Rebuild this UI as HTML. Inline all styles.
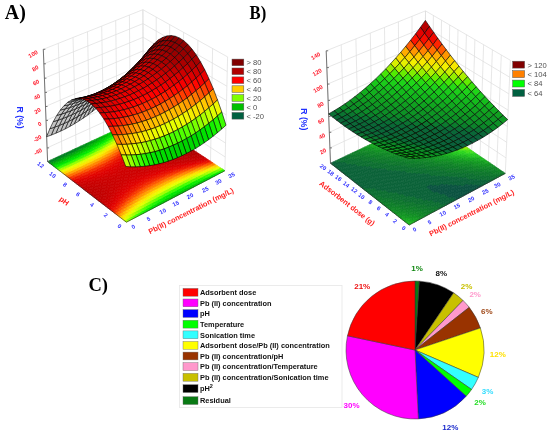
<!DOCTYPE html><html><head><meta charset="utf-8"><style>
html,body{margin:0;padding:0;background:#fff;}
svg{display:block;filter:blur(0.45px)}
</style></head><body>
<svg width="550" height="434" viewBox="0 0 550 434">
<rect width="550" height="434" fill="#fff"/>
<path d="M47.6 161.5L43.3 49.3M62 154.8L58.3 43.4M76.1 148.3L73 37.5M90 141.8L87.5 31.8M103.7 135.5L101.7 26.1M117.2 129.3L115.7 20.6M130.4 123.1L129.4 15.1M143.4 117.1L142.9 9.7M224.9 170.7L227.6 56.9M210.5 161.2L212.6 48.5M196.4 152L197.9 40.4M182.6 142.9L183.6 32.4M169.3 134.1L169.7 24.7M156.2 125.5L156.2 17.1M143.4 117.1L142.9 9.7M47.6 161.5L143.4 117.1L224.9 170.7M47.1 147.9L143.4 104.1L225.2 157M46.5 134.3L143.3 91L225.6 143.1M46 120.4L143.2 77.7L225.9 129.1M45.5 106.5L143.2 64.4L226.2 114.9M45 92.4L143.1 50.9L226.6 100.7M44.4 78.2L143.1 37.3L226.9 86.2M43.9 63.8L143 23.6L227.3 71.6M43.3 49.3L142.9 9.7L227.6 56.9" fill="none" stroke="#dcdcdc" stroke-width="0.7"/>
<g><path d="M126.4 222.2L129.3 220.7L126.9 218.9L124 220.4Z" fill="#a8ff00" stroke="#a8ff00" stroke-width="0.6"/><path d="M124 220.4L126.9 218.9L124.6 217.1L121.7 218.6Z" fill="#ecf900" stroke="#ecf900" stroke-width="0.6"/><path d="M121.7 218.6L124.6 217.1L122.2 215.3L119.3 216.8Z" fill="#ffd500" stroke="#ffd500" stroke-width="0.6"/><path d="M119.3 216.8L122.2 215.3L119.9 213.5L117 215Z" fill="#ff9a00" stroke="#ff9a00" stroke-width="0.6"/><path d="M117 215L119.9 213.5L117.6 211.7L114.7 213.2Z" fill="#ff6400" stroke="#ff6400" stroke-width="0.6"/><path d="M114.7 213.2L117.6 211.7L115.2 210L112.4 211.4Z" fill="#f43300" stroke="#f43300" stroke-width="0.6"/><path d="M112.4 211.4L115.2 210L112.9 208.2L110.1 209.7Z" fill="#e91300" stroke="#e91300" stroke-width="0.6"/><path d="M110.1 209.7L112.9 208.2L110.6 206.4L107.8 207.9Z" fill="#df0000" stroke="#df0000" stroke-width="0.6"/><path d="M107.8 207.9L110.6 206.4L108.4 204.7L105.5 206.1Z" fill="#d40000" stroke="#d40000" stroke-width="0.6"/><path d="M105.5 206.1L108.4 204.7L106.1 202.9L103.2 204.4Z" fill="#cb0000" stroke="#cb0000" stroke-width="0.6"/><path d="M103.2 204.4L106.1 202.9L103.8 201.2L101 202.7Z" fill="#c60000" stroke="#c60000" stroke-width="0.6"/><path d="M101 202.7L103.8 201.2L101.6 199.5L98.7 200.9Z" fill="#c20000" stroke="#c20000" stroke-width="0.6"/><path d="M98.7 200.9L101.6 199.5L99.3 197.8L96.5 199.2Z" fill="#bf0000" stroke="#bf0000" stroke-width="0.6"/><path d="M96.5 199.2L99.3 197.8L97.1 196L94.2 197.5Z" fill="#bd0000" stroke="#bd0000" stroke-width="0.6"/><path d="M94.2 197.5L97.1 196L94.9 194.3L92 195.8Z" fill="#bc0000" stroke="#bc0000" stroke-width="0.6"/><path d="M92 195.8L94.9 194.3L92.7 192.6L89.8 194.1Z" fill="#bb0000" stroke="#bb0000" stroke-width="0.6"/><path d="M89.8 194.1L92.7 192.6L90.5 191L87.6 192.4Z" fill="#bc0000" stroke="#bc0000" stroke-width="0.6"/><path d="M87.6 192.4L90.5 191L88.3 189.3L85.4 190.7Z" fill="#bd0000" stroke="#bd0000" stroke-width="0.6"/><path d="M85.4 190.7L88.3 189.3L86.1 187.6L83.2 189Z" fill="#bf0000" stroke="#bf0000" stroke-width="0.6"/><path d="M83.2 189L86.1 187.6L83.9 185.9L81.1 187.3Z" fill="#c20000" stroke="#c20000" stroke-width="0.6"/><path d="M81.1 187.3L83.9 185.9L81.8 184.3L78.9 185.7Z" fill="#c60000" stroke="#c60000" stroke-width="0.6"/><path d="M78.9 185.7L81.8 184.3L79.6 182.6L76.8 184Z" fill="#cb0000" stroke="#cb0000" stroke-width="0.6"/><path d="M76.8 184L79.6 182.6L77.5 181L74.6 182.3Z" fill="#d40000" stroke="#d40000" stroke-width="0.6"/><path d="M74.6 182.3L77.5 181L75.3 179.3L72.5 180.7Z" fill="#df0000" stroke="#df0000" stroke-width="0.6"/><path d="M72.5 180.7L75.3 179.3L73.2 177.7L70.4 179.1Z" fill="#e91200" stroke="#e91200" stroke-width="0.6"/><path d="M70.4 179.1L73.2 177.7L71.1 176.1L68.2 177.4Z" fill="#f43000" stroke="#f43000" stroke-width="0.6"/><path d="M68.2 177.4L71.1 176.1L69 174.4L66.1 175.8Z" fill="#ff6100" stroke="#ff6100" stroke-width="0.6"/><path d="M66.1 175.8L69 174.4L66.9 172.8L64 174.2Z" fill="#ff9700" stroke="#ff9700" stroke-width="0.6"/><path d="M64 174.2L66.9 172.8L64.8 171.2L62 172.6Z" fill="#ffd100" stroke="#ffd100" stroke-width="0.6"/><path d="M62 172.6L64.8 171.2L62.7 169.6L59.9 171Z" fill="#eef700" stroke="#eef700" stroke-width="0.6"/><path d="M59.9 171L62.7 169.6L60.6 168L57.8 169.4Z" fill="#adff00" stroke="#adff00" stroke-width="0.6"/><path d="M57.8 169.4L60.6 168L58.6 166.5L55.7 167.8Z" fill="#45ff00" stroke="#45ff00" stroke-width="0.6"/><path d="M55.7 167.8L58.6 166.5L56.5 164.9L53.7 166.2Z" fill="#00e800" stroke="#00e800" stroke-width="0.6"/><path d="M53.7 166.2L56.5 164.9L54.5 163.3L51.6 164.6Z" fill="#00c900" stroke="#00c900" stroke-width="0.6"/><path d="M51.6 164.6L54.5 163.3L52.4 161.8L49.6 163.1Z" fill="#00a70c" stroke="#00a70c" stroke-width="0.6"/><path d="M49.6 163.1L52.4 161.8L50.4 160.2L47.6 161.5Z" fill="#00831f" stroke="#00831f" stroke-width="0.6"/><path d="M129.3 220.7L132.2 219.2L129.8 217.4L126.9 218.9Z" fill="#89ff00" stroke="#89ff00" stroke-width="0.6"/><path d="M126.9 218.9L129.8 217.4L127.4 215.6L124.6 217.1Z" fill="#dcff00" stroke="#dcff00" stroke-width="0.6"/><path d="M124.6 217.1L127.4 215.6L125.1 213.8L122.2 215.3Z" fill="#fbe500" stroke="#fbe500" stroke-width="0.6"/><path d="M122.2 215.3L125.1 213.8L122.8 212L119.9 213.5Z" fill="#ffaf00" stroke="#ffaf00" stroke-width="0.6"/><path d="M119.9 213.5L122.8 212L120.4 210.3L117.6 211.7Z" fill="#ff7800" stroke="#ff7800" stroke-width="0.6"/><path d="M117.6 211.7L120.4 210.3L118.1 208.5L115.2 210Z" fill="#f94600" stroke="#f94600" stroke-width="0.6"/><path d="M115.2 210L118.1 208.5L115.8 206.7L112.9 208.2Z" fill="#ee1d00" stroke="#ee1d00" stroke-width="0.6"/><path d="M112.9 208.2L115.8 206.7L113.5 205L110.6 206.4Z" fill="#e40800" stroke="#e40800" stroke-width="0.6"/><path d="M110.6 206.4L113.5 205L111.2 203.2L108.4 204.7Z" fill="#da0000" stroke="#da0000" stroke-width="0.6"/><path d="M108.4 204.7L111.2 203.2L109 201.5L106.1 202.9Z" fill="#d00000" stroke="#d00000" stroke-width="0.6"/><path d="M106.1 202.9L109 201.5L106.7 199.8L103.8 201.2Z" fill="#ca0000" stroke="#ca0000" stroke-width="0.6"/><path d="M103.8 201.2L106.7 199.8L104.5 198L101.6 199.5Z" fill="#c50000" stroke="#c50000" stroke-width="0.6"/><path d="M101.6 199.5L104.5 198L102.2 196.3L99.3 197.8Z" fill="#c20000" stroke="#c20000" stroke-width="0.6"/><path d="M99.3 197.8L102.2 196.3L100 194.6L97.1 196Z" fill="#c00000" stroke="#c00000" stroke-width="0.6"/><path d="M97.1 196L100 194.6L97.7 192.9L94.9 194.3Z" fill="#be0000" stroke="#be0000" stroke-width="0.6"/><path d="M94.9 194.3L97.7 192.9L95.5 191.2L92.7 192.6Z" fill="#be0000" stroke="#be0000" stroke-width="0.6"/><path d="M92.7 192.6L95.5 191.2L93.3 189.5L90.5 191Z" fill="#be0000" stroke="#be0000" stroke-width="0.6"/><path d="M90.5 191L93.3 189.5L91.1 187.9L88.3 189.3Z" fill="#bf0000" stroke="#bf0000" stroke-width="0.6"/><path d="M88.3 189.3L91.1 187.9L89 186.2L86.1 187.6Z" fill="#c20000" stroke="#c20000" stroke-width="0.6"/><path d="M86.1 187.6L89 186.2L86.8 184.5L83.9 185.9Z" fill="#c40000" stroke="#c40000" stroke-width="0.6"/><path d="M83.9 185.9L86.8 184.5L84.6 182.9L81.8 184.3Z" fill="#c80000" stroke="#c80000" stroke-width="0.6"/><path d="M81.8 184.3L84.6 182.9L82.5 181.2L79.6 182.6Z" fill="#ce0000" stroke="#ce0000" stroke-width="0.6"/><path d="M79.6 182.6L82.5 181.2L80.3 179.6L77.5 181Z" fill="#d70000" stroke="#d70000" stroke-width="0.6"/><path d="M77.5 181L80.3 179.6L78.2 178L75.3 179.3Z" fill="#e10300" stroke="#e10300" stroke-width="0.6"/><path d="M75.3 179.3L78.2 178L76 176.3L73.2 177.7Z" fill="#eb1700" stroke="#eb1700" stroke-width="0.6"/><path d="M73.2 177.7L76 176.3L73.9 174.7L71.1 176.1Z" fill="#f63900" stroke="#f63900" stroke-width="0.6"/><path d="M71.1 176.1L73.9 174.7L71.8 173.1L69 174.4Z" fill="#ff6a00" stroke="#ff6a00" stroke-width="0.6"/><path d="M69 174.4L71.8 173.1L69.7 171.5L66.9 172.8Z" fill="#ff9f00" stroke="#ff9f00" stroke-width="0.6"/><path d="M66.9 172.8L69.7 171.5L67.6 169.9L64.8 171.2Z" fill="#ffd900" stroke="#ffd900" stroke-width="0.6"/><path d="M64.8 171.2L67.6 169.9L65.5 168.3L62.7 169.6Z" fill="#ebfb00" stroke="#ebfb00" stroke-width="0.6"/><path d="M62.7 169.6L65.5 168.3L63.5 166.7L60.6 168Z" fill="#a5ff00" stroke="#a5ff00" stroke-width="0.6"/><path d="M60.6 168L63.5 166.7L61.4 165.1L58.6 166.5Z" fill="#3dfe00" stroke="#3dfe00" stroke-width="0.6"/><path d="M58.6 166.5L61.4 165.1L59.3 163.6L56.5 164.9Z" fill="#00e600" stroke="#00e600" stroke-width="0.6"/><path d="M56.5 164.9L59.3 163.6L57.3 162L54.5 163.3Z" fill="#00c700" stroke="#00c700" stroke-width="0.6"/><path d="M54.5 163.3L57.3 162L55.2 160.4L52.4 161.8Z" fill="#00a50d" stroke="#00a50d" stroke-width="0.6"/><path d="M52.4 161.8L55.2 160.4L53.2 158.9L50.4 160.2Z" fill="#00811f" stroke="#00811f" stroke-width="0.6"/><path d="M132.2 219.2L135.1 217.7L132.7 215.9L129.8 217.4Z" fill="#69ff00" stroke="#69ff00" stroke-width="0.6"/><path d="M129.8 217.4L132.7 215.9L130.3 214.1L127.4 215.6Z" fill="#c5ff00" stroke="#c5ff00" stroke-width="0.6"/><path d="M127.4 215.6L130.3 214.1L128 212.3L125.1 213.8Z" fill="#f4ef00" stroke="#f4ef00" stroke-width="0.6"/><path d="M125.1 213.8L128 212.3L125.6 210.5L122.8 212Z" fill="#ffc300" stroke="#ffc300" stroke-width="0.6"/><path d="M122.8 212L125.6 210.5L123.3 208.8L120.4 210.3Z" fill="#ff8c00" stroke="#ff8c00" stroke-width="0.6"/><path d="M120.4 210.3L123.3 208.8L121 207L118.1 208.5Z" fill="#fd5900" stroke="#fd5900" stroke-width="0.6"/><path d="M118.1 208.5L121 207L118.7 205.3L115.8 206.7Z" fill="#f32b00" stroke="#f32b00" stroke-width="0.6"/><path d="M115.8 206.7L118.7 205.3L116.4 203.5L113.5 205Z" fill="#e91100" stroke="#e91100" stroke-width="0.6"/><path d="M113.5 205L116.4 203.5L114.1 201.8L111.2 203.2Z" fill="#df0000" stroke="#df0000" stroke-width="0.6"/><path d="M111.2 203.2L114.1 201.8L111.8 200L109 201.5Z" fill="#d50000" stroke="#d50000" stroke-width="0.6"/><path d="M109 201.5L111.8 200L109.6 198.3L106.7 199.8Z" fill="#cd0000" stroke="#cd0000" stroke-width="0.6"/><path d="M106.7 199.8L109.6 198.3L107.3 196.6L104.5 198Z" fill="#c80000" stroke="#c80000" stroke-width="0.6"/><path d="M104.5 198L107.3 196.6L105.1 194.9L102.2 196.3Z" fill="#c50000" stroke="#c50000" stroke-width="0.6"/><path d="M102.2 196.3L105.1 194.9L102.8 193.2L100 194.6Z" fill="#c30000" stroke="#c30000" stroke-width="0.6"/><path d="M100 194.6L102.8 193.2L100.6 191.5L97.7 192.9Z" fill="#c10000" stroke="#c10000" stroke-width="0.6"/><path d="M97.7 192.9L100.6 191.5L98.4 189.8L95.5 191.2Z" fill="#c00000" stroke="#c00000" stroke-width="0.6"/><path d="M95.5 191.2L98.4 189.8L96.2 188.1L93.3 189.5Z" fill="#c10000" stroke="#c10000" stroke-width="0.6"/><path d="M93.3 189.5L96.2 188.1L94 186.5L91.1 187.9Z" fill="#c20000" stroke="#c20000" stroke-width="0.6"/><path d="M91.1 187.9L94 186.5L91.8 184.8L89 186.2Z" fill="#c40000" stroke="#c40000" stroke-width="0.6"/><path d="M89 186.2L91.8 184.8L89.6 183.2L86.8 184.5Z" fill="#c70000" stroke="#c70000" stroke-width="0.6"/><path d="M86.8 184.5L89.6 183.2L87.4 181.5L84.6 182.9Z" fill="#ca0000" stroke="#ca0000" stroke-width="0.6"/><path d="M84.6 182.9L87.4 181.5L85.3 179.9L82.5 181.2Z" fill="#d10000" stroke="#d10000" stroke-width="0.6"/><path d="M82.5 181.2L85.3 179.9L83.1 178.2L80.3 179.6Z" fill="#da0000" stroke="#da0000" stroke-width="0.6"/><path d="M80.3 179.6L83.1 178.2L81 176.6L78.2 178Z" fill="#e40800" stroke="#e40800" stroke-width="0.6"/><path d="M78.2 178L81 176.6L78.9 175L76 176.3Z" fill="#ed1b00" stroke="#ed1b00" stroke-width="0.6"/><path d="M76 176.3L78.9 175L76.7 173.4L73.9 174.7Z" fill="#f84100" stroke="#f84100" stroke-width="0.6"/><path d="M73.9 174.7L76.7 173.4L74.6 171.8L71.8 173.1Z" fill="#ff7100" stroke="#ff7100" stroke-width="0.6"/><path d="M71.8 173.1L74.6 171.8L72.5 170.2L69.7 171.5Z" fill="#ffa600" stroke="#ffa600" stroke-width="0.6"/><path d="M69.7 171.5L72.5 170.2L70.4 168.6L67.6 169.9Z" fill="#ffe000" stroke="#ffe000" stroke-width="0.6"/><path d="M67.6 169.9L70.4 168.6L68.3 167L65.5 168.3Z" fill="#e9fe00" stroke="#e9fe00" stroke-width="0.6"/><path d="M65.5 168.3L68.3 167L66.3 165.4L63.5 166.7Z" fill="#9fff00" stroke="#9fff00" stroke-width="0.6"/><path d="M63.5 166.7L66.3 165.4L64.2 163.8L61.4 165.1Z" fill="#39fc00" stroke="#39fc00" stroke-width="0.6"/><path d="M61.4 165.1L64.2 163.8L62.1 162.3L59.3 163.6Z" fill="#00e400" stroke="#00e400" stroke-width="0.6"/><path d="M59.3 163.6L62.1 162.3L60.1 160.7L57.3 162Z" fill="#00c600" stroke="#00c600" stroke-width="0.6"/><path d="M57.3 162L60.1 160.7L58 159.1L55.2 160.4Z" fill="#00a40e" stroke="#00a40e" stroke-width="0.6"/><path d="M55.2 160.4L58 159.1L56 157.6L53.2 158.9Z" fill="#008020" stroke="#008020" stroke-width="0.6"/><path d="M135.1 217.7L137.9 216.2L135.6 214.4L132.7 215.9Z" fill="#4bff00" stroke="#4bff00" stroke-width="0.6"/><path d="M132.7 215.9L135.6 214.4L133.2 212.6L130.3 214.1Z" fill="#afff00" stroke="#afff00" stroke-width="0.6"/><path d="M130.3 214.1L133.2 212.6L130.8 210.8L128 212.3Z" fill="#edf800" stroke="#edf800" stroke-width="0.6"/><path d="M128 212.3L130.8 210.8L128.5 209.1L125.6 210.5Z" fill="#ffd500" stroke="#ffd500" stroke-width="0.6"/><path d="M125.6 210.5L128.5 209.1L126.2 207.3L123.3 208.8Z" fill="#ff9e00" stroke="#ff9e00" stroke-width="0.6"/><path d="M123.3 208.8L126.2 207.3L123.9 205.6L121 207Z" fill="#ff6b00" stroke="#ff6b00" stroke-width="0.6"/><path d="M121 207L123.9 205.6L121.5 203.8L118.7 205.3Z" fill="#f73c00" stroke="#f73c00" stroke-width="0.6"/><path d="M118.7 205.3L121.5 203.8L119.2 202.1L116.4 203.5Z" fill="#ed1900" stroke="#ed1900" stroke-width="0.6"/><path d="M116.4 203.5L119.2 202.1L117 200.3L114.1 201.8Z" fill="#e30700" stroke="#e30700" stroke-width="0.6"/><path d="M114.1 201.8L117 200.3L114.7 198.6L111.8 200Z" fill="#da0000" stroke="#da0000" stroke-width="0.6"/><path d="M111.8 200L114.7 198.6L112.4 196.9L109.6 198.3Z" fill="#d20000" stroke="#d20000" stroke-width="0.6"/><path d="M109.6 198.3L112.4 196.9L110.2 195.2L107.3 196.6Z" fill="#cb0000" stroke="#cb0000" stroke-width="0.6"/><path d="M107.3 196.6L110.2 195.2L107.9 193.5L105.1 194.9Z" fill="#c80000" stroke="#c80000" stroke-width="0.6"/><path d="M105.1 194.9L107.9 193.5L105.7 191.8L102.8 193.2Z" fill="#c50000" stroke="#c50000" stroke-width="0.6"/><path d="M102.8 193.2L105.7 191.8L103.4 190.1L100.6 191.5Z" fill="#c40000" stroke="#c40000" stroke-width="0.6"/><path d="M100.6 191.5L103.4 190.1L101.2 188.4L98.4 189.8Z" fill="#c30000" stroke="#c30000" stroke-width="0.6"/><path d="M98.4 189.8L101.2 188.4L99 186.7L96.2 188.1Z" fill="#c30000" stroke="#c30000" stroke-width="0.6"/><path d="M96.2 188.1L99 186.7L96.8 185.1L94 186.5Z" fill="#c40000" stroke="#c40000" stroke-width="0.6"/><path d="M94 186.5L96.8 185.1L94.6 183.4L91.8 184.8Z" fill="#c60000" stroke="#c60000" stroke-width="0.6"/><path d="M91.8 184.8L94.6 183.4L92.4 181.8L89.6 183.2Z" fill="#c90000" stroke="#c90000" stroke-width="0.6"/><path d="M89.6 183.2L92.4 181.8L90.3 180.1L87.4 181.5Z" fill="#cc0000" stroke="#cc0000" stroke-width="0.6"/><path d="M87.4 181.5L90.3 180.1L88.1 178.5L85.3 179.9Z" fill="#d40000" stroke="#d40000" stroke-width="0.6"/><path d="M85.3 179.9L88.1 178.5L86 176.9L83.1 178.2Z" fill="#dd0000" stroke="#dd0000" stroke-width="0.6"/><path d="M83.1 178.2L86 176.9L83.8 175.2L81 176.6Z" fill="#e60c00" stroke="#e60c00" stroke-width="0.6"/><path d="M81 176.6L83.8 175.2L81.7 173.6L78.9 175Z" fill="#ef1f00" stroke="#ef1f00" stroke-width="0.6"/><path d="M78.9 175L81.7 173.6L79.6 172L76.7 173.4Z" fill="#f94800" stroke="#f94800" stroke-width="0.6"/><path d="M76.7 173.4L79.6 172L77.4 170.4L74.6 171.8Z" fill="#ff7800" stroke="#ff7800" stroke-width="0.6"/><path d="M74.6 171.8L77.4 170.4L75.3 168.8L72.5 170.2Z" fill="#ffac00" stroke="#ffac00" stroke-width="0.6"/><path d="M72.5 170.2L75.3 168.8L73.2 167.2L70.4 168.6Z" fill="#fde300" stroke="#fde300" stroke-width="0.6"/><path d="M70.4 168.6L73.2 167.2L71.1 165.7L68.3 167Z" fill="#e5ff00" stroke="#e5ff00" stroke-width="0.6"/><path d="M68.3 167L71.1 165.7L69.1 164.1L66.3 165.4Z" fill="#98ff00" stroke="#98ff00" stroke-width="0.6"/><path d="M66.3 165.4L69.1 164.1L67 162.5L64.2 163.8Z" fill="#35fb00" stroke="#35fb00" stroke-width="0.6"/><path d="M64.2 163.8L67 162.5L64.9 160.9L62.1 162.3Z" fill="#00e300" stroke="#00e300" stroke-width="0.6"/><path d="M62.1 162.3L64.9 160.9L62.9 159.4L60.1 160.7Z" fill="#00c500" stroke="#00c500" stroke-width="0.6"/><path d="M60.1 160.7L62.9 159.4L60.8 157.8L58 159.1Z" fill="#00a30e" stroke="#00a30e" stroke-width="0.6"/><path d="M58 159.1L60.8 157.8L58.8 156.3L56 157.6Z" fill="#008020" stroke="#008020" stroke-width="0.6"/><path d="M137.9 216.2L140.8 214.7L138.4 212.9L135.6 214.4Z" fill="#36fb00" stroke="#36fb00" stroke-width="0.6"/><path d="M135.6 214.4L138.4 212.9L136.1 211.1L133.2 212.6Z" fill="#98ff00" stroke="#98ff00" stroke-width="0.6"/><path d="M133.2 212.6L136.1 211.1L133.7 209.4L130.8 210.8Z" fill="#e4ff00" stroke="#e4ff00" stroke-width="0.6"/><path d="M130.8 210.8L133.7 209.4L131.4 207.6L128.5 209.1Z" fill="#fde300" stroke="#fde300" stroke-width="0.6"/><path d="M128.5 209.1L131.4 207.6L129 205.8L126.2 207.3Z" fill="#ffaf00" stroke="#ffaf00" stroke-width="0.6"/><path d="M126.2 207.3L129 205.8L126.7 204.1L123.9 205.6Z" fill="#ff7b00" stroke="#ff7b00" stroke-width="0.6"/><path d="M123.9 205.6L126.7 204.1L124.4 202.4L121.5 203.8Z" fill="#fa4c00" stroke="#fa4c00" stroke-width="0.6"/><path d="M121.5 203.8L124.4 202.4L122.1 200.6L119.2 202.1Z" fill="#f02200" stroke="#f02200" stroke-width="0.6"/><path d="M119.2 202.1L122.1 200.6L119.8 198.9L117 200.3Z" fill="#e70e00" stroke="#e70e00" stroke-width="0.6"/><path d="M117 200.3L119.8 198.9L117.5 197.2L114.7 198.6Z" fill="#df0000" stroke="#df0000" stroke-width="0.6"/><path d="M114.7 198.6L117.5 197.2L115.3 195.5L112.4 196.9Z" fill="#d60000" stroke="#d60000" stroke-width="0.6"/><path d="M112.4 196.9L115.3 195.5L113 193.8L110.2 195.2Z" fill="#cf0000" stroke="#cf0000" stroke-width="0.6"/><path d="M110.2 195.2L113 193.8L110.7 192.1L107.9 193.5Z" fill="#ca0000" stroke="#ca0000" stroke-width="0.6"/><path d="M107.9 193.5L110.7 192.1L108.5 190.4L105.7 191.8Z" fill="#c70000" stroke="#c70000" stroke-width="0.6"/><path d="M105.7 191.8L108.5 190.4L106.3 188.7L103.4 190.1Z" fill="#c60000" stroke="#c60000" stroke-width="0.6"/><path d="M103.4 190.1L106.3 188.7L104 187L101.2 188.4Z" fill="#c50000" stroke="#c50000" stroke-width="0.6"/><path d="M101.2 188.4L104 187L101.8 185.4L99 186.7Z" fill="#c50000" stroke="#c50000" stroke-width="0.6"/><path d="M99 186.7L101.8 185.4L99.6 183.7L96.8 185.1Z" fill="#c60000" stroke="#c60000" stroke-width="0.6"/><path d="M96.8 185.1L99.6 183.7L97.4 182L94.6 183.4Z" fill="#c80000" stroke="#c80000" stroke-width="0.6"/><path d="M94.6 183.4L97.4 182L95.3 180.4L92.4 181.8Z" fill="#ca0000" stroke="#ca0000" stroke-width="0.6"/><path d="M92.4 181.8L95.3 180.4L93.1 178.8L90.3 180.1Z" fill="#cf0000" stroke="#cf0000" stroke-width="0.6"/><path d="M90.3 180.1L93.1 178.8L90.9 177.1L88.1 178.5Z" fill="#d60000" stroke="#d60000" stroke-width="0.6"/><path d="M88.1 178.5L90.9 177.1L88.8 175.5L86 176.9Z" fill="#df0000" stroke="#df0000" stroke-width="0.6"/><path d="M86 176.9L88.8 175.5L86.6 173.9L83.8 175.2Z" fill="#e80f00" stroke="#e80f00" stroke-width="0.6"/><path d="M83.8 175.2L86.6 173.9L84.5 172.3L81.7 173.6Z" fill="#f12400" stroke="#f12400" stroke-width="0.6"/><path d="M81.7 173.6L84.5 172.3L82.4 170.7L79.6 172Z" fill="#fb4e00" stroke="#fb4e00" stroke-width="0.6"/><path d="M79.6 172L82.4 170.7L80.2 169.1L77.4 170.4Z" fill="#ff7d00" stroke="#ff7d00" stroke-width="0.6"/><path d="M77.4 170.4L80.2 169.1L78.1 167.5L75.3 168.8Z" fill="#ffb100" stroke="#ffb100" stroke-width="0.6"/><path d="M75.3 168.8L78.1 167.5L76 165.9L73.2 167.2Z" fill="#fce500" stroke="#fce500" stroke-width="0.6"/><path d="M73.2 167.2L76 165.9L73.9 164.3L71.1 165.7Z" fill="#e0ff00" stroke="#e0ff00" stroke-width="0.6"/><path d="M71.1 165.7L73.9 164.3L71.9 162.8L69.1 164.1Z" fill="#93ff00" stroke="#93ff00" stroke-width="0.6"/><path d="M69.1 164.1L71.9 162.8L69.8 161.2L67 162.5Z" fill="#33fa00" stroke="#33fa00" stroke-width="0.6"/><path d="M67 162.5L69.8 161.2L67.7 159.6L64.9 160.9Z" fill="#00e200" stroke="#00e200" stroke-width="0.6"/><path d="M64.9 160.9L67.7 159.6L65.7 158.1L62.9 159.4Z" fill="#00c400" stroke="#00c400" stroke-width="0.6"/><path d="M62.9 159.4L65.7 158.1L63.6 156.6L60.8 157.8Z" fill="#00a30f" stroke="#00a30f" stroke-width="0.6"/><path d="M60.8 157.8L63.6 156.6L61.6 155L58.8 156.3Z" fill="#008020" stroke="#008020" stroke-width="0.6"/><path d="M140.8 214.7L143.7 213.2L141.3 211.4L138.4 212.9Z" fill="#27f600" stroke="#27f600" stroke-width="0.6"/><path d="M138.4 212.9L141.3 211.4L138.9 209.7L136.1 211.1Z" fill="#7eff00" stroke="#7eff00" stroke-width="0.6"/><path d="M136.1 211.1L138.9 209.7L136.6 207.9L133.7 209.4Z" fill="#d1ff00" stroke="#d1ff00" stroke-width="0.6"/><path d="M133.7 209.4L136.6 207.9L134.2 206.1L131.4 207.6Z" fill="#f7eb00" stroke="#f7eb00" stroke-width="0.6"/><path d="M131.4 207.6L134.2 206.1L131.9 204.4L129 205.8Z" fill="#ffbe00" stroke="#ffbe00" stroke-width="0.6"/><path d="M129 205.8L131.9 204.4L129.6 202.6L126.7 204.1Z" fill="#ff8a00" stroke="#ff8a00" stroke-width="0.6"/><path d="M126.7 204.1L129.6 202.6L127.2 200.9L124.4 202.4Z" fill="#fe5b00" stroke="#fe5b00" stroke-width="0.6"/><path d="M124.4 202.4L127.2 200.9L124.9 199.2L122.1 200.6Z" fill="#f43000" stroke="#f43000" stroke-width="0.6"/><path d="M122.1 200.6L124.9 199.2L122.6 197.5L119.8 198.9Z" fill="#eb1500" stroke="#eb1500" stroke-width="0.6"/><path d="M119.8 198.9L122.6 197.5L120.4 195.7L117.5 197.2Z" fill="#e20400" stroke="#e20400" stroke-width="0.6"/><path d="M117.5 197.2L120.4 195.7L118.1 194L115.3 195.5Z" fill="#da0000" stroke="#da0000" stroke-width="0.6"/><path d="M115.3 195.5L118.1 194L115.8 192.3L113 193.8Z" fill="#d20000" stroke="#d20000" stroke-width="0.6"/><path d="M113 193.8L115.8 192.3L113.6 190.7L110.7 192.1Z" fill="#cc0000" stroke="#cc0000" stroke-width="0.6"/><path d="M110.7 192.1L113.6 190.7L111.3 189L108.5 190.4Z" fill="#ca0000" stroke="#ca0000" stroke-width="0.6"/><path d="M108.5 190.4L111.3 189L109.1 187.3L106.3 188.7Z" fill="#c80000" stroke="#c80000" stroke-width="0.6"/><path d="M106.3 188.7L109.1 187.3L106.9 185.6L104 187Z" fill="#c70000" stroke="#c70000" stroke-width="0.6"/><path d="M104 187L106.9 185.6L104.7 184L101.8 185.4Z" fill="#c70000" stroke="#c70000" stroke-width="0.6"/><path d="M101.8 185.4L104.7 184L102.4 182.3L99.6 183.7Z" fill="#c70000" stroke="#c70000" stroke-width="0.6"/><path d="M99.6 183.7L102.4 182.3L100.3 180.7L97.4 182Z" fill="#c90000" stroke="#c90000" stroke-width="0.6"/><path d="M97.4 182L100.3 180.7L98.1 179L95.3 180.4Z" fill="#cc0000" stroke="#cc0000" stroke-width="0.6"/><path d="M95.3 180.4L98.1 179L95.9 177.4L93.1 178.8Z" fill="#d10000" stroke="#d10000" stroke-width="0.6"/><path d="M93.1 178.8L95.9 177.4L93.7 175.8L90.9 177.1Z" fill="#d80000" stroke="#d80000" stroke-width="0.6"/><path d="M90.9 177.1L93.7 175.8L91.6 174.2L88.8 175.5Z" fill="#e10200" stroke="#e10200" stroke-width="0.6"/><path d="M88.8 175.5L91.6 174.2L89.4 172.5L86.6 173.9Z" fill="#e91200" stroke="#e91200" stroke-width="0.6"/><path d="M86.6 173.9L89.4 172.5L87.3 170.9L84.5 172.3Z" fill="#f22900" stroke="#f22900" stroke-width="0.6"/><path d="M84.5 172.3L87.3 170.9L85.1 169.3L82.4 170.7Z" fill="#fc5300" stroke="#fc5300" stroke-width="0.6"/><path d="M82.4 170.7L85.1 169.3L83 167.7L80.2 169.1Z" fill="#ff8200" stroke="#ff8200" stroke-width="0.6"/><path d="M80.2 169.1L83 167.7L80.9 166.2L78.1 167.5Z" fill="#ffb500" stroke="#ffb500" stroke-width="0.6"/><path d="M78.1 167.5L80.9 166.2L78.8 164.6L76 165.9Z" fill="#fae600" stroke="#fae600" stroke-width="0.6"/><path d="M76 165.9L78.8 164.6L76.7 163L73.9 164.3Z" fill="#ddff00" stroke="#ddff00" stroke-width="0.6"/><path d="M73.9 164.3L76.7 163L74.6 161.5L71.9 162.8Z" fill="#90ff00" stroke="#90ff00" stroke-width="0.6"/><path d="M71.9 162.8L74.6 161.5L72.6 159.9L69.8 161.2Z" fill="#32fa00" stroke="#32fa00" stroke-width="0.6"/><path d="M69.8 161.2L72.6 159.9L70.5 158.3L67.7 159.6Z" fill="#00e200" stroke="#00e200" stroke-width="0.6"/><path d="M67.7 159.6L70.5 158.3L68.4 156.8L65.7 158.1Z" fill="#00c400" stroke="#00c400" stroke-width="0.6"/><path d="M65.7 158.1L68.4 156.8L66.4 155.3L63.6 156.6Z" fill="#00a30f" stroke="#00a30f" stroke-width="0.6"/><path d="M63.6 156.6L66.4 155.3L64.3 153.7L61.6 155Z" fill="#008020" stroke="#008020" stroke-width="0.6"/><path d="M143.7 213.2L146.5 211.7L144.1 210L141.3 211.4Z" fill="#18f100" stroke="#18f100" stroke-width="0.6"/><path d="M141.3 211.4L144.1 210L141.8 208.2L138.9 209.7Z" fill="#66ff00" stroke="#66ff00" stroke-width="0.6"/><path d="M138.9 209.7L141.8 208.2L139.4 206.4L136.6 207.9Z" fill="#bfff00" stroke="#bfff00" stroke-width="0.6"/><path d="M136.6 207.9L139.4 206.4L137 204.7L134.2 206.1Z" fill="#f1f200" stroke="#f1f200" stroke-width="0.6"/><path d="M134.2 206.1L137 204.7L134.7 202.9L131.9 204.4Z" fill="#ffcd00" stroke="#ffcd00" stroke-width="0.6"/><path d="M131.9 204.4L134.7 202.9L132.4 201.2L129.6 202.6Z" fill="#ff9800" stroke="#ff9800" stroke-width="0.6"/><path d="M129.6 202.6L132.4 201.2L130.1 199.5L127.2 200.9Z" fill="#ff6800" stroke="#ff6800" stroke-width="0.6"/><path d="M127.2 200.9L130.1 199.5L127.8 197.7L124.9 199.2Z" fill="#f73d00" stroke="#f73d00" stroke-width="0.6"/><path d="M124.9 199.2L127.8 197.7L125.5 196L122.6 197.5Z" fill="#ee1b00" stroke="#ee1b00" stroke-width="0.6"/><path d="M122.6 197.5L125.5 196L123.2 194.3L120.4 195.7Z" fill="#e50a00" stroke="#e50a00" stroke-width="0.6"/><path d="M120.4 195.7L123.2 194.3L120.9 192.6L118.1 194Z" fill="#dd0000" stroke="#dd0000" stroke-width="0.6"/><path d="M118.1 194L120.9 192.6L118.6 190.9L115.8 192.3Z" fill="#d60000" stroke="#d60000" stroke-width="0.6"/><path d="M115.8 192.3L118.6 190.9L116.4 189.2L113.6 190.7Z" fill="#d00000" stroke="#d00000" stroke-width="0.6"/><path d="M113.6 190.7L116.4 189.2L114.1 187.6L111.3 189Z" fill="#cb0000" stroke="#cb0000" stroke-width="0.6"/><path d="M111.3 189L114.1 187.6L111.9 185.9L109.1 187.3Z" fill="#c90000" stroke="#c90000" stroke-width="0.6"/><path d="M109.1 187.3L111.9 185.9L109.7 184.2L106.9 185.6Z" fill="#c80000" stroke="#c80000" stroke-width="0.6"/><path d="M106.9 185.6L109.7 184.2L107.5 182.6L104.7 184Z" fill="#c80000" stroke="#c80000" stroke-width="0.6"/><path d="M104.7 184L107.5 182.6L105.2 180.9L102.4 182.3Z" fill="#c90000" stroke="#c90000" stroke-width="0.6"/><path d="M102.4 182.3L105.2 180.9L103.1 179.3L100.3 180.7Z" fill="#cb0000" stroke="#cb0000" stroke-width="0.6"/><path d="M100.3 180.7L103.1 179.3L100.9 177.7L98.1 179Z" fill="#ce0000" stroke="#ce0000" stroke-width="0.6"/><path d="M98.1 179L100.9 177.7L98.7 176L95.9 177.4Z" fill="#d30000" stroke="#d30000" stroke-width="0.6"/><path d="M95.9 177.4L98.7 176L96.5 174.4L93.7 175.8Z" fill="#da0000" stroke="#da0000" stroke-width="0.6"/><path d="M93.7 175.8L96.5 174.4L94.4 172.8L91.6 174.2Z" fill="#e20400" stroke="#e20400" stroke-width="0.6"/><path d="M91.6 174.2L94.4 172.8L92.2 171.2L89.4 172.5Z" fill="#ea1400" stroke="#ea1400" stroke-width="0.6"/><path d="M89.4 172.5L92.2 171.2L90.1 169.6L87.3 170.9Z" fill="#f32d00" stroke="#f32d00" stroke-width="0.6"/><path d="M87.3 170.9L90.1 169.6L87.9 168L85.1 169.3Z" fill="#fd5700" stroke="#fd5700" stroke-width="0.6"/><path d="M85.1 169.3L87.9 168L85.8 166.4L83 167.7Z" fill="#ff8500" stroke="#ff8500" stroke-width="0.6"/><path d="M83 167.7L85.8 166.4L83.7 164.8L80.9 166.2Z" fill="#ffb700" stroke="#ffb700" stroke-width="0.6"/><path d="M80.9 166.2L83.7 164.8L81.6 163.3L78.8 164.6Z" fill="#fae700" stroke="#fae700" stroke-width="0.6"/><path d="M78.8 164.6L81.6 163.3L79.5 161.7L76.7 163Z" fill="#dcff00" stroke="#dcff00" stroke-width="0.6"/><path d="M76.7 163L79.5 161.7L77.4 160.1L74.6 161.5Z" fill="#8eff00" stroke="#8eff00" stroke-width="0.6"/><path d="M74.6 161.5L77.4 160.1L75.3 158.6L72.6 159.9Z" fill="#31fa00" stroke="#31fa00" stroke-width="0.6"/><path d="M72.6 159.9L75.3 158.6L73.3 157.1L70.5 158.3Z" fill="#00e200" stroke="#00e200" stroke-width="0.6"/><path d="M70.5 158.3L73.3 157.1L71.2 155.5L68.4 156.8Z" fill="#00c400" stroke="#00c400" stroke-width="0.6"/><path d="M68.4 156.8L71.2 155.5L69.1 154L66.4 155.3Z" fill="#00a30f" stroke="#00a30f" stroke-width="0.6"/><path d="M66.4 155.3L69.1 154L67.1 152.5L64.3 153.7Z" fill="#008020" stroke="#008020" stroke-width="0.6"/><path d="M146.5 211.7L149.3 210.2L147 208.5L144.1 210Z" fill="#0bec00" stroke="#0bec00" stroke-width="0.6"/><path d="M144.1 210L147 208.5L144.6 206.7L141.8 208.2Z" fill="#4fff00" stroke="#4fff00" stroke-width="0.6"/><path d="M141.8 208.2L144.6 206.7L142.2 205L139.4 206.4Z" fill="#afff00" stroke="#afff00" stroke-width="0.6"/><path d="M139.4 206.4L142.2 205L139.9 203.2L137 204.7Z" fill="#ecf900" stroke="#ecf900" stroke-width="0.6"/><path d="M137 204.7L139.9 203.2L137.5 201.5L134.7 202.9Z" fill="#ffda00" stroke="#ffda00" stroke-width="0.6"/><path d="M134.7 202.9L137.5 201.5L135.2 199.7L132.4 201.2Z" fill="#ffa500" stroke="#ffa500" stroke-width="0.6"/><path d="M132.4 201.2L135.2 199.7L132.9 198L130.1 199.5Z" fill="#ff7500" stroke="#ff7500" stroke-width="0.6"/><path d="M130.1 199.5L132.9 198L130.6 196.3L127.8 197.7Z" fill="#fa4900" stroke="#fa4900" stroke-width="0.6"/><path d="M127.8 197.7L130.6 196.3L128.3 194.6L125.5 196Z" fill="#f02200" stroke="#f02200" stroke-width="0.6"/><path d="M125.5 196L128.3 194.6L126 192.9L123.2 194.3Z" fill="#e81000" stroke="#e81000" stroke-width="0.6"/><path d="M123.2 194.3L126 192.9L123.7 191.2L120.9 192.6Z" fill="#e10100" stroke="#e10100" stroke-width="0.6"/><path d="M120.9 192.6L123.7 191.2L121.4 189.5L118.6 190.9Z" fill="#d90000" stroke="#d90000" stroke-width="0.6"/><path d="M118.6 190.9L121.4 189.5L119.2 187.8L116.4 189.2Z" fill="#d30000" stroke="#d30000" stroke-width="0.6"/><path d="M116.4 189.2L119.2 187.8L116.9 186.2L114.1 187.6Z" fill="#ce0000" stroke="#ce0000" stroke-width="0.6"/><path d="M114.1 187.6L116.9 186.2L114.7 184.5L111.9 185.9Z" fill="#cb0000" stroke="#cb0000" stroke-width="0.6"/><path d="M111.9 185.9L114.7 184.5L112.5 182.9L109.7 184.2Z" fill="#ca0000" stroke="#ca0000" stroke-width="0.6"/><path d="M109.7 184.2L112.5 182.9L110.3 181.2L107.5 182.6Z" fill="#ca0000" stroke="#ca0000" stroke-width="0.6"/><path d="M107.5 182.6L110.3 181.2L108 179.6L105.2 180.9Z" fill="#ca0000" stroke="#ca0000" stroke-width="0.6"/><path d="M105.2 180.9L108 179.6L105.8 177.9L103.1 179.3Z" fill="#cc0000" stroke="#cc0000" stroke-width="0.6"/><path d="M103.1 179.3L105.8 177.9L103.7 176.3L100.9 177.7Z" fill="#cf0000" stroke="#cf0000" stroke-width="0.6"/><path d="M100.9 177.7L103.7 176.3L101.5 174.7L98.7 176Z" fill="#d50000" stroke="#d50000" stroke-width="0.6"/><path d="M98.7 176L101.5 174.7L99.3 173.1L96.5 174.4Z" fill="#dc0000" stroke="#dc0000" stroke-width="0.6"/><path d="M96.5 174.4L99.3 173.1L97.1 171.5L94.4 172.8Z" fill="#e30600" stroke="#e30600" stroke-width="0.6"/><path d="M94.4 172.8L97.1 171.5L95 169.9L92.2 171.2Z" fill="#eb1600" stroke="#eb1600" stroke-width="0.6"/><path d="M92.2 171.2L95 169.9L92.8 168.3L90.1 169.6Z" fill="#f43000" stroke="#f43000" stroke-width="0.6"/><path d="M90.1 169.6L92.8 168.3L90.7 166.7L87.9 168Z" fill="#fd5900" stroke="#fd5900" stroke-width="0.6"/><path d="M87.9 168L90.7 166.7L88.6 165.1L85.8 166.4Z" fill="#ff8700" stroke="#ff8700" stroke-width="0.6"/><path d="M85.8 166.4L88.6 165.1L86.5 163.5L83.7 164.8Z" fill="#ffb900" stroke="#ffb900" stroke-width="0.6"/><path d="M83.7 164.8L86.5 163.5L84.4 162L81.6 163.3Z" fill="#f9e800" stroke="#f9e800" stroke-width="0.6"/><path d="M81.6 163.3L84.4 162L82.3 160.4L79.5 161.7Z" fill="#dbff00" stroke="#dbff00" stroke-width="0.6"/><path d="M79.5 161.7L82.3 160.4L80.2 158.8L77.4 160.1Z" fill="#8fff00" stroke="#8fff00" stroke-width="0.6"/><path d="M77.4 160.1L80.2 158.8L78.1 157.3L75.3 158.6Z" fill="#32fa00" stroke="#32fa00" stroke-width="0.6"/><path d="M75.3 158.6L78.1 157.3L76 155.8L73.3 157.1Z" fill="#00e200" stroke="#00e200" stroke-width="0.6"/><path d="M73.3 157.1L76 155.8L74 154.2L71.2 155.5Z" fill="#00c500" stroke="#00c500" stroke-width="0.6"/><path d="M71.2 155.5L74 154.2L71.9 152.7L69.1 154Z" fill="#00a40e" stroke="#00a40e" stroke-width="0.6"/><path d="M69.1 154L71.9 152.7L69.9 151.2L67.1 152.5Z" fill="#008120" stroke="#008120" stroke-width="0.6"/><path d="M149.3 210.2L152.2 208.8L149.8 207L147 208.5Z" fill="#00e700" stroke="#00e700" stroke-width="0.6"/><path d="M147 208.5L149.8 207L147.4 205.2L144.6 206.7Z" fill="#3dfe00" stroke="#3dfe00" stroke-width="0.6"/><path d="M144.6 206.7L147.4 205.2L145 203.5L142.2 205Z" fill="#a0ff00" stroke="#a0ff00" stroke-width="0.6"/><path d="M142.2 205L145 203.5L142.7 201.8L139.9 203.2Z" fill="#e7ff00" stroke="#e7ff00" stroke-width="0.6"/><path d="M139.9 203.2L142.7 201.8L140.3 200L137.5 201.5Z" fill="#fde300" stroke="#fde300" stroke-width="0.6"/><path d="M137.5 201.5L140.3 200L138 198.3L135.2 199.7Z" fill="#ffb100" stroke="#ffb100" stroke-width="0.6"/><path d="M135.2 199.7L138 198.3L135.7 196.6L132.9 198Z" fill="#ff8000" stroke="#ff8000" stroke-width="0.6"/><path d="M132.9 198L135.7 196.6L133.4 194.9L130.6 196.3Z" fill="#fc5400" stroke="#fc5400" stroke-width="0.6"/><path d="M130.6 196.3L133.4 194.9L131.1 193.2L128.3 194.6Z" fill="#f32c00" stroke="#f32c00" stroke-width="0.6"/><path d="M128.3 194.6L131.1 193.2L128.8 191.5L126 192.9Z" fill="#ea1500" stroke="#ea1500" stroke-width="0.6"/><path d="M126 192.9L128.8 191.5L126.5 189.8L123.7 191.2Z" fill="#e30600" stroke="#e30600" stroke-width="0.6"/><path d="M123.7 191.2L126.5 189.8L124.2 188.1L121.4 189.5Z" fill="#dc0000" stroke="#dc0000" stroke-width="0.6"/><path d="M121.4 189.5L124.2 188.1L122 186.4L119.2 187.8Z" fill="#d50000" stroke="#d50000" stroke-width="0.6"/><path d="M119.2 187.8L122 186.4L119.7 184.8L116.9 186.2Z" fill="#d00000" stroke="#d00000" stroke-width="0.6"/><path d="M116.9 186.2L119.7 184.8L117.5 183.1L114.7 184.5Z" fill="#cd0000" stroke="#cd0000" stroke-width="0.6"/><path d="M114.7 184.5L117.5 183.1L115.3 181.5L112.5 182.9Z" fill="#cb0000" stroke="#cb0000" stroke-width="0.6"/><path d="M112.5 182.9L115.3 181.5L113 179.8L110.3 181.2Z" fill="#cb0000" stroke="#cb0000" stroke-width="0.6"/><path d="M110.3 181.2L113 179.8L110.8 178.2L108 179.6Z" fill="#cb0000" stroke="#cb0000" stroke-width="0.6"/><path d="M108 179.6L110.8 178.2L108.6 176.6L105.8 177.9Z" fill="#cd0000" stroke="#cd0000" stroke-width="0.6"/><path d="M105.8 177.9L108.6 176.6L106.4 174.9L103.7 176.3Z" fill="#d10000" stroke="#d10000" stroke-width="0.6"/><path d="M103.7 176.3L106.4 174.9L104.3 173.3L101.5 174.7Z" fill="#d60000" stroke="#d60000" stroke-width="0.6"/><path d="M101.5 174.7L104.3 173.3L102.1 171.7L99.3 173.1Z" fill="#dd0000" stroke="#dd0000" stroke-width="0.6"/><path d="M99.3 173.1L102.1 171.7L99.9 170.1L97.1 171.5Z" fill="#e40800" stroke="#e40800" stroke-width="0.6"/><path d="M97.1 171.5L99.9 170.1L97.8 168.5L95 169.9Z" fill="#ec1700" stroke="#ec1700" stroke-width="0.6"/><path d="M95 169.9L97.8 168.5L95.6 166.9L92.8 168.3Z" fill="#f43200" stroke="#f43200" stroke-width="0.6"/><path d="M92.8 168.3L95.6 166.9L93.5 165.4L90.7 166.7Z" fill="#fe5b00" stroke="#fe5b00" stroke-width="0.6"/><path d="M90.7 166.7L93.5 165.4L91.3 163.8L88.6 165.1Z" fill="#ff8800" stroke="#ff8800" stroke-width="0.6"/><path d="M88.6 165.1L91.3 163.8L89.2 162.2L86.5 163.5Z" fill="#ffb900" stroke="#ffb900" stroke-width="0.6"/><path d="M86.5 163.5L89.2 162.2L87.1 160.7L84.4 162Z" fill="#f9e800" stroke="#f9e800" stroke-width="0.6"/><path d="M84.4 162L87.1 160.7L85 159.1L82.3 160.4Z" fill="#dcff00" stroke="#dcff00" stroke-width="0.6"/><path d="M82.3 160.4L85 159.1L82.9 157.6L80.2 158.8Z" fill="#90ff00" stroke="#90ff00" stroke-width="0.6"/><path d="M80.2 158.8L82.9 157.6L80.8 156L78.1 157.3Z" fill="#33fa00" stroke="#33fa00" stroke-width="0.6"/><path d="M78.1 157.3L80.8 156L78.8 154.5L76 155.8Z" fill="#00e300" stroke="#00e300" stroke-width="0.6"/><path d="M76 155.8L78.8 154.5L76.7 152.9L74 154.2Z" fill="#00c600" stroke="#00c600" stroke-width="0.6"/><path d="M74 154.2L76.7 152.9L74.6 151.4L71.9 152.7Z" fill="#00a50d" stroke="#00a50d" stroke-width="0.6"/><path d="M71.9 152.7L74.6 151.4L72.6 149.9L69.9 151.2Z" fill="#00821f" stroke="#00821f" stroke-width="0.6"/><path d="M152.2 208.8L155 207.3L152.6 205.5L149.8 207Z" fill="#00e200" stroke="#00e200" stroke-width="0.6"/><path d="M149.8 207L152.6 205.5L150.2 203.8L147.4 205.2Z" fill="#32fa00" stroke="#32fa00" stroke-width="0.6"/><path d="M147.4 205.2L150.2 203.8L147.9 202L145 203.5Z" fill="#8eff00" stroke="#8eff00" stroke-width="0.6"/><path d="M145 203.5L147.9 202L145.5 200.3L142.7 201.8Z" fill="#daff00" stroke="#daff00" stroke-width="0.6"/><path d="M142.7 201.8L145.5 200.3L143.2 198.6L140.3 200Z" fill="#f9e900" stroke="#f9e900" stroke-width="0.6"/><path d="M140.3 200L143.2 198.6L140.8 196.9L138 198.3Z" fill="#ffbc00" stroke="#ffbc00" stroke-width="0.6"/><path d="M138 198.3L140.8 196.9L138.5 195.2L135.7 196.6Z" fill="#ff8a00" stroke="#ff8a00" stroke-width="0.6"/><path d="M135.7 196.6L138.5 195.2L136.2 193.5L133.4 194.9Z" fill="#fe5d00" stroke="#fe5d00" stroke-width="0.6"/><path d="M133.4 194.9L136.2 193.5L133.9 191.8L131.1 193.2Z" fill="#f53500" stroke="#f53500" stroke-width="0.6"/><path d="M131.1 193.2L133.9 191.8L131.6 190.1L128.8 191.5Z" fill="#ed1900" stroke="#ed1900" stroke-width="0.6"/><path d="M128.8 191.5L131.6 190.1L129.3 188.4L126.5 189.8Z" fill="#e50a00" stroke="#e50a00" stroke-width="0.6"/><path d="M126.5 189.8L129.3 188.4L127 186.7L124.2 188.1Z" fill="#de0000" stroke="#de0000" stroke-width="0.6"/><path d="M124.2 188.1L127 186.7L124.8 185.1L122 186.4Z" fill="#d70000" stroke="#d70000" stroke-width="0.6"/><path d="M122 186.4L124.8 185.1L122.5 183.4L119.7 184.8Z" fill="#d20000" stroke="#d20000" stroke-width="0.6"/><path d="M119.7 184.8L122.5 183.4L120.3 181.7L117.5 183.1Z" fill="#ce0000" stroke="#ce0000" stroke-width="0.6"/><path d="M117.5 183.1L120.3 181.7L118 180.1L115.3 181.5Z" fill="#cc0000" stroke="#cc0000" stroke-width="0.6"/><path d="M115.3 181.5L118 180.1L115.8 178.5L113 179.8Z" fill="#cc0000" stroke="#cc0000" stroke-width="0.6"/><path d="M113 179.8L115.8 178.5L113.6 176.8L110.8 178.2Z" fill="#cc0000" stroke="#cc0000" stroke-width="0.6"/><path d="M110.8 178.2L113.6 176.8L111.4 175.2L108.6 176.6Z" fill="#ce0000" stroke="#ce0000" stroke-width="0.6"/><path d="M108.6 176.6L111.4 175.2L109.2 173.6L106.4 174.9Z" fill="#d20000" stroke="#d20000" stroke-width="0.6"/><path d="M106.4 174.9L109.2 173.6L107 172L104.3 173.3Z" fill="#d70000" stroke="#d70000" stroke-width="0.6"/><path d="M104.3 173.3L107 172L104.8 170.4L102.1 171.7Z" fill="#dd0000" stroke="#dd0000" stroke-width="0.6"/><path d="M102.1 171.7L104.8 170.4L102.7 168.8L99.9 170.1Z" fill="#e40900" stroke="#e40900" stroke-width="0.6"/><path d="M99.9 170.1L102.7 168.8L100.5 167.2L97.8 168.5Z" fill="#ec1800" stroke="#ec1800" stroke-width="0.6"/><path d="M97.8 168.5L100.5 167.2L98.4 165.6L95.6 166.9Z" fill="#f43300" stroke="#f43300" stroke-width="0.6"/><path d="M95.6 166.9L98.4 165.6L96.2 164L93.5 165.4Z" fill="#fe5b00" stroke="#fe5b00" stroke-width="0.6"/><path d="M93.5 165.4L96.2 164L94.1 162.5L91.3 163.8Z" fill="#ff8700" stroke="#ff8700" stroke-width="0.6"/><path d="M91.3 163.8L94.1 162.5L92 160.9L89.2 162.2Z" fill="#ffb800" stroke="#ffb800" stroke-width="0.6"/><path d="M89.2 162.2L92 160.9L89.9 159.3L87.1 160.7Z" fill="#fae700" stroke="#fae700" stroke-width="0.6"/><path d="M87.1 160.7L89.9 159.3L87.8 157.8L85 159.1Z" fill="#deff00" stroke="#deff00" stroke-width="0.6"/><path d="M85 159.1L87.8 157.8L85.7 156.3L82.9 157.6Z" fill="#94ff00" stroke="#94ff00" stroke-width="0.6"/><path d="M82.9 157.6L85.7 156.3L83.6 154.7L80.8 156Z" fill="#36fb00" stroke="#36fb00" stroke-width="0.6"/><path d="M80.8 156L83.6 154.7L81.5 153.2L78.8 154.5Z" fill="#00e400" stroke="#00e400" stroke-width="0.6"/><path d="M78.8 154.5L81.5 153.2L79.4 151.7L76.7 152.9Z" fill="#00c700" stroke="#00c700" stroke-width="0.6"/><path d="M76.7 152.9L79.4 151.7L77.4 150.2L74.6 151.4Z" fill="#00a70d" stroke="#00a70d" stroke-width="0.6"/><path d="M74.6 151.4L77.4 150.2L75.3 148.6L72.6 149.9Z" fill="#00841e" stroke="#00841e" stroke-width="0.6"/><path d="M155 207.3L157.8 205.8L155.4 204.1L152.6 205.5Z" fill="#00de00" stroke="#00de00" stroke-width="0.6"/><path d="M152.6 205.5L155.4 204.1L153 202.3L150.2 203.8Z" fill="#28f600" stroke="#28f600" stroke-width="0.6"/><path d="M150.2 203.8L153 202.3L150.7 200.6L147.9 202Z" fill="#7dff00" stroke="#7dff00" stroke-width="0.6"/><path d="M147.9 202L150.7 200.6L148.3 198.9L145.5 200.3Z" fill="#ceff00" stroke="#ceff00" stroke-width="0.6"/><path d="M145.5 200.3L148.3 198.9L145.9 197.2L143.2 198.6Z" fill="#f5ed00" stroke="#f5ed00" stroke-width="0.6"/><path d="M143.2 198.6L145.9 197.2L143.6 195.4L140.8 196.9Z" fill="#ffc500" stroke="#ffc500" stroke-width="0.6"/><path d="M140.8 196.9L143.6 195.4L141.3 193.7L138.5 195.2Z" fill="#ff9300" stroke="#ff9300" stroke-width="0.6"/><path d="M138.5 195.2L141.3 193.7L139 192L136.2 193.5Z" fill="#ff6600" stroke="#ff6600" stroke-width="0.6"/><path d="M136.2 193.5L139 192L136.7 190.3L133.9 191.8Z" fill="#f73d00" stroke="#f73d00" stroke-width="0.6"/><path d="M133.9 191.8L136.7 190.3L134.4 188.7L131.6 190.1Z" fill="#ee1d00" stroke="#ee1d00" stroke-width="0.6"/><path d="M131.6 190.1L134.4 188.7L132.1 187L129.3 188.4Z" fill="#e70d00" stroke="#e70d00" stroke-width="0.6"/><path d="M129.3 188.4L132.1 187L129.8 185.3L127 186.7Z" fill="#e00000" stroke="#e00000" stroke-width="0.6"/><path d="M127 186.7L129.8 185.3L127.5 183.7L124.8 185.1Z" fill="#d90000" stroke="#d90000" stroke-width="0.6"/><path d="M124.8 185.1L127.5 183.7L125.3 182L122.5 183.4Z" fill="#d40000" stroke="#d40000" stroke-width="0.6"/><path d="M122.5 183.4L125.3 182L123 180.4L120.3 181.7Z" fill="#d00000" stroke="#d00000" stroke-width="0.6"/><path d="M120.3 181.7L123 180.4L120.8 178.7L118 180.1Z" fill="#cd0000" stroke="#cd0000" stroke-width="0.6"/><path d="M118 180.1L120.8 178.7L118.6 177.1L115.8 178.5Z" fill="#cd0000" stroke="#cd0000" stroke-width="0.6"/><path d="M115.8 178.5L118.6 177.1L116.4 175.5L113.6 176.8Z" fill="#cd0000" stroke="#cd0000" stroke-width="0.6"/><path d="M113.6 176.8L116.4 175.5L114.2 173.9L111.4 175.2Z" fill="#cf0000" stroke="#cf0000" stroke-width="0.6"/><path d="M111.4 175.2L114.2 173.9L112 172.2L109.2 173.6Z" fill="#d30000" stroke="#d30000" stroke-width="0.6"/><path d="M109.2 173.6L112 172.2L109.8 170.6L107 172Z" fill="#d70000" stroke="#d70000" stroke-width="0.6"/><path d="M107 172L109.8 170.6L107.6 169L104.8 170.4Z" fill="#de0000" stroke="#de0000" stroke-width="0.6"/><path d="M104.8 170.4L107.6 169L105.4 167.5L102.7 168.8Z" fill="#e50900" stroke="#e50900" stroke-width="0.6"/><path d="M102.7 168.8L105.4 167.5L103.3 165.9L100.5 167.2Z" fill="#ec1800" stroke="#ec1800" stroke-width="0.6"/><path d="M100.5 167.2L103.3 165.9L101.1 164.3L98.4 165.6Z" fill="#f43300" stroke="#f43300" stroke-width="0.6"/><path d="M98.4 165.6L101.1 164.3L99 162.7L96.2 164Z" fill="#fe5a00" stroke="#fe5a00" stroke-width="0.6"/><path d="M96.2 164L99 162.7L96.8 161.2L94.1 162.5Z" fill="#ff8600" stroke="#ff8600" stroke-width="0.6"/><path d="M94.1 162.5L96.8 161.2L94.7 159.6L92 160.9Z" fill="#ffb600" stroke="#ffb600" stroke-width="0.6"/><path d="M92 160.9L94.7 159.6L92.6 158.1L89.9 159.3Z" fill="#fbe600" stroke="#fbe600" stroke-width="0.6"/><path d="M89.9 159.3L92.6 158.1L90.5 156.5L87.8 157.8Z" fill="#e2ff00" stroke="#e2ff00" stroke-width="0.6"/><path d="M87.8 157.8L90.5 156.5L88.4 155L85.7 156.3Z" fill="#99ff00" stroke="#99ff00" stroke-width="0.6"/><path d="M85.7 156.3L88.4 155L86.3 153.4L83.6 154.7Z" fill="#39fd00" stroke="#39fd00" stroke-width="0.6"/><path d="M83.6 154.7L86.3 153.4L84.2 151.9L81.5 153.2Z" fill="#00e600" stroke="#00e600" stroke-width="0.6"/><path d="M81.5 153.2L84.2 151.9L82.2 150.4L79.4 151.7Z" fill="#00c900" stroke="#00c900" stroke-width="0.6"/><path d="M79.4 151.7L82.2 150.4L80.1 148.9L77.4 150.2Z" fill="#00a90b" stroke="#00a90b" stroke-width="0.6"/><path d="M77.4 150.2L80.1 148.9L78.1 147.4L75.3 148.6Z" fill="#00871d" stroke="#00871d" stroke-width="0.6"/><path d="M157.8 205.8L160.6 204.4L158.2 202.6L155.4 204.1Z" fill="#00da00" stroke="#00da00" stroke-width="0.6"/><path d="M155.4 204.1L158.2 202.6L155.8 200.9L153 202.3Z" fill="#1ff300" stroke="#1ff300" stroke-width="0.6"/><path d="M153 202.3L155.8 200.9L153.4 199.2L150.7 200.6Z" fill="#6eff00" stroke="#6eff00" stroke-width="0.6"/><path d="M150.7 200.6L153.4 199.2L151.1 197.4L148.3 198.9Z" fill="#c3ff00" stroke="#c3ff00" stroke-width="0.6"/><path d="M148.3 198.9L151.1 197.4L148.7 195.7L145.9 197.2Z" fill="#f2f200" stroke="#f2f200" stroke-width="0.6"/><path d="M145.9 197.2L148.7 195.7L146.4 194L143.6 195.4Z" fill="#ffce00" stroke="#ffce00" stroke-width="0.6"/><path d="M143.6 195.4L146.4 194L144.1 192.3L141.3 193.7Z" fill="#ff9b00" stroke="#ff9b00" stroke-width="0.6"/><path d="M141.3 193.7L144.1 192.3L141.8 190.6L139 192Z" fill="#ff6d00" stroke="#ff6d00" stroke-width="0.6"/><path d="M139 192L141.8 190.6L139.4 188.9L136.7 190.3Z" fill="#f84400" stroke="#f84400" stroke-width="0.6"/><path d="M136.7 190.3L139.4 188.9L137.1 187.3L134.4 188.7Z" fill="#f02000" stroke="#f02000" stroke-width="0.6"/><path d="M134.4 188.7L137.1 187.3L134.9 185.6L132.1 187Z" fill="#e81000" stroke="#e81000" stroke-width="0.6"/><path d="M132.1 187L134.9 185.6L132.6 183.9L129.8 185.3Z" fill="#e10300" stroke="#e10300" stroke-width="0.6"/><path d="M129.8 185.3L132.6 183.9L130.3 182.3L127.5 183.7Z" fill="#db0000" stroke="#db0000" stroke-width="0.6"/><path d="M127.5 183.7L130.3 182.3L128.1 180.6L125.3 182Z" fill="#d50000" stroke="#d50000" stroke-width="0.6"/><path d="M125.3 182L128.1 180.6L125.8 179L123 180.4Z" fill="#d10000" stroke="#d10000" stroke-width="0.6"/><path d="M123 180.4L125.8 179L123.6 177.4L120.8 178.7Z" fill="#ce0000" stroke="#ce0000" stroke-width="0.6"/><path d="M120.8 178.7L123.6 177.4L121.3 175.7L118.6 177.1Z" fill="#cd0000" stroke="#cd0000" stroke-width="0.6"/><path d="M118.6 177.1L121.3 175.7L119.1 174.1L116.4 175.5Z" fill="#ce0000" stroke="#ce0000" stroke-width="0.6"/><path d="M116.4 175.5L119.1 174.1L116.9 172.5L114.2 173.9Z" fill="#d00000" stroke="#d00000" stroke-width="0.6"/><path d="M114.2 173.9L116.9 172.5L114.7 170.9L112 172.2Z" fill="#d30000" stroke="#d30000" stroke-width="0.6"/><path d="M112 172.2L114.7 170.9L112.5 169.3L109.8 170.6Z" fill="#d80000" stroke="#d80000" stroke-width="0.6"/><path d="M109.8 170.6L112.5 169.3L110.3 167.7L107.6 169Z" fill="#de0000" stroke="#de0000" stroke-width="0.6"/><path d="M107.6 169L110.3 167.7L108.2 166.1L105.4 167.5Z" fill="#e40900" stroke="#e40900" stroke-width="0.6"/><path d="M105.4 167.5L108.2 166.1L106 164.5L103.3 165.9Z" fill="#ec1800" stroke="#ec1800" stroke-width="0.6"/><path d="M103.3 165.9L106 164.5L103.9 163L101.1 164.3Z" fill="#f43100" stroke="#f43100" stroke-width="0.6"/><path d="M101.1 164.3L103.9 163L101.7 161.4L99 162.7Z" fill="#fd5800" stroke="#fd5800" stroke-width="0.6"/><path d="M99 162.7L101.7 161.4L99.6 159.9L96.8 161.2Z" fill="#ff8300" stroke="#ff8300" stroke-width="0.6"/><path d="M96.8 161.2L99.6 159.9L97.5 158.3L94.7 159.6Z" fill="#ffb300" stroke="#ffb300" stroke-width="0.6"/><path d="M94.7 159.6L97.5 158.3L95.3 156.8L92.6 158.1Z" fill="#fce400" stroke="#fce400" stroke-width="0.6"/><path d="M92.6 158.1L95.3 156.8L93.2 155.2L90.5 156.5Z" fill="#e6ff00" stroke="#e6ff00" stroke-width="0.6"/><path d="M90.5 156.5L93.2 155.2L91.1 153.7L88.4 155Z" fill="#a0ff00" stroke="#a0ff00" stroke-width="0.6"/><path d="M88.4 155L91.1 153.7L89 152.2L86.3 153.4Z" fill="#3efe00" stroke="#3efe00" stroke-width="0.6"/><path d="M86.3 153.4L89 152.2L87 150.6L84.2 151.9Z" fill="#00e800" stroke="#00e800" stroke-width="0.6"/><path d="M84.2 151.9L87 150.6L84.9 149.1L82.2 150.4Z" fill="#00cc00" stroke="#00cc00" stroke-width="0.6"/><path d="M82.2 150.4L84.9 149.1L82.8 147.6L80.1 148.9Z" fill="#00ac0a" stroke="#00ac0a" stroke-width="0.6"/><path d="M80.1 148.9L82.8 147.6L80.8 146.1L78.1 147.4Z" fill="#008a1b" stroke="#008a1b" stroke-width="0.6"/><path d="M160.6 204.4L163.4 202.9L161 201.2L158.2 202.6Z" fill="#00d600" stroke="#00d600" stroke-width="0.6"/><path d="M158.2 202.6L161 201.2L158.6 199.4L155.8 200.9Z" fill="#17f000" stroke="#17f000" stroke-width="0.6"/><path d="M155.8 200.9L158.6 199.4L156.2 197.7L153.4 199.2Z" fill="#61ff00" stroke="#61ff00" stroke-width="0.6"/><path d="M153.4 199.2L156.2 197.7L153.9 196L151.1 197.4Z" fill="#baff00" stroke="#baff00" stroke-width="0.6"/><path d="M151.1 197.4L153.9 196L151.5 194.3L148.7 195.7Z" fill="#eff600" stroke="#eff600" stroke-width="0.6"/><path d="M148.7 195.7L151.5 194.3L149.2 192.6L146.4 194Z" fill="#ffd500" stroke="#ffd500" stroke-width="0.6"/><path d="M146.4 194L149.2 192.6L146.8 190.9L144.1 192.3Z" fill="#ffa200" stroke="#ffa200" stroke-width="0.6"/><path d="M144.1 192.3L146.8 190.9L144.5 189.2L141.8 190.6Z" fill="#ff7300" stroke="#ff7300" stroke-width="0.6"/><path d="M141.8 190.6L144.5 189.2L142.2 187.5L139.4 188.9Z" fill="#fa4a00" stroke="#fa4a00" stroke-width="0.6"/><path d="M139.4 188.9L142.2 187.5L139.9 185.9L137.1 187.3Z" fill="#f12500" stroke="#f12500" stroke-width="0.6"/><path d="M137.1 187.3L139.9 185.9L137.6 184.2L134.9 185.6Z" fill="#e91200" stroke="#e91200" stroke-width="0.6"/><path d="M134.9 185.6L137.6 184.2L135.3 182.6L132.6 183.9Z" fill="#e20500" stroke="#e20500" stroke-width="0.6"/><path d="M132.6 183.9L135.3 182.6L133.1 180.9L130.3 182.3Z" fill="#dc0000" stroke="#dc0000" stroke-width="0.6"/><path d="M130.3 182.3L133.1 180.9L130.8 179.3L128.1 180.6Z" fill="#d60000" stroke="#d60000" stroke-width="0.6"/><path d="M128.1 180.6L130.8 179.3L128.6 177.6L125.8 179Z" fill="#d20000" stroke="#d20000" stroke-width="0.6"/><path d="M125.8 179L128.6 177.6L126.3 176L123.6 177.4Z" fill="#cf0000" stroke="#cf0000" stroke-width="0.6"/><path d="M123.6 177.4L126.3 176L124.1 174.4L121.3 175.7Z" fill="#ce0000" stroke="#ce0000" stroke-width="0.6"/><path d="M121.3 175.7L124.1 174.4L121.9 172.8L119.1 174.1Z" fill="#ce0000" stroke="#ce0000" stroke-width="0.6"/><path d="M119.1 174.1L121.9 172.8L119.7 171.2L116.9 172.5Z" fill="#d00000" stroke="#d00000" stroke-width="0.6"/><path d="M116.9 172.5L119.7 171.2L117.5 169.6L114.7 170.9Z" fill="#d30000" stroke="#d30000" stroke-width="0.6"/><path d="M114.7 170.9L117.5 169.6L115.3 168L112.5 169.3Z" fill="#d70000" stroke="#d70000" stroke-width="0.6"/><path d="M112.5 169.3L115.3 168L113.1 166.4L110.3 167.7Z" fill="#dd0000" stroke="#dd0000" stroke-width="0.6"/><path d="M110.3 167.7L113.1 166.4L110.9 164.8L108.2 166.1Z" fill="#e40800" stroke="#e40800" stroke-width="0.6"/><path d="M108.2 166.1L110.9 164.8L108.7 163.2L106 164.5Z" fill="#eb1600" stroke="#eb1600" stroke-width="0.6"/><path d="M106 164.5L108.7 163.2L106.6 161.7L103.9 163Z" fill="#f32e00" stroke="#f32e00" stroke-width="0.6"/><path d="M103.9 163L106.6 161.7L104.4 160.1L101.7 161.4Z" fill="#fc5500" stroke="#fc5500" stroke-width="0.6"/><path d="M101.7 161.4L104.4 160.1L102.3 158.6L99.6 159.9Z" fill="#ff7f00" stroke="#ff7f00" stroke-width="0.6"/><path d="M99.6 159.9L102.3 158.6L100.2 157L97.5 158.3Z" fill="#ffaf00" stroke="#ffaf00" stroke-width="0.6"/><path d="M97.5 158.3L100.2 157L98.1 155.5L95.3 156.8Z" fill="#fee200" stroke="#fee200" stroke-width="0.6"/><path d="M95.3 156.8L98.1 155.5L96 153.9L93.2 155.2Z" fill="#e9fd00" stroke="#e9fd00" stroke-width="0.6"/><path d="M93.2 155.2L96 153.9L93.9 152.4L91.1 153.7Z" fill="#a7ff00" stroke="#a7ff00" stroke-width="0.6"/><path d="M91.1 153.7L93.9 152.4L91.8 150.9L89 152.2Z" fill="#46ff00" stroke="#46ff00" stroke-width="0.6"/><path d="M89 152.2L91.8 150.9L89.7 149.4L87 150.6Z" fill="#06ea00" stroke="#06ea00" stroke-width="0.6"/><path d="M87 150.6L89.7 149.4L87.6 147.9L84.9 149.1Z" fill="#00ce00" stroke="#00ce00" stroke-width="0.6"/><path d="M84.9 149.1L87.6 147.9L85.5 146.4L82.8 147.6Z" fill="#00af08" stroke="#00af08" stroke-width="0.6"/><path d="M82.8 147.6L85.5 146.4L83.5 144.9L80.8 146.1Z" fill="#008d19" stroke="#008d19" stroke-width="0.6"/><path d="M163.4 202.9L166.1 201.5L163.8 199.7L161 201.2Z" fill="#00d300" stroke="#00d300" stroke-width="0.6"/><path d="M161 201.2L163.8 199.7L161.4 198L158.6 199.4Z" fill="#10ee00" stroke="#10ee00" stroke-width="0.6"/><path d="M158.6 199.4L161.4 198L159 196.3L156.2 197.7Z" fill="#56ff00" stroke="#56ff00" stroke-width="0.6"/><path d="M156.2 197.7L159 196.3L156.6 194.6L153.9 196Z" fill="#b2ff00" stroke="#b2ff00" stroke-width="0.6"/><path d="M153.9 196L156.6 194.6L154.3 192.9L151.5 194.3Z" fill="#edf900" stroke="#edf900" stroke-width="0.6"/><path d="M151.5 194.3L154.3 192.9L151.9 191.2L149.2 192.6Z" fill="#ffdb00" stroke="#ffdb00" stroke-width="0.6"/><path d="M149.2 192.6L151.9 191.2L149.6 189.5L146.8 190.9Z" fill="#ffa700" stroke="#ffa700" stroke-width="0.6"/><path d="M146.8 190.9L149.6 189.5L147.3 187.8L144.5 189.2Z" fill="#ff7800" stroke="#ff7800" stroke-width="0.6"/><path d="M144.5 189.2L147.3 187.8L145 186.1L142.2 187.5Z" fill="#fb4e00" stroke="#fb4e00" stroke-width="0.6"/><path d="M142.2 187.5L145 186.1L142.7 184.5L139.9 185.9Z" fill="#f22900" stroke="#f22900" stroke-width="0.6"/><path d="M139.9 185.9L142.7 184.5L140.4 182.8L137.6 184.2Z" fill="#ea1400" stroke="#ea1400" stroke-width="0.6"/><path d="M137.6 184.2L140.4 182.8L138.1 181.2L135.3 182.6Z" fill="#e30600" stroke="#e30600" stroke-width="0.6"/><path d="M135.3 182.6L138.1 181.2L135.8 179.5L133.1 180.9Z" fill="#dc0000" stroke="#dc0000" stroke-width="0.6"/><path d="M133.1 180.9L135.8 179.5L133.6 177.9L130.8 179.3Z" fill="#d70000" stroke="#d70000" stroke-width="0.6"/><path d="M130.8 179.3L133.6 177.9L131.3 176.3L128.6 177.6Z" fill="#d20000" stroke="#d20000" stroke-width="0.6"/><path d="M128.6 177.6L131.3 176.3L129.1 174.6L126.3 176Z" fill="#cf0000" stroke="#cf0000" stroke-width="0.6"/><path d="M126.3 176L129.1 174.6L126.8 173L124.1 174.4Z" fill="#ce0000" stroke="#ce0000" stroke-width="0.6"/><path d="M124.1 174.4L126.8 173L124.6 171.4L121.9 172.8Z" fill="#ce0000" stroke="#ce0000" stroke-width="0.6"/><path d="M121.9 172.8L124.6 171.4L122.4 169.8L119.7 171.2Z" fill="#cf0000" stroke="#cf0000" stroke-width="0.6"/><path d="M119.7 171.2L122.4 169.8L120.2 168.2L117.5 169.6Z" fill="#d20000" stroke="#d20000" stroke-width="0.6"/><path d="M117.5 169.6L120.2 168.2L118 166.6L115.3 168Z" fill="#d70000" stroke="#d70000" stroke-width="0.6"/><path d="M115.3 168L118 166.6L115.8 165.1L113.1 166.4Z" fill="#dd0000" stroke="#dd0000" stroke-width="0.6"/><path d="M113.1 166.4L115.8 165.1L113.6 163.5L110.9 164.8Z" fill="#e30700" stroke="#e30700" stroke-width="0.6"/><path d="M110.9 164.8L113.6 163.5L111.5 161.9L108.7 163.2Z" fill="#ea1500" stroke="#ea1500" stroke-width="0.6"/><path d="M108.7 163.2L111.5 161.9L109.3 160.4L106.6 161.7Z" fill="#f22a00" stroke="#f22a00" stroke-width="0.6"/><path d="M106.6 161.7L109.3 160.4L107.2 158.8L104.4 160.1Z" fill="#fb5000" stroke="#fb5000" stroke-width="0.6"/><path d="M104.4 160.1L107.2 158.8L105 157.3L102.3 158.6Z" fill="#ff7b00" stroke="#ff7b00" stroke-width="0.6"/><path d="M102.3 158.6L105 157.3L102.9 155.7L100.2 157Z" fill="#ffaa00" stroke="#ffaa00" stroke-width="0.6"/><path d="M100.2 157L102.9 155.7L100.8 154.2L98.1 155.5Z" fill="#ffdd00" stroke="#ffdd00" stroke-width="0.6"/><path d="M98.1 155.5L100.8 154.2L98.7 152.7L96 153.9Z" fill="#ecfa00" stroke="#ecfa00" stroke-width="0.6"/><path d="M96 153.9L98.7 152.7L96.6 151.1L93.9 152.4Z" fill="#afff00" stroke="#afff00" stroke-width="0.6"/><path d="M93.9 152.4L96.6 151.1L94.5 149.6L91.8 150.9Z" fill="#51ff00" stroke="#51ff00" stroke-width="0.6"/><path d="M91.8 150.9L94.5 149.6L92.4 148.1L89.7 149.4Z" fill="#0ded00" stroke="#0ded00" stroke-width="0.6"/><path d="M89.7 149.4L92.4 148.1L90.3 146.6L87.6 147.9Z" fill="#00d200" stroke="#00d200" stroke-width="0.6"/><path d="M87.6 147.9L90.3 146.6L88.2 145.1L85.5 146.4Z" fill="#00b307" stroke="#00b307" stroke-width="0.6"/><path d="M85.5 146.4L88.2 145.1L86.2 143.6L83.5 144.9Z" fill="#009118" stroke="#009118" stroke-width="0.6"/><path d="M166.1 201.5L168.9 200L166.5 198.3L163.8 199.7Z" fill="#00d000" stroke="#00d000" stroke-width="0.6"/><path d="M163.8 199.7L166.5 198.3L164.1 196.6L161.4 198Z" fill="#0aec00" stroke="#0aec00" stroke-width="0.6"/><path d="M161.4 198L164.1 196.6L161.8 194.9L159 196.3Z" fill="#4cff00" stroke="#4cff00" stroke-width="0.6"/><path d="M159 196.3L161.8 194.9L159.4 193.2L156.6 194.6Z" fill="#abff00" stroke="#abff00" stroke-width="0.6"/><path d="M156.6 194.6L159.4 193.2L157 191.5L154.3 192.9Z" fill="#ebfb00" stroke="#ebfb00" stroke-width="0.6"/><path d="M154.3 192.9L157 191.5L154.7 189.8L151.9 191.2Z" fill="#ffe000" stroke="#ffe000" stroke-width="0.6"/><path d="M151.9 191.2L154.7 189.8L152.4 188.1L149.6 189.5Z" fill="#ffac00" stroke="#ffac00" stroke-width="0.6"/><path d="M149.6 189.5L152.4 188.1L150 186.4L147.3 187.8Z" fill="#ff7c00" stroke="#ff7c00" stroke-width="0.6"/><path d="M147.3 187.8L150 186.4L147.7 184.8L145 186.1Z" fill="#fc5200" stroke="#fc5200" stroke-width="0.6"/><path d="M145 186.1L147.7 184.8L145.4 183.1L142.7 184.5Z" fill="#f32c00" stroke="#f32c00" stroke-width="0.6"/><path d="M142.7 184.5L145.4 183.1L143.1 181.4L140.4 182.8Z" fill="#eb1500" stroke="#eb1500" stroke-width="0.6"/><path d="M140.4 182.8L143.1 181.4L140.8 179.8L138.1 181.2Z" fill="#e30700" stroke="#e30700" stroke-width="0.6"/><path d="M138.1 181.2L140.8 179.8L138.6 178.2L135.8 179.5Z" fill="#dd0000" stroke="#dd0000" stroke-width="0.6"/><path d="M135.8 179.5L138.6 178.2L136.3 176.5L133.6 177.9Z" fill="#d70000" stroke="#d70000" stroke-width="0.6"/><path d="M133.6 177.9L136.3 176.5L134 174.9L131.3 176.3Z" fill="#d20000" stroke="#d20000" stroke-width="0.6"/><path d="M131.3 176.3L134 174.9L131.8 173.3L129.1 174.6Z" fill="#cf0000" stroke="#cf0000" stroke-width="0.6"/><path d="M129.1 174.6L131.8 173.3L129.6 171.7L126.8 173Z" fill="#ce0000" stroke="#ce0000" stroke-width="0.6"/><path d="M126.8 173L129.6 171.7L127.3 170.1L124.6 171.4Z" fill="#ce0000" stroke="#ce0000" stroke-width="0.6"/><path d="M124.6 171.4L127.3 170.1L125.1 168.5L122.4 169.8Z" fill="#cf0000" stroke="#cf0000" stroke-width="0.6"/><path d="M122.4 169.8L125.1 168.5L122.9 166.9L120.2 168.2Z" fill="#d20000" stroke="#d20000" stroke-width="0.6"/><path d="M120.2 168.2L122.9 166.9L120.7 165.3L118 166.6Z" fill="#d60000" stroke="#d60000" stroke-width="0.6"/><path d="M118 166.6L120.7 165.3L118.5 163.7L115.8 165.1Z" fill="#dc0000" stroke="#dc0000" stroke-width="0.6"/><path d="M115.8 165.1L118.5 163.7L116.4 162.2L113.6 163.5Z" fill="#e20500" stroke="#e20500" stroke-width="0.6"/><path d="M113.6 163.5L116.4 162.2L114.2 160.6L111.5 161.9Z" fill="#e91300" stroke="#e91300" stroke-width="0.6"/><path d="M111.5 161.9L114.2 160.6L112 159.1L109.3 160.4Z" fill="#f12500" stroke="#f12500" stroke-width="0.6"/><path d="M109.3 160.4L112 159.1L109.9 157.5L107.2 158.8Z" fill="#fa4b00" stroke="#fa4b00" stroke-width="0.6"/><path d="M107.2 158.8L109.9 157.5L107.7 156L105 157.3Z" fill="#ff7400" stroke="#ff7400" stroke-width="0.6"/><path d="M105 157.3L107.7 156L105.6 154.4L102.9 155.7Z" fill="#ffa300" stroke="#ffa300" stroke-width="0.6"/><path d="M102.9 155.7L105.6 154.4L103.5 152.9L100.8 154.2Z" fill="#ffd600" stroke="#ffd600" stroke-width="0.6"/><path d="M100.8 154.2L103.5 152.9L101.4 151.4L98.7 152.7Z" fill="#eef600" stroke="#eef600" stroke-width="0.6"/><path d="M98.7 152.7L101.4 151.4L99.3 149.9L96.6 151.1Z" fill="#b8ff00" stroke="#b8ff00" stroke-width="0.6"/><path d="M96.6 151.1L99.3 149.9L97.2 148.3L94.5 149.6Z" fill="#5eff00" stroke="#5eff00" stroke-width="0.6"/><path d="M94.5 149.6L97.2 148.3L95.1 146.8L92.4 148.1Z" fill="#15f000" stroke="#15f000" stroke-width="0.6"/><path d="M92.4 148.1L95.1 146.8L93 145.3L90.3 146.6Z" fill="#00d500" stroke="#00d500" stroke-width="0.6"/><path d="M90.3 146.6L93 145.3L90.9 143.9L88.2 145.1Z" fill="#00b705" stroke="#00b705" stroke-width="0.6"/><path d="M88.2 145.1L90.9 143.9L88.9 142.4L86.2 143.6Z" fill="#009515" stroke="#009515" stroke-width="0.6"/><path d="M168.9 200L171.7 198.6L169.3 196.9L166.5 198.3Z" fill="#00ce00" stroke="#00ce00" stroke-width="0.6"/><path d="M166.5 198.3L169.3 196.9L166.9 195.1L164.1 196.6Z" fill="#05ea00" stroke="#05ea00" stroke-width="0.6"/><path d="M164.1 196.6L166.9 195.1L164.5 193.4L161.8 194.9Z" fill="#44ff00" stroke="#44ff00" stroke-width="0.6"/><path d="M161.8 194.9L164.5 193.4L162.1 191.7L159.4 193.2Z" fill="#a6ff00" stroke="#a6ff00" stroke-width="0.6"/><path d="M159.4 193.2L162.1 191.7L159.8 190L157 191.5Z" fill="#e9fd00" stroke="#e9fd00" stroke-width="0.6"/><path d="M157 191.5L159.8 190L157.4 188.4L154.7 189.8Z" fill="#fee200" stroke="#fee200" stroke-width="0.6"/><path d="M154.7 189.8L157.4 188.4L155.1 186.7L152.4 188.1Z" fill="#ffaf00" stroke="#ffaf00" stroke-width="0.6"/><path d="M152.4 188.1L155.1 186.7L152.8 185L150 186.4Z" fill="#ff7f00" stroke="#ff7f00" stroke-width="0.6"/><path d="M150 186.4L152.8 185L150.5 183.4L147.7 184.8Z" fill="#fc5400" stroke="#fc5400" stroke-width="0.6"/><path d="M147.7 184.8L150.5 183.4L148.2 181.7L145.4 183.1Z" fill="#f32d00" stroke="#f32d00" stroke-width="0.6"/><path d="M145.4 183.1L148.2 181.7L145.9 180.1L143.1 181.4Z" fill="#eb1600" stroke="#eb1600" stroke-width="0.6"/><path d="M143.1 181.4L145.9 180.1L143.6 178.4L140.8 179.8Z" fill="#e40700" stroke="#e40700" stroke-width="0.6"/><path d="M140.8 179.8L143.6 178.4L141.3 176.8L138.6 178.2Z" fill="#dd0000" stroke="#dd0000" stroke-width="0.6"/><path d="M138.6 178.2L141.3 176.8L139 175.2L136.3 176.5Z" fill="#d70000" stroke="#d70000" stroke-width="0.6"/><path d="M136.3 176.5L139 175.2L136.8 173.6L134 174.9Z" fill="#d20000" stroke="#d20000" stroke-width="0.6"/><path d="M134 174.9L136.8 173.6L134.5 171.9L131.8 173.3Z" fill="#cf0000" stroke="#cf0000" stroke-width="0.6"/><path d="M131.8 173.3L134.5 171.9L132.3 170.3L129.6 171.7Z" fill="#cd0000" stroke="#cd0000" stroke-width="0.6"/><path d="M129.6 171.7L132.3 170.3L130.1 168.7L127.3 170.1Z" fill="#cd0000" stroke="#cd0000" stroke-width="0.6"/><path d="M127.3 170.1L130.1 168.7L127.8 167.2L125.1 168.5Z" fill="#ce0000" stroke="#ce0000" stroke-width="0.6"/><path d="M125.1 168.5L127.8 167.2L125.6 165.6L122.9 166.9Z" fill="#d10000" stroke="#d10000" stroke-width="0.6"/><path d="M122.9 166.9L125.6 165.6L123.4 164L120.7 165.3Z" fill="#d50000" stroke="#d50000" stroke-width="0.6"/><path d="M120.7 165.3L123.4 164L121.3 162.4L118.5 163.7Z" fill="#da0000" stroke="#da0000" stroke-width="0.6"/><path d="M118.5 163.7L121.3 162.4L119.1 160.9L116.4 162.2Z" fill="#e10200" stroke="#e10200" stroke-width="0.6"/><path d="M116.4 162.2L119.1 160.9L116.9 159.3L114.2 160.6Z" fill="#e81000" stroke="#e81000" stroke-width="0.6"/><path d="M114.2 160.6L116.9 159.3L114.7 157.8L112 159.1Z" fill="#f02000" stroke="#f02000" stroke-width="0.6"/><path d="M112 159.1L114.7 157.8L112.6 156.2L109.9 157.5Z" fill="#f84400" stroke="#f84400" stroke-width="0.6"/><path d="M109.9 157.5L112.6 156.2L110.4 154.7L107.7 156Z" fill="#ff6d00" stroke="#ff6d00" stroke-width="0.6"/><path d="M107.7 156L110.4 154.7L108.3 153.1L105.6 154.4Z" fill="#ff9b00" stroke="#ff9b00" stroke-width="0.6"/><path d="M105.6 154.4L108.3 153.1L106.2 151.6L103.5 152.9Z" fill="#ffce00" stroke="#ffce00" stroke-width="0.6"/><path d="M103.5 152.9L106.2 151.6L104.1 150.1L101.4 151.4Z" fill="#f2f200" stroke="#f2f200" stroke-width="0.6"/><path d="M101.4 151.4L104.1 150.1L102 148.6L99.3 149.9Z" fill="#c2ff00" stroke="#c2ff00" stroke-width="0.6"/><path d="M99.3 149.9L102 148.6L99.9 147.1L97.2 148.3Z" fill="#6dff00" stroke="#6dff00" stroke-width="0.6"/><path d="M97.2 148.3L99.9 147.1L97.8 145.6L95.1 146.8Z" fill="#1ef300" stroke="#1ef300" stroke-width="0.6"/><path d="M95.1 146.8L97.8 145.6L95.7 144.1L93 145.3Z" fill="#00d900" stroke="#00d900" stroke-width="0.6"/><path d="M93 145.3L95.7 144.1L93.6 142.6L90.9 143.9Z" fill="#00bb02" stroke="#00bb02" stroke-width="0.6"/><path d="M90.9 143.9L93.6 142.6L91.5 141.1L88.9 142.4Z" fill="#009a13" stroke="#009a13" stroke-width="0.6"/><path d="M171.7 198.6L174.4 197.1L172 195.4L169.3 196.9Z" fill="#00cc00" stroke="#00cc00" stroke-width="0.6"/><path d="M169.3 196.9L172 195.4L169.6 193.7L166.9 195.1Z" fill="#01e800" stroke="#01e800" stroke-width="0.6"/><path d="M166.9 195.1L169.6 193.7L167.2 192L164.5 193.4Z" fill="#3ffe00" stroke="#3ffe00" stroke-width="0.6"/><path d="M164.5 193.4L167.2 192L164.9 190.3L162.1 191.7Z" fill="#a2ff00" stroke="#a2ff00" stroke-width="0.6"/><path d="M162.1 191.7L164.9 190.3L162.5 188.6L159.8 190Z" fill="#e8ff00" stroke="#e8ff00" stroke-width="0.6"/><path d="M159.8 190L162.5 188.6L160.2 187L157.4 188.4Z" fill="#fde300" stroke="#fde300" stroke-width="0.6"/><path d="M157.4 188.4L160.2 187L157.8 185.3L155.1 186.7Z" fill="#ffb100" stroke="#ffb100" stroke-width="0.6"/><path d="M155.1 186.7L157.8 185.3L155.5 183.6L152.8 185Z" fill="#ff8100" stroke="#ff8100" stroke-width="0.6"/><path d="M152.8 185L155.5 183.6L153.2 182L150.5 183.4Z" fill="#fc5500" stroke="#fc5500" stroke-width="0.6"/><path d="M150.5 183.4L153.2 182L150.9 180.3L148.2 181.7Z" fill="#f32e00" stroke="#f32e00" stroke-width="0.6"/><path d="M148.2 181.7L150.9 180.3L148.6 178.7L145.9 180.1Z" fill="#eb1600" stroke="#eb1600" stroke-width="0.6"/><path d="M145.9 180.1L148.6 178.7L146.3 177.1L143.6 178.4Z" fill="#e40700" stroke="#e40700" stroke-width="0.6"/><path d="M143.6 178.4L146.3 177.1L144 175.4L141.3 176.8Z" fill="#dd0000" stroke="#dd0000" stroke-width="0.6"/><path d="M141.3 176.8L144 175.4L141.8 173.8L139 175.2Z" fill="#d60000" stroke="#d60000" stroke-width="0.6"/><path d="M139 175.2L141.8 173.8L139.5 172.2L136.8 173.6Z" fill="#d10000" stroke="#d10000" stroke-width="0.6"/><path d="M136.8 173.6L139.5 172.2L137.2 170.6L134.5 171.9Z" fill="#ce0000" stroke="#ce0000" stroke-width="0.6"/><path d="M134.5 171.9L137.2 170.6L135 169L132.3 170.3Z" fill="#cc0000" stroke="#cc0000" stroke-width="0.6"/><path d="M132.3 170.3L135 169L132.8 167.4L130.1 168.7Z" fill="#cc0000" stroke="#cc0000" stroke-width="0.6"/><path d="M130.1 168.7L132.8 167.4L130.6 165.8L127.8 167.2Z" fill="#cd0000" stroke="#cd0000" stroke-width="0.6"/><path d="M127.8 167.2L130.6 165.8L128.3 164.2L125.6 165.6Z" fill="#cf0000" stroke="#cf0000" stroke-width="0.6"/><path d="M125.6 165.6L128.3 164.2L126.1 162.7L123.4 164Z" fill="#d30000" stroke="#d30000" stroke-width="0.6"/><path d="M123.4 164L126.1 162.7L124 161.1L121.3 162.4Z" fill="#d80000" stroke="#d80000" stroke-width="0.6"/><path d="M121.3 162.4L124 161.1L121.8 159.6L119.1 160.9Z" fill="#df0000" stroke="#df0000" stroke-width="0.6"/><path d="M119.1 160.9L121.8 159.6L119.6 158L116.9 159.3Z" fill="#e60c00" stroke="#e60c00" stroke-width="0.6"/><path d="M116.9 159.3L119.6 158L117.4 156.5L114.7 157.8Z" fill="#ee1c00" stroke="#ee1c00" stroke-width="0.6"/><path d="M114.7 157.8L117.4 156.5L115.3 154.9L112.6 156.2Z" fill="#f73c00" stroke="#f73c00" stroke-width="0.6"/><path d="M112.6 156.2L115.3 154.9L113.1 153.4L110.4 154.7Z" fill="#ff6500" stroke="#ff6500" stroke-width="0.6"/><path d="M110.4 154.7L113.1 153.4L111 151.9L108.3 153.1Z" fill="#ff9200" stroke="#ff9200" stroke-width="0.6"/><path d="M108.3 153.1L111 151.9L108.9 150.3L106.2 151.6Z" fill="#ffc500" stroke="#ffc500" stroke-width="0.6"/><path d="M106.2 151.6L108.9 150.3L106.7 148.8L104.1 150.1Z" fill="#f5ed00" stroke="#f5ed00" stroke-width="0.6"/><path d="M104.1 150.1L106.7 148.8L104.6 147.3L102 148.6Z" fill="#ceff00" stroke="#ceff00" stroke-width="0.6"/><path d="M102 148.6L104.6 147.3L102.5 145.8L99.9 147.1Z" fill="#7dff00" stroke="#7dff00" stroke-width="0.6"/><path d="M99.9 147.1L102.5 145.8L100.4 144.3L97.8 145.6Z" fill="#28f600" stroke="#28f600" stroke-width="0.6"/><path d="M97.8 145.6L100.4 144.3L98.4 142.8L95.7 144.1Z" fill="#00de00" stroke="#00de00" stroke-width="0.6"/><path d="M95.7 144.1L98.4 142.8L96.3 141.4L93.6 142.6Z" fill="#00c000" stroke="#00c000" stroke-width="0.6"/><path d="M93.6 142.6L96.3 141.4L94.2 139.9L91.5 141.1Z" fill="#009f10" stroke="#009f10" stroke-width="0.6"/><path d="M174.4 197.1L177.2 195.7L174.8 194L172 195.4Z" fill="#00ca00" stroke="#00ca00" stroke-width="0.6"/><path d="M172 195.4L174.8 194L172.4 192.3L169.6 193.7Z" fill="#00e700" stroke="#00e700" stroke-width="0.6"/><path d="M169.6 193.7L172.4 192.3L170 190.6L167.2 192Z" fill="#3cfe00" stroke="#3cfe00" stroke-width="0.6"/><path d="M167.2 192L170 190.6L167.6 188.9L164.9 190.3Z" fill="#9eff00" stroke="#9eff00" stroke-width="0.6"/><path d="M164.9 190.3L167.6 188.9L165.3 187.2L162.5 188.6Z" fill="#e6ff00" stroke="#e6ff00" stroke-width="0.6"/><path d="M162.5 188.6L165.3 187.2L162.9 185.6L160.2 187Z" fill="#fce400" stroke="#fce400" stroke-width="0.6"/><path d="M160.2 187L162.9 185.6L160.6 183.9L157.8 185.3Z" fill="#ffb200" stroke="#ffb200" stroke-width="0.6"/><path d="M157.8 185.3L160.6 183.9L158.2 182.3L155.5 183.6Z" fill="#ff8100" stroke="#ff8100" stroke-width="0.6"/><path d="M155.5 183.6L158.2 182.3L155.9 180.6L153.2 182Z" fill="#fc5500" stroke="#fc5500" stroke-width="0.6"/><path d="M153.2 182L155.9 180.6L153.6 179L150.9 180.3Z" fill="#f32d00" stroke="#f32d00" stroke-width="0.6"/><path d="M150.9 180.3L153.6 179L151.3 177.3L148.6 178.7Z" fill="#eb1500" stroke="#eb1500" stroke-width="0.6"/><path d="M148.6 178.7L151.3 177.3L149 175.7L146.3 177.1Z" fill="#e30600" stroke="#e30600" stroke-width="0.6"/><path d="M146.3 177.1L149 175.7L146.7 174.1L144 175.4Z" fill="#dc0000" stroke="#dc0000" stroke-width="0.6"/><path d="M144 175.4L146.7 174.1L144.5 172.5L141.8 173.8Z" fill="#d50000" stroke="#d50000" stroke-width="0.6"/><path d="M141.8 173.8L144.5 172.5L142.2 170.9L139.5 172.2Z" fill="#d00000" stroke="#d00000" stroke-width="0.6"/><path d="M139.5 172.2L142.2 170.9L140 169.3L137.2 170.6Z" fill="#cd0000" stroke="#cd0000" stroke-width="0.6"/><path d="M137.2 170.6L140 169.3L137.7 167.7L135 169Z" fill="#cb0000" stroke="#cb0000" stroke-width="0.6"/><path d="M135 169L137.7 167.7L135.5 166.1L132.8 167.4Z" fill="#cb0000" stroke="#cb0000" stroke-width="0.6"/><path d="M132.8 167.4L135.5 166.1L133.3 164.5L130.6 165.8Z" fill="#cb0000" stroke="#cb0000" stroke-width="0.6"/><path d="M130.6 165.8L133.3 164.5L131 162.9L128.3 164.2Z" fill="#cd0000" stroke="#cd0000" stroke-width="0.6"/><path d="M128.3 164.2L131 162.9L128.8 161.4L126.1 162.7Z" fill="#d10000" stroke="#d10000" stroke-width="0.6"/><path d="M126.1 162.7L128.8 161.4L126.6 159.8L124 161.1Z" fill="#d60000" stroke="#d60000" stroke-width="0.6"/><path d="M124 161.1L126.6 159.8L124.5 158.3L121.8 159.6Z" fill="#dd0000" stroke="#dd0000" stroke-width="0.6"/><path d="M121.8 159.6L124.5 158.3L122.3 156.7L119.6 158Z" fill="#e40800" stroke="#e40800" stroke-width="0.6"/><path d="M119.6 158L122.3 156.7L120.1 155.2L117.4 156.5Z" fill="#ec1800" stroke="#ec1800" stroke-width="0.6"/><path d="M117.4 156.5L120.1 155.2L118 153.6L115.3 154.9Z" fill="#f53300" stroke="#f53300" stroke-width="0.6"/><path d="M115.3 154.9L118 153.6L115.8 152.1L113.1 153.4Z" fill="#fe5b00" stroke="#fe5b00" stroke-width="0.6"/><path d="M113.1 153.4L115.8 152.1L113.7 150.6L111 151.9Z" fill="#ff8800" stroke="#ff8800" stroke-width="0.6"/><path d="M111 151.9L113.7 150.6L111.5 149.1L108.9 150.3Z" fill="#ffba00" stroke="#ffba00" stroke-width="0.6"/><path d="M108.9 150.3L111.5 149.1L109.4 147.6L106.7 148.8Z" fill="#f9e800" stroke="#f9e800" stroke-width="0.6"/><path d="M106.7 148.8L109.4 147.6L107.3 146.1L104.6 147.3Z" fill="#dbff00" stroke="#dbff00" stroke-width="0.6"/><path d="M104.6 147.3L107.3 146.1L105.2 144.6L102.5 145.8Z" fill="#8fff00" stroke="#8fff00" stroke-width="0.6"/><path d="M102.5 145.8L105.2 144.6L103.1 143.1L100.4 144.3Z" fill="#33fa00" stroke="#33fa00" stroke-width="0.6"/><path d="M100.4 144.3L103.1 143.1L101 141.6L98.4 142.8Z" fill="#00e300" stroke="#00e300" stroke-width="0.6"/><path d="M98.4 142.8L101 141.6L99 140.1L96.3 141.4Z" fill="#00c600" stroke="#00c600" stroke-width="0.6"/><path d="M96.3 141.4L99 140.1L96.9 138.7L94.2 139.9Z" fill="#00a50e" stroke="#00a50e" stroke-width="0.6"/><path d="M177.2 195.7L179.9 194.3L177.5 192.6L174.8 194Z" fill="#00c900" stroke="#00c900" stroke-width="0.6"/><path d="M174.8 194L177.5 192.6L175.1 190.9L172.4 192.3Z" fill="#00e600" stroke="#00e600" stroke-width="0.6"/><path d="M172.4 192.3L175.1 190.9L172.7 189.2L170 190.6Z" fill="#3afd00" stroke="#3afd00" stroke-width="0.6"/><path d="M170 190.6L172.7 189.2L170.3 187.5L167.6 188.9Z" fill="#9cff00" stroke="#9cff00" stroke-width="0.6"/><path d="M167.6 188.9L170.3 187.5L168 185.8L165.3 187.2Z" fill="#e5ff00" stroke="#e5ff00" stroke-width="0.6"/><path d="M165.3 187.2L168 185.8L165.6 184.2L162.9 185.6Z" fill="#fce400" stroke="#fce400" stroke-width="0.6"/><path d="M162.9 185.6L165.6 184.2L163.3 182.5L160.6 183.9Z" fill="#ffb200" stroke="#ffb200" stroke-width="0.6"/><path d="M160.6 183.9L163.3 182.5L160.9 180.9L158.2 182.3Z" fill="#ff8000" stroke="#ff8000" stroke-width="0.6"/><path d="M158.2 182.3L160.9 180.9L158.6 179.2L155.9 180.6Z" fill="#fc5400" stroke="#fc5400" stroke-width="0.6"/><path d="M155.9 180.6L158.6 179.2L156.3 177.6L153.6 179Z" fill="#f32c00" stroke="#f32c00" stroke-width="0.6"/><path d="M153.6 179L156.3 177.6L154 176L151.3 177.3Z" fill="#ea1400" stroke="#ea1400" stroke-width="0.6"/><path d="M151.3 177.3L154 176L151.7 174.3L149 175.7Z" fill="#e20500" stroke="#e20500" stroke-width="0.6"/><path d="M149 175.7L151.7 174.3L149.4 172.7L146.7 174.1Z" fill="#db0000" stroke="#db0000" stroke-width="0.6"/><path d="M146.7 174.1L149.4 172.7L147.2 171.1L144.5 172.5Z" fill="#d40000" stroke="#d40000" stroke-width="0.6"/><path d="M144.5 172.5L147.2 171.1L144.9 169.5L142.2 170.9Z" fill="#cf0000" stroke="#cf0000" stroke-width="0.6"/><path d="M142.2 170.9L144.9 169.5L142.7 167.9L140 169.3Z" fill="#cc0000" stroke="#cc0000" stroke-width="0.6"/><path d="M140 169.3L142.7 167.9L140.4 166.3L137.7 167.7Z" fill="#ca0000" stroke="#ca0000" stroke-width="0.6"/><path d="M137.7 167.7L140.4 166.3L138.2 164.8L135.5 166.1Z" fill="#ca0000" stroke="#ca0000" stroke-width="0.6"/><path d="M135.5 166.1L138.2 164.8L136 163.2L133.3 164.5Z" fill="#ca0000" stroke="#ca0000" stroke-width="0.6"/><path d="M133.3 164.5L136 163.2L133.7 161.6L131 162.9Z" fill="#cb0000" stroke="#cb0000" stroke-width="0.6"/><path d="M131 162.9L133.7 161.6L131.5 160.1L128.8 161.4Z" fill="#cf0000" stroke="#cf0000" stroke-width="0.6"/><path d="M128.8 161.4L131.5 160.1L129.3 158.5L126.6 159.8Z" fill="#d40000" stroke="#d40000" stroke-width="0.6"/><path d="M126.6 159.8L129.3 158.5L127.1 157L124.5 158.3Z" fill="#da0000" stroke="#da0000" stroke-width="0.6"/><path d="M124.5 158.3L127.1 157L125 155.4L122.3 156.7Z" fill="#e20400" stroke="#e20400" stroke-width="0.6"/><path d="M122.3 156.7L125 155.4L122.8 153.9L120.1 155.2Z" fill="#ea1300" stroke="#ea1300" stroke-width="0.6"/><path d="M120.1 155.2L122.8 153.9L120.6 152.4L118 153.6Z" fill="#f22900" stroke="#f22900" stroke-width="0.6"/><path d="M118 153.6L120.6 152.4L118.5 150.8L115.8 152.1Z" fill="#fb5100" stroke="#fb5100" stroke-width="0.6"/><path d="M115.8 152.1L118.5 150.8L116.4 149.3L113.7 150.6Z" fill="#ff7d00" stroke="#ff7d00" stroke-width="0.6"/><path d="M113.7 150.6L116.4 149.3L114.2 147.8L111.5 149.1Z" fill="#ffae00" stroke="#ffae00" stroke-width="0.6"/><path d="M111.5 149.1L114.2 147.8L112.1 146.3L109.4 147.6Z" fill="#fde200" stroke="#fde200" stroke-width="0.6"/><path d="M109.4 147.6L112.1 146.3L110 144.8L107.3 146.1Z" fill="#e8fe00" stroke="#e8fe00" stroke-width="0.6"/><path d="M107.3 146.1L110 144.8L107.9 143.3L105.2 144.6Z" fill="#a2ff00" stroke="#a2ff00" stroke-width="0.6"/><path d="M105.2 144.6L107.9 143.3L105.8 141.8L103.1 143.1Z" fill="#3efe00" stroke="#3efe00" stroke-width="0.6"/><path d="M103.1 143.1L105.8 141.8L103.7 140.4L101 141.6Z" fill="#00e800" stroke="#00e800" stroke-width="0.6"/><path d="M101 141.6L103.7 140.4L101.6 138.9L99 140.1Z" fill="#00cb00" stroke="#00cb00" stroke-width="0.6"/><path d="M99 140.1L101.6 138.9L99.5 137.4L96.9 138.7Z" fill="#00ab0b" stroke="#00ab0b" stroke-width="0.6"/><path d="M179.9 194.3L182.6 192.9L180.2 191.2L177.5 192.6Z" fill="#00c800" stroke="#00c800" stroke-width="0.6"/><path d="M177.5 192.6L180.2 191.2L177.8 189.5L175.1 190.9Z" fill="#00e600" stroke="#00e600" stroke-width="0.6"/><path d="M175.1 190.9L177.8 189.5L175.4 187.8L172.7 189.2Z" fill="#3afd00" stroke="#3afd00" stroke-width="0.6"/><path d="M172.7 189.2L175.4 187.8L173 186.1L170.3 187.5Z" fill="#9cff00" stroke="#9cff00" stroke-width="0.6"/><path d="M170.3 187.5L173 186.1L170.7 184.5L168 185.8Z" fill="#e5ff00" stroke="#e5ff00" stroke-width="0.6"/><path d="M168 185.8L170.7 184.5L168.3 182.8L165.6 184.2Z" fill="#fce400" stroke="#fce400" stroke-width="0.6"/><path d="M165.6 184.2L168.3 182.8L166 181.1L163.3 182.5Z" fill="#ffb100" stroke="#ffb100" stroke-width="0.6"/><path d="M163.3 182.5L166 181.1L163.7 179.5L160.9 180.9Z" fill="#ff7f00" stroke="#ff7f00" stroke-width="0.6"/><path d="M160.9 180.9L163.7 179.5L161.3 177.9L158.6 179.2Z" fill="#fc5100" stroke="#fc5100" stroke-width="0.6"/><path d="M158.6 179.2L161.3 177.9L159 176.2L156.3 177.6Z" fill="#f22900" stroke="#f22900" stroke-width="0.6"/><path d="M156.3 177.6L159 176.2L156.7 174.6L154 176Z" fill="#e91200" stroke="#e91200" stroke-width="0.6"/><path d="M154 176L156.7 174.6L154.4 173L151.7 174.3Z" fill="#e10300" stroke="#e10300" stroke-width="0.6"/><path d="M151.7 174.3L154.4 173L152.1 171.4L149.4 172.7Z" fill="#d90000" stroke="#d90000" stroke-width="0.6"/><path d="M149.4 172.7L152.1 171.4L149.9 169.8L147.2 171.1Z" fill="#d30000" stroke="#d30000" stroke-width="0.6"/><path d="M147.2 171.1L149.9 169.8L147.6 168.2L144.9 169.5Z" fill="#cd0000" stroke="#cd0000" stroke-width="0.6"/><path d="M144.9 169.5L147.6 168.2L145.3 166.6L142.7 167.9Z" fill="#ca0000" stroke="#ca0000" stroke-width="0.6"/><path d="M142.7 167.9L145.3 166.6L143.1 165L140.4 166.3Z" fill="#c90000" stroke="#c90000" stroke-width="0.6"/><path d="M140.4 166.3L143.1 165L140.9 163.4L138.2 164.8Z" fill="#c80000" stroke="#c80000" stroke-width="0.6"/><path d="M138.2 164.8L140.9 163.4L138.6 161.9L136 163.2Z" fill="#c90000" stroke="#c90000" stroke-width="0.6"/><path d="M136 163.2L138.6 161.9L136.4 160.3L133.7 161.6Z" fill="#ca0000" stroke="#ca0000" stroke-width="0.6"/><path d="M133.7 161.6L136.4 160.3L134.2 158.8L131.5 160.1Z" fill="#cc0000" stroke="#cc0000" stroke-width="0.6"/><path d="M131.5 160.1L134.2 158.8L132 157.2L129.3 158.5Z" fill="#d10000" stroke="#d10000" stroke-width="0.6"/><path d="M129.3 158.5L132 157.2L129.8 155.7L127.1 157Z" fill="#d70000" stroke="#d70000" stroke-width="0.6"/><path d="M127.1 157L129.8 155.7L127.6 154.1L125 155.4Z" fill="#df0000" stroke="#df0000" stroke-width="0.6"/><path d="M125 155.4L127.6 154.1L125.5 152.6L122.8 153.9Z" fill="#e70e00" stroke="#e70e00" stroke-width="0.6"/><path d="M122.8 153.9L125.5 152.6L123.3 151.1L120.6 152.4Z" fill="#ef1f00" stroke="#ef1f00" stroke-width="0.6"/><path d="M120.6 152.4L123.3 151.1L121.2 149.6L118.5 150.8Z" fill="#f94500" stroke="#f94500" stroke-width="0.6"/><path d="M118.5 150.8L121.2 149.6L119 148.1L116.4 149.3Z" fill="#ff7100" stroke="#ff7100" stroke-width="0.6"/><path d="M116.4 149.3L119 148.1L116.9 146.5L114.2 147.8Z" fill="#ffa200" stroke="#ffa200" stroke-width="0.6"/><path d="M114.2 147.8L116.9 146.5L114.8 145L112.1 146.3Z" fill="#ffd700" stroke="#ffd700" stroke-width="0.6"/><path d="M112.1 146.3L114.8 145L112.6 143.6L110 144.8Z" fill="#edf800" stroke="#edf800" stroke-width="0.6"/><path d="M110 144.8L112.6 143.6L110.5 142.1L107.9 143.3Z" fill="#b2ff00" stroke="#b2ff00" stroke-width="0.6"/><path d="M107.9 143.3L110.5 142.1L108.4 140.6L105.8 141.8Z" fill="#53ff00" stroke="#53ff00" stroke-width="0.6"/><path d="M105.8 141.8L108.4 140.6L106.3 139.1L103.7 140.4Z" fill="#0ded00" stroke="#0ded00" stroke-width="0.6"/><path d="M103.7 140.4L106.3 139.1L104.3 137.7L101.6 138.9Z" fill="#00d100" stroke="#00d100" stroke-width="0.6"/><path d="M101.6 138.9L104.3 137.7L102.2 136.2L99.5 137.4Z" fill="#00b207" stroke="#00b207" stroke-width="0.6"/><path d="M182.6 192.9L185.3 191.4L182.9 189.7L180.2 191.2Z" fill="#00c800" stroke="#00c800" stroke-width="0.6"/><path d="M180.2 191.2L182.9 189.7L180.5 188.1L177.8 189.5Z" fill="#00e600" stroke="#00e600" stroke-width="0.6"/><path d="M177.8 189.5L180.5 188.1L178.1 186.4L175.4 187.8Z" fill="#3afd00" stroke="#3afd00" stroke-width="0.6"/><path d="M175.4 187.8L178.1 186.4L175.8 184.7L173 186.1Z" fill="#9dff00" stroke="#9dff00" stroke-width="0.6"/><path d="M173 186.1L175.8 184.7L173.4 183.1L170.7 184.5Z" fill="#e7ff00" stroke="#e7ff00" stroke-width="0.6"/><path d="M170.7 184.5L173.4 183.1L171 181.4L168.3 182.8Z" fill="#fde300" stroke="#fde300" stroke-width="0.6"/><path d="M168.3 182.8L171 181.4L168.7 179.8L166 181.1Z" fill="#ffae00" stroke="#ffae00" stroke-width="0.6"/><path d="M166 181.1L168.7 179.8L166.3 178.1L163.7 179.5Z" fill="#ff7c00" stroke="#ff7c00" stroke-width="0.6"/><path d="M163.7 179.5L166.3 178.1L164 176.5L161.3 177.9Z" fill="#fb4e00" stroke="#fb4e00" stroke-width="0.6"/><path d="M161.3 177.9L164 176.5L161.7 174.9L159 176.2Z" fill="#f12500" stroke="#f12500" stroke-width="0.6"/><path d="M159 176.2L161.7 174.9L159.4 173.3L156.7 174.6Z" fill="#e81000" stroke="#e81000" stroke-width="0.6"/><path d="M156.7 174.6L159.4 173.3L157.1 171.6L154.4 173Z" fill="#e00000" stroke="#e00000" stroke-width="0.6"/><path d="M154.4 173L157.1 171.6L154.8 170L152.1 171.4Z" fill="#d80000" stroke="#d80000" stroke-width="0.6"/><path d="M152.1 171.4L154.8 170L152.5 168.4L149.9 169.8Z" fill="#d10000" stroke="#d10000" stroke-width="0.6"/><path d="M149.9 169.8L152.5 168.4L150.3 166.9L147.6 168.2Z" fill="#cc0000" stroke="#cc0000" stroke-width="0.6"/><path d="M147.6 168.2L150.3 166.9L148 165.3L145.3 166.6Z" fill="#c90000" stroke="#c90000" stroke-width="0.6"/><path d="M145.3 166.6L148 165.3L145.8 163.7L143.1 165Z" fill="#c80000" stroke="#c80000" stroke-width="0.6"/><path d="M143.1 165L145.8 163.7L143.5 162.1L140.9 163.4Z" fill="#c70000" stroke="#c70000" stroke-width="0.6"/><path d="M140.9 163.4L143.5 162.1L141.3 160.6L138.6 161.9Z" fill="#c70000" stroke="#c70000" stroke-width="0.6"/><path d="M138.6 161.9L141.3 160.6L139.1 159L136.4 160.3Z" fill="#c80000" stroke="#c80000" stroke-width="0.6"/><path d="M136.4 160.3L139.1 159L136.9 157.5L134.2 158.8Z" fill="#ca0000" stroke="#ca0000" stroke-width="0.6"/><path d="M134.2 158.8L136.9 157.5L134.7 155.9L132 157.2Z" fill="#ce0000" stroke="#ce0000" stroke-width="0.6"/><path d="M132 157.2L134.7 155.9L132.5 154.4L129.8 155.7Z" fill="#d40000" stroke="#d40000" stroke-width="0.6"/><path d="M129.8 155.7L132.5 154.4L130.3 152.8L127.6 154.1Z" fill="#dc0000" stroke="#dc0000" stroke-width="0.6"/><path d="M127.6 154.1L130.3 152.8L128.1 151.3L125.5 152.6Z" fill="#e40800" stroke="#e40800" stroke-width="0.6"/><path d="M125.5 152.6L128.1 151.3L126 149.8L123.3 151.1Z" fill="#ec1900" stroke="#ec1900" stroke-width="0.6"/><path d="M123.3 151.1L126 149.8L123.8 148.3L121.2 149.6Z" fill="#f63800" stroke="#f63800" stroke-width="0.6"/><path d="M121.2 149.6L123.8 148.3L121.7 146.8L119 148.1Z" fill="#ff6400" stroke="#ff6400" stroke-width="0.6"/><path d="M119 148.1L121.7 146.8L119.5 145.3L116.9 146.5Z" fill="#ff9400" stroke="#ff9400" stroke-width="0.6"/><path d="M116.9 146.5L119.5 145.3L117.4 143.8L114.8 145Z" fill="#ffc800" stroke="#ffc800" stroke-width="0.6"/><path d="M114.8 145L117.4 143.8L115.3 142.3L112.6 143.6Z" fill="#f3f000" stroke="#f3f000" stroke-width="0.6"/><path d="M112.6 143.6L115.3 142.3L113.2 140.8L110.5 142.1Z" fill="#c4ff00" stroke="#c4ff00" stroke-width="0.6"/><path d="M110.5 142.1L113.2 140.8L111.1 139.4L108.4 140.6Z" fill="#6cff00" stroke="#6cff00" stroke-width="0.6"/><path d="M108.4 140.6L111.1 139.4L109 137.9L106.3 139.1Z" fill="#1cf200" stroke="#1cf200" stroke-width="0.6"/><path d="M106.3 139.1L109 137.9L106.9 136.4L104.3 137.7Z" fill="#00d700" stroke="#00d700" stroke-width="0.6"/><path d="M104.3 137.7L106.9 136.4L104.8 135L102.2 136.2Z" fill="#00b904" stroke="#00b904" stroke-width="0.6"/><path d="M185.3 191.4L188 190L185.6 188.3L182.9 189.7Z" fill="#00c800" stroke="#00c800" stroke-width="0.6"/><path d="M182.9 189.7L185.6 188.3L183.2 186.7L180.5 188.1Z" fill="#00e600" stroke="#00e600" stroke-width="0.6"/><path d="M180.5 188.1L183.2 186.7L180.8 185L178.1 186.4Z" fill="#3bfd00" stroke="#3bfd00" stroke-width="0.6"/><path d="M178.1 186.4L180.8 185L178.4 183.3L175.8 184.7Z" fill="#a0ff00" stroke="#a0ff00" stroke-width="0.6"/><path d="M175.8 184.7L178.4 183.3L176.1 181.7L173.4 183.1Z" fill="#e8fe00" stroke="#e8fe00" stroke-width="0.6"/><path d="M173.4 183.1L176.1 181.7L173.7 180L171 181.4Z" fill="#fee100" stroke="#fee100" stroke-width="0.6"/><path d="M171 181.4L173.7 180L171.4 178.4L168.7 179.8Z" fill="#ffaa00" stroke="#ffaa00" stroke-width="0.6"/><path d="M168.7 179.8L171.4 178.4L169 176.8L166.3 178.1Z" fill="#ff7700" stroke="#ff7700" stroke-width="0.6"/><path d="M166.3 178.1L169 176.8L166.7 175.1L164 176.5Z" fill="#fa4900" stroke="#fa4900" stroke-width="0.6"/><path d="M164 176.5L166.7 175.1L164.4 173.5L161.7 174.9Z" fill="#f02000" stroke="#f02000" stroke-width="0.6"/><path d="M161.7 174.9L164.4 173.5L162.1 171.9L159.4 173.3Z" fill="#e70d00" stroke="#e70d00" stroke-width="0.6"/><path d="M159.4 173.3L162.1 171.9L159.8 170.3L157.1 171.6Z" fill="#de0000" stroke="#de0000" stroke-width="0.6"/><path d="M157.1 171.6L159.8 170.3L157.5 168.7L154.8 170Z" fill="#d60000" stroke="#d60000" stroke-width="0.6"/><path d="M154.8 170L157.5 168.7L155.2 167.1L152.5 168.4Z" fill="#ce0000" stroke="#ce0000" stroke-width="0.6"/><path d="M152.5 168.4L155.2 167.1L153 165.5L150.3 166.9Z" fill="#ca0000" stroke="#ca0000" stroke-width="0.6"/><path d="M150.3 166.9L153 165.5L150.7 164L148 165.3Z" fill="#c80000" stroke="#c80000" stroke-width="0.6"/><path d="M148 165.3L150.7 164L148.4 162.4L145.8 163.7Z" fill="#c60000" stroke="#c60000" stroke-width="0.6"/><path d="M145.8 163.7L148.4 162.4L146.2 160.8L143.5 162.1Z" fill="#c50000" stroke="#c50000" stroke-width="0.6"/><path d="M143.5 162.1L146.2 160.8L144 159.3L141.3 160.6Z" fill="#c50000" stroke="#c50000" stroke-width="0.6"/><path d="M141.3 160.6L144 159.3L141.8 157.7L139.1 159Z" fill="#c60000" stroke="#c60000" stroke-width="0.6"/><path d="M139.1 159L141.8 157.7L139.5 156.2L136.9 157.5Z" fill="#c80000" stroke="#c80000" stroke-width="0.6"/><path d="M136.9 157.5L139.5 156.2L137.3 154.6L134.7 155.9Z" fill="#cb0000" stroke="#cb0000" stroke-width="0.6"/><path d="M134.7 155.9L137.3 154.6L135.1 153.1L132.5 154.4Z" fill="#d00000" stroke="#d00000" stroke-width="0.6"/><path d="M132.5 154.4L135.1 153.1L133 151.6L130.3 152.8Z" fill="#d80000" stroke="#d80000" stroke-width="0.6"/><path d="M130.3 152.8L133 151.6L130.8 150L128.1 151.3Z" fill="#e10100" stroke="#e10100" stroke-width="0.6"/><path d="M128.1 151.3L130.8 150L128.6 148.5L126 149.8Z" fill="#e91200" stroke="#e91200" stroke-width="0.6"/><path d="M126 149.8L128.6 148.5L126.5 147L123.8 148.3Z" fill="#f22a00" stroke="#f22a00" stroke-width="0.6"/><path d="M123.8 148.3L126.5 147L124.3 145.5L121.7 146.8Z" fill="#fc5500" stroke="#fc5500" stroke-width="0.6"/><path d="M121.7 146.8L124.3 145.5L122.2 144L119.5 145.3Z" fill="#ff8500" stroke="#ff8500" stroke-width="0.6"/><path d="M119.5 145.3L122.2 144L120.1 142.5L117.4 143.8Z" fill="#ffb900" stroke="#ffb900" stroke-width="0.6"/><path d="M117.4 143.8L120.1 142.5L117.9 141.1L115.3 142.3Z" fill="#f9e900" stroke="#f9e900" stroke-width="0.6"/><path d="M115.3 142.3L117.9 141.1L115.8 139.6L113.2 140.8Z" fill="#d7ff00" stroke="#d7ff00" stroke-width="0.6"/><path d="M113.2 140.8L115.8 139.6L113.7 138.1L111.1 139.4Z" fill="#85ff00" stroke="#85ff00" stroke-width="0.6"/><path d="M111.1 139.4L113.7 138.1L111.6 136.7L109 137.9Z" fill="#2bf700" stroke="#2bf700" stroke-width="0.6"/><path d="M109 137.9L111.6 136.7L109.5 135.2L106.9 136.4Z" fill="#00de00" stroke="#00de00" stroke-width="0.6"/><path d="M106.9 136.4L109.5 135.2L107.5 133.8L104.8 135Z" fill="#00c000" stroke="#00c000" stroke-width="0.6"/><path d="M188 190L190.7 188.6L188.3 186.9L185.6 188.3Z" fill="#00c900" stroke="#00c900" stroke-width="0.6"/><path d="M185.6 188.3L188.3 186.9L185.9 185.3L183.2 186.7Z" fill="#00e700" stroke="#00e700" stroke-width="0.6"/><path d="M183.2 186.7L185.9 185.3L183.5 183.6L180.8 185Z" fill="#3efe00" stroke="#3efe00" stroke-width="0.6"/><path d="M180.8 185L183.5 183.6L181.1 182L178.4 183.3Z" fill="#a4ff00" stroke="#a4ff00" stroke-width="0.6"/><path d="M178.4 183.3L181.1 182L178.8 180.3L176.1 181.7Z" fill="#eafd00" stroke="#eafd00" stroke-width="0.6"/><path d="M176.1 181.7L178.8 180.3L176.4 178.7L173.7 180Z" fill="#ffde00" stroke="#ffde00" stroke-width="0.6"/><path d="M173.7 180L176.4 178.7L174.1 177L171.4 178.4Z" fill="#ffa600" stroke="#ffa600" stroke-width="0.6"/><path d="M171.4 178.4L174.1 177L171.7 175.4L169 176.8Z" fill="#ff7200" stroke="#ff7200" stroke-width="0.6"/><path d="M169 176.8L171.7 175.4L169.4 173.8L166.7 175.1Z" fill="#f84300" stroke="#f84300" stroke-width="0.6"/><path d="M166.7 175.1L169.4 173.8L167.1 172.2L164.4 173.5Z" fill="#ee1d00" stroke="#ee1d00" stroke-width="0.6"/><path d="M164.4 173.5L167.1 172.2L164.8 170.6L162.1 171.9Z" fill="#e50a00" stroke="#e50a00" stroke-width="0.6"/><path d="M162.1 171.9L164.8 170.6L162.5 169L159.8 170.3Z" fill="#dc0000" stroke="#dc0000" stroke-width="0.6"/><path d="M159.8 170.3L162.5 169L160.2 167.4L157.5 168.7Z" fill="#d30000" stroke="#d30000" stroke-width="0.6"/><path d="M157.5 168.7L160.2 167.4L157.9 165.8L155.2 167.1Z" fill="#cc0000" stroke="#cc0000" stroke-width="0.6"/><path d="M155.2 167.1L157.9 165.8L155.6 164.2L153 165.5Z" fill="#c80000" stroke="#c80000" stroke-width="0.6"/><path d="M153 165.5L155.6 164.2L153.4 162.6L150.7 164Z" fill="#c60000" stroke="#c60000" stroke-width="0.6"/><path d="M150.7 164L153.4 162.6L151.1 161.1L148.4 162.4Z" fill="#c40000" stroke="#c40000" stroke-width="0.6"/><path d="M148.4 162.4L151.1 161.1L148.9 159.5L146.2 160.8Z" fill="#c30000" stroke="#c30000" stroke-width="0.6"/><path d="M146.2 160.8L148.9 159.5L146.6 158L144 159.3Z" fill="#c30000" stroke="#c30000" stroke-width="0.6"/><path d="M144 159.3L146.6 158L144.4 156.4L141.8 157.7Z" fill="#c40000" stroke="#c40000" stroke-width="0.6"/><path d="M141.8 157.7L144.4 156.4L142.2 154.9L139.5 156.2Z" fill="#c60000" stroke="#c60000" stroke-width="0.6"/><path d="M139.5 156.2L142.2 154.9L140 153.3L137.3 154.6Z" fill="#c90000" stroke="#c90000" stroke-width="0.6"/><path d="M137.3 154.6L140 153.3L137.8 151.8L135.1 153.1Z" fill="#cc0000" stroke="#cc0000" stroke-width="0.6"/><path d="M135.1 153.1L137.8 151.8L135.6 150.3L133 151.6Z" fill="#d40000" stroke="#d40000" stroke-width="0.6"/><path d="M133 151.6L135.6 150.3L133.4 148.8L130.8 150Z" fill="#dc0000" stroke="#dc0000" stroke-width="0.6"/><path d="M130.8 150L133.4 148.8L131.3 147.3L128.6 148.5Z" fill="#e50b00" stroke="#e50b00" stroke-width="0.6"/><path d="M128.6 148.5L131.3 147.3L129.1 145.8L126.5 147Z" fill="#ef1d00" stroke="#ef1d00" stroke-width="0.6"/><path d="M126.5 147L129.1 145.8L127 144.3L124.3 145.5Z" fill="#f94500" stroke="#f94500" stroke-width="0.6"/><path d="M124.3 145.5L127 144.3L124.8 142.8L122.2 144Z" fill="#ff7400" stroke="#ff7400" stroke-width="0.6"/><path d="M122.2 144L124.8 142.8L122.7 141.3L120.1 142.5Z" fill="#ffa800" stroke="#ffa800" stroke-width="0.6"/><path d="M120.1 142.5L122.7 141.3L120.6 139.8L117.9 141.1Z" fill="#ffe000" stroke="#ffe000" stroke-width="0.6"/><path d="M117.9 141.1L120.6 139.8L118.4 138.4L115.8 139.6Z" fill="#e9fe00" stroke="#e9fe00" stroke-width="0.6"/><path d="M115.8 139.6L118.4 138.4L116.3 136.9L113.7 138.1Z" fill="#a1ff00" stroke="#a1ff00" stroke-width="0.6"/><path d="M113.7 138.1L116.3 136.9L114.2 135.4L111.6 136.7Z" fill="#3bfd00" stroke="#3bfd00" stroke-width="0.6"/><path d="M111.6 136.7L114.2 135.4L112.2 134L109.5 135.2Z" fill="#00e600" stroke="#00e600" stroke-width="0.6"/><path d="M109.5 135.2L112.2 134L110.1 132.5L107.5 133.8Z" fill="#00c800" stroke="#00c800" stroke-width="0.6"/><path d="M190.7 188.6L193.4 187.2L191 185.5L188.3 186.9Z" fill="#00ca00" stroke="#00ca00" stroke-width="0.6"/><path d="M188.3 186.9L191 185.5L188.6 183.9L185.9 185.3Z" fill="#00e800" stroke="#00e800" stroke-width="0.6"/><path d="M185.9 185.3L188.6 183.9L186.2 182.2L183.5 183.6Z" fill="#41ff00" stroke="#41ff00" stroke-width="0.6"/><path d="M183.5 183.6L186.2 182.2L183.8 180.6L181.1 182Z" fill="#a9ff00" stroke="#a9ff00" stroke-width="0.6"/><path d="M181.1 182L183.8 180.6L181.4 178.9L178.8 180.3Z" fill="#ecfa00" stroke="#ecfa00" stroke-width="0.6"/><path d="M178.8 180.3L181.4 178.9L179.1 177.3L176.4 178.7Z" fill="#ffd900" stroke="#ffd900" stroke-width="0.6"/><path d="M176.4 178.7L179.1 177.3L176.7 175.7L174.1 177Z" fill="#ffa000" stroke="#ffa000" stroke-width="0.6"/><path d="M174.1 177L176.7 175.7L174.4 174L171.7 175.4Z" fill="#ff6c00" stroke="#ff6c00" stroke-width="0.6"/><path d="M171.7 175.4L174.4 174L172 172.4L169.4 173.8Z" fill="#f73c00" stroke="#f73c00" stroke-width="0.6"/><path d="M169.4 173.8L172 172.4L169.7 170.8L167.1 172.2Z" fill="#ec1900" stroke="#ec1900" stroke-width="0.6"/><path d="M167.1 172.2L169.7 170.8L167.4 169.2L164.8 170.6Z" fill="#e30600" stroke="#e30600" stroke-width="0.6"/><path d="M164.8 170.6L167.4 169.2L165.1 167.6L162.5 169Z" fill="#d90000" stroke="#d90000" stroke-width="0.6"/><path d="M162.5 169L165.1 167.6L162.8 166L160.2 167.4Z" fill="#d00000" stroke="#d00000" stroke-width="0.6"/><path d="M160.2 167.4L162.8 166L160.5 164.5L157.9 165.8Z" fill="#ca0000" stroke="#ca0000" stroke-width="0.6"/><path d="M157.9 165.8L160.5 164.5L158.3 162.9L155.6 164.2Z" fill="#c70000" stroke="#c70000" stroke-width="0.6"/><path d="M155.6 164.2L158.3 162.9L156 161.3L153.4 162.6Z" fill="#c40000" stroke="#c40000" stroke-width="0.6"/><path d="M153.4 162.6L156 161.3L153.8 159.8L151.1 161.1Z" fill="#c20000" stroke="#c20000" stroke-width="0.6"/><path d="M151.1 161.1L153.8 159.8L151.5 158.2L148.9 159.5Z" fill="#c10000" stroke="#c10000" stroke-width="0.6"/><path d="M148.9 159.5L151.5 158.2L149.3 156.7L146.6 158Z" fill="#c10000" stroke="#c10000" stroke-width="0.6"/><path d="M146.6 158L149.3 156.7L147.1 155.1L144.4 156.4Z" fill="#c20000" stroke="#c20000" stroke-width="0.6"/><path d="M144.4 156.4L147.1 155.1L144.8 153.6L142.2 154.9Z" fill="#c30000" stroke="#c30000" stroke-width="0.6"/><path d="M142.2 154.9L144.8 153.6L142.6 152.1L140 153.3Z" fill="#c60000" stroke="#c60000" stroke-width="0.6"/><path d="M140 153.3L142.6 152.1L140.4 150.5L137.8 151.8Z" fill="#c90000" stroke="#c90000" stroke-width="0.6"/><path d="M137.8 151.8L140.4 150.5L138.2 149L135.6 150.3Z" fill="#cf0000" stroke="#cf0000" stroke-width="0.6"/><path d="M135.6 150.3L138.2 149L136.1 147.5L133.4 148.8Z" fill="#d80000" stroke="#d80000" stroke-width="0.6"/><path d="M133.4 148.8L136.1 147.5L133.9 146L131.3 147.3Z" fill="#e10300" stroke="#e10300" stroke-width="0.6"/><path d="M131.3 147.3L133.9 146L131.7 144.5L129.1 145.8Z" fill="#eb1500" stroke="#eb1500" stroke-width="0.6"/><path d="M129.1 145.8L131.7 144.5L129.6 143L127 144.3Z" fill="#f53400" stroke="#f53400" stroke-width="0.6"/><path d="M127 144.3L129.6 143L127.4 141.5L124.8 142.8Z" fill="#ff6300" stroke="#ff6300" stroke-width="0.6"/><path d="M124.8 142.8L127.4 141.5L125.3 140.1L122.7 141.3Z" fill="#ff9600" stroke="#ff9600" stroke-width="0.6"/><path d="M122.7 141.3L125.3 140.1L123.2 138.6L120.6 139.8Z" fill="#ffce00" stroke="#ffce00" stroke-width="0.6"/><path d="M120.6 139.8L123.2 138.6L121.1 137.1L118.4 138.4Z" fill="#f0f500" stroke="#f0f500" stroke-width="0.6"/><path d="M118.4 138.4L121.1 137.1L119 135.7L116.3 136.9Z" fill="#b7ff00" stroke="#b7ff00" stroke-width="0.6"/><path d="M116.3 136.9L119 135.7L116.9 134.2L114.2 135.4Z" fill="#55ff00" stroke="#55ff00" stroke-width="0.6"/><path d="M114.2 135.4L116.9 134.2L114.8 132.8L112.2 134Z" fill="#0cec00" stroke="#0cec00" stroke-width="0.6"/><path d="M112.2 134L114.8 132.8L112.7 131.3L110.1 132.5Z" fill="#00cf00" stroke="#00cf00" stroke-width="0.6"/><path d="M193.4 187.2L196.1 185.8L193.7 184.2L191 185.5Z" fill="#00cb00" stroke="#00cb00" stroke-width="0.6"/><path d="M191 185.5L193.7 184.2L191.3 182.5L188.6 183.9Z" fill="#04e900" stroke="#04e900" stroke-width="0.6"/><path d="M188.6 183.9L191.3 182.5L188.9 180.8L186.2 182.2Z" fill="#49ff00" stroke="#49ff00" stroke-width="0.6"/><path d="M186.2 182.2L188.9 180.8L186.5 179.2L183.8 180.6Z" fill="#afff00" stroke="#afff00" stroke-width="0.6"/><path d="M183.8 180.6L186.5 179.2L184.1 177.6L181.4 178.9Z" fill="#eef700" stroke="#eef700" stroke-width="0.6"/><path d="M181.4 178.9L184.1 177.6L181.7 175.9L179.1 177.3Z" fill="#ffd200" stroke="#ffd200" stroke-width="0.6"/><path d="M179.1 177.3L181.7 175.9L179.4 174.3L176.7 175.7Z" fill="#ff9900" stroke="#ff9900" stroke-width="0.6"/><path d="M176.7 175.7L179.4 174.3L177 172.7L174.4 174Z" fill="#ff6400" stroke="#ff6400" stroke-width="0.6"/><path d="M174.4 174L177 172.7L174.7 171.1L172 172.4Z" fill="#f53400" stroke="#f53400" stroke-width="0.6"/><path d="M172 172.4L174.7 171.1L172.4 169.5L169.7 170.8Z" fill="#ea1500" stroke="#ea1500" stroke-width="0.6"/><path d="M169.7 170.8L172.4 169.5L170.1 167.9L167.4 169.2Z" fill="#e10100" stroke="#e10100" stroke-width="0.6"/><path d="M167.4 169.2L170.1 167.9L167.8 166.3L165.1 167.6Z" fill="#d60000" stroke="#d60000" stroke-width="0.6"/><path d="M165.1 167.6L167.8 166.3L165.5 164.7L162.8 166Z" fill="#cd0000" stroke="#cd0000" stroke-width="0.6"/><path d="M162.8 166L165.5 164.7L163.2 163.1L160.5 164.5Z" fill="#c80000" stroke="#c80000" stroke-width="0.6"/><path d="M160.5 164.5L163.2 163.1L160.9 161.6L158.3 162.9Z" fill="#c40000" stroke="#c40000" stroke-width="0.6"/><path d="M158.3 162.9L160.9 161.6L158.7 160L156 161.3Z" fill="#c20000" stroke="#c20000" stroke-width="0.6"/><path d="M156 161.3L158.7 160L156.4 158.5L153.8 159.8Z" fill="#c00000" stroke="#c00000" stroke-width="0.6"/><path d="M153.8 159.8L156.4 158.5L154.2 156.9L151.5 158.2Z" fill="#bf0000" stroke="#bf0000" stroke-width="0.6"/><path d="M151.5 158.2L154.2 156.9L151.9 155.4L149.3 156.7Z" fill="#be0000" stroke="#be0000" stroke-width="0.6"/><path d="M149.3 156.7L151.9 155.4L149.7 153.8L147.1 155.1Z" fill="#bf0000" stroke="#bf0000" stroke-width="0.6"/><path d="M147.1 155.1L149.7 153.8L147.5 152.3L144.8 153.6Z" fill="#c10000" stroke="#c10000" stroke-width="0.6"/><path d="M144.8 153.6L147.5 152.3L145.3 150.8L142.6 152.1Z" fill="#c30000" stroke="#c30000" stroke-width="0.6"/><path d="M142.6 152.1L145.3 150.8L143.1 149.3L140.4 150.5Z" fill="#c70000" stroke="#c70000" stroke-width="0.6"/><path d="M140.4 150.5L143.1 149.3L140.9 147.8L138.2 149Z" fill="#cb0000" stroke="#cb0000" stroke-width="0.6"/><path d="M138.2 149L140.9 147.8L138.7 146.3L136.1 147.5Z" fill="#d20000" stroke="#d20000" stroke-width="0.6"/><path d="M136.1 147.5L138.7 146.3L136.5 144.8L133.9 146Z" fill="#dc0000" stroke="#dc0000" stroke-width="0.6"/><path d="M133.9 146L136.5 144.8L134.4 143.3L131.7 144.5Z" fill="#e60d00" stroke="#e60d00" stroke-width="0.6"/><path d="M131.7 144.5L134.4 143.3L132.2 141.8L129.6 143Z" fill="#f12200" stroke="#f12200" stroke-width="0.6"/><path d="M129.6 143L132.2 141.8L130.1 140.3L127.4 141.5Z" fill="#fb5000" stroke="#fb5000" stroke-width="0.6"/><path d="M127.4 141.5L130.1 140.3L127.9 138.8L125.3 140.1Z" fill="#ff8300" stroke="#ff8300" stroke-width="0.6"/><path d="M125.3 140.1L127.9 138.8L125.8 137.4L123.2 138.6Z" fill="#ffba00" stroke="#ffba00" stroke-width="0.6"/><path d="M123.2 138.6L125.8 137.4L123.7 135.9L121.1 137.1Z" fill="#f7eb00" stroke="#f7eb00" stroke-width="0.6"/><path d="M121.1 137.1L123.7 135.9L121.6 134.4L119 135.7Z" fill="#ceff00" stroke="#ceff00" stroke-width="0.6"/><path d="M119 135.7L121.6 134.4L119.5 133L116.9 134.2Z" fill="#75ff00" stroke="#75ff00" stroke-width="0.6"/><path d="M116.9 134.2L119.5 133L117.4 131.6L114.8 132.8Z" fill="#1ff300" stroke="#1ff300" stroke-width="0.6"/><path d="M114.8 132.8L117.4 131.6L115.3 130.1L112.7 131.3Z" fill="#00d800" stroke="#00d800" stroke-width="0.6"/><path d="M196.1 185.8L198.7 184.4L196.3 182.8L193.7 184.2Z" fill="#00cd00" stroke="#00cd00" stroke-width="0.6"/><path d="M193.7 184.2L196.3 182.8L193.9 181.1L191.3 182.5Z" fill="#09eb00" stroke="#09eb00" stroke-width="0.6"/><path d="M191.3 182.5L193.9 181.1L191.5 179.5L188.9 180.8Z" fill="#52ff00" stroke="#52ff00" stroke-width="0.6"/><path d="M188.9 180.8L191.5 179.5L189.1 177.8L186.5 179.2Z" fill="#b6ff00" stroke="#b6ff00" stroke-width="0.6"/><path d="M186.5 179.2L189.1 177.8L186.8 176.2L184.1 177.6Z" fill="#f0f400" stroke="#f0f400" stroke-width="0.6"/><path d="M184.1 177.6L186.8 176.2L184.4 174.6L181.7 175.9Z" fill="#ffca00" stroke="#ffca00" stroke-width="0.6"/><path d="M181.7 175.9L184.4 174.6L182 173L179.4 174.3Z" fill="#ff9100" stroke="#ff9100" stroke-width="0.6"/><path d="M179.4 174.3L182 173L179.7 171.3L177 172.7Z" fill="#fe5b00" stroke="#fe5b00" stroke-width="0.6"/><path d="M177 172.7L179.7 171.3L177.4 169.7L174.7 171.1Z" fill="#f32b00" stroke="#f32b00" stroke-width="0.6"/><path d="M174.7 171.1L177.4 169.7L175 168.1L172.4 169.5Z" fill="#e81000" stroke="#e81000" stroke-width="0.6"/><path d="M172.4 169.5L175 168.1L172.7 166.6L170.1 167.9Z" fill="#de0000" stroke="#de0000" stroke-width="0.6"/><path d="M170.1 167.9L172.7 166.6L170.4 165L167.8 166.3Z" fill="#d30000" stroke="#d30000" stroke-width="0.6"/><path d="M167.8 166.3L170.4 165L168.1 163.4L165.5 164.7Z" fill="#cb0000" stroke="#cb0000" stroke-width="0.6"/><path d="M165.5 164.7L168.1 163.4L165.8 161.8L163.2 163.1Z" fill="#c60000" stroke="#c60000" stroke-width="0.6"/><path d="M163.2 163.1L165.8 161.8L163.6 160.3L160.9 161.6Z" fill="#c20000" stroke="#c20000" stroke-width="0.6"/><path d="M160.9 161.6L163.6 160.3L161.3 158.7L158.7 160Z" fill="#bf0000" stroke="#bf0000" stroke-width="0.6"/><path d="M158.7 160L161.3 158.7L159 157.2L156.4 158.5Z" fill="#bd0000" stroke="#bd0000" stroke-width="0.6"/><path d="M156.4 158.5L159 157.2L156.8 155.6L154.2 156.9Z" fill="#bc0000" stroke="#bc0000" stroke-width="0.6"/><path d="M154.2 156.9L156.8 155.6L154.5 154.1L151.9 155.4Z" fill="#bc0000" stroke="#bc0000" stroke-width="0.6"/><path d="M151.9 155.4L154.5 154.1L152.3 152.6L149.7 153.8Z" fill="#bc0000" stroke="#bc0000" stroke-width="0.6"/><path d="M149.7 153.8L152.3 152.6L150.1 151L147.5 152.3Z" fill="#be0000" stroke="#be0000" stroke-width="0.6"/><path d="M147.5 152.3L150.1 151L147.9 149.5L145.3 150.8Z" fill="#c00000" stroke="#c00000" stroke-width="0.6"/><path d="M145.3 150.8L147.9 149.5L145.7 148L143.1 149.3Z" fill="#c30000" stroke="#c30000" stroke-width="0.6"/><path d="M143.1 149.3L145.7 148L143.5 146.5L140.9 147.8Z" fill="#c80000" stroke="#c80000" stroke-width="0.6"/><path d="M140.9 147.8L143.5 146.5L141.3 145L138.7 146.3Z" fill="#cd0000" stroke="#cd0000" stroke-width="0.6"/><path d="M138.7 146.3L141.3 145L139.1 143.5L136.5 144.8Z" fill="#d70000" stroke="#d70000" stroke-width="0.6"/><path d="M136.5 144.8L139.1 143.5L137 142L134.4 143.3Z" fill="#e20300" stroke="#e20300" stroke-width="0.6"/><path d="M134.4 143.3L137 142L134.8 140.5L132.2 141.8Z" fill="#ec1800" stroke="#ec1800" stroke-width="0.6"/><path d="M132.2 141.8L134.8 140.5L132.7 139.1L130.1 140.3Z" fill="#f73d00" stroke="#f73d00" stroke-width="0.6"/><path d="M130.1 140.3L132.7 139.1L130.5 137.6L127.9 138.8Z" fill="#ff6f00" stroke="#ff6f00" stroke-width="0.6"/><path d="M127.9 138.8L130.5 137.6L128.4 136.1L125.8 137.4Z" fill="#ffa600" stroke="#ffa600" stroke-width="0.6"/><path d="M125.8 137.4L128.4 136.1L126.3 134.7L123.7 135.9Z" fill="#ffe100" stroke="#ffe100" stroke-width="0.6"/><path d="M123.7 135.9L126.3 134.7L124.2 133.2L121.6 134.4Z" fill="#e6ff00" stroke="#e6ff00" stroke-width="0.6"/><path d="M121.6 134.4L124.2 133.2L122.1 131.8L119.5 133Z" fill="#96ff00" stroke="#96ff00" stroke-width="0.6"/><path d="M119.5 133L122.1 131.8L120 130.3L117.4 131.6Z" fill="#32fa00" stroke="#32fa00" stroke-width="0.6"/><path d="M117.4 131.6L120 130.3L117.9 128.9L115.3 130.1Z" fill="#00e100" stroke="#00e100" stroke-width="0.6"/><path d="M198.7 184.4L201.4 183L199 181.4L196.3 182.8Z" fill="#00d000" stroke="#00d000" stroke-width="0.6"/><path d="M196.3 182.8L199 181.4L196.6 179.7L193.9 181.1Z" fill="#0eed00" stroke="#0eed00" stroke-width="0.6"/><path d="M193.9 181.1L196.6 179.7L194.2 178.1L191.5 179.5Z" fill="#5dff00" stroke="#5dff00" stroke-width="0.6"/><path d="M191.5 179.5L194.2 178.1L191.8 176.5L189.1 177.8Z" fill="#bfff00" stroke="#bfff00" stroke-width="0.6"/><path d="M189.1 177.8L191.8 176.5L189.4 174.8L186.8 176.2Z" fill="#f3f000" stroke="#f3f000" stroke-width="0.6"/><path d="M186.8 176.2L189.4 174.8L187 173.2L184.4 174.6Z" fill="#ffc200" stroke="#ffc200" stroke-width="0.6"/><path d="M184.4 174.6L187 173.2L184.7 171.6L182 173Z" fill="#ff8700" stroke="#ff8700" stroke-width="0.6"/><path d="M182 173L184.7 171.6L182.3 170L179.7 171.3Z" fill="#fc5200" stroke="#fc5200" stroke-width="0.6"/><path d="M179.7 171.3L182.3 170L180 168.4L177.4 169.7Z" fill="#f02100" stroke="#f02100" stroke-width="0.6"/><path d="M177.4 169.7L180 168.4L177.7 166.8L175 168.1Z" fill="#e50a00" stroke="#e50a00" stroke-width="0.6"/><path d="M175 168.1L177.7 166.8L175.4 165.2L172.7 166.6Z" fill="#da0000" stroke="#da0000" stroke-width="0.6"/><path d="M172.7 166.6L175.4 165.2L173 163.7L170.4 165Z" fill="#cf0000" stroke="#cf0000" stroke-width="0.6"/><path d="M170.4 165L173 163.7L170.8 162.1L168.1 163.4Z" fill="#c80000" stroke="#c80000" stroke-width="0.6"/><path d="M168.1 163.4L170.8 162.1L168.5 160.5L165.8 161.8Z" fill="#c30000" stroke="#c30000" stroke-width="0.6"/><path d="M165.8 161.8L168.5 160.5L166.2 159L163.6 160.3Z" fill="#c00000" stroke="#c00000" stroke-width="0.6"/><path d="M163.6 160.3L166.2 159L163.9 157.4L161.3 158.7Z" fill="#bd0000" stroke="#bd0000" stroke-width="0.6"/><path d="M161.3 158.7L163.9 157.4L161.7 155.9L159 157.2Z" fill="#bb0000" stroke="#bb0000" stroke-width="0.6"/><path d="M159 157.2L161.7 155.9L159.4 154.3L156.8 155.6Z" fill="#ba0000" stroke="#ba0000" stroke-width="0.6"/><path d="M156.8 155.6L159.4 154.3L157.2 152.8L154.5 154.1Z" fill="#b90000" stroke="#b90000" stroke-width="0.6"/><path d="M154.5 154.1L157.2 152.8L154.9 151.3L152.3 152.6Z" fill="#ba0000" stroke="#ba0000" stroke-width="0.6"/><path d="M152.3 152.6L154.9 151.3L152.7 149.8L150.1 151Z" fill="#bb0000" stroke="#bb0000" stroke-width="0.6"/><path d="M150.1 151L152.7 149.8L150.5 148.2L147.9 149.5Z" fill="#bd0000" stroke="#bd0000" stroke-width="0.6"/><path d="M147.9 149.5L150.5 148.2L148.3 146.7L145.7 148Z" fill="#c00000" stroke="#c00000" stroke-width="0.6"/><path d="M145.7 148L148.3 146.7L146.1 145.2L143.5 146.5Z" fill="#c40000" stroke="#c40000" stroke-width="0.6"/><path d="M143.5 146.5L146.1 145.2L143.9 143.7L141.3 145Z" fill="#c90000" stroke="#c90000" stroke-width="0.6"/><path d="M141.3 145L143.9 143.7L141.8 142.3L139.1 143.5Z" fill="#d10000" stroke="#d10000" stroke-width="0.6"/><path d="M139.1 143.5L141.8 142.3L139.6 140.8L137 142Z" fill="#dc0000" stroke="#dc0000" stroke-width="0.6"/><path d="M137 142L139.6 140.8L137.4 139.3L134.8 140.5Z" fill="#e70d00" stroke="#e70d00" stroke-width="0.6"/><path d="M134.8 140.5L137.4 139.3L135.3 137.8L132.7 139.1Z" fill="#f22800" stroke="#f22800" stroke-width="0.6"/><path d="M132.7 139.1L135.3 137.8L133.1 136.4L130.5 137.6Z" fill="#fd5a00" stroke="#fd5a00" stroke-width="0.6"/><path d="M130.5 137.6L133.1 136.4L131 134.9L128.4 136.1Z" fill="#ff9000" stroke="#ff9000" stroke-width="0.6"/><path d="M128.4 136.1L131 134.9L128.9 133.5L126.3 134.7Z" fill="#ffcb00" stroke="#ffcb00" stroke-width="0.6"/><path d="M126.3 134.7L128.9 133.5L126.8 132L124.2 133.2Z" fill="#f0f500" stroke="#f0f500" stroke-width="0.6"/><path d="M124.2 133.2L126.8 132L124.7 130.6L122.1 131.8Z" fill="#b3ff00" stroke="#b3ff00" stroke-width="0.6"/><path d="M122.1 131.8L124.7 130.6L122.6 129.1L120 130.3Z" fill="#4cff00" stroke="#4cff00" stroke-width="0.6"/><path d="M120 130.3L122.6 129.1L120.5 127.7L117.9 128.9Z" fill="#04e900" stroke="#04e900" stroke-width="0.6"/><path d="M201.4 183L204 181.7L201.6 180L199 181.4Z" fill="#00d200" stroke="#00d200" stroke-width="0.6"/><path d="M199 181.4L201.6 180L199.2 178.4L196.6 179.7Z" fill="#15f000" stroke="#15f000" stroke-width="0.6"/><path d="M196.6 179.7L199.2 178.4L196.8 176.7L194.2 178.1Z" fill="#6aff00" stroke="#6aff00" stroke-width="0.6"/><path d="M194.2 178.1L196.8 176.7L194.4 175.1L191.8 176.5Z" fill="#c9ff00" stroke="#c9ff00" stroke-width="0.6"/><path d="M191.8 176.5L194.4 175.1L192 173.5L189.4 174.8Z" fill="#f7eb00" stroke="#f7eb00" stroke-width="0.6"/><path d="M189.4 174.8L192 173.5L189.7 171.9L187 173.2Z" fill="#ffb800" stroke="#ffb800" stroke-width="0.6"/><path d="M187 173.2L189.7 171.9L187.3 170.3L184.7 171.6Z" fill="#ff7d00" stroke="#ff7d00" stroke-width="0.6"/><path d="M184.7 171.6L187.3 170.3L185 168.7L182.3 170Z" fill="#f94700" stroke="#f94700" stroke-width="0.6"/><path d="M182.3 170L185 168.7L182.6 167.1L180 168.4Z" fill="#ed1b00" stroke="#ed1b00" stroke-width="0.6"/><path d="M180 168.4L182.6 167.1L180.3 165.5L177.7 166.8Z" fill="#e20400" stroke="#e20400" stroke-width="0.6"/><path d="M177.7 166.8L180.3 165.5L178 163.9L175.4 165.2Z" fill="#d60000" stroke="#d60000" stroke-width="0.6"/><path d="M175.4 165.2L178 163.9L175.7 162.3L173 163.7Z" fill="#cb0000" stroke="#cb0000" stroke-width="0.6"/><path d="M173 163.7L175.7 162.3L173.4 160.8L170.8 162.1Z" fill="#c60000" stroke="#c60000" stroke-width="0.6"/><path d="M170.8 162.1L173.4 160.8L171.1 159.2L168.5 160.5Z" fill="#c10000" stroke="#c10000" stroke-width="0.6"/><path d="M168.5 160.5L171.1 159.2L168.8 157.7L166.2 159Z" fill="#bd0000" stroke="#bd0000" stroke-width="0.6"/><path d="M166.2 159L168.8 157.7L166.5 156.1L163.9 157.4Z" fill="#ba0000" stroke="#ba0000" stroke-width="0.6"/><path d="M163.9 157.4L166.5 156.1L164.3 154.6L161.7 155.9Z" fill="#b80000" stroke="#b80000" stroke-width="0.6"/><path d="M161.7 155.9L164.3 154.6L162 153L159.4 154.3Z" fill="#b70000" stroke="#b70000" stroke-width="0.6"/><path d="M159.4 154.3L162 153L159.8 151.5L157.2 152.8Z" fill="#b70000" stroke="#b70000" stroke-width="0.6"/><path d="M157.2 152.8L159.8 151.5L157.6 150L154.9 151.3Z" fill="#b70000" stroke="#b70000" stroke-width="0.6"/><path d="M154.9 151.3L157.6 150L155.3 148.5L152.7 149.8Z" fill="#b80000" stroke="#b80000" stroke-width="0.6"/><path d="M152.7 149.8L155.3 148.5L153.1 147L150.5 148.2Z" fill="#ba0000" stroke="#ba0000" stroke-width="0.6"/><path d="M150.5 148.2L153.1 147L150.9 145.5L148.3 146.7Z" fill="#bd0000" stroke="#bd0000" stroke-width="0.6"/><path d="M148.3 146.7L150.9 145.5L148.7 144L146.1 145.2Z" fill="#c00000" stroke="#c00000" stroke-width="0.6"/><path d="M146.1 145.2L148.7 144L146.5 142.5L143.9 143.7Z" fill="#c50000" stroke="#c50000" stroke-width="0.6"/><path d="M143.9 143.7L146.5 142.5L144.4 141L141.8 142.3Z" fill="#cb0000" stroke="#cb0000" stroke-width="0.6"/><path d="M141.8 142.3L144.4 141L142.2 139.5L139.6 140.8Z" fill="#d50000" stroke="#d50000" stroke-width="0.6"/><path d="M139.6 140.8L142.2 139.5L140 138.1L137.4 139.3Z" fill="#e10300" stroke="#e10300" stroke-width="0.6"/><path d="M137.4 139.3L140 138.1L137.9 136.6L135.3 137.8Z" fill="#ec1900" stroke="#ec1900" stroke-width="0.6"/><path d="M135.3 137.8L137.9 136.6L135.7 135.1L133.1 136.4Z" fill="#f84300" stroke="#f84300" stroke-width="0.6"/><path d="M133.1 136.4L135.7 135.1L133.6 133.7L131 134.9Z" fill="#ff7900" stroke="#ff7900" stroke-width="0.6"/><path d="M131 134.9L133.6 133.7L131.5 132.2L128.9 133.5Z" fill="#ffb300" stroke="#ffb300" stroke-width="0.6"/><path d="M128.9 133.5L131.5 132.2L129.4 130.8L126.8 132Z" fill="#f8e900" stroke="#f8e900" stroke-width="0.6"/><path d="M126.8 132L129.4 130.8L127.3 129.4L124.7 130.6Z" fill="#cfff00" stroke="#cfff00" stroke-width="0.6"/><path d="M124.7 130.6L127.3 129.4L125.2 127.9L122.6 129.1Z" fill="#71ff00" stroke="#71ff00" stroke-width="0.6"/><path d="M122.6 129.1L125.2 127.9L123.1 126.5L120.5 127.7Z" fill="#1af100" stroke="#1af100" stroke-width="0.6"/><path d="M204 181.7L206.7 180.3L204.3 178.6L201.6 180Z" fill="#00d600" stroke="#00d600" stroke-width="0.6"/><path d="M201.6 180L204.3 178.6L201.8 177L199.2 178.4Z" fill="#1df200" stroke="#1df200" stroke-width="0.6"/><path d="M199.2 178.4L201.8 177L199.4 175.4L196.8 176.7Z" fill="#78ff00" stroke="#78ff00" stroke-width="0.6"/><path d="M196.8 176.7L199.4 175.4L197.1 173.7L194.4 175.1Z" fill="#d4ff00" stroke="#d4ff00" stroke-width="0.6"/><path d="M194.4 175.1L197.1 173.7L194.7 172.1L192 173.5Z" fill="#fae600" stroke="#fae600" stroke-width="0.6"/><path d="M192 173.5L194.7 172.1L192.3 170.5L189.7 171.9Z" fill="#ffad00" stroke="#ffad00" stroke-width="0.6"/><path d="M189.7 171.9L192.3 170.5L189.9 168.9L187.3 170.3Z" fill="#ff7100" stroke="#ff7100" stroke-width="0.6"/><path d="M187.3 170.3L189.9 168.9L187.6 167.3L185 168.7Z" fill="#f63a00" stroke="#f63a00" stroke-width="0.6"/><path d="M185 168.7L187.6 167.3L185.3 165.7L182.6 167.1Z" fill="#ea1400" stroke="#ea1400" stroke-width="0.6"/><path d="M182.6 167.1L185.3 165.7L182.9 164.2L180.3 165.5Z" fill="#df0000" stroke="#df0000" stroke-width="0.6"/><path d="M180.3 165.5L182.9 164.2L180.6 162.6L178 163.9Z" fill="#d20000" stroke="#d20000" stroke-width="0.6"/><path d="M178 163.9L180.6 162.6L178.3 161L175.7 162.3Z" fill="#c90000" stroke="#c90000" stroke-width="0.6"/><path d="M175.7 162.3L178.3 161L176 159.5L173.4 160.8Z" fill="#c30000" stroke="#c30000" stroke-width="0.6"/><path d="M173.4 160.8L176 159.5L173.7 157.9L171.1 159.2Z" fill="#be0000" stroke="#be0000" stroke-width="0.6"/><path d="M171.1 159.2L173.7 157.9L171.4 156.4L168.8 157.7Z" fill="#ba0000" stroke="#ba0000" stroke-width="0.6"/><path d="M168.8 157.7L171.4 156.4L169.1 154.8L166.5 156.1Z" fill="#b80000" stroke="#b80000" stroke-width="0.6"/><path d="M166.5 156.1L169.1 154.8L166.9 153.3L164.3 154.6Z" fill="#b60000" stroke="#b60000" stroke-width="0.6"/><path d="M164.3 154.6L166.9 153.3L164.6 151.8L162 153Z" fill="#b40000" stroke="#b40000" stroke-width="0.6"/><path d="M162 153L164.6 151.8L162.4 150.2L159.8 151.5Z" fill="#b40000" stroke="#b40000" stroke-width="0.6"/><path d="M159.8 151.5L162.4 150.2L160.2 148.7L157.6 150Z" fill="#b40000" stroke="#b40000" stroke-width="0.6"/><path d="M157.6 150L160.2 148.7L157.9 147.2L155.3 148.5Z" fill="#b50000" stroke="#b50000" stroke-width="0.6"/><path d="M155.3 148.5L157.9 147.2L155.7 145.7L153.1 147Z" fill="#b70000" stroke="#b70000" stroke-width="0.6"/><path d="M153.1 147L155.7 145.7L153.5 144.2L150.9 145.5Z" fill="#b90000" stroke="#b90000" stroke-width="0.6"/><path d="M150.9 145.5L153.5 144.2L151.3 142.7L148.7 144Z" fill="#bd0000" stroke="#bd0000" stroke-width="0.6"/><path d="M148.7 144L151.3 142.7L149.1 141.2L146.5 142.5Z" fill="#c10000" stroke="#c10000" stroke-width="0.6"/><path d="M146.5 142.5L149.1 141.2L146.9 139.8L144.4 141Z" fill="#c70000" stroke="#c70000" stroke-width="0.6"/><path d="M144.4 141L146.9 139.8L144.8 138.3L142.2 139.5Z" fill="#ce0000" stroke="#ce0000" stroke-width="0.6"/><path d="M142.2 139.5L144.8 138.3L142.6 136.8L140 138.1Z" fill="#db0000" stroke="#db0000" stroke-width="0.6"/><path d="M140 138.1L142.6 136.8L140.5 135.4L137.9 136.6Z" fill="#e70d00" stroke="#e70d00" stroke-width="0.6"/><path d="M137.9 136.6L140.5 135.4L138.3 133.9L135.7 135.1Z" fill="#f32b00" stroke="#f32b00" stroke-width="0.6"/><path d="M135.7 135.1L138.3 133.9L136.2 132.5L133.6 133.7Z" fill="#ff6100" stroke="#ff6100" stroke-width="0.6"/><path d="M133.6 133.7L136.2 132.5L134.1 131L131.5 132.2Z" fill="#ff9b00" stroke="#ff9b00" stroke-width="0.6"/><path d="M131.5 132.2L134.1 131L131.9 129.6L129.4 130.8Z" fill="#ffd900" stroke="#ffd900" stroke-width="0.6"/><path d="M129.4 130.8L131.9 129.6L129.8 128.2L127.3 129.4Z" fill="#e9fd00" stroke="#e9fd00" stroke-width="0.6"/><path d="M127.3 129.4L129.8 128.2L127.7 126.7L125.2 127.9Z" fill="#99ff00" stroke="#99ff00" stroke-width="0.6"/><path d="M125.2 127.9L127.7 126.7L125.6 125.3L123.1 126.5Z" fill="#31fa00" stroke="#31fa00" stroke-width="0.6"/><path d="M206.7 180.3L209.3 178.9L206.9 177.3L204.3 178.6Z" fill="#00d900" stroke="#00d900" stroke-width="0.6"/><path d="M204.3 178.6L206.9 177.3L204.5 175.6L201.8 177Z" fill="#26f600" stroke="#26f600" stroke-width="0.6"/><path d="M201.8 177L204.5 175.6L202.1 174L199.4 175.4Z" fill="#88ff00" stroke="#88ff00" stroke-width="0.6"/><path d="M199.4 175.4L202.1 174L199.7 172.4L197.1 173.7Z" fill="#e1ff00" stroke="#e1ff00" stroke-width="0.6"/><path d="M197.1 173.7L199.7 172.4L197.3 170.8L194.7 172.1Z" fill="#ffe000" stroke="#ffe000" stroke-width="0.6"/><path d="M194.7 172.1L197.3 170.8L194.9 169.2L192.3 170.5Z" fill="#ffa000" stroke="#ffa000" stroke-width="0.6"/><path d="M192.3 170.5L194.9 169.2L192.6 167.6L189.9 168.9Z" fill="#ff6400" stroke="#ff6400" stroke-width="0.6"/><path d="M189.9 168.9L192.6 167.6L190.2 166L187.6 167.3Z" fill="#f32d00" stroke="#f32d00" stroke-width="0.6"/><path d="M187.6 167.3L190.2 166L187.9 164.4L185.3 165.7Z" fill="#e70d00" stroke="#e70d00" stroke-width="0.6"/><path d="M185.3 165.7L187.9 164.4L185.5 162.8L182.9 164.2Z" fill="#da0000" stroke="#da0000" stroke-width="0.6"/><path d="M182.9 164.2L185.5 162.8L183.2 161.3L180.6 162.6Z" fill="#cd0000" stroke="#cd0000" stroke-width="0.6"/><path d="M180.6 162.6L183.2 161.3L180.9 159.7L178.3 161Z" fill="#c60000" stroke="#c60000" stroke-width="0.6"/><path d="M178.3 161L180.9 159.7L178.6 158.2L176 159.5Z" fill="#c00000" stroke="#c00000" stroke-width="0.6"/><path d="M176 159.5L178.6 158.2L176.3 156.6L173.7 157.9Z" fill="#bb0000" stroke="#bb0000" stroke-width="0.6"/><path d="M173.7 157.9L176.3 156.6L174 155.1L171.4 156.4Z" fill="#b80000" stroke="#b80000" stroke-width="0.6"/><path d="M171.4 156.4L174 155.1L171.7 153.5L169.1 154.8Z" fill="#b50000" stroke="#b50000" stroke-width="0.6"/><path d="M169.1 154.8L171.7 153.5L169.5 152L166.9 153.3Z" fill="#b30000" stroke="#b30000" stroke-width="0.6"/><path d="M166.9 153.3L169.5 152L167.2 150.5L164.6 151.8Z" fill="#b10000" stroke="#b10000" stroke-width="0.6"/><path d="M164.6 151.8L167.2 150.5L165 149L162.4 150.2Z" fill="#b10000" stroke="#b10000" stroke-width="0.6"/><path d="M162.4 150.2L165 149L162.8 147.5L160.2 148.7Z" fill="#b10000" stroke="#b10000" stroke-width="0.6"/><path d="M160.2 148.7L162.8 147.5L160.5 146L157.9 147.2Z" fill="#b20000" stroke="#b20000" stroke-width="0.6"/><path d="M157.9 147.2L160.5 146L158.3 144.5L155.7 145.7Z" fill="#b40000" stroke="#b40000" stroke-width="0.6"/><path d="M155.7 145.7L158.3 144.5L156.1 143L153.5 144.2Z" fill="#b60000" stroke="#b60000" stroke-width="0.6"/><path d="M153.5 144.2L156.1 143L153.9 141.5L151.3 142.7Z" fill="#b90000" stroke="#b90000" stroke-width="0.6"/><path d="M151.3 142.7L153.9 141.5L151.7 140L149.1 141.2Z" fill="#bd0000" stroke="#bd0000" stroke-width="0.6"/><path d="M149.1 141.2L151.7 140L149.5 138.5L146.9 139.8Z" fill="#c30000" stroke="#c30000" stroke-width="0.6"/><path d="M146.9 139.8L149.5 138.5L147.4 137.1L144.8 138.3Z" fill="#c90000" stroke="#c90000" stroke-width="0.6"/><path d="M144.8 138.3L147.4 137.1L145.2 135.6L142.6 136.8Z" fill="#d30000" stroke="#d30000" stroke-width="0.6"/><path d="M142.6 136.8L145.2 135.6L143 134.2L140.5 135.4Z" fill="#e10100" stroke="#e10100" stroke-width="0.6"/><path d="M140.5 135.4L143 134.2L140.9 132.7L138.3 133.9Z" fill="#ed1900" stroke="#ed1900" stroke-width="0.6"/><path d="M138.3 133.9L140.9 132.7L138.8 131.3L136.2 132.5Z" fill="#f94700" stroke="#f94700" stroke-width="0.6"/><path d="M136.2 132.5L138.8 131.3L136.6 129.8L134.1 131Z" fill="#ff8100" stroke="#ff8100" stroke-width="0.6"/><path d="M134.1 131L136.6 129.8L134.5 128.4L131.9 129.6Z" fill="#ffbf00" stroke="#ffbf00" stroke-width="0.6"/><path d="M131.9 129.6L134.5 128.4L132.4 127L129.8 128.2Z" fill="#f3f000" stroke="#f3f000" stroke-width="0.6"/><path d="M129.8 128.2L132.4 127L130.3 125.5L127.7 126.7Z" fill="#b9ff00" stroke="#b9ff00" stroke-width="0.6"/><path d="M127.7 126.7L130.3 125.5L128.2 124.1L125.6 125.3Z" fill="#4fff00" stroke="#4fff00" stroke-width="0.6"/><path d="M209.3 178.9L211.9 177.5L209.5 175.9L206.9 177.3Z" fill="#00dd00" stroke="#00dd00" stroke-width="0.6"/><path d="M206.9 177.3L209.5 175.9L207.1 174.3L204.5 175.6Z" fill="#2ff900" stroke="#2ff900" stroke-width="0.6"/><path d="M204.5 175.6L207.1 174.3L204.7 172.7L202.1 174Z" fill="#9aff00" stroke="#9aff00" stroke-width="0.6"/><path d="M202.1 174L204.7 172.7L202.3 171L199.7 172.4Z" fill="#eafc00" stroke="#eafc00" stroke-width="0.6"/><path d="M199.7 172.4L202.3 171L199.9 169.4L197.3 170.8Z" fill="#ffd400" stroke="#ffd400" stroke-width="0.6"/><path d="M197.3 170.8L199.9 169.4L197.5 167.8L194.9 169.2Z" fill="#ff9300" stroke="#ff9300" stroke-width="0.6"/><path d="M194.9 169.2L197.5 167.8L195.2 166.3L192.6 167.6Z" fill="#fd5600" stroke="#fd5600" stroke-width="0.6"/><path d="M192.6 167.6L195.2 166.3L192.8 164.7L190.2 166Z" fill="#f01f00" stroke="#f01f00" stroke-width="0.6"/><path d="M190.2 166L192.8 164.7L190.5 163.1L187.9 164.4Z" fill="#e30600" stroke="#e30600" stroke-width="0.6"/><path d="M187.9 164.4L190.5 163.1L188.1 161.5L185.5 162.8Z" fill="#d50000" stroke="#d50000" stroke-width="0.6"/><path d="M185.5 162.8L188.1 161.5L185.8 160L183.2 161.3Z" fill="#ca0000" stroke="#ca0000" stroke-width="0.6"/><path d="M183.2 161.3L185.8 160L183.5 158.4L180.9 159.7Z" fill="#c30000" stroke="#c30000" stroke-width="0.6"/><path d="M180.9 159.7L183.5 158.4L181.2 156.9L178.6 158.2Z" fill="#bd0000" stroke="#bd0000" stroke-width="0.6"/><path d="M178.6 158.2L181.2 156.9L178.9 155.3L176.3 156.6Z" fill="#b80000" stroke="#b80000" stroke-width="0.6"/><path d="M176.3 156.6L178.9 155.3L176.6 153.8L174 155.1Z" fill="#b50000" stroke="#b50000" stroke-width="0.6"/><path d="M174 155.1L176.6 153.8L174.3 152.3L171.7 153.5Z" fill="#b20000" stroke="#b20000" stroke-width="0.6"/><path d="M171.7 153.5L174.3 152.3L172.1 150.7L169.5 152Z" fill="#b00000" stroke="#b00000" stroke-width="0.6"/><path d="M169.5 152L172.1 150.7L169.8 149.2L167.2 150.5Z" fill="#ae0000" stroke="#ae0000" stroke-width="0.6"/><path d="M167.2 150.5L169.8 149.2L167.6 147.7L165 149Z" fill="#ae0000" stroke="#ae0000" stroke-width="0.6"/><path d="M165 149L167.6 147.7L165.3 146.2L162.8 147.5Z" fill="#ae0000" stroke="#ae0000" stroke-width="0.6"/><path d="M162.8 147.5L165.3 146.2L163.1 144.7L160.5 146Z" fill="#af0000" stroke="#af0000" stroke-width="0.6"/><path d="M160.5 146L163.1 144.7L160.9 143.2L158.3 144.5Z" fill="#b00000" stroke="#b00000" stroke-width="0.6"/><path d="M158.3 144.5L160.9 143.2L158.7 141.7L156.1 143Z" fill="#b30000" stroke="#b30000" stroke-width="0.6"/><path d="M156.1 143L158.7 141.7L156.5 140.2L153.9 141.5Z" fill="#b60000" stroke="#b60000" stroke-width="0.6"/><path d="M153.9 141.5L156.5 140.2L154.3 138.8L151.7 140Z" fill="#b90000" stroke="#b90000" stroke-width="0.6"/><path d="M151.7 140L154.3 138.8L152.1 137.3L149.5 138.5Z" fill="#be0000" stroke="#be0000" stroke-width="0.6"/><path d="M149.5 138.5L152.1 137.3L149.9 135.8L147.4 137.1Z" fill="#c50000" stroke="#c50000" stroke-width="0.6"/><path d="M147.4 137.1L149.9 135.8L147.8 134.4L145.2 135.6Z" fill="#cc0000" stroke="#cc0000" stroke-width="0.6"/><path d="M145.2 135.6L147.8 134.4L145.6 132.9L143 134.2Z" fill="#d90000" stroke="#d90000" stroke-width="0.6"/><path d="M143 134.2L145.6 132.9L143.5 131.5L140.9 132.7Z" fill="#e60c00" stroke="#e60c00" stroke-width="0.6"/><path d="M140.9 132.7L143.5 131.5L141.3 130.1L138.8 131.3Z" fill="#f32d00" stroke="#f32d00" stroke-width="0.6"/><path d="M138.8 131.3L141.3 130.1L139.2 128.6L136.6 129.8Z" fill="#ff6600" stroke="#ff6600" stroke-width="0.6"/><path d="M136.6 129.8L139.2 128.6L137.1 127.2L134.5 128.4Z" fill="#ffa400" stroke="#ffa400" stroke-width="0.6"/><path d="M134.5 128.4L137.1 127.2L135 125.8L132.4 127Z" fill="#fde300" stroke="#fde300" stroke-width="0.6"/><path d="M132.4 127L135 125.8L132.9 124.4L130.3 125.5Z" fill="#d9ff00" stroke="#d9ff00" stroke-width="0.6"/><path d="M130.3 125.5L132.9 124.4L130.8 122.9L128.2 124.1Z" fill="#7bff00" stroke="#7bff00" stroke-width="0.6"/><path d="M211.9 177.5L214.5 176.2L212.1 174.5L209.5 175.9Z" fill="#00e200" stroke="#00e200" stroke-width="0.6"/><path d="M209.5 175.9L212.1 174.5L209.7 172.9L207.1 174.3Z" fill="#3afd00" stroke="#3afd00" stroke-width="0.6"/><path d="M207.1 174.3L209.7 172.9L207.3 171.3L204.7 172.7Z" fill="#aaff00" stroke="#aaff00" stroke-width="0.6"/><path d="M204.7 172.7L207.3 171.3L204.9 169.7L202.3 171Z" fill="#eff500" stroke="#eff500" stroke-width="0.6"/><path d="M202.3 171L204.9 169.7L202.5 168.1L199.9 169.4Z" fill="#ffc600" stroke="#ffc600" stroke-width="0.6"/><path d="M199.9 169.4L202.5 168.1L200.1 166.5L197.5 167.8Z" fill="#ff8400" stroke="#ff8400" stroke-width="0.6"/><path d="M197.5 167.8L200.1 166.5L197.8 164.9L195.2 166.3Z" fill="#f94700" stroke="#f94700" stroke-width="0.6"/><path d="M195.2 166.3L197.8 164.9L195.4 163.4L192.8 164.7Z" fill="#ec1800" stroke="#ec1800" stroke-width="0.6"/><path d="M192.8 164.7L195.4 163.4L193.1 161.8L190.5 163.1Z" fill="#df0000" stroke="#df0000" stroke-width="0.6"/><path d="M190.5 163.1L193.1 161.8L190.7 160.2L188.1 161.5Z" fill="#d00000" stroke="#d00000" stroke-width="0.6"/><path d="M188.1 161.5L190.7 160.2L188.4 158.7L185.8 160Z" fill="#c60000" stroke="#c60000" stroke-width="0.6"/><path d="M185.8 160L188.4 158.7L186.1 157.1L183.5 158.4Z" fill="#bf0000" stroke="#bf0000" stroke-width="0.6"/><path d="M183.5 158.4L186.1 157.1L183.8 155.6L181.2 156.9Z" fill="#ba0000" stroke="#ba0000" stroke-width="0.6"/><path d="M181.2 156.9L183.8 155.6L181.5 154L178.9 155.3Z" fill="#b50000" stroke="#b50000" stroke-width="0.6"/><path d="M178.9 155.3L181.5 154L179.2 152.5L176.6 153.8Z" fill="#b20000" stroke="#b20000" stroke-width="0.6"/><path d="M176.6 153.8L179.2 152.5L176.9 151L174.3 152.3Z" fill="#af0000" stroke="#af0000" stroke-width="0.6"/><path d="M174.3 152.3L176.9 151L174.7 149.5L172.1 150.7Z" fill="#ad0000" stroke="#ad0000" stroke-width="0.6"/><path d="M172.1 150.7L174.7 149.5L172.4 147.9L169.8 149.2Z" fill="#ab0000" stroke="#ab0000" stroke-width="0.6"/><path d="M169.8 149.2L172.4 147.9L170.2 146.4L167.6 147.7Z" fill="#aa0000" stroke="#aa0000" stroke-width="0.6"/><path d="M167.6 147.7L170.2 146.4L167.9 144.9L165.3 146.2Z" fill="#aa0000" stroke="#aa0000" stroke-width="0.6"/><path d="M165.3 146.2L167.9 144.9L165.7 143.4L163.1 144.7Z" fill="#ab0000" stroke="#ab0000" stroke-width="0.6"/><path d="M163.1 144.7L165.7 143.4L163.5 142L160.9 143.2Z" fill="#ad0000" stroke="#ad0000" stroke-width="0.6"/><path d="M160.9 143.2L163.5 142L161.3 140.5L158.7 141.7Z" fill="#af0000" stroke="#af0000" stroke-width="0.6"/><path d="M158.7 141.7L161.3 140.5L159.1 139L156.5 140.2Z" fill="#b20000" stroke="#b20000" stroke-width="0.6"/><path d="M156.5 140.2L159.1 139L156.9 137.5L154.3 138.8Z" fill="#b60000" stroke="#b60000" stroke-width="0.6"/><path d="M154.3 138.8L156.9 137.5L154.7 136.1L152.1 137.3Z" fill="#ba0000" stroke="#ba0000" stroke-width="0.6"/><path d="M152.1 137.3L154.7 136.1L152.5 134.6L149.9 135.8Z" fill="#c00000" stroke="#c00000" stroke-width="0.6"/><path d="M149.9 135.8L152.5 134.6L150.3 133.2L147.8 134.4Z" fill="#c70000" stroke="#c70000" stroke-width="0.6"/><path d="M147.8 134.4L150.3 133.2L148.2 131.7L145.6 132.9Z" fill="#d10000" stroke="#d10000" stroke-width="0.6"/><path d="M145.6 132.9L148.2 131.7L146 130.3L143.5 131.5Z" fill="#df0000" stroke="#df0000" stroke-width="0.6"/><path d="M143.5 131.5L146 130.3L143.9 128.8L141.3 130.1Z" fill="#ec1900" stroke="#ec1900" stroke-width="0.6"/><path d="M141.3 130.1L143.9 128.8L141.8 127.4L139.2 128.6Z" fill="#fa4a00" stroke="#fa4a00" stroke-width="0.6"/><path d="M139.2 128.6L141.8 127.4L139.6 126L137.1 127.2Z" fill="#ff8700" stroke="#ff8700" stroke-width="0.6"/><path d="M137.1 127.2L139.6 126L137.5 124.6L135 125.8Z" fill="#ffc900" stroke="#ffc900" stroke-width="0.6"/><path d="M135 125.8L137.5 124.6L135.4 123.2L132.9 124.4Z" fill="#eef700" stroke="#eef700" stroke-width="0.6"/><path d="M132.9 124.4L135.4 123.2L133.3 121.8L130.8 122.9Z" fill="#a6ff00" stroke="#a6ff00" stroke-width="0.6"/><path d="M214.5 176.2L217.1 174.8L214.7 173.2L212.1 174.5Z" fill="#00e700" stroke="#00e700" stroke-width="0.6"/><path d="M212.1 174.5L214.7 173.2L212.3 171.6L209.7 172.9Z" fill="#4aff00" stroke="#4aff00" stroke-width="0.6"/><path d="M209.7 172.9L212.3 171.6L209.9 170L207.3 171.3Z" fill="#baff00" stroke="#baff00" stroke-width="0.6"/><path d="M207.3 171.3L209.9 170L207.5 168.4L204.9 169.7Z" fill="#f4ee00" stroke="#f4ee00" stroke-width="0.6"/><path d="M204.9 169.7L207.5 168.4L205.1 166.8L202.5 168.1Z" fill="#ffb700" stroke="#ffb700" stroke-width="0.6"/><path d="M202.5 168.1L205.1 166.8L202.7 165.2L200.1 166.5Z" fill="#ff7500" stroke="#ff7500" stroke-width="0.6"/><path d="M200.1 166.5L202.7 165.2L200.4 163.6L197.8 164.9Z" fill="#f53700" stroke="#f53700" stroke-width="0.6"/><path d="M197.8 164.9L200.4 163.6L198 162L195.4 163.4Z" fill="#e80f00" stroke="#e80f00" stroke-width="0.6"/><path d="M195.4 163.4L198 162L195.7 160.5L193.1 161.8Z" fill="#d90000" stroke="#d90000" stroke-width="0.6"/><path d="M193.1 161.8L195.7 160.5L193.3 158.9L190.7 160.2Z" fill="#cb0000" stroke="#cb0000" stroke-width="0.6"/><path d="M190.7 160.2L193.3 158.9L191 157.4L188.4 158.7Z" fill="#c30000" stroke="#c30000" stroke-width="0.6"/><path d="M188.4 158.7L191 157.4L188.7 155.8L186.1 157.1Z" fill="#bc0000" stroke="#bc0000" stroke-width="0.6"/><path d="M186.1 157.1L188.7 155.8L186.4 154.3L183.8 155.6Z" fill="#b70000" stroke="#b70000" stroke-width="0.6"/><path d="M183.8 155.6L186.4 154.3L184.1 152.7L181.5 154Z" fill="#b20000" stroke="#b20000" stroke-width="0.6"/><path d="M181.5 154L184.1 152.7L181.8 151.2L179.2 152.5Z" fill="#af0000" stroke="#af0000" stroke-width="0.6"/><path d="M179.2 152.5L181.8 151.2L179.5 149.7L176.9 151Z" fill="#ac0000" stroke="#ac0000" stroke-width="0.6"/><path d="M176.9 151L179.5 149.7L177.2 148.2L174.7 149.5Z" fill="#a90000" stroke="#a90000" stroke-width="0.6"/><path d="M174.7 149.5L177.2 148.2L175 146.7L172.4 147.9Z" fill="#a80000" stroke="#a80000" stroke-width="0.6"/><path d="M172.4 147.9L175 146.7L172.7 145.2L170.2 146.4Z" fill="#a80000" stroke="#a80000" stroke-width="0.6"/><path d="M170.2 146.4L172.7 145.2L170.5 143.7L167.9 144.9Z" fill="#a80000" stroke="#a80000" stroke-width="0.6"/><path d="M167.9 144.9L170.5 143.7L168.3 142.2L165.7 143.4Z" fill="#a80000" stroke="#a80000" stroke-width="0.6"/><path d="M165.7 143.4L168.3 142.2L166 140.7L163.5 142Z" fill="#a90000" stroke="#a90000" stroke-width="0.6"/><path d="M163.5 142L166 140.7L163.8 139.2L161.3 140.5Z" fill="#ab0000" stroke="#ab0000" stroke-width="0.6"/><path d="M161.3 140.5L163.8 139.2L161.6 137.8L159.1 139Z" fill="#ae0000" stroke="#ae0000" stroke-width="0.6"/><path d="M159.1 139L161.6 137.8L159.4 136.3L156.9 137.5Z" fill="#b20000" stroke="#b20000" stroke-width="0.6"/><path d="M156.9 137.5L159.4 136.3L157.2 134.8L154.7 136.1Z" fill="#b60000" stroke="#b60000" stroke-width="0.6"/><path d="M154.7 136.1L157.2 134.8L155.1 133.4L152.5 134.6Z" fill="#bb0000" stroke="#bb0000" stroke-width="0.6"/><path d="M152.5 134.6L155.1 133.4L152.9 131.9L150.3 133.2Z" fill="#c20000" stroke="#c20000" stroke-width="0.6"/><path d="M150.3 133.2L152.9 131.9L150.7 130.5L148.2 131.7Z" fill="#ca0000" stroke="#ca0000" stroke-width="0.6"/><path d="M148.2 131.7L150.7 130.5L148.6 129.1L146 130.3Z" fill="#d60000" stroke="#d60000" stroke-width="0.6"/><path d="M146 130.3L148.6 129.1L146.4 127.6L143.9 128.8Z" fill="#e50a00" stroke="#e50a00" stroke-width="0.6"/><path d="M143.9 128.8L146.4 127.6L144.3 126.2L141.8 127.4Z" fill="#f32c00" stroke="#f32c00" stroke-width="0.6"/><path d="M141.8 127.4L144.3 126.2L142.2 124.8L139.6 126Z" fill="#ff6900" stroke="#ff6900" stroke-width="0.6"/><path d="M139.6 126L142.2 124.8L140.1 123.4L137.5 124.6Z" fill="#ffaa00" stroke="#ffaa00" stroke-width="0.6"/><path d="M137.5 124.6L140.1 123.4L138 122L135.4 123.2Z" fill="#f9e800" stroke="#f9e800" stroke-width="0.6"/><path d="M135.4 123.2L138 122L135.9 120.6L133.3 121.8Z" fill="#caff00" stroke="#caff00" stroke-width="0.6"/><path d="M217.1 174.8L219.7 173.4L217.3 171.8L214.7 173.2Z" fill="#09eb00" stroke="#09eb00" stroke-width="0.6"/><path d="M214.7 173.2L217.3 171.8L214.9 170.2L212.3 171.6Z" fill="#60ff00" stroke="#60ff00" stroke-width="0.6"/><path d="M212.3 171.6L214.9 170.2L212.5 168.6L209.9 170Z" fill="#cbff00" stroke="#cbff00" stroke-width="0.6"/><path d="M209.9 170L212.5 168.6L210.1 167L207.5 168.4Z" fill="#fae700" stroke="#fae700" stroke-width="0.6"/><path d="M207.5 168.4L210.1 167L207.7 165.4L205.1 166.8Z" fill="#ffa600" stroke="#ffa600" stroke-width="0.6"/><path d="M205.1 166.8L207.7 165.4L205.3 163.9L202.7 165.2Z" fill="#ff6400" stroke="#ff6400" stroke-width="0.6"/><path d="M202.7 165.2L205.3 163.9L202.9 162.3L200.4 163.6Z" fill="#f12600" stroke="#f12600" stroke-width="0.6"/><path d="M200.4 163.6L202.9 162.3L200.6 160.7L198 162Z" fill="#e30600" stroke="#e30600" stroke-width="0.6"/><path d="M198 162L200.6 160.7L198.2 159.2L195.7 160.5Z" fill="#d30000" stroke="#d30000" stroke-width="0.6"/><path d="M195.7 160.5L198.2 159.2L195.9 157.6L193.3 158.9Z" fill="#c80000" stroke="#c80000" stroke-width="0.6"/><path d="M193.3 158.9L195.9 157.6L193.6 156.1L191 157.4Z" fill="#bf0000" stroke="#bf0000" stroke-width="0.6"/><path d="M191 157.4L193.6 156.1L191.3 154.5L188.7 155.8Z" fill="#b90000" stroke="#b90000" stroke-width="0.6"/><path d="M188.7 155.8L191.3 154.5L188.9 153L186.4 154.3Z" fill="#b40000" stroke="#b40000" stroke-width="0.6"/><path d="M186.4 154.3L188.9 153L186.6 151.5L184.1 152.7Z" fill="#af0000" stroke="#af0000" stroke-width="0.6"/><path d="M184.1 152.7L186.6 151.5L184.4 149.9L181.8 151.2Z" fill="#ab0000" stroke="#ab0000" stroke-width="0.6"/><path d="M181.8 151.2L184.4 149.9L182.1 148.4L179.5 149.7Z" fill="#a80000" stroke="#a80000" stroke-width="0.6"/><path d="M179.5 149.7L182.1 148.4L179.8 146.9L177.2 148.2Z" fill="#a80000" stroke="#a80000" stroke-width="0.6"/><path d="M177.2 148.2L179.8 146.9L177.5 145.4L175 146.7Z" fill="#a80000" stroke="#a80000" stroke-width="0.6"/><path d="M175 146.7L177.5 145.4L175.3 143.9L172.7 145.2Z" fill="#a80000" stroke="#a80000" stroke-width="0.6"/><path d="M172.7 145.2L175.3 143.9L173 142.4L170.5 143.7Z" fill="#a80000" stroke="#a80000" stroke-width="0.6"/><path d="M170.5 143.7L173 142.4L170.8 141L168.3 142.2Z" fill="#a80000" stroke="#a80000" stroke-width="0.6"/><path d="M168.3 142.2L170.8 141L168.6 139.5L166 140.7Z" fill="#a80000" stroke="#a80000" stroke-width="0.6"/><path d="M166 140.7L168.6 139.5L166.4 138L163.8 139.2Z" fill="#a80000" stroke="#a80000" stroke-width="0.6"/><path d="M163.8 139.2L166.4 138L164.2 136.5L161.6 137.8Z" fill="#aa0000" stroke="#aa0000" stroke-width="0.6"/><path d="M161.6 137.8L164.2 136.5L162 135.1L159.4 136.3Z" fill="#ad0000" stroke="#ad0000" stroke-width="0.6"/><path d="M159.4 136.3L162 135.1L159.8 133.6L157.2 134.8Z" fill="#b20000" stroke="#b20000" stroke-width="0.6"/><path d="M157.2 134.8L159.8 133.6L157.6 132.2L155.1 133.4Z" fill="#b70000" stroke="#b70000" stroke-width="0.6"/><path d="M155.1 133.4L157.6 132.2L155.4 130.7L152.9 131.9Z" fill="#bc0000" stroke="#bc0000" stroke-width="0.6"/><path d="M152.9 131.9L155.4 130.7L153.3 129.3L150.7 130.5Z" fill="#c40000" stroke="#c40000" stroke-width="0.6"/><path d="M150.7 130.5L153.3 129.3L151.1 127.9L148.6 129.1Z" fill="#cd0000" stroke="#cd0000" stroke-width="0.6"/><path d="M148.6 129.1L151.1 127.9L149 126.4L146.4 127.6Z" fill="#dd0000" stroke="#dd0000" stroke-width="0.6"/><path d="M146.4 127.6L149 126.4L146.8 125L144.3 126.2Z" fill="#ec1700" stroke="#ec1700" stroke-width="0.6"/><path d="M144.3 126.2L146.8 125L144.7 123.6L142.2 124.8Z" fill="#fa4a00" stroke="#fa4a00" stroke-width="0.6"/><path d="M142.2 124.8L144.7 123.6L142.6 122.2L140.1 123.4Z" fill="#ff8b00" stroke="#ff8b00" stroke-width="0.6"/><path d="M140.1 123.4L142.6 122.2L140.5 120.8L138 122Z" fill="#ffd000" stroke="#ffd000" stroke-width="0.6"/><path d="M138 122L140.5 120.8L138.4 119.4L135.9 120.6Z" fill="#eafc00" stroke="#eafc00" stroke-width="0.6"/><path d="M219.7 173.4L222.3 172.1L219.9 170.5L217.3 171.8Z" fill="#16f000" stroke="#16f000" stroke-width="0.6"/><path d="M217.3 171.8L219.9 170.5L217.5 168.9L214.9 170.2Z" fill="#78ff00" stroke="#78ff00" stroke-width="0.6"/><path d="M214.9 170.2L217.5 168.9L215.1 167.3L212.5 168.6Z" fill="#ddff00" stroke="#ddff00" stroke-width="0.6"/><path d="M212.5 168.6L215.1 167.3L212.7 165.7L210.1 167Z" fill="#ffdd00" stroke="#ffdd00" stroke-width="0.6"/><path d="M210.1 167L212.7 165.7L210.3 164.1L207.7 165.4Z" fill="#ff9500" stroke="#ff9500" stroke-width="0.6"/><path d="M207.7 165.4L210.3 164.1L207.9 162.5L205.3 163.9Z" fill="#fc5200" stroke="#fc5200" stroke-width="0.6"/><path d="M205.3 163.9L207.9 162.5L205.5 161L202.9 162.3Z" fill="#ed1a00" stroke="#ed1a00" stroke-width="0.6"/><path d="M202.9 162.3L205.5 161L203.2 159.4L200.6 160.7Z" fill="#de0000" stroke="#de0000" stroke-width="0.6"/><path d="M200.6 160.7L203.2 159.4L200.8 157.9L198.2 159.2Z" fill="#cd0000" stroke="#cd0000" stroke-width="0.6"/><path d="M198.2 159.2L200.8 157.9L198.5 156.3L195.9 157.6Z" fill="#c40000" stroke="#c40000" stroke-width="0.6"/><path d="M195.9 157.6L198.5 156.3L196.1 154.8L193.6 156.1Z" fill="#bc0000" stroke="#bc0000" stroke-width="0.6"/><path d="M193.6 156.1L196.1 154.8L193.8 153.2L191.3 154.5Z" fill="#b60000" stroke="#b60000" stroke-width="0.6"/><path d="M191.3 154.5L193.8 153.2L191.5 151.7L188.9 153Z" fill="#b00000" stroke="#b00000" stroke-width="0.6"/><path d="M188.9 153L191.5 151.7L189.2 150.2L186.6 151.5Z" fill="#ac0000" stroke="#ac0000" stroke-width="0.6"/><path d="M186.6 151.5L189.2 150.2L186.9 148.7L184.4 149.9Z" fill="#a80000" stroke="#a80000" stroke-width="0.6"/><path d="M184.4 149.9L186.9 148.7L184.6 147.2L182.1 148.4Z" fill="#a80000" stroke="#a80000" stroke-width="0.6"/><path d="M182.1 148.4L184.6 147.2L182.4 145.7L179.8 146.9Z" fill="#a80000" stroke="#a80000" stroke-width="0.6"/><path d="M179.8 146.9L182.4 145.7L180.1 144.2L177.5 145.4Z" fill="#a80000" stroke="#a80000" stroke-width="0.6"/><path d="M177.5 145.4L180.1 144.2L177.8 142.7L175.3 143.9Z" fill="#a80000" stroke="#a80000" stroke-width="0.6"/><path d="M175.3 143.9L177.8 142.7L175.6 141.2L173 142.4Z" fill="#a80000" stroke="#a80000" stroke-width="0.6"/><path d="M173 142.4L175.6 141.2L173.4 139.7L170.8 141Z" fill="#a80000" stroke="#a80000" stroke-width="0.6"/><path d="M170.8 141L173.4 139.7L171.1 138.2L168.6 139.5Z" fill="#a80000" stroke="#a80000" stroke-width="0.6"/><path d="M168.6 139.5L171.1 138.2L168.9 136.8L166.4 138Z" fill="#a80000" stroke="#a80000" stroke-width="0.6"/><path d="M166.4 138L168.9 136.8L166.7 135.3L164.2 136.5Z" fill="#a80000" stroke="#a80000" stroke-width="0.6"/><path d="M164.2 136.5L166.7 135.3L164.5 133.9L162 135.1Z" fill="#a90000" stroke="#a90000" stroke-width="0.6"/><path d="M162 135.1L164.5 133.9L162.3 132.4L159.8 133.6Z" fill="#ad0000" stroke="#ad0000" stroke-width="0.6"/><path d="M159.8 133.6L162.3 132.4L160.1 131L157.6 132.2Z" fill="#b20000" stroke="#b20000" stroke-width="0.6"/><path d="M157.6 132.2L160.1 131L158 129.5L155.4 130.7Z" fill="#b80000" stroke="#b80000" stroke-width="0.6"/><path d="M155.4 130.7L158 129.5L155.8 128.1L153.3 129.3Z" fill="#be0000" stroke="#be0000" stroke-width="0.6"/><path d="M153.3 129.3L155.8 128.1L153.7 126.7L151.1 127.9Z" fill="#c70000" stroke="#c70000" stroke-width="0.6"/><path d="M151.1 127.9L153.7 126.7L151.5 125.3L149 126.4Z" fill="#d30000" stroke="#d30000" stroke-width="0.6"/><path d="M149 126.4L151.5 125.3L149.4 123.8L146.8 125Z" fill="#e40700" stroke="#e40700" stroke-width="0.6"/><path d="M146.8 125L149.4 123.8L147.2 122.4L144.7 123.6Z" fill="#f22a00" stroke="#f22a00" stroke-width="0.6"/><path d="M144.7 123.6L147.2 122.4L145.1 121L142.6 122.2Z" fill="#ff6a00" stroke="#ff6a00" stroke-width="0.6"/><path d="M142.6 122.2L145.1 121L143 119.6L140.5 120.8Z" fill="#ffaf00" stroke="#ffaf00" stroke-width="0.6"/><path d="M140.5 120.8L143 119.6L140.9 118.2L138.4 119.4Z" fill="#f6ec00" stroke="#f6ec00" stroke-width="0.6"/><path d="M222.3 172.1L224.9 170.7L222.5 169.1L219.9 170.5Z" fill="#24f500" stroke="#24f500" stroke-width="0.6"/><path d="M219.9 170.5L222.5 169.1L220 167.5L217.5 168.9Z" fill="#91ff00" stroke="#91ff00" stroke-width="0.6"/><path d="M217.5 168.9L220 167.5L217.6 166L215.1 167.3Z" fill="#ebfb00" stroke="#ebfb00" stroke-width="0.6"/><path d="M215.1 167.3L217.6 166L215.2 164.4L212.7 165.7Z" fill="#ffcb00" stroke="#ffcb00" stroke-width="0.6"/><path d="M212.7 165.7L215.2 164.4L212.8 162.8L210.3 164.1Z" fill="#ff8200" stroke="#ff8200" stroke-width="0.6"/><path d="M210.3 164.1L212.8 162.8L210.5 161.2L207.9 162.5Z" fill="#f73f00" stroke="#f73f00" stroke-width="0.6"/><path d="M207.9 162.5L210.5 161.2L208.1 159.7L205.5 161Z" fill="#e81000" stroke="#e81000" stroke-width="0.6"/><path d="M205.5 161L208.1 159.7L205.7 158.1L203.2 159.4Z" fill="#d80000" stroke="#d80000" stroke-width="0.6"/><path d="M203.2 159.4L205.7 158.1L203.4 156.6L200.8 157.9Z" fill="#c90000" stroke="#c90000" stroke-width="0.6"/><path d="M200.8 157.9L203.4 156.6L201 155L198.5 156.3Z" fill="#c00000" stroke="#c00000" stroke-width="0.6"/><path d="M198.5 156.3L201 155L198.7 153.5L196.1 154.8Z" fill="#b80000" stroke="#b80000" stroke-width="0.6"/><path d="M196.1 154.8L198.7 153.5L196.4 152L193.8 153.2Z" fill="#b20000" stroke="#b20000" stroke-width="0.6"/><path d="M193.8 153.2L196.4 152L194.1 150.4L191.5 151.7Z" fill="#ad0000" stroke="#ad0000" stroke-width="0.6"/><path d="M191.5 151.7L194.1 150.4L191.8 148.9L189.2 150.2Z" fill="#a80000" stroke="#a80000" stroke-width="0.6"/><path d="M189.2 150.2L191.8 148.9L189.5 147.4L186.9 148.7Z" fill="#a80000" stroke="#a80000" stroke-width="0.6"/><path d="M186.9 148.7L189.5 147.4L187.2 145.9L184.6 147.2Z" fill="#a80000" stroke="#a80000" stroke-width="0.6"/><path d="M184.6 147.2L187.2 145.9L184.9 144.4L182.4 145.7Z" fill="#a80000" stroke="#a80000" stroke-width="0.6"/><path d="M182.4 145.7L184.9 144.4L182.6 142.9L180.1 144.2Z" fill="#a80000" stroke="#a80000" stroke-width="0.6"/><path d="M180.1 144.2L182.6 142.9L180.4 141.4L177.8 142.7Z" fill="#a80000" stroke="#a80000" stroke-width="0.6"/><path d="M177.8 142.7L180.4 141.4L178.1 139.9L175.6 141.2Z" fill="#a80000" stroke="#a80000" stroke-width="0.6"/><path d="M175.6 141.2L178.1 139.9L175.9 138.5L173.4 139.7Z" fill="#a80000" stroke="#a80000" stroke-width="0.6"/><path d="M173.4 139.7L175.9 138.5L173.7 137L171.1 138.2Z" fill="#a80000" stroke="#a80000" stroke-width="0.6"/><path d="M171.1 138.2L173.7 137L171.5 135.5L168.9 136.8Z" fill="#a80000" stroke="#a80000" stroke-width="0.6"/><path d="M168.9 136.8L171.5 135.5L169.3 134.1L166.7 135.3Z" fill="#a80000" stroke="#a80000" stroke-width="0.6"/><path d="M166.7 135.3L169.3 134.1L167.1 132.6L164.5 133.9Z" fill="#a80000" stroke="#a80000" stroke-width="0.6"/><path d="M164.5 133.9L167.1 132.6L164.9 131.2L162.3 132.4Z" fill="#a90000" stroke="#a90000" stroke-width="0.6"/><path d="M162.3 132.4L164.9 131.2L162.7 129.8L160.1 131Z" fill="#ad0000" stroke="#ad0000" stroke-width="0.6"/><path d="M160.1 131L162.7 129.8L160.5 128.3L158 129.5Z" fill="#b30000" stroke="#b30000" stroke-width="0.6"/><path d="M158 129.5L160.5 128.3L158.3 126.9L155.8 128.1Z" fill="#b90000" stroke="#b90000" stroke-width="0.6"/><path d="M155.8 128.1L158.3 126.9L156.2 125.5L153.7 126.7Z" fill="#c10000" stroke="#c10000" stroke-width="0.6"/><path d="M153.7 126.7L156.2 125.5L154 124.1L151.5 125.3Z" fill="#ca0000" stroke="#ca0000" stroke-width="0.6"/><path d="M151.5 125.3L154 124.1L151.9 122.7L149.4 123.8Z" fill="#da0000" stroke="#da0000" stroke-width="0.6"/><path d="M149.4 123.8L151.9 122.7L149.8 121.3L147.2 122.4Z" fill="#ea1400" stroke="#ea1400" stroke-width="0.6"/><path d="M147.2 122.4L149.8 121.3L147.6 119.9L145.1 121Z" fill="#fa4900" stroke="#fa4900" stroke-width="0.6"/><path d="M145.1 121L147.6 119.9L145.5 118.5L143 119.6Z" fill="#ff8d00" stroke="#ff8d00" stroke-width="0.6"/><path d="M143 119.6L145.5 118.5L143.4 117.1L140.9 118.2Z" fill="#ffd600" stroke="#ffd600" stroke-width="0.6"/></g>
<path d="M47.6 161.5L43.3 49.3M47.6 161.5h2M47.1 147.9h2M46.5 134.3h2M46 120.4h2M45.5 106.5h2M45 92.4h2M44.4 78.2h2M43.9 63.8h2M43.3 49.3h2" fill="none" stroke="#666" stroke-width="0.9"/>
<path d="M47.6 161.5L126.4 222.2L224.9 170.7" fill="none" stroke="#222" stroke-width="0.6"/>
<g stroke="#000" stroke-width="0.6" stroke-linejoin="round"><path d="M142.8 57.7L147 52.3L143.2 58.3L139 63.8Z" fill="#c4c4c4"/><path d="M138.6 62.8L142.8 57.7L139 63.8L134.8 69Z" fill="#c4c4c4"/><path d="M134.3 67.9L138.6 62.8L134.8 69L130.6 74.1Z" fill="#c4c4c4"/><path d="M130.1 72.7L134.3 67.9L130.6 74.1L126.3 79Z" fill="#c4c4c4"/><path d="M125.8 77.3L130.1 72.7L126.3 79L122.1 83.8Z" fill="#c4c4c4"/><path d="M146.7 52.4L150.9 47.1L147 52.3L142.8 57.7Z" fill="#c4c4c4"/><path d="M121.5 81.8L125.8 77.3L122.1 83.8L117.8 88.3Z" fill="#c4c4c4"/><path d="M142.4 57.6L146.7 52.4L142.8 57.7L138.6 62.8Z" fill="#c4c4c4"/><path d="M138.2 62.5L142.4 57.6L138.6 62.8L134.3 67.9Z" fill="#c4c4c4"/><path d="M117.2 86.1L121.5 81.8L117.8 88.3L113.6 92.7Z" fill="#c4c4c4"/><path d="M133.9 67.2L138.2 62.5L134.3 67.9L130.1 72.7Z" fill="#c4c4c4"/><path d="M112.9 90.2L117.2 86.1L113.6 92.7L109.3 96.9Z" fill="#c4c4c4"/><path d="M150.6 48.1L154.8 42.9L150.9 47.1L146.7 52.4Z" fill="#fc0000"/><path d="M129.6 71.8L133.9 67.2L130.1 72.7L125.8 77.3Z" fill="#c4c4c4"/><path d="M108.6 94.2L112.9 90.2L109.3 96.9L104.9 100.9Z" fill="#c4c4c4"/><path d="M146.3 53.2L150.6 48.1L146.7 52.4L142.4 57.6Z" fill="#ff2100"/><path d="M125.3 76.2L129.6 71.8L125.8 77.3L121.5 81.8Z" fill="#c4c4c4"/><path d="M104.2 97.9L108.6 94.2L104.9 100.9L100.6 104.7Z" fill="#c4c4c4"/><path d="M142 58L146.3 53.2L142.4 57.6L138.2 62.5Z" fill="#ff4e00"/><path d="M121 80.4L125.3 76.2L121.5 81.8L117.2 86.1Z" fill="#c4c4c4"/><path d="M137.8 62.7L142 58L138.2 62.5L133.9 67.2Z" fill="#c4c4c4"/><path d="M99.8 101.5L104.2 97.9L100.6 104.7L96.3 108.4Z" fill="#c4c4c4"/><path d="M116.6 84.5L121 80.4L117.2 86.1L112.9 90.2Z" fill="#c4c4c4"/><path d="M154.6 44.8L158.8 39.6L154.8 42.9L150.6 48.1Z" fill="#d30000"/><path d="M133.4 67.2L137.8 62.7L133.9 67.2L129.6 71.8Z" fill="#c4c4c4"/><path d="M95.4 104.9L99.8 101.5L96.3 108.4L91.9 111.9Z" fill="#c4c4c4"/><path d="M150.3 49.7L154.6 44.8L150.6 48.1L146.3 53.2Z" fill="#e90000"/><path d="M112.3 88.3L116.6 84.5L112.9 90.2L108.6 94.2Z" fill="#c4c4c4"/><path d="M129.1 71.5L133.4 67.2L129.6 71.8L125.3 76.2Z" fill="#c4c4c4"/><path d="M146 54.5L150.3 49.7L146.3 53.2L142 58Z" fill="#fd0000"/><path d="M91 108.1L95.4 104.9L91.9 111.9L87.5 115.2Z" fill="#c4c4c4"/><path d="M107.9 92L112.3 88.3L108.6 94.2L104.2 97.9Z" fill="#c4c4c4"/><path d="M124.8 75.7L129.1 71.5L125.3 76.2L121 80.4Z" fill="#c4c4c4"/><path d="M141.7 59.1L146 54.5L142 58L137.8 62.7Z" fill="#ff1f00"/><path d="M86.6 111.1L91 108.1L87.5 115.2L83 118.3Z" fill="#c4c4c4"/><path d="M158.6 42.4L162.9 37.3L158.8 39.6L154.6 44.8Z" fill="#b00000"/><path d="M103.5 95.5L107.9 92L104.2 97.9L99.8 101.5Z" fill="#c4c4c4"/><path d="M120.4 79.6L124.8 75.7L121 80.4L116.6 84.5Z" fill="#c4c4c4"/><path d="M137.3 63.5L141.7 59.1L137.8 62.7L133.4 67.2Z" fill="#ff4200"/><path d="M154.3 47.2L158.6 42.4L154.6 44.8L150.3 49.7Z" fill="#c60000"/><path d="M82.1 114L86.6 111.1L83 118.3L78.6 121.2Z" fill="#c4c4c4"/><path d="M99.1 98.8L103.5 95.5L99.8 101.5L95.4 104.9Z" fill="#c4c4c4"/><path d="M116 83.4L120.4 79.6L116.6 84.5L112.3 88.3Z" fill="#c4c4c4"/><path d="M133 67.8L137.3 63.5L133.4 67.2L129.1 71.5Z" fill="#ff6900"/><path d="M150 52L154.3 47.2L150.3 49.7L146 54.5Z" fill="#da0000"/><path d="M94.6 101.9L99.1 98.8L95.4 104.9L91 108.1Z" fill="#c4c4c4"/><path d="M111.6 87L116 83.4L112.3 88.3L107.9 92Z" fill="#c4c4c4"/><path d="M77.6 116.6L82.1 114L78.6 121.2L74.1 124Z" fill="#c4c4c4"/><path d="M128.6 71.8L133 67.8L129.1 71.5L124.8 75.7Z" fill="#c4c4c4"/><path d="M145.6 56.5L150 52L146 54.5L141.7 59.1Z" fill="#ed0000"/><path d="M162.6 40.9L166.9 35.9L162.9 37.3L158.6 42.4Z" fill="#9e0000"/><path d="M124.3 75.7L128.6 71.8L124.8 75.7L120.4 79.6Z" fill="#c4c4c4"/><path d="M141.3 60.8L145.6 56.5L141.7 59.1L137.3 63.5Z" fill="#fe0000"/><path d="M107.2 90.4L111.6 87L107.9 92L103.5 95.5Z" fill="#c4c4c4"/><path d="M158.3 45.7L162.6 40.9L158.6 42.4L154.3 47.2Z" fill="#aa0000"/><path d="M90.1 104.8L94.6 101.9L91 108.1L86.6 111.1Z" fill="#c4c4c4"/><path d="M73 119.1L77.6 116.6L74.1 124L69.6 126.6Z" fill="#c4c4c4"/><path d="M154 50.4L158.3 45.7L154.3 47.2L150 52Z" fill="#bd0000"/><path d="M136.9 65L141.3 60.8L137.3 63.5L133 67.8Z" fill="#ff1900"/><path d="M119.9 79.4L124.3 75.7L120.4 79.6L116 83.4Z" fill="#c4c4c4"/><path d="M102.8 93.6L107.2 90.4L103.5 95.5L99.1 98.8Z" fill="#c4c4c4"/><path d="M85.6 107.6L90.1 104.8L86.6 111.1L82.1 114Z" fill="#c4c4c4"/><path d="M68.5 121.4L73 119.1L69.6 126.6L65.1 129Z" fill="#c4c4c4"/><path d="M166.7 40.5L171 35.6L166.9 35.9L162.6 40.9Z" fill="#940000"/><path d="M149.7 54.8L154 50.4L150 52L145.6 56.5Z" fill="#cf0000"/><path d="M132.6 68.9L136.9 65L133 67.8L128.6 71.8Z" fill="#ff3400"/><path d="M115.4 82.9L119.9 79.4L116 83.4L111.6 87Z" fill="#c4c4c4"/><path d="M98.3 96.6L102.8 93.6L99.1 98.8L94.6 101.9Z" fill="#c4c4c4"/><path d="M162.4 45.2L166.7 40.5L162.6 40.9L158.3 45.7Z" fill="#9d0000"/><path d="M81.1 110.1L85.6 107.6L82.1 114L77.6 116.6Z" fill="#c4c4c4"/><path d="M145.3 59.1L149.7 54.8L145.6 56.5L141.3 60.8Z" fill="#e00000"/><path d="M63.9 123.5L68.5 121.4L65.1 129L60.5 131.2Z" fill="#c4c4c4"/><path d="M128.2 72.7L132.6 68.9L128.6 71.8L124.3 75.7Z" fill="#ff5200"/><path d="M111 86.2L115.4 82.9L111.6 87L107.2 90.4Z" fill="#c4c4c4"/><path d="M158.1 49.8L162.4 45.2L158.3 45.7L154 50.4Z" fill="#a80000"/><path d="M93.8 99.4L98.3 96.6L94.6 101.9L90.1 104.8Z" fill="#c4c4c4"/><path d="M140.9 63.1L145.3 59.1L141.3 60.8L136.9 65Z" fill="#ef0000"/><path d="M76.5 112.5L81.1 110.1L77.6 116.6L73 119.1Z" fill="#c4c4c4"/><path d="M123.7 76.3L128.2 72.7L124.3 75.7L119.9 79.4Z" fill="#ff6e00"/><path d="M170.9 41.1L175.2 36.2L171 35.6L166.7 40.5Z" fill="#8f0000"/><path d="M59.3 125.4L63.9 123.5L60.5 131.2L55.9 133.2Z" fill="#c4c4c4"/><path d="M153.7 54.1L158.1 49.8L154 50.4L149.7 54.8Z" fill="#b70000"/><path d="M106.5 89.3L111 86.2L107.2 90.4L102.8 93.6Z" fill="#c4c4c4"/><path d="M136.5 67L140.9 63.1L136.9 65L132.6 68.9Z" fill="#fc0000"/><path d="M89.3 102.1L93.8 99.4L90.1 104.8L85.6 107.6Z" fill="#c4c4c4"/><path d="M166.5 45.7L170.9 41.1L166.7 40.5L162.4 45.2Z" fill="#950000"/><path d="M119.3 79.7L123.7 76.3L119.9 79.4L115.4 82.9Z" fill="#c4c4c4"/><path d="M72 114.7L76.5 112.5L73 119.1L68.5 121.4Z" fill="#c4c4c4"/><path d="M149.3 58.3L153.7 54.1L149.7 54.8L145.3 59.1Z" fill="#c80000"/><path d="M102 92.2L106.5 89.3L102.8 93.6L98.3 96.6Z" fill="#c4c4c4"/><path d="M54.6 127.2L59.3 125.4L55.9 133.2L51.3 135.1Z" fill="#c4c4c4"/><path d="M132.1 70.7L136.5 67L132.6 68.9L128.2 72.7Z" fill="#ff1100"/><path d="M162.2 50.2L166.5 45.7L162.4 45.2L158.1 49.8Z" fill="#9f0000"/><path d="M84.7 104.6L89.3 102.1L85.6 107.6L81.1 110.1Z" fill="#c4c4c4"/><path d="M175 42.6L179.4 37.9L175.2 36.2L170.9 41.1Z" fill="#8d0000"/><path d="M114.8 82.9L119.3 79.7L115.4 82.9L111 86.2Z" fill="#c4c4c4"/><path d="M144.9 62.3L149.3 58.3L145.3 59.1L140.9 63.1Z" fill="#d60000"/><path d="M67.3 116.7L72 114.7L68.5 121.4L63.9 123.5Z" fill="#c4c4c4"/><path d="M157.8 54.4L162.2 50.2L158.1 49.8L153.7 54.1Z" fill="#a90000"/><path d="M97.5 95L102 92.2L98.3 96.6L93.8 99.4Z" fill="#c4c4c4"/><path d="M127.7 74.2L132.1 70.7L128.2 72.7L123.7 76.3Z" fill="#ff2500"/><path d="M49.9 128.7L54.6 127.2L51.3 135.1L46.6 136.7Z" fill="#c4c4c4"/><path d="M170.7 47.2L175 42.6L170.9 41.1L166.5 45.7Z" fill="#920000"/><path d="M80.1 106.8L84.7 104.6L81.1 110.1L76.5 112.5Z" fill="#c4c4c4"/><path d="M140.5 66.1L144.9 62.3L140.9 63.1L136.5 67Z" fill="#e40000"/><path d="M110.3 86L114.8 82.9L111 86.2L106.5 89.3Z" fill="#c4c4c4"/><path d="M153.4 58.5L157.8 54.4L153.7 54.1L149.3 58.3Z" fill="#b60000"/><path d="M62.7 118.5L67.3 116.7L63.9 123.5L59.3 125.4Z" fill="#c4c4c4"/><path d="M123.2 77.5L127.7 74.2L123.7 76.3L119.3 79.7Z" fill="#ff3900"/><path d="M166.3 51.6L170.7 47.2L166.5 45.7L162.2 50.2Z" fill="#990000"/><path d="M93 97.5L97.5 95L93.8 99.4L89.3 102.1Z" fill="#c4c4c4"/><path d="M179.2 45.3L183.6 40.6L179.4 37.9L175 42.6Z" fill="#8c0000"/><path d="M136.1 69.7L140.5 66.1L136.5 67L132.1 70.7Z" fill="#f00000"/><path d="M105.8 88.8L110.3 86L106.5 89.3L102 92.2Z" fill="#c4c4c4"/><path d="M75.5 108.9L80.1 106.8L76.5 112.5L72 114.7Z" fill="#c4c4c4"/><path d="M149 62.4L153.4 58.5L149.3 58.3L144.9 62.3Z" fill="#c40000"/><path d="M161.9 55.8L166.3 51.6L162.2 50.2L157.8 54.4Z" fill="#a30000"/><path d="M174.9 49.8L179.2 45.3L175 42.6L170.7 47.2Z" fill="#920000"/><path d="M118.7 80.7L123.2 77.5L119.3 79.7L114.8 82.9Z" fill="#ff4d00"/><path d="M88.4 99.9L93 97.5L89.3 102.1L84.7 104.6Z" fill="#c4c4c4"/><path d="M58 120.2L62.7 118.5L59.3 125.4L54.6 127.2Z" fill="#c4c4c4"/><path d="M131.7 73.1L136.1 69.7L132.1 70.7L127.7 74.2Z" fill="#fa0000"/><path d="M144.6 66.1L149 62.4L144.9 62.3L140.5 66.1Z" fill="#d10000"/><path d="M101.3 91.5L105.8 88.8L102 92.2L97.5 95Z" fill="#c4c4c4"/><path d="M157.5 59.8L161.9 55.8L157.8 54.4L153.4 58.5Z" fill="#ab0000"/><path d="M183.4 48.9L187.8 44.3L183.6 40.6L179.2 45.3Z" fill="#8e0000"/><path d="M170.5 54.1L174.9 49.8L170.7 47.2L166.3 51.6Z" fill="#980000"/><path d="M70.9 110.8L75.5 108.9L72 114.7L67.3 116.7Z" fill="#c4c4c4"/><path d="M114.2 83.6L118.7 80.7L114.8 82.9L110.3 86Z" fill="#ff5e00"/><path d="M127.2 76.3L131.7 73.1L127.7 74.2L123.2 77.5Z" fill="#ff0700"/><path d="M83.8 102.1L88.4 99.9L84.7 104.6L80.1 106.8Z" fill="#c4c4c4"/><path d="M53.3 121.6L58 120.2L54.6 127.2L49.9 128.7Z" fill="#c4c4c4"/><path d="M140.1 69.7L144.6 66.1L140.5 66.1L136.1 69.7Z" fill="#dc0000"/><path d="M179.1 53.3L183.4 48.9L179.2 45.3L174.9 49.8Z" fill="#930000"/><path d="M153.1 63.6L157.5 59.8L153.4 58.5L149 62.4Z" fill="#b90000"/><path d="M166.1 58.2L170.5 54.1L166.3 51.6L161.9 55.8Z" fill="#a10000"/><path d="M96.7 93.9L101.3 91.5L97.5 95L93 97.5Z" fill="#c4c4c4"/><path d="M66.2 112.5L70.9 110.8L67.3 116.7L62.7 118.5Z" fill="#c4c4c4"/><path d="M109.7 86.3L114.2 83.6L110.3 86L105.8 88.8Z" fill="#c4c4c4"/><path d="M187.7 53.6L192 49.1L187.8 44.3L183.4 48.9Z" fill="#910000"/><path d="M122.7 79.4L127.2 76.3L123.2 77.5L118.7 80.7Z" fill="#ff1500"/><path d="M174.7 57.5L179.1 53.3L174.9 49.8L170.5 54.1Z" fill="#9a0000"/><path d="M135.7 73L140.1 69.7L136.1 69.7L131.7 73.1Z" fill="#e70000"/><path d="M79.1 104.1L83.8 102.1L80.1 106.8L75.5 108.9Z" fill="#c4c4c4"/><path d="M161.7 62.1L166.1 58.2L161.9 55.8L157.5 59.8Z" fill="#a90000"/><path d="M148.7 67.2L153.1 63.6L149 62.4L144.6 66.1Z" fill="#c50000"/><path d="M92.1 96.2L96.7 93.9L93 97.5L88.4 99.9Z" fill="#c4c4c4"/><path d="M183.3 58L187.7 53.6L183.4 48.9L179.1 53.3Z" fill="#970000"/><path d="M105.1 88.9L109.7 86.3L105.8 88.8L101.3 91.5Z" fill="#c4c4c4"/><path d="M170.3 61.6L174.7 57.5L170.5 54.1L166.1 58.2Z" fill="#a30000"/><path d="M61.5 114.1L66.2 112.5L62.7 118.5L58 120.2Z" fill="#c4c4c4"/><path d="M118.2 82.2L122.7 79.4L118.7 80.7L114.2 83.6Z" fill="#ff2100"/><path d="M157.3 65.8L161.7 62.1L157.5 59.8L153.1 63.6Z" fill="#b40000"/><path d="M131.2 76.1L135.7 73L131.7 73.1L127.2 76.3Z" fill="#ef0000"/><path d="M191.9 59.4L196.3 54.9L192 49.1L187.7 53.6Z" fill="#980000"/><path d="M144.2 70.7L148.7 67.2L144.6 66.1L140.1 69.7Z" fill="#d00000"/><path d="M74.5 105.9L79.1 104.1L75.5 108.9L70.9 110.8Z" fill="#c4c4c4"/><path d="M178.9 62.1L183.3 58L179.1 53.3L174.7 57.5Z" fill="#a00000"/><path d="M87.5 98.3L92.1 96.2L88.4 99.9L83.8 102.1Z" fill="#c4c4c4"/><path d="M165.9 65.4L170.3 61.6L166.1 58.2L161.7 62.1Z" fill="#aa0000"/><path d="M100.6 91.3L105.1 88.9L101.3 91.5L96.7 93.9Z" fill="#c4c4c4"/><path d="M187.5 63.6L191.9 59.4L187.7 53.6L183.3 58Z" fill="#a10000"/><path d="M152.8 69.4L157.3 65.8L153.1 63.6L148.7 67.2Z" fill="#bf0000"/><path d="M113.6 84.9L118.2 82.2L114.2 83.6L109.7 86.3Z" fill="#ff2a00"/><path d="M139.8 73.9L144.2 70.7L140.1 69.7L135.7 73Z" fill="#d90000"/><path d="M126.7 79.1L131.2 76.1L127.2 76.3L122.7 79.4Z" fill="#f60000"/><path d="M56.8 115.4L61.5 114.1L58 120.2L53.3 121.6Z" fill="#c4c4c4"/><path d="M196.2 66.2L200.5 61.8L196.3 54.9L191.9 59.4Z" fill="#a70000"/><path d="M174.5 66L178.9 62.1L174.7 57.5L170.3 61.6Z" fill="#a80000"/><path d="M69.8 107.5L74.5 105.9L70.9 110.8L66.2 112.5Z" fill="#c4c4c4"/><path d="M161.4 69.1L165.9 65.4L161.7 62.1L157.3 65.8Z" fill="#b60000"/><path d="M183.1 67.7L187.5 63.6L183.3 58L178.9 62.1Z" fill="#aa0000"/><path d="M82.9 100.2L87.5 98.3L83.8 102.1L79.1 104.1Z" fill="#c4c4c4"/><path d="M148.4 72.7L152.8 69.4L148.7 67.2L144.2 70.7Z" fill="#c90000"/><path d="M95.9 93.5L100.6 91.3L96.7 93.9L92.1 96.2Z" fill="#c4c4c4"/><path d="M191.8 70.4L196.2 66.2L191.9 59.4L187.5 63.6Z" fill="#b20000"/><path d="M135.3 77L139.8 73.9L135.7 73L131.2 76.1Z" fill="#e10000"/><path d="M109 87.4L113.6 84.9L109.7 86.3L105.1 88.9Z" fill="#ff3200"/><path d="M122.2 81.9L126.7 79.1L122.7 79.4L118.2 82.2Z" fill="#fc0000"/><path d="M200.4 74.1L204.8 69.8L200.5 61.8L196.2 66.2Z" fill="#c30000"/><path d="M170.1 69.8L174.5 66L170.3 61.6L165.9 65.4Z" fill="#b20000"/><path d="M157 72.5L161.4 69.1L157.3 65.8L152.8 69.4Z" fill="#c00000"/><path d="M178.7 71.6L183.1 67.7L178.9 62.1L174.5 66Z" fill="#b60000"/><path d="M65.1 108.9L69.8 107.5L66.2 112.5L61.5 114.1Z" fill="#c4c4c4"/><path d="M143.9 75.9L148.4 72.7L144.2 70.7L139.8 73.9Z" fill="#d20000"/><path d="M187.4 74.3L191.8 70.4L187.5 63.6L183.1 67.7Z" fill="#c00000"/><path d="M204.7 83L209 78.8L204.8 69.8L200.4 74.1Z" fill="#e90000"/><path d="M78.2 101.9L82.9 100.2L79.1 104.1L74.5 105.9Z" fill="#c4c4c4"/><path d="M196 78.1L200.4 74.1L196.2 66.2L191.8 70.4Z" fill="#d10000"/><path d="M130.7 79.8L135.3 77L131.2 76.1L126.7 79.1Z" fill="#e80000"/><path d="M165.7 73.4L170.1 69.8L165.9 65.4L161.4 69.1Z" fill="#be0000"/><path d="M91.3 95.4L95.9 93.5L92.1 96.2L87.5 98.3Z" fill="#c4c4c4"/><path d="M117.6 84.4L122.2 81.9L118.2 82.2L113.6 84.9Z" fill="#ff0300"/><path d="M104.4 89.6L109 87.4L105.1 88.9L100.6 91.3Z" fill="#ff3800"/><path d="M174.3 75.2L178.7 71.6L174.5 66L170.1 69.8Z" fill="#c20000"/><path d="M152.5 75.8L157 72.5L152.8 69.4L148.4 72.7Z" fill="#ca0000"/><path d="M208.9 92.9L213.3 88.8L209 78.8L204.7 83Z" fill="#ff2600"/><path d="M183 78.1L187.4 74.3L183.1 67.7L178.7 71.6Z" fill="#cd0000"/><path d="M200.3 87L204.7 83L200.4 74.1L196 78.1Z" fill="#f60000"/><path d="M191.7 82L196 78.1L191.8 70.4L187.4 74.3Z" fill="#df0000"/><path d="M139.4 78.8L143.9 75.9L139.8 73.9L135.3 77Z" fill="#da0000"/><path d="M60.3 110.1L65.1 108.9L61.5 114.1L56.8 115.4Z" fill="#c4c4c4"/><path d="M161.2 76.7L165.7 73.4L161.4 69.1L157 72.5Z" fill="#c80000"/><path d="M126.2 82.5L130.7 79.8L126.7 79.1L122.2 81.9Z" fill="#ed0000"/><path d="M213.2 104L217.5 99.9L213.3 88.8L208.9 92.9Z" fill="#ff9800"/><path d="M73.4 103.4L78.2 101.9L74.5 105.9L69.8 107.5Z" fill="#c4c4c4"/><path d="M113 86.8L117.6 84.4L113.6 84.9L109 87.4Z" fill="#ff0900"/><path d="M86.6 97.2L91.3 95.4L87.5 98.3L82.9 100.2Z" fill="#c4c4c4"/><path d="M99.8 91.7L104.4 89.6L100.6 91.3L95.9 93.5Z" fill="#ff3b00"/><path d="M169.9 78.7L174.3 75.2L170.1 69.8L165.7 73.4Z" fill="#cd0000"/><path d="M204.6 96.9L208.9 92.9L204.7 83L200.3 87Z" fill="#ff4100"/><path d="M217.4 116L221.8 112L217.5 99.9L213.2 104Z" fill="#eff600"/><path d="M148 78.9L152.5 75.8L148.4 72.7L143.9 75.9Z" fill="#d20000"/><path d="M178.6 81.7L183 78.1L178.7 71.6L174.3 75.2Z" fill="#d90000"/><path d="M195.9 90.8L200.3 87L196 78.1L191.7 82Z" fill="#ff0700"/><path d="M221.7 129.1L226 125.2L221.8 112L217.4 116Z" fill="#3efe00"/><path d="M187.3 85.8L191.7 82L187.4 74.3L183 78.1Z" fill="#eb0000"/><path d="M134.8 81.6L139.4 78.8L135.3 77L130.7 79.8Z" fill="#e00000"/><path d="M208.8 107.8L213.2 104L208.9 92.9L204.6 96.9Z" fill="#ffb400"/><path d="M156.7 79.9L161.2 76.7L157 72.5L152.5 75.8Z" fill="#d10000"/><path d="M121.6 85L126.2 82.5L122.2 81.9L117.6 84.4Z" fill="#f10000"/><path d="M108.4 89L113 86.8L109 87.4L104.4 89.6Z" fill="#ff0c00"/><path d="M200.2 100.6L204.6 96.9L200.3 87L195.9 90.8Z" fill="#ff5d00"/><path d="M165.4 82L169.9 78.7L165.7 73.4L161.2 76.7Z" fill="#d60000"/><path d="M213.1 119.8L217.4 116L213.2 104L208.8 107.8Z" fill="#ddff00"/><path d="M68.7 104.7L73.4 103.4L69.8 107.5L65.1 108.9Z" fill="#c4c4c4"/><path d="M95.2 93.6L99.8 91.7L95.9 93.5L91.3 95.4Z" fill="#c4c4c4"/><path d="M81.9 98.8L86.6 97.2L82.9 100.2L78.2 101.9Z" fill="#c4c4c4"/><path d="M143.5 81.8L148 78.9L143.9 75.9L139.4 78.8Z" fill="#d90000"/><path d="M191.5 94.4L195.9 90.8L191.7 82L187.3 85.8Z" fill="#ff1a00"/><path d="M174.1 85.1L178.6 81.7L174.3 75.2L169.9 78.7Z" fill="#e30000"/><path d="M217.3 132.8L221.7 129.1L217.4 116L213.1 119.8Z" fill="#27f600"/><path d="M182.8 89.3L187.3 85.8L183 78.1L178.6 81.7Z" fill="#f50000"/><path d="M204.5 111.5L208.8 107.8L204.6 96.9L200.2 100.6Z" fill="#ffc800"/><path d="M130.3 84.2L134.8 81.6L130.7 79.8L126.2 82.5Z" fill="#e40000"/><path d="M152.2 82.9L156.7 79.9L152.5 75.8L148 78.9Z" fill="#d80000"/><path d="M117 87.3L121.6 85L117.6 84.4L113 86.8Z" fill="#f40000"/><path d="M195.8 104.2L200.2 100.6L195.9 90.8L191.5 94.4Z" fill="#ff7500"/><path d="M208.7 123.4L213.1 119.8L208.8 107.8L204.5 111.5Z" fill="#c1ff00"/><path d="M160.9 85.1L165.4 82L161.2 76.7L156.7 79.9Z" fill="#df0000"/><path d="M103.8 91L108.4 89L104.4 89.6L99.8 91.7Z" fill="#ff0e00"/><path d="M187.1 97.9L191.5 94.4L187.3 85.8L182.8 89.3Z" fill="#ff2c00"/><path d="M139 84.4L143.5 81.8L139.4 78.8L134.8 81.6Z" fill="#de0000"/><path d="M169.7 88.3L174.1 85.1L169.9 78.7L165.4 82Z" fill="#eb0000"/><path d="M213 136.3L217.3 132.8L213.1 119.8L208.7 123.4Z" fill="#14ef00"/><path d="M178.4 92.6L182.8 89.3L178.6 81.7L174.1 85.1Z" fill="#fe0000"/><path d="M90.5 95.3L95.2 93.6L91.3 95.4L86.6 97.2Z" fill="#c4c4c4"/><path d="M63.9 105.8L68.7 104.7L65.1 108.9L60.3 110.1Z" fill="#c4c4c4"/><path d="M77.2 100.2L81.9 98.8L78.2 101.9L73.4 103.4Z" fill="#c4c4c4"/><path d="M200.1 115L204.5 111.5L200.2 100.6L195.8 104.2Z" fill="#ffd900"/><path d="M125.7 86.6L130.3 84.2L126.2 82.5L121.6 85Z" fill="#e80000"/><path d="M147.7 85.7L152.2 82.9L148 78.9L143.5 81.8Z" fill="#de0000"/><path d="M191.4 107.5L195.8 104.2L191.5 94.4L187.1 97.9Z" fill="#ff8b00"/><path d="M204.3 126.8L208.7 123.4L204.5 111.5L200.1 115Z" fill="#a9ff00"/><path d="M156.4 88L160.9 85.1L156.7 79.9L152.2 82.9Z" fill="#e50000"/><path d="M112.4 89.4L117 87.3L113 86.8L108.4 89Z" fill="#f50000"/><path d="M182.7 101.1L187.1 97.9L182.8 89.3L178.4 92.6Z" fill="#ff3e00"/><path d="M208.6 139.7L213 136.3L208.7 123.4L204.3 126.8Z" fill="#02e900"/><path d="M165.2 91.4L169.7 88.3L165.4 82L160.9 85.1Z" fill="#f20000"/><path d="M173.9 95.7L178.4 92.6L174.1 85.1L169.7 88.3Z" fill="#ff0c00"/><path d="M134.4 86.9L139 84.4L134.8 81.6L130.3 84.2Z" fill="#e20000"/><path d="M99.1 92.8L103.8 91L99.8 91.7L95.2 93.6Z" fill="#ff0d00"/><path d="M195.7 118.3L200.1 115L195.8 104.2L191.4 107.5Z" fill="#fbe500"/><path d="M85.7 96.8L90.5 95.3L86.6 97.2L81.9 98.8Z" fill="#c4c4c4"/><path d="M72.4 101.4L77.2 100.2L73.4 103.4L68.7 104.7Z" fill="#c4c4c4"/><path d="M143.2 88.3L147.7 85.7L143.5 81.8L139 84.4Z" fill="#e30000"/><path d="M121.1 88.8L125.7 86.6L121.6 85L117 87.3Z" fill="#ea0000"/><path d="M187 110.7L191.4 107.5L187.1 97.9L182.7 101.1Z" fill="#ff9d00"/><path d="M199.9 130L204.3 126.8L200.1 115L195.7 118.3Z" fill="#91ff00"/><path d="M151.9 90.7L156.4 88L152.2 82.9L147.7 85.7Z" fill="#eb0000"/><path d="M178.2 104.2L182.7 101.1L178.4 92.6L173.9 95.7Z" fill="#ff4f00"/><path d="M204.2 142.8L208.6 139.7L204.3 126.8L199.9 130Z" fill="#00e300"/><path d="M107.7 91.3L112.4 89.4L108.4 89L103.8 91Z" fill="#f50000"/><path d="M160.7 94.2L165.2 91.4L160.9 85.1L156.4 88Z" fill="#f80000"/><path d="M169.5 98.7L173.9 95.7L169.7 88.3L165.2 91.4Z" fill="#ff1800"/><path d="M129.8 89.2L134.4 86.9L130.3 84.2L125.7 86.6Z" fill="#e50000"/><path d="M191.2 121.4L195.7 118.3L191.4 107.5L187 110.7Z" fill="#f5ee00"/><path d="M94.4 94.4L99.1 92.8L95.2 93.6L90.5 95.3Z" fill="#ff0900"/><path d="M81 98.1L85.7 96.8L81.9 98.8L77.2 100.2Z" fill="#c4c4c4"/><path d="M138.6 90.7L143.2 88.3L139 84.4L134.4 86.9Z" fill="#e60000"/><path d="M182.5 113.7L187 110.7L182.7 101.1L178.2 104.2Z" fill="#ffad00"/><path d="M195.5 133.1L199.9 130L195.7 118.3L191.2 121.4Z" fill="#79ff00"/><path d="M116.5 90.8L121.1 88.8L117 87.3L112.4 89.4Z" fill="#ea0000"/><path d="M67.6 102.4L72.4 101.4L68.7 104.7L63.9 105.8Z" fill="#c4c4c4"/><path d="M147.4 93.3L151.9 90.7L147.7 85.7L143.2 88.3Z" fill="#ee0000"/><path d="M173.7 107.1L178.2 104.2L173.9 95.7L169.5 98.7Z" fill="#ff5d00"/><path d="M199.8 145.8L204.2 142.8L199.9 130L195.5 133.1Z" fill="#00dd00"/><path d="M156.2 96.8L160.7 94.2L156.4 88L151.9 90.7Z" fill="#fd0000"/><path d="M165 101.4L169.5 98.7L165.2 91.4L160.7 94.2Z" fill="#ff2100"/><path d="M103.1 93L107.7 91.3L103.8 91L99.1 92.8Z" fill="#f40000"/><path d="M186.8 124.3L191.2 121.4L187 110.7L182.5 113.7Z" fill="#f0f400"/><path d="M125.2 91.4L129.8 89.2L125.7 86.6L121.1 88.8Z" fill="#e60000"/><path d="M89.6 95.7L94.4 94.4L90.5 95.3L85.7 96.8Z" fill="#ff0400"/><path d="M178 116.5L182.5 113.7L178.2 104.2L173.7 107.1Z" fill="#ffb700"/><path d="M134 93L138.6 90.7L134.4 86.9L129.8 89.2Z" fill="#e80000"/><path d="M191.1 135.9L195.5 133.1L191.2 121.4L186.8 124.3Z" fill="#67ff00"/><path d="M76.2 99.2L81 98.1L77.2 100.2L72.4 101.4Z" fill="#c4c4c4"/><path d="M111.8 92.6L116.5 90.8L112.4 89.4L107.7 91.3Z" fill="#ea0000"/><path d="M169.2 109.7L173.7 107.1L169.5 98.7L165 101.4Z" fill="#ff6800"/><path d="M142.8 95.6L147.4 93.3L143.2 88.3L138.6 90.7Z" fill="#f10000"/><path d="M195.4 148.6L199.8 145.8L195.5 133.1L191.1 135.9Z" fill="#00d900"/><path d="M160.4 104L165 101.4L160.7 94.2L156.2 96.8Z" fill="#ff2800"/><path d="M151.6 99.3L156.2 96.8L151.9 90.7L147.4 93.3Z" fill="#ff0200"/><path d="M182.3 127L186.8 124.3L182.5 113.7L178 116.5Z" fill="#ecfa00"/><path d="M98.3 94.5L103.1 93L99.1 92.8L94.4 94.4Z" fill="#f10000"/><path d="M120.6 93.3L125.2 91.4L121.1 88.8L116.5 90.8Z" fill="#e60000"/><path d="M173.5 119.1L178 116.5L173.7 107.1L169.2 109.7Z" fill="#ffbe00"/><path d="M84.9 96.9L89.6 95.7L85.7 96.8L81 98.1Z" fill="#c4c4c4"/><path d="M186.6 138.5L191.1 135.9L186.8 124.3L182.3 127Z" fill="#59ff00"/><path d="M129.4 95L134 93L129.8 89.2L125.2 91.4Z" fill="#e90000"/><path d="M107.1 94.2L111.8 92.6L107.7 91.3L103.1 93Z" fill="#e80000"/><path d="M164.7 112.2L169.2 109.7L165 101.4L160.4 104Z" fill="#ff7000"/><path d="M71.4 100.1L76.2 99.2L72.4 101.4L67.6 102.4Z" fill="#c4c4c4"/><path d="M190.9 151.1L195.4 148.6L191.1 135.9L186.6 138.5Z" fill="#00d700"/><path d="M138.2 97.7L142.8 95.6L138.6 90.7L134 93Z" fill="#f20000"/><path d="M155.9 106.4L160.4 104L156.2 96.8L151.6 99.3Z" fill="#ff2d00"/><path d="M147 101.5L151.6 99.3L147.4 93.3L142.8 95.6Z" fill="#ff0600"/><path d="M177.8 129.5L182.3 127L178 116.5L173.5 119.1Z" fill="#e9fd00"/><path d="M93.6 95.7L98.3 94.5L94.4 94.4L89.6 95.7Z" fill="#ee0000"/><path d="M115.9 95L120.6 93.3L116.5 90.8L111.8 92.6Z" fill="#e50000"/><path d="M169 121.5L173.5 119.1L169.2 109.7L164.7 112.2Z" fill="#ffc300"/><path d="M182.1 141L186.6 138.5L182.3 127L177.8 129.5Z" fill="#4fff00"/><path d="M124.7 96.8L129.4 95L125.2 91.4L120.6 93.3Z" fill="#e90000"/><path d="M80.1 97.9L84.9 96.9L81 98.1L76.2 99.2Z" fill="#c4c4c4"/><path d="M160.2 114.5L164.7 112.2L160.4 104L155.9 106.4Z" fill="#ff7400"/><path d="M186.4 153.5L190.9 151.1L186.6 138.5L182.1 141Z" fill="#00d500"/><path d="M133.6 99.7L138.2 97.7L134 93L129.4 95Z" fill="#f30000"/><path d="M102.4 95.6L107.1 94.2L103.1 93L98.3 94.5Z" fill="#e50000"/><path d="M151.3 108.5L155.9 106.4L151.6 99.3L147 101.5Z" fill="#ff2f00"/><path d="M142.4 103.6L147 101.5L142.8 95.6L138.2 97.7Z" fill="#ff0700"/><path d="M173.3 131.9L177.8 129.5L173.5 119.1L169 121.5Z" fill="#e7ff00"/><path d="M111.2 96.5L115.9 95L111.8 92.6L107.1 94.2Z" fill="#e30000"/><path d="M88.8 96.8L93.6 95.7L89.6 95.7L84.9 96.9Z" fill="#e80000"/><path d="M164.5 123.7L169 121.5L164.7 112.2L160.2 114.5Z" fill="#ffc500"/><path d="M177.6 143.3L182.1 141L177.8 129.5L173.3 131.9Z" fill="#4bff00"/><path d="M120 98.4L124.7 96.8L120.6 93.3L115.9 95Z" fill="#e70000"/><path d="M155.6 116.6L160.2 114.5L155.9 106.4L151.3 108.5Z" fill="#ff7600"/><path d="M181.9 155.7L186.4 153.5L182.1 141L177.6 143.3Z" fill="#00d400"/><path d="M75.2 98.7L80.1 97.9L76.2 99.2L71.4 100.1Z" fill="#c4c4c4"/><path d="M128.9 101.4L133.6 99.7L129.4 95L124.7 96.8Z" fill="#f10000"/><path d="M146.7 110.5L151.3 108.5L147 101.5L142.4 103.6Z" fill="#ff3000"/><path d="M97.6 96.8L102.4 95.6L98.3 94.5L93.6 95.7Z" fill="#e00000"/><path d="M137.8 105.4L142.4 103.6L138.2 97.7L133.6 99.7Z" fill="#ff0600"/><path d="M168.8 134L173.3 131.9L169 121.5L164.5 123.7Z" fill="#e5ff00"/><path d="M106.5 97.8L111.2 96.5L107.1 94.2L102.4 95.6Z" fill="#df0000"/><path d="M159.9 125.7L164.5 123.7L160.2 114.5L155.6 116.6Z" fill="#ffc500"/><path d="M173.1 145.3L177.6 143.3L173.3 131.9L168.8 134Z" fill="#4bff00"/><path d="M84 97.7L88.8 96.8L84.9 96.9L80.1 97.9Z" fill="#e20000"/><path d="M115.3 99.8L120 98.4L115.9 95L111.2 96.5Z" fill="#e40000"/><path d="M151 118.5L155.6 116.6L151.3 108.5L146.7 110.5Z" fill="#ff7500"/><path d="M177.4 157.7L181.9 155.7L177.6 143.3L173.1 145.3Z" fill="#00d500"/><path d="M124.2 102.9L128.9 101.4L124.7 96.8L120 98.4Z" fill="#ef0000"/><path d="M142.1 112.3L146.7 110.5L142.4 103.6L137.8 105.4Z" fill="#ff2d00"/><path d="M133.2 107.1L137.8 105.4L133.6 99.7L128.9 101.4Z" fill="#ff0300"/><path d="M164.2 135.9L168.8 134L164.5 123.7L159.9 125.7Z" fill="#e6ff00"/><path d="M92.8 97.8L97.6 96.8L93.6 95.7L88.8 96.8Z" fill="#da0000"/><path d="M155.3 127.6L159.9 125.7L155.6 116.6L151 118.5Z" fill="#ffc300"/><path d="M101.7 98.9L106.5 97.8L102.4 95.6L97.6 96.8Z" fill="#d90000"/><path d="M168.6 147.2L173.1 145.3L168.8 134L164.2 135.9Z" fill="#4fff00"/><path d="M79.1 98.4L84 97.7L80.1 97.9L75.2 98.7Z" fill="#da0000"/><path d="M146.4 120.2L151 118.5L146.7 110.5L142.1 112.3Z" fill="#ff7000"/><path d="M110.6 101.1L115.3 99.8L111.2 96.5L106.5 97.8Z" fill="#df0000"/><path d="M172.9 159.5L177.4 157.7L173.1 145.3L168.6 147.2Z" fill="#00d600"/><path d="M137.4 113.8L142.1 112.3L137.8 105.4L133.2 107.1Z" fill="#ff2900"/><path d="M119.5 104.3L124.2 102.9L120 98.4L115.3 99.8Z" fill="#eb0000"/><path d="M128.5 108.5L133.2 107.1L128.9 101.4L124.2 102.9Z" fill="#fd0000"/><path d="M159.6 137.7L164.2 135.9L159.9 125.7L155.3 127.6Z" fill="#e9fe00"/><path d="M88 98.6L92.8 97.8L88.8 96.8L84 97.7Z" fill="#d30000"/><path d="M150.7 129.2L155.3 127.6L151 118.5L146.4 120.2Z" fill="#ffbe00"/><path d="M164 148.9L168.6 147.2L164.2 135.9L159.6 137.7Z" fill="#58ff00"/><path d="M96.9 99.8L101.7 98.9L97.6 96.8L92.8 97.8Z" fill="#d30000"/><path d="M141.7 121.7L146.4 120.2L142.1 112.3L137.4 113.8Z" fill="#ff6900"/><path d="M168.3 161.2L172.9 159.5L168.6 147.2L164 148.9Z" fill="#00d900"/><path d="M105.8 102.1L110.6 101.1L106.5 97.8L101.7 98.9Z" fill="#d90000"/><path d="M132.7 115.2L137.4 113.8L133.2 107.1L128.5 108.5Z" fill="#ff2200"/><path d="M114.8 105.4L119.5 104.3L115.3 99.8L110.6 101.1Z" fill="#e60000"/><path d="M123.7 109.8L128.5 108.5L124.2 102.9L119.5 104.3Z" fill="#f90000"/><path d="M155 139.2L159.6 137.7L155.3 127.6L150.7 129.2Z" fill="#ecfa00"/><path d="M83.1 99.2L88 98.6L84 97.7L79.1 98.4Z" fill="#ca0000"/><path d="M146 130.6L150.7 129.2L146.4 120.2L141.7 121.7Z" fill="#ffb800"/><path d="M159.4 150.4L164 148.9L159.6 137.7L155 139.2Z" fill="#66ff00"/><path d="M92 100.5L96.9 99.8L92.8 97.8L88 98.6Z" fill="#cb0000"/><path d="M137 123L141.7 121.7L137.4 113.8L132.7 115.2Z" fill="#ff5e00"/><path d="M163.7 162.6L168.3 161.2L164 148.9L159.4 150.4Z" fill="#00dd00"/><path d="M101 102.9L105.8 102.1L101.7 98.9L96.9 99.8Z" fill="#d20000"/><path d="M128 116.4L132.7 115.2L128.5 108.5L123.7 109.8Z" fill="#ff1900"/><path d="M110 106.3L114.8 105.4L110.6 101.1L105.8 102.1Z" fill="#df0000"/><path d="M150.4 140.6L155 139.2L150.7 129.2L146 130.6Z" fill="#f0f500"/><path d="M119 110.8L123.7 109.8L119.5 104.3L114.8 105.4Z" fill="#f30000"/><path d="M141.4 131.8L146 130.6L141.7 121.7L137 123Z" fill="#ffae00"/><path d="M154.7 151.7L159.4 150.4L155 139.2L150.4 140.6Z" fill="#78ff00"/><path d="M87.2 101L92 100.5L88 98.6L83.1 99.2Z" fill="#c10000"/><path d="M132.3 124.1L137 123L132.7 115.2L128 116.4Z" fill="#ff5000"/><path d="M159.1 163.8L163.7 162.6L159.4 150.4L154.7 151.7Z" fill="#00e200"/><path d="M96.1 103.5L101 102.9L96.9 99.8L92 100.5Z" fill="#c90000"/><path d="M123.3 117.3L128 116.4L123.7 109.8L119 110.8Z" fill="#ff0e00"/><path d="M145.7 141.7L150.4 140.6L146 130.6L141.4 131.8Z" fill="#f5ee00"/><path d="M105.2 107L110 106.3L105.8 102.1L101 102.9Z" fill="#d70000"/><path d="M114.2 111.7L119 110.8L114.8 105.4L110 106.3Z" fill="#ec0000"/><path d="M136.6 132.8L141.4 131.8L137 123L132.3 124.1Z" fill="#ff9f00"/><path d="M150.1 152.7L154.7 151.7L150.4 140.6L145.7 141.7Z" fill="#8fff00"/><path d="M127.6 124.9L132.3 124.1L128 116.4L123.3 117.3Z" fill="#ff4000"/><path d="M154.4 164.8L159.1 163.8L154.7 151.7L150.1 152.7Z" fill="#01e800"/><path d="M91.3 103.9L96.1 103.5L92 100.5L87.2 101Z" fill="#bf0000"/><path d="M118.5 118.1L123.3 117.3L119 110.8L114.2 111.7Z" fill="#ff0000"/><path d="M141 142.7L145.7 141.7L141.4 131.8L136.6 132.8Z" fill="#fbe600"/><path d="M100.3 107.5L105.2 107L101 102.9L96.1 103.5Z" fill="#ce0000"/><path d="M109.4 112.3L114.2 111.7L110 106.3L105.2 107Z" fill="#e40000"/><path d="M131.9 133.6L136.6 132.8L132.3 124.1L127.6 124.9Z" fill="#ff8d00"/><path d="M145.4 153.6L150.1 152.7L145.7 141.7L141 142.7Z" fill="#a8ff00"/><path d="M122.8 125.6L127.6 124.9L123.3 117.3L118.5 118.1Z" fill="#ff2d00"/><path d="M149.7 165.6L154.4 164.8L150.1 152.7L145.4 153.6Z" fill="#12ef00"/><path d="M113.7 118.6L118.5 118.1L114.2 111.7L109.4 112.3Z" fill="#f60000"/><path d="M136.2 143.4L141 142.7L136.6 132.8L131.9 133.6Z" fill="#ffda00"/><path d="M104.5 112.7L109.4 112.3L105.2 107L100.3 107.5Z" fill="#da0000"/><path d="M95.4 107.8L100.3 107.5L96.1 103.5L91.3 103.9Z" fill="#c30000"/><path d="M127.1 134.2L131.9 133.6L127.6 124.9L122.8 125.6Z" fill="#ff7700"/><path d="M140.6 154.3L145.4 153.6L141 142.7L136.2 143.4Z" fill="#c0ff00"/><path d="M118 126.1L122.8 125.6L118.5 118.1L113.7 118.6Z" fill="#ff1c00"/><path d="M145 166.2L149.7 165.6L145.4 153.6L140.6 154.3Z" fill="#26f600"/><path d="M108.8 119L113.7 118.6L109.4 112.3L104.5 112.7Z" fill="#ec0000"/><path d="M131.5 143.9L136.2 143.4L131.9 133.6L127.1 134.2Z" fill="#ffc900"/><path d="M99.6 112.9L104.5 112.7L100.3 107.5L95.4 107.8Z" fill="#ce0000"/><path d="M122.3 134.6L127.1 134.2L122.8 125.6L118 126.1Z" fill="#ff5f00"/><path d="M135.9 154.7L140.6 154.3L136.2 143.4L131.5 143.9Z" fill="#dbff00"/><path d="M113.1 126.3L118 126.1L113.7 118.6L108.8 119Z" fill="#ff0800"/><path d="M140.3 166.6L145 166.2L140.6 154.3L135.9 154.7Z" fill="#3cfe00"/><path d="M103.9 119.1L108.8 119L104.5 112.7L99.6 112.9Z" fill="#e00000"/><path d="M126.7 144.3L131.5 143.9L127.1 134.2L122.3 134.6Z" fill="#ffb600"/><path d="M117.4 134.8L122.3 134.6L118 126.1L113.1 126.3Z" fill="#ff4300"/><path d="M131.1 155L135.9 154.7L131.5 143.9L126.7 144.3Z" fill="#eef700"/><path d="M108.2 126.4L113.1 126.3L108.8 119L103.9 119.1Z" fill="#f70000"/><path d="M135.5 166.8L140.3 166.6L135.9 154.7L131.1 155Z" fill="#65ff00"/><path d="M121.8 144.4L126.7 144.3L122.3 134.6L117.4 134.8Z" fill="#ff9b00"/><path d="M112.5 134.8L117.4 134.8L113.1 126.3L108.2 126.4Z" fill="#ff2800"/><path d="M126.2 155L131.1 155L126.7 144.3L121.8 144.4Z" fill="#f9e800"/><path d="M130.6 166.8L135.5 166.8L131.1 155L126.2 155Z" fill="#95ff00"/><path d="M116.9 144.3L121.8 144.4L117.4 134.8L112.5 134.8Z" fill="#ff7b00"/><path d="M121.3 154.9L126.2 155L121.8 144.4L116.9 144.3Z" fill="#ffd400"/><path d="M125.8 166.5L130.6 166.8L126.2 155L121.3 154.9Z" fill="#bfff00"/></g>
<path d="M330.5 163.2L326.2 50.8M344.7 156.5L341.2 44.8M358.6 149.9L355.9 38.9M372.3 143.5L370.3 33.1M385.8 137.1L384.5 27.4M399 130.9L398.4 21.8M412 124.7L412 16.3M424.8 118.7L425.5 10.9M505.3 173.4L510.4 60.3M496.7 167.6L501.3 55M488.3 161.8L492.4 49.8M480 156.2L483.6 44.7M471.7 150.6L474.9 39.7M463.6 145.1L466.4 34.7M455.7 139.7L458 29.8M447.8 134.3L449.7 25M440 129L441.5 20.2M432.3 123.8L433.4 15.5M424.8 118.7L425.5 10.9M330.5 163.2L424.8 118.7L505.3 173.4M329.9 147.9L424.9 103.9L506 157.9M329.3 132.3L425 89L506.7 142.3M328.7 116.5L425.1 73.8L507.4 126.4M328.1 100.4L425.2 58.4L508.2 110.2M327.5 84.1L425.3 42.8L508.9 93.9M326.9 67.6L425.4 27L509.7 77.2M326.2 50.8L425.5 10.9L510.4 60.3" fill="none" stroke="#dcdcdc" stroke-width="0.7"/>
<g><path d="M409.2 225L411.7 223.6L409.6 222L407.1 223.3Z" fill="#1db820" stroke="#1db820" stroke-width="0.6"/><path d="M407.1 223.3L409.6 222L407.5 220.3L404.9 221.7Z" fill="#1db820" stroke="#1db820" stroke-width="0.6"/><path d="M404.9 221.7L407.5 220.3L405.4 218.7L402.9 220Z" fill="#17a820" stroke="#17a820" stroke-width="0.6"/><path d="M402.9 220L405.4 218.7L403.3 217L400.8 218.4Z" fill="#17a820" stroke="#17a820" stroke-width="0.6"/><path d="M400.8 218.4L403.3 217L401.2 215.4L398.7 216.8Z" fill="#139a21" stroke="#139a21" stroke-width="0.6"/><path d="M398.7 216.8L401.2 215.4L399.2 213.8L396.6 215.1Z" fill="#139a21" stroke="#139a21" stroke-width="0.6"/><path d="M396.6 215.1L399.2 213.8L397.1 212.2L394.5 213.5Z" fill="#119023" stroke="#119023" stroke-width="0.6"/><path d="M394.5 213.5L397.1 212.2L395 210.6L392.5 211.9Z" fill="#119023" stroke="#119023" stroke-width="0.6"/><path d="M392.5 211.9L395 210.6L393 209L390.4 210.3Z" fill="#119023" stroke="#119023" stroke-width="0.6"/><path d="M390.4 210.3L393 209L390.9 207.4L388.4 208.7Z" fill="#108626" stroke="#108626" stroke-width="0.6"/><path d="M388.4 208.7L390.9 207.4L388.9 205.8L386.4 207.1Z" fill="#108626" stroke="#108626" stroke-width="0.6"/><path d="M386.4 207.1L388.9 205.8L386.9 204.2L384.3 205.5Z" fill="#0e7e28" stroke="#0e7e28" stroke-width="0.6"/><path d="M384.3 205.5L386.9 204.2L384.8 202.6L382.3 203.9Z" fill="#0e7e28" stroke="#0e7e28" stroke-width="0.6"/><path d="M382.3 203.9L384.8 202.6L382.8 201L380.3 202.3Z" fill="#0e7e28" stroke="#0e7e28" stroke-width="0.6"/><path d="M380.3 202.3L382.8 201L380.8 199.5L378.3 200.7Z" fill="#0e7e28" stroke="#0e7e28" stroke-width="0.6"/><path d="M378.3 200.7L380.8 199.5L378.8 197.9L376.3 199.2Z" fill="#0d762c" stroke="#0d762c" stroke-width="0.6"/><path d="M376.3 199.2L378.8 197.9L376.8 196.3L374.3 197.6Z" fill="#0d762c" stroke="#0d762c" stroke-width="0.6"/><path d="M374.3 197.6L376.8 196.3L374.9 194.8L372.3 196.1Z" fill="#0d762c" stroke="#0d762c" stroke-width="0.6"/><path d="M372.3 196.1L374.9 194.8L372.9 193.2L370.3 194.5Z" fill="#0c6e30" stroke="#0c6e30" stroke-width="0.6"/><path d="M370.3 194.5L372.9 193.2L370.9 191.7L368.4 193Z" fill="#0c6e30" stroke="#0c6e30" stroke-width="0.6"/><path d="M368.4 193L370.9 191.7L369 190.2L366.4 191.4Z" fill="#0c6e30" stroke="#0c6e30" stroke-width="0.6"/><path d="M366.4 191.4L369 190.2L367 188.6L364.5 189.9Z" fill="#0c6e30" stroke="#0c6e30" stroke-width="0.6"/><path d="M364.5 189.9L367 188.6L365 187.1L362.5 188.4Z" fill="#0c6e30" stroke="#0c6e30" stroke-width="0.6"/><path d="M362.5 188.4L365 187.1L363.1 185.6L360.6 186.8Z" fill="#0a6238" stroke="#0a6238" stroke-width="0.6"/><path d="M360.6 186.8L363.1 185.6L361.2 184.1L358.7 185.3Z" fill="#0a6238" stroke="#0a6238" stroke-width="0.6"/><path d="M358.7 185.3L361.2 184.1L359.3 182.6L356.7 183.8Z" fill="#0a6238" stroke="#0a6238" stroke-width="0.6"/><path d="M356.7 183.8L359.3 182.6L357.3 181.1L354.8 182.3Z" fill="#0a6238" stroke="#0a6238" stroke-width="0.6"/><path d="M354.8 182.3L357.3 181.1L355.4 179.6L352.9 180.8Z" fill="#0a6238" stroke="#0a6238" stroke-width="0.6"/><path d="M352.9 180.8L355.4 179.6L353.5 178.1L351 179.3Z" fill="#0a6238" stroke="#0a6238" stroke-width="0.6"/><path d="M351 179.3L353.5 178.1L351.6 176.6L349.1 177.8Z" fill="#0a6238" stroke="#0a6238" stroke-width="0.6"/><path d="M349.1 177.8L351.6 176.6L349.7 175.1L347.2 176.3Z" fill="#0a6238" stroke="#0a6238" stroke-width="0.6"/><path d="M347.2 176.3L349.7 175.1L347.8 173.6L345.3 174.9Z" fill="#0a6238" stroke="#0a6238" stroke-width="0.6"/><path d="M345.3 174.9L347.8 173.6L346 172.2L343.5 173.4Z" fill="#0a6238" stroke="#0a6238" stroke-width="0.6"/><path d="M343.5 173.4L346 172.2L344.1 170.7L341.6 171.9Z" fill="#0a6238" stroke="#0a6238" stroke-width="0.6"/><path d="M341.6 171.9L344.1 170.7L342.2 169.3L339.7 170.5Z" fill="#0a6238" stroke="#0a6238" stroke-width="0.6"/><path d="M339.7 170.5L342.2 169.3L340.4 167.8L337.9 169Z" fill="#0a6238" stroke="#0a6238" stroke-width="0.6"/><path d="M337.9 169L340.4 167.8L338.5 166.4L336 167.5Z" fill="#0a6238" stroke="#0a6238" stroke-width="0.6"/><path d="M336 167.5L338.5 166.4L336.7 164.9L334.2 166.1Z" fill="#0a6238" stroke="#0a6238" stroke-width="0.6"/><path d="M334.2 166.1L336.7 164.9L334.8 163.5L332.3 164.7Z" fill="#0a6238" stroke="#0a6238" stroke-width="0.6"/><path d="M332.3 164.7L334.8 163.5L333 162L330.5 163.2Z" fill="#0a6238" stroke="#0a6238" stroke-width="0.6"/><path d="M411.7 223.6L414.3 222.3L412.2 220.6L409.6 222Z" fill="#1db820" stroke="#1db820" stroke-width="0.6"/><path d="M409.6 222L412.2 220.6L410.1 219L407.5 220.3Z" fill="#17a820" stroke="#17a820" stroke-width="0.6"/><path d="M407.5 220.3L410.1 219L408 217.3L405.4 218.7Z" fill="#17a820" stroke="#17a820" stroke-width="0.6"/><path d="M405.4 218.7L408 217.3L405.9 215.7L403.3 217Z" fill="#139a21" stroke="#139a21" stroke-width="0.6"/><path d="M403.3 217L405.9 215.7L403.8 214.1L401.2 215.4Z" fill="#139a21" stroke="#139a21" stroke-width="0.6"/><path d="M401.2 215.4L403.8 214.1L401.7 212.5L399.2 213.8Z" fill="#119023" stroke="#119023" stroke-width="0.6"/><path d="M399.2 213.8L401.7 212.5L399.6 210.8L397.1 212.2Z" fill="#119023" stroke="#119023" stroke-width="0.6"/><path d="M397.1 212.2L399.6 210.8L397.6 209.2L395 210.6Z" fill="#108626" stroke="#108626" stroke-width="0.6"/><path d="M395 210.6L397.6 209.2L395.5 207.6L393 209Z" fill="#108626" stroke="#108626" stroke-width="0.6"/><path d="M393 209L395.5 207.6L393.5 206L390.9 207.4Z" fill="#108626" stroke="#108626" stroke-width="0.6"/><path d="M390.9 207.4L393.5 206L391.4 204.5L388.9 205.8Z" fill="#0e7e28" stroke="#0e7e28" stroke-width="0.6"/><path d="M388.9 205.8L391.4 204.5L389.4 202.9L386.9 204.2Z" fill="#0e7e28" stroke="#0e7e28" stroke-width="0.6"/><path d="M386.9 204.2L389.4 202.9L387.4 201.3L384.8 202.6Z" fill="#0e7e28" stroke="#0e7e28" stroke-width="0.6"/><path d="M384.8 202.6L387.4 201.3L385.4 199.7L382.8 201Z" fill="#0d762c" stroke="#0d762c" stroke-width="0.6"/><path d="M382.8 201L385.4 199.7L383.4 198.2L380.8 199.5Z" fill="#0d762c" stroke="#0d762c" stroke-width="0.6"/><path d="M380.8 199.5L383.4 198.2L381.4 196.6L378.8 197.9Z" fill="#0d762c" stroke="#0d762c" stroke-width="0.6"/><path d="M378.8 197.9L381.4 196.6L379.4 195L376.8 196.3Z" fill="#0d762c" stroke="#0d762c" stroke-width="0.6"/><path d="M376.8 196.3L379.4 195L377.4 193.5L374.9 194.8Z" fill="#0c6e30" stroke="#0c6e30" stroke-width="0.6"/><path d="M374.9 194.8L377.4 193.5L375.4 192L372.9 193.2Z" fill="#0c6e30" stroke="#0c6e30" stroke-width="0.6"/><path d="M372.9 193.2L375.4 192L373.4 190.4L370.9 191.7Z" fill="#0c6e30" stroke="#0c6e30" stroke-width="0.6"/><path d="M370.9 191.7L373.4 190.4L371.5 188.9L369 190.2Z" fill="#0c6e30" stroke="#0c6e30" stroke-width="0.6"/><path d="M369 190.2L371.5 188.9L369.5 187.4L367 188.6Z" fill="#0c6e30" stroke="#0c6e30" stroke-width="0.6"/><path d="M367 188.6L369.5 187.4L367.6 185.9L365 187.1Z" fill="#0a6238" stroke="#0a6238" stroke-width="0.6"/><path d="M365 187.1L367.6 185.9L365.6 184.3L363.1 185.6Z" fill="#0a6238" stroke="#0a6238" stroke-width="0.6"/><path d="M363.1 185.6L365.6 184.3L363.7 182.8L361.2 184.1Z" fill="#0a6238" stroke="#0a6238" stroke-width="0.6"/><path d="M361.2 184.1L363.7 182.8L361.8 181.3L359.3 182.6Z" fill="#0a6238" stroke="#0a6238" stroke-width="0.6"/><path d="M359.3 182.6L361.8 181.3L359.8 179.8L357.3 181.1Z" fill="#0a6238" stroke="#0a6238" stroke-width="0.6"/><path d="M357.3 181.1L359.8 179.8L357.9 178.3L355.4 179.6Z" fill="#0a6238" stroke="#0a6238" stroke-width="0.6"/><path d="M355.4 179.6L357.9 178.3L356 176.9L353.5 178.1Z" fill="#0a6238" stroke="#0a6238" stroke-width="0.6"/><path d="M353.5 178.1L356 176.9L354.1 175.4L351.6 176.6Z" fill="#0a6238" stroke="#0a6238" stroke-width="0.6"/><path d="M351.6 176.6L354.1 175.4L352.2 173.9L349.7 175.1Z" fill="#0a6238" stroke="#0a6238" stroke-width="0.6"/><path d="M349.7 175.1L352.2 173.9L350.3 172.4L347.8 173.6Z" fill="#0a6238" stroke="#0a6238" stroke-width="0.6"/><path d="M347.8 173.6L350.3 172.4L348.5 171L346 172.2Z" fill="#0a6238" stroke="#0a6238" stroke-width="0.6"/><path d="M346 172.2L348.5 171L346.6 169.5L344.1 170.7Z" fill="#0a6238" stroke="#0a6238" stroke-width="0.6"/><path d="M344.1 170.7L346.6 169.5L344.7 168.1L342.2 169.3Z" fill="#0a6238" stroke="#0a6238" stroke-width="0.6"/><path d="M342.2 169.3L344.7 168.1L342.9 166.6L340.4 167.8Z" fill="#0a6238" stroke="#0a6238" stroke-width="0.6"/><path d="M340.4 167.8L342.9 166.6L341 165.2L338.5 166.4Z" fill="#0a6238" stroke="#0a6238" stroke-width="0.6"/><path d="M338.5 166.4L341 165.2L339.2 163.7L336.7 164.9Z" fill="#0a6238" stroke="#0a6238" stroke-width="0.6"/><path d="M336.7 164.9L339.2 163.7L337.3 162.3L334.8 163.5Z" fill="#0a6238" stroke="#0a6238" stroke-width="0.6"/><path d="M334.8 163.5L337.3 162.3L335.5 160.9L333 162Z" fill="#0a6238" stroke="#0a6238" stroke-width="0.6"/><path d="M414.3 222.3L416.8 220.9L414.7 219.2L412.2 220.6Z" fill="#17a820" stroke="#17a820" stroke-width="0.6"/><path d="M412.2 220.6L414.7 219.2L412.6 217.6L410.1 219Z" fill="#139a21" stroke="#139a21" stroke-width="0.6"/><path d="M410.1 219L412.6 217.6L410.5 216L408 217.3Z" fill="#139a21" stroke="#139a21" stroke-width="0.6"/><path d="M408 217.3L410.5 216L408.4 214.3L405.9 215.7Z" fill="#119023" stroke="#119023" stroke-width="0.6"/><path d="M405.9 215.7L408.4 214.3L406.3 212.7L403.8 214.1Z" fill="#119023" stroke="#119023" stroke-width="0.6"/><path d="M403.8 214.1L406.3 212.7L404.2 211.1L401.7 212.5Z" fill="#119023" stroke="#119023" stroke-width="0.6"/><path d="M401.7 212.5L404.2 211.1L402.2 209.5L399.6 210.8Z" fill="#108626" stroke="#108626" stroke-width="0.6"/><path d="M399.6 210.8L402.2 209.5L400.1 207.9L397.6 209.2Z" fill="#108626" stroke="#108626" stroke-width="0.6"/><path d="M397.6 209.2L400.1 207.9L398 206.3L395.5 207.6Z" fill="#108626" stroke="#108626" stroke-width="0.6"/><path d="M395.5 207.6L398 206.3L396 204.7L393.5 206Z" fill="#0e7e28" stroke="#0e7e28" stroke-width="0.6"/><path d="M393.5 206L396 204.7L394 203.1L391.4 204.5Z" fill="#0e7e28" stroke="#0e7e28" stroke-width="0.6"/><path d="M391.4 204.5L394 203.1L391.9 201.6L389.4 202.9Z" fill="#0e7e28" stroke="#0e7e28" stroke-width="0.6"/><path d="M389.4 202.9L391.9 201.6L389.9 200L387.4 201.3Z" fill="#0d762c" stroke="#0d762c" stroke-width="0.6"/><path d="M387.4 201.3L389.9 200L387.9 198.4L385.4 199.7Z" fill="#0d762c" stroke="#0d762c" stroke-width="0.6"/><path d="M385.4 199.7L387.9 198.4L385.9 196.9L383.4 198.2Z" fill="#0d762c" stroke="#0d762c" stroke-width="0.6"/><path d="M383.4 198.2L385.9 196.9L383.9 195.3L381.4 196.6Z" fill="#0c6e30" stroke="#0c6e30" stroke-width="0.6"/><path d="M381.4 196.6L383.9 195.3L381.9 193.8L379.4 195Z" fill="#0c6e30" stroke="#0c6e30" stroke-width="0.6"/><path d="M379.4 195L381.9 193.8L379.9 192.2L377.4 193.5Z" fill="#0c6e30" stroke="#0c6e30" stroke-width="0.6"/><path d="M377.4 193.5L379.9 192.2L377.9 190.7L375.4 192Z" fill="#0c6e30" stroke="#0c6e30" stroke-width="0.6"/><path d="M375.4 192L377.9 190.7L375.9 189.2L373.4 190.4Z" fill="#0c6e30" stroke="#0c6e30" stroke-width="0.6"/><path d="M373.4 190.4L375.9 189.2L374 187.6L371.5 188.9Z" fill="#0c6e30" stroke="#0c6e30" stroke-width="0.6"/><path d="M371.5 188.9L374 187.6L372 186.1L369.5 187.4Z" fill="#0a6238" stroke="#0a6238" stroke-width="0.6"/><path d="M369.5 187.4L372 186.1L370.1 184.6L367.6 185.9Z" fill="#0a6238" stroke="#0a6238" stroke-width="0.6"/><path d="M367.6 185.9L370.1 184.6L368.1 183.1L365.6 184.3Z" fill="#0a6238" stroke="#0a6238" stroke-width="0.6"/><path d="M365.6 184.3L368.1 183.1L366.2 181.6L363.7 182.8Z" fill="#0a6238" stroke="#0a6238" stroke-width="0.6"/><path d="M363.7 182.8L366.2 181.6L364.3 180.1L361.8 181.3Z" fill="#0a6238" stroke="#0a6238" stroke-width="0.6"/><path d="M361.8 181.3L364.3 180.1L362.3 178.6L359.8 179.8Z" fill="#0a6238" stroke="#0a6238" stroke-width="0.6"/><path d="M359.8 179.8L362.3 178.6L360.4 177.1L357.9 178.3Z" fill="#0a6238" stroke="#0a6238" stroke-width="0.6"/><path d="M357.9 178.3L360.4 177.1L358.5 175.6L356 176.9Z" fill="#0a6238" stroke="#0a6238" stroke-width="0.6"/><path d="M356 176.9L358.5 175.6L356.6 174.2L354.1 175.4Z" fill="#0a6238" stroke="#0a6238" stroke-width="0.6"/><path d="M354.1 175.4L356.6 174.2L354.7 172.7L352.2 173.9Z" fill="#0a6238" stroke="#0a6238" stroke-width="0.6"/><path d="M352.2 173.9L354.7 172.7L352.8 171.2L350.3 172.4Z" fill="#0a6238" stroke="#0a6238" stroke-width="0.6"/><path d="M350.3 172.4L352.8 171.2L351 169.8L348.5 171Z" fill="#0a6238" stroke="#0a6238" stroke-width="0.6"/><path d="M348.5 171L351 169.8L349.1 168.3L346.6 169.5Z" fill="#0a6238" stroke="#0a6238" stroke-width="0.6"/><path d="M346.6 169.5L349.1 168.3L347.2 166.9L344.7 168.1Z" fill="#0a6238" stroke="#0a6238" stroke-width="0.6"/><path d="M344.7 168.1L347.2 166.9L345.4 165.4L342.9 166.6Z" fill="#0a6238" stroke="#0a6238" stroke-width="0.6"/><path d="M342.9 166.6L345.4 165.4L343.5 164L341 165.2Z" fill="#0a6238" stroke="#0a6238" stroke-width="0.6"/><path d="M341 165.2L343.5 164L341.7 162.5L339.2 163.7Z" fill="#0a6238" stroke="#0a6238" stroke-width="0.6"/><path d="M339.2 163.7L341.7 162.5L339.8 161.1L337.3 162.3Z" fill="#0a6238" stroke="#0a6238" stroke-width="0.6"/><path d="M337.3 162.3L339.8 161.1L338 159.7L335.5 160.9Z" fill="#0c6e30" stroke="#0c6e30" stroke-width="0.6"/><path d="M416.8 220.9L419.4 219.5L417.2 217.9L414.7 219.2Z" fill="#139a21" stroke="#139a21" stroke-width="0.6"/><path d="M414.7 219.2L417.2 217.9L415.1 216.3L412.6 217.6Z" fill="#139a21" stroke="#139a21" stroke-width="0.6"/><path d="M412.6 217.6L415.1 216.3L413 214.6L410.5 216Z" fill="#119023" stroke="#119023" stroke-width="0.6"/><path d="M410.5 216L413 214.6L410.9 213L408.4 214.3Z" fill="#119023" stroke="#119023" stroke-width="0.6"/><path d="M408.4 214.3L410.9 213L408.8 211.4L406.3 212.7Z" fill="#108626" stroke="#108626" stroke-width="0.6"/><path d="M406.3 212.7L408.8 211.4L406.8 209.8L404.2 211.1Z" fill="#108626" stroke="#108626" stroke-width="0.6"/><path d="M404.2 211.1L406.8 209.8L404.7 208.2L402.2 209.5Z" fill="#108626" stroke="#108626" stroke-width="0.6"/><path d="M402.2 209.5L404.7 208.2L402.6 206.6L400.1 207.9Z" fill="#0e7e28" stroke="#0e7e28" stroke-width="0.6"/><path d="M400.1 207.9L402.6 206.6L400.6 205L398 206.3Z" fill="#0e7e28" stroke="#0e7e28" stroke-width="0.6"/><path d="M398 206.3L400.6 205L398.5 203.4L396 204.7Z" fill="#0e7e28" stroke="#0e7e28" stroke-width="0.6"/><path d="M396 204.7L398.5 203.4L396.5 201.8L394 203.1Z" fill="#0d762c" stroke="#0d762c" stroke-width="0.6"/><path d="M394 203.1L396.5 201.8L394.4 200.3L391.9 201.6Z" fill="#0d762c" stroke="#0d762c" stroke-width="0.6"/><path d="M391.9 201.6L394.4 200.3L392.4 198.7L389.9 200Z" fill="#0d762c" stroke="#0d762c" stroke-width="0.6"/><path d="M389.9 200L392.4 198.7L390.4 197.1L387.9 198.4Z" fill="#0d762c" stroke="#0d762c" stroke-width="0.6"/><path d="M387.9 198.4L390.4 197.1L388.4 195.6L385.9 196.9Z" fill="#0c6e30" stroke="#0c6e30" stroke-width="0.6"/><path d="M385.9 196.9L388.4 195.6L386.4 194L383.9 195.3Z" fill="#0c6e30" stroke="#0c6e30" stroke-width="0.6"/><path d="M383.9 195.3L386.4 194L384.4 192.5L381.9 193.8Z" fill="#0c6e30" stroke="#0c6e30" stroke-width="0.6"/><path d="M381.9 193.8L384.4 192.5L382.4 191L379.9 192.2Z" fill="#0c6e30" stroke="#0c6e30" stroke-width="0.6"/><path d="M379.9 192.2L382.4 191L380.4 189.4L377.9 190.7Z" fill="#0c6e30" stroke="#0c6e30" stroke-width="0.6"/><path d="M377.9 190.7L380.4 189.4L378.5 187.9L375.9 189.2Z" fill="#0a6238" stroke="#0a6238" stroke-width="0.6"/><path d="M375.9 189.2L378.5 187.9L376.5 186.4L374 187.6Z" fill="#0a6238" stroke="#0a6238" stroke-width="0.6"/><path d="M374 187.6L376.5 186.4L374.5 184.9L372 186.1Z" fill="#0a6238" stroke="#0a6238" stroke-width="0.6"/><path d="M372 186.1L374.5 184.9L372.6 183.4L370.1 184.6Z" fill="#0a6238" stroke="#0a6238" stroke-width="0.6"/><path d="M370.1 184.6L372.6 183.4L370.6 181.9L368.1 183.1Z" fill="#0a6238" stroke="#0a6238" stroke-width="0.6"/><path d="M368.1 183.1L370.6 181.9L368.7 180.4L366.2 181.6Z" fill="#0a6238" stroke="#0a6238" stroke-width="0.6"/><path d="M366.2 181.6L368.7 180.4L366.8 178.9L364.3 180.1Z" fill="#0a6238" stroke="#0a6238" stroke-width="0.6"/><path d="M364.3 180.1L366.8 178.9L364.8 177.4L362.3 178.6Z" fill="#0a6238" stroke="#0a6238" stroke-width="0.6"/><path d="M362.3 178.6L364.8 177.4L362.9 175.9L360.4 177.1Z" fill="#0a6238" stroke="#0a6238" stroke-width="0.6"/><path d="M360.4 177.1L362.9 175.9L361 174.4L358.5 175.6Z" fill="#0a6238" stroke="#0a6238" stroke-width="0.6"/><path d="M358.5 175.6L361 174.4L359.1 172.9L356.6 174.2Z" fill="#0a6238" stroke="#0a6238" stroke-width="0.6"/><path d="M356.6 174.2L359.1 172.9L357.2 171.5L354.7 172.7Z" fill="#0a6238" stroke="#0a6238" stroke-width="0.6"/><path d="M354.7 172.7L357.2 171.5L355.3 170L352.8 171.2Z" fill="#0a6238" stroke="#0a6238" stroke-width="0.6"/><path d="M352.8 171.2L355.3 170L353.4 168.6L351 169.8Z" fill="#0a6238" stroke="#0a6238" stroke-width="0.6"/><path d="M351 169.8L353.4 168.6L351.6 167.1L349.1 168.3Z" fill="#0a6238" stroke="#0a6238" stroke-width="0.6"/><path d="M349.1 168.3L351.6 167.1L349.7 165.7L347.2 166.9Z" fill="#0a6238" stroke="#0a6238" stroke-width="0.6"/><path d="M347.2 166.9L349.7 165.7L347.8 164.2L345.4 165.4Z" fill="#0a6238" stroke="#0a6238" stroke-width="0.6"/><path d="M345.4 165.4L347.8 164.2L346 162.8L343.5 164Z" fill="#0a6238" stroke="#0a6238" stroke-width="0.6"/><path d="M343.5 164L346 162.8L344.1 161.4L341.7 162.5Z" fill="#0a6238" stroke="#0a6238" stroke-width="0.6"/><path d="M341.7 162.5L344.1 161.4L342.3 159.9L339.8 161.1Z" fill="#0c6e30" stroke="#0c6e30" stroke-width="0.6"/><path d="M339.8 161.1L342.3 159.9L340.5 158.5L338 159.7Z" fill="#0c6e30" stroke="#0c6e30" stroke-width="0.6"/><path d="M419.4 219.5L421.9 218.2L419.8 216.5L417.2 217.9Z" fill="#119023" stroke="#119023" stroke-width="0.6"/><path d="M417.2 217.9L419.8 216.5L417.6 214.9L415.1 216.3Z" fill="#119023" stroke="#119023" stroke-width="0.6"/><path d="M415.1 216.3L417.6 214.9L415.5 213.3L413 214.6Z" fill="#119023" stroke="#119023" stroke-width="0.6"/><path d="M413 214.6L415.5 213.3L413.4 211.7L410.9 213Z" fill="#108626" stroke="#108626" stroke-width="0.6"/><path d="M410.9 213L413.4 211.7L411.4 210.1L408.8 211.4Z" fill="#108626" stroke="#108626" stroke-width="0.6"/><path d="M408.8 211.4L411.4 210.1L409.3 208.5L406.8 209.8Z" fill="#108626" stroke="#108626" stroke-width="0.6"/><path d="M406.8 209.8L409.3 208.5L407.2 206.9L404.7 208.2Z" fill="#0e7e28" stroke="#0e7e28" stroke-width="0.6"/><path d="M404.7 208.2L407.2 206.9L405.1 205.3L402.6 206.6Z" fill="#0e7e28" stroke="#0e7e28" stroke-width="0.6"/><path d="M402.6 206.6L405.1 205.3L403.1 203.7L400.6 205Z" fill="#0e7e28" stroke="#0e7e28" stroke-width="0.6"/><path d="M400.6 205L403.1 203.7L401 202.1L398.5 203.4Z" fill="#0d762c" stroke="#0d762c" stroke-width="0.6"/><path d="M398.5 203.4L401 202.1L399 200.5L396.5 201.8Z" fill="#0d762c" stroke="#0d762c" stroke-width="0.6"/><path d="M396.5 201.8L399 200.5L397 199L394.4 200.3Z" fill="#0d762c" stroke="#0d762c" stroke-width="0.6"/><path d="M394.4 200.3L397 199L394.9 197.4L392.4 198.7Z" fill="#0c6e30" stroke="#0c6e30" stroke-width="0.6"/><path d="M392.4 198.7L394.9 197.4L392.9 195.9L390.4 197.1Z" fill="#0c6e30" stroke="#0c6e30" stroke-width="0.6"/><path d="M390.4 197.1L392.9 195.9L390.9 194.3L388.4 195.6Z" fill="#0c6e30" stroke="#0c6e30" stroke-width="0.6"/><path d="M388.4 195.6L390.9 194.3L388.9 192.8L386.4 194Z" fill="#0c6e30" stroke="#0c6e30" stroke-width="0.6"/><path d="M386.4 194L388.9 192.8L386.9 191.2L384.4 192.5Z" fill="#0c6e30" stroke="#0c6e30" stroke-width="0.6"/><path d="M384.4 192.5L386.9 191.2L384.9 189.7L382.4 191Z" fill="#0c6e30" stroke="#0c6e30" stroke-width="0.6"/><path d="M382.4 191L384.9 189.7L382.9 188.2L380.4 189.4Z" fill="#0a6238" stroke="#0a6238" stroke-width="0.6"/><path d="M380.4 189.4L382.9 188.2L381 186.6L378.5 187.9Z" fill="#0a6238" stroke="#0a6238" stroke-width="0.6"/><path d="M378.5 187.9L381 186.6L379 185.1L376.5 186.4Z" fill="#0a6238" stroke="#0a6238" stroke-width="0.6"/><path d="M376.5 186.4L379 185.1L377 183.6L374.5 184.9Z" fill="#0a6238" stroke="#0a6238" stroke-width="0.6"/><path d="M374.5 184.9L377 183.6L375.1 182.1L372.6 183.4Z" fill="#0a6238" stroke="#0a6238" stroke-width="0.6"/><path d="M372.6 183.4L375.1 182.1L373.1 180.6L370.6 181.9Z" fill="#0a6238" stroke="#0a6238" stroke-width="0.6"/><path d="M370.6 181.9L373.1 180.6L371.2 179.1L368.7 180.4Z" fill="#0a6238" stroke="#0a6238" stroke-width="0.6"/><path d="M368.7 180.4L371.2 179.1L369.3 177.6L366.8 178.9Z" fill="#0a6238" stroke="#0a6238" stroke-width="0.6"/><path d="M366.8 178.9L369.3 177.6L367.3 176.2L364.8 177.4Z" fill="#0a6238" stroke="#0a6238" stroke-width="0.6"/><path d="M364.8 177.4L367.3 176.2L365.4 174.7L362.9 175.9Z" fill="#0a6238" stroke="#0a6238" stroke-width="0.6"/><path d="M362.9 175.9L365.4 174.7L363.5 173.2L361 174.4Z" fill="#0a6238" stroke="#0a6238" stroke-width="0.6"/><path d="M361 174.4L363.5 173.2L361.6 171.7L359.1 172.9Z" fill="#0a6238" stroke="#0a6238" stroke-width="0.6"/><path d="M359.1 172.9L361.6 171.7L359.7 170.3L357.2 171.5Z" fill="#0a6238" stroke="#0a6238" stroke-width="0.6"/><path d="M357.2 171.5L359.7 170.3L357.8 168.8L355.3 170Z" fill="#0a6238" stroke="#0a6238" stroke-width="0.6"/><path d="M355.3 170L357.8 168.8L355.9 167.4L353.4 168.6Z" fill="#0a6238" stroke="#0a6238" stroke-width="0.6"/><path d="M353.4 168.6L355.9 167.4L354.1 165.9L351.6 167.1Z" fill="#0a6238" stroke="#0a6238" stroke-width="0.6"/><path d="M351.6 167.1L354.1 165.9L352.2 164.5L349.7 165.7Z" fill="#0a6238" stroke="#0a6238" stroke-width="0.6"/><path d="M349.7 165.7L352.2 164.5L350.3 163L347.8 164.2Z" fill="#0a6238" stroke="#0a6238" stroke-width="0.6"/><path d="M347.8 164.2L350.3 163L348.5 161.6L346 162.8Z" fill="#0c6e30" stroke="#0c6e30" stroke-width="0.6"/><path d="M346 162.8L348.5 161.6L346.6 160.2L344.1 161.4Z" fill="#0c6e30" stroke="#0c6e30" stroke-width="0.6"/><path d="M344.1 161.4L346.6 160.2L344.8 158.8L342.3 159.9Z" fill="#0c6e30" stroke="#0c6e30" stroke-width="0.6"/><path d="M342.3 159.9L344.8 158.8L342.9 157.4L340.5 158.5Z" fill="#0c6e30" stroke="#0c6e30" stroke-width="0.6"/><path d="M421.9 218.2L424.4 216.8L422.3 215.2L419.8 216.5Z" fill="#119023" stroke="#119023" stroke-width="0.6"/><path d="M419.8 216.5L422.3 215.2L420.2 213.6L417.6 214.9Z" fill="#108626" stroke="#108626" stroke-width="0.6"/><path d="M417.6 214.9L420.2 213.6L418.1 212L415.5 213.3Z" fill="#108626" stroke="#108626" stroke-width="0.6"/><path d="M415.5 213.3L418.1 212L416 210.3L413.4 211.7Z" fill="#108626" stroke="#108626" stroke-width="0.6"/><path d="M413.4 211.7L416 210.3L413.9 208.7L411.4 210.1Z" fill="#0e7e28" stroke="#0e7e28" stroke-width="0.6"/><path d="M411.4 210.1L413.9 208.7L411.8 207.1L409.3 208.5Z" fill="#0e7e28" stroke="#0e7e28" stroke-width="0.6"/><path d="M409.3 208.5L411.8 207.1L409.7 205.6L407.2 206.9Z" fill="#0e7e28" stroke="#0e7e28" stroke-width="0.6"/><path d="M407.2 206.9L409.7 205.6L407.6 204L405.1 205.3Z" fill="#0d762c" stroke="#0d762c" stroke-width="0.6"/><path d="M405.1 205.3L407.6 204L405.6 202.4L403.1 203.7Z" fill="#0d762c" stroke="#0d762c" stroke-width="0.6"/><path d="M403.1 203.7L405.6 202.4L403.5 200.8L401 202.1Z" fill="#0d762c" stroke="#0d762c" stroke-width="0.6"/><path d="M401 202.1L403.5 200.8L401.5 199.2L399 200.5Z" fill="#0d762c" stroke="#0d762c" stroke-width="0.6"/><path d="M399 200.5L401.5 199.2L399.5 197.7L397 199Z" fill="#0c6e30" stroke="#0c6e30" stroke-width="0.6"/><path d="M397 199L399.5 197.7L397.4 196.1L394.9 197.4Z" fill="#0c6e30" stroke="#0c6e30" stroke-width="0.6"/><path d="M394.9 197.4L397.4 196.1L395.4 194.6L392.9 195.9Z" fill="#0c6e30" stroke="#0c6e30" stroke-width="0.6"/><path d="M392.9 195.9L395.4 194.6L393.4 193L390.9 194.3Z" fill="#0c6e30" stroke="#0c6e30" stroke-width="0.6"/><path d="M390.9 194.3L393.4 193L391.4 191.5L388.9 192.8Z" fill="#0c6e30" stroke="#0c6e30" stroke-width="0.6"/><path d="M388.9 192.8L391.4 191.5L389.4 190L386.9 191.2Z" fill="#0a6238" stroke="#0a6238" stroke-width="0.6"/><path d="M386.9 191.2L389.4 190L387.4 188.4L384.9 189.7Z" fill="#0a6238" stroke="#0a6238" stroke-width="0.6"/><path d="M384.9 189.7L387.4 188.4L385.4 186.9L382.9 188.2Z" fill="#0a6238" stroke="#0a6238" stroke-width="0.6"/><path d="M382.9 188.2L385.4 186.9L383.4 185.4L381 186.6Z" fill="#0a6238" stroke="#0a6238" stroke-width="0.6"/><path d="M381 186.6L383.4 185.4L381.5 183.9L379 185.1Z" fill="#0a6238" stroke="#0a6238" stroke-width="0.6"/><path d="M379 185.1L381.5 183.9L379.5 182.4L377 183.6Z" fill="#0a6238" stroke="#0a6238" stroke-width="0.6"/><path d="M377 183.6L379.5 182.4L377.6 180.9L375.1 182.1Z" fill="#0a6238" stroke="#0a6238" stroke-width="0.6"/><path d="M375.1 182.1L377.6 180.9L375.6 179.4L373.1 180.6Z" fill="#0a6238" stroke="#0a6238" stroke-width="0.6"/><path d="M373.1 180.6L375.6 179.4L373.7 177.9L371.2 179.1Z" fill="#0a6238" stroke="#0a6238" stroke-width="0.6"/><path d="M371.2 179.1L373.7 177.9L371.7 176.4L369.3 177.6Z" fill="#0a6238" stroke="#0a6238" stroke-width="0.6"/><path d="M369.3 177.6L371.7 176.4L369.8 174.9L367.3 176.2Z" fill="#0a6238" stroke="#0a6238" stroke-width="0.6"/><path d="M367.3 176.2L369.8 174.9L367.9 173.5L365.4 174.7Z" fill="#0a6238" stroke="#0a6238" stroke-width="0.6"/><path d="M365.4 174.7L367.9 173.5L366 172L363.5 173.2Z" fill="#0a6238" stroke="#0a6238" stroke-width="0.6"/><path d="M363.5 173.2L366 172L364.1 170.5L361.6 171.7Z" fill="#0a6238" stroke="#0a6238" stroke-width="0.6"/><path d="M361.6 171.7L364.1 170.5L362.2 169.1L359.7 170.3Z" fill="#0a6238" stroke="#0a6238" stroke-width="0.6"/><path d="M359.7 170.3L362.2 169.1L360.3 167.6L357.8 168.8Z" fill="#0a6238" stroke="#0a6238" stroke-width="0.6"/><path d="M357.8 168.8L360.3 167.6L358.4 166.2L355.9 167.4Z" fill="#0a6238" stroke="#0a6238" stroke-width="0.6"/><path d="M355.9 167.4L358.4 166.2L356.5 164.7L354.1 165.9Z" fill="#0a6238" stroke="#0a6238" stroke-width="0.6"/><path d="M354.1 165.9L356.5 164.7L354.6 163.3L352.2 164.5Z" fill="#0a6238" stroke="#0a6238" stroke-width="0.6"/><path d="M352.2 164.5L354.6 163.3L352.8 161.9L350.3 163Z" fill="#0c6e30" stroke="#0c6e30" stroke-width="0.6"/><path d="M350.3 163L352.8 161.9L350.9 160.4L348.5 161.6Z" fill="#0c6e30" stroke="#0c6e30" stroke-width="0.6"/><path d="M348.5 161.6L350.9 160.4L349.1 159L346.6 160.2Z" fill="#0c6e30" stroke="#0c6e30" stroke-width="0.6"/><path d="M346.6 160.2L349.1 159L347.2 157.6L344.8 158.8Z" fill="#0c6e30" stroke="#0c6e30" stroke-width="0.6"/><path d="M344.8 158.8L347.2 157.6L345.4 156.2L342.9 157.4Z" fill="#0c6e30" stroke="#0c6e30" stroke-width="0.6"/><path d="M424.4 216.8L426.9 215.5L424.8 213.8L422.3 215.2Z" fill="#108626" stroke="#108626" stroke-width="0.6"/><path d="M422.3 215.2L424.8 213.8L422.7 212.2L420.2 213.6Z" fill="#108626" stroke="#108626" stroke-width="0.6"/><path d="M420.2 213.6L422.7 212.2L420.6 210.6L418.1 212Z" fill="#108626" stroke="#108626" stroke-width="0.6"/><path d="M418.1 212L420.6 210.6L418.5 209L416 210.3Z" fill="#0e7e28" stroke="#0e7e28" stroke-width="0.6"/><path d="M416 210.3L418.5 209L416.4 207.4L413.9 208.7Z" fill="#0e7e28" stroke="#0e7e28" stroke-width="0.6"/><path d="M413.9 208.7L416.4 207.4L414.3 205.8L411.8 207.1Z" fill="#0e7e28" stroke="#0e7e28" stroke-width="0.6"/><path d="M411.8 207.1L414.3 205.8L412.2 204.2L409.7 205.6Z" fill="#0d762c" stroke="#0d762c" stroke-width="0.6"/><path d="M409.7 205.6L412.2 204.2L410.1 202.7L407.6 204Z" fill="#0d762c" stroke="#0d762c" stroke-width="0.6"/><path d="M407.6 204L410.1 202.7L408.1 201.1L405.6 202.4Z" fill="#0d762c" stroke="#0d762c" stroke-width="0.6"/><path d="M405.6 202.4L408.1 201.1L406 199.5L403.5 200.8Z" fill="#0c6e30" stroke="#0c6e30" stroke-width="0.6"/><path d="M403.5 200.8L406 199.5L404 198L401.5 199.2Z" fill="#0c6e30" stroke="#0c6e30" stroke-width="0.6"/><path d="M401.5 199.2L404 198L402 196.4L399.5 197.7Z" fill="#0c6e30" stroke="#0c6e30" stroke-width="0.6"/><path d="M399.5 197.7L402 196.4L399.9 194.8L397.4 196.1Z" fill="#0c6e30" stroke="#0c6e30" stroke-width="0.6"/><path d="M397.4 196.1L399.9 194.8L397.9 193.3L395.4 194.6Z" fill="#0c6e30" stroke="#0c6e30" stroke-width="0.6"/><path d="M395.4 194.6L397.9 193.3L395.9 191.8L393.4 193Z" fill="#0c6e30" stroke="#0c6e30" stroke-width="0.6"/><path d="M393.4 193L395.9 191.8L393.9 190.2L391.4 191.5Z" fill="#0a6238" stroke="#0a6238" stroke-width="0.6"/><path d="M391.4 191.5L393.9 190.2L391.9 188.7L389.4 190Z" fill="#0a6238" stroke="#0a6238" stroke-width="0.6"/><path d="M389.4 190L391.9 188.7L389.9 187.2L387.4 188.4Z" fill="#0a6238" stroke="#0a6238" stroke-width="0.6"/><path d="M387.4 188.4L389.9 187.2L387.9 185.7L385.4 186.9Z" fill="#0a6238" stroke="#0a6238" stroke-width="0.6"/><path d="M385.4 186.9L387.9 185.7L385.9 184.1L383.4 185.4Z" fill="#0a6238" stroke="#0a6238" stroke-width="0.6"/><path d="M383.4 185.4L385.9 184.1L384 182.6L381.5 183.9Z" fill="#0a6238" stroke="#0a6238" stroke-width="0.6"/><path d="M381.5 183.9L384 182.6L382 181.1L379.5 182.4Z" fill="#0a6238" stroke="#0a6238" stroke-width="0.6"/><path d="M379.5 182.4L382 181.1L380 179.6L377.6 180.9Z" fill="#0a6238" stroke="#0a6238" stroke-width="0.6"/><path d="M377.6 180.9L380 179.6L378.1 178.2L375.6 179.4Z" fill="#0a6238" stroke="#0a6238" stroke-width="0.6"/><path d="M375.6 179.4L378.1 178.2L376.1 176.7L373.7 177.9Z" fill="#0a6238" stroke="#0a6238" stroke-width="0.6"/><path d="M373.7 177.9L376.1 176.7L374.2 175.2L371.7 176.4Z" fill="#0a6238" stroke="#0a6238" stroke-width="0.6"/><path d="M371.7 176.4L374.2 175.2L372.3 173.7L369.8 174.9Z" fill="#0a6238" stroke="#0a6238" stroke-width="0.6"/><path d="M369.8 174.9L372.3 173.7L370.4 172.2L367.9 173.5Z" fill="#0a6238" stroke="#0a6238" stroke-width="0.6"/><path d="M367.9 173.5L370.4 172.2L368.4 170.8L366 172Z" fill="#0a6238" stroke="#0a6238" stroke-width="0.6"/><path d="M366 172L368.4 170.8L366.5 169.3L364.1 170.5Z" fill="#0a6238" stroke="#0a6238" stroke-width="0.6"/><path d="M364.1 170.5L366.5 169.3L364.6 167.9L362.2 169.1Z" fill="#0a6238" stroke="#0a6238" stroke-width="0.6"/><path d="M362.2 169.1L364.6 167.9L362.7 166.4L360.3 167.6Z" fill="#0a6238" stroke="#0a6238" stroke-width="0.6"/><path d="M360.3 167.6L362.7 166.4L360.9 165L358.4 166.2Z" fill="#0a6238" stroke="#0a6238" stroke-width="0.6"/><path d="M358.4 166.2L360.9 165L359 163.6L356.5 164.7Z" fill="#0c6e30" stroke="#0c6e30" stroke-width="0.6"/><path d="M356.5 164.7L359 163.6L357.1 162.1L354.6 163.3Z" fill="#0c6e30" stroke="#0c6e30" stroke-width="0.6"/><path d="M354.6 163.3L357.1 162.1L355.2 160.7L352.8 161.9Z" fill="#0c6e30" stroke="#0c6e30" stroke-width="0.6"/><path d="M352.8 161.9L355.2 160.7L353.4 159.3L350.9 160.4Z" fill="#0c6e30" stroke="#0c6e30" stroke-width="0.6"/><path d="M350.9 160.4L353.4 159.3L351.5 157.9L349.1 159Z" fill="#0c6e30" stroke="#0c6e30" stroke-width="0.6"/><path d="M349.1 159L351.5 157.9L349.7 156.4L347.2 157.6Z" fill="#0d762c" stroke="#0d762c" stroke-width="0.6"/><path d="M347.2 157.6L349.7 156.4L347.8 155L345.4 156.2Z" fill="#0d762c" stroke="#0d762c" stroke-width="0.6"/><path d="M426.9 215.5L429.4 214.1L427.3 212.5L424.8 213.8Z" fill="#108626" stroke="#108626" stroke-width="0.6"/><path d="M424.8 213.8L427.3 212.5L425.2 210.9L422.7 212.2Z" fill="#0e7e28" stroke="#0e7e28" stroke-width="0.6"/><path d="M422.7 212.2L425.2 210.9L423.1 209.3L420.6 210.6Z" fill="#0e7e28" stroke="#0e7e28" stroke-width="0.6"/><path d="M420.6 210.6L423.1 209.3L421 207.7L418.5 209Z" fill="#0e7e28" stroke="#0e7e28" stroke-width="0.6"/><path d="M418.5 209L421 207.7L418.9 206.1L416.4 207.4Z" fill="#0d762c" stroke="#0d762c" stroke-width="0.6"/><path d="M416.4 207.4L418.9 206.1L416.8 204.5L414.3 205.8Z" fill="#0d762c" stroke="#0d762c" stroke-width="0.6"/><path d="M414.3 205.8L416.8 204.5L414.7 202.9L412.2 204.2Z" fill="#0d762c" stroke="#0d762c" stroke-width="0.6"/><path d="M412.2 204.2L414.7 202.9L412.6 201.4L410.1 202.7Z" fill="#0d762c" stroke="#0d762c" stroke-width="0.6"/><path d="M410.1 202.7L412.6 201.4L410.6 199.8L408.1 201.1Z" fill="#0c6e30" stroke="#0c6e30" stroke-width="0.6"/><path d="M408.1 201.1L410.6 199.8L408.5 198.2L406 199.5Z" fill="#0c6e30" stroke="#0c6e30" stroke-width="0.6"/><path d="M406 199.5L408.5 198.2L406.5 196.7L404 198Z" fill="#0c6e30" stroke="#0c6e30" stroke-width="0.6"/><path d="M404 198L406.5 196.7L404.4 195.1L402 196.4Z" fill="#0c6e30" stroke="#0c6e30" stroke-width="0.6"/><path d="M402 196.4L404.4 195.1L402.4 193.6L399.9 194.8Z" fill="#0c6e30" stroke="#0c6e30" stroke-width="0.6"/><path d="M399.9 194.8L402.4 193.6L400.4 192L397.9 193.3Z" fill="#0a6238" stroke="#0a6238" stroke-width="0.6"/><path d="M397.9 193.3L400.4 192L398.4 190.5L395.9 191.8Z" fill="#0a6238" stroke="#0a6238" stroke-width="0.6"/><path d="M395.9 191.8L398.4 190.5L396.4 189L393.9 190.2Z" fill="#0a6238" stroke="#0a6238" stroke-width="0.6"/><path d="M393.9 190.2L396.4 189L394.4 187.4L391.9 188.7Z" fill="#0a6238" stroke="#0a6238" stroke-width="0.6"/><path d="M391.9 188.7L394.4 187.4L392.4 185.9L389.9 187.2Z" fill="#0a6238" stroke="#0a6238" stroke-width="0.6"/><path d="M389.9 187.2L392.4 185.9L390.4 184.4L387.9 185.7Z" fill="#0a6238" stroke="#0a6238" stroke-width="0.6"/><path d="M387.9 185.7L390.4 184.4L388.4 182.9L385.9 184.1Z" fill="#0a6238" stroke="#0a6238" stroke-width="0.6"/><path d="M385.9 184.1L388.4 182.9L386.4 181.4L384 182.6Z" fill="#0a6238" stroke="#0a6238" stroke-width="0.6"/><path d="M384 182.6L386.4 181.4L384.5 179.9L382 181.1Z" fill="#0a6238" stroke="#0a6238" stroke-width="0.6"/><path d="M382 181.1L384.5 179.9L382.5 178.4L380 179.6Z" fill="#0a6238" stroke="#0a6238" stroke-width="0.6"/><path d="M380 179.6L382.5 178.4L380.6 176.9L378.1 178.2Z" fill="#0a6238" stroke="#0a6238" stroke-width="0.6"/><path d="M378.1 178.2L380.6 176.9L378.6 175.4L376.1 176.7Z" fill="#0a6238" stroke="#0a6238" stroke-width="0.6"/><path d="M376.1 176.7L378.6 175.4L376.7 174L374.2 175.2Z" fill="#0a6238" stroke="#0a6238" stroke-width="0.6"/><path d="M374.2 175.2L376.7 174L374.7 172.5L372.3 173.7Z" fill="#0a6238" stroke="#0a6238" stroke-width="0.6"/><path d="M372.3 173.7L374.7 172.5L372.8 171L370.4 172.2Z" fill="#0a6238" stroke="#0a6238" stroke-width="0.6"/><path d="M370.4 172.2L372.8 171L370.9 169.6L368.4 170.8Z" fill="#0a6238" stroke="#0a6238" stroke-width="0.6"/><path d="M368.4 170.8L370.9 169.6L369 168.1L366.5 169.3Z" fill="#0a6238" stroke="#0a6238" stroke-width="0.6"/><path d="M366.5 169.3L369 168.1L367.1 166.7L364.6 167.9Z" fill="#0a6238" stroke="#0a6238" stroke-width="0.6"/><path d="M364.6 167.9L367.1 166.7L365.2 165.2L362.7 166.4Z" fill="#0a6238" stroke="#0a6238" stroke-width="0.6"/><path d="M362.7 166.4L365.2 165.2L363.3 163.8L360.9 165Z" fill="#0c6e30" stroke="#0c6e30" stroke-width="0.6"/><path d="M360.9 165L363.3 163.8L361.4 162.4L359 163.6Z" fill="#0c6e30" stroke="#0c6e30" stroke-width="0.6"/><path d="M359 163.6L361.4 162.4L359.6 160.9L357.1 162.1Z" fill="#0c6e30" stroke="#0c6e30" stroke-width="0.6"/><path d="M357.1 162.1L359.6 160.9L357.7 159.5L355.2 160.7Z" fill="#0c6e30" stroke="#0c6e30" stroke-width="0.6"/><path d="M355.2 160.7L357.7 159.5L355.8 158.1L353.4 159.3Z" fill="#0c6e30" stroke="#0c6e30" stroke-width="0.6"/><path d="M353.4 159.3L355.8 158.1L354 156.7L351.5 157.9Z" fill="#0d762c" stroke="#0d762c" stroke-width="0.6"/><path d="M351.5 157.9L354 156.7L352.1 155.3L349.7 156.4Z" fill="#0d762c" stroke="#0d762c" stroke-width="0.6"/><path d="M349.7 156.4L352.1 155.3L350.3 153.9L347.8 155Z" fill="#0d762c" stroke="#0d762c" stroke-width="0.6"/><path d="M429.4 214.1L431.9 212.8L429.8 211.2L427.3 212.5Z" fill="#0e7e28" stroke="#0e7e28" stroke-width="0.6"/><path d="M427.3 212.5L429.8 211.2L427.7 209.6L425.2 210.9Z" fill="#0e7e28" stroke="#0e7e28" stroke-width="0.6"/><path d="M425.2 210.9L427.7 209.6L425.6 208L423.1 209.3Z" fill="#0e7e28" stroke="#0e7e28" stroke-width="0.6"/><path d="M423.1 209.3L425.6 208L423.4 206.4L421 207.7Z" fill="#0d762c" stroke="#0d762c" stroke-width="0.6"/><path d="M421 207.7L423.4 206.4L421.4 204.8L418.9 206.1Z" fill="#0d762c" stroke="#0d762c" stroke-width="0.6"/><path d="M418.9 206.1L421.4 204.8L419.3 203.2L416.8 204.5Z" fill="#0d762c" stroke="#0d762c" stroke-width="0.6"/><path d="M416.8 204.5L419.3 203.2L417.2 201.6L414.7 202.9Z" fill="#0c6e30" stroke="#0c6e30" stroke-width="0.6"/><path d="M414.7 202.9L417.2 201.6L415.1 200.1L412.6 201.4Z" fill="#0c6e30" stroke="#0c6e30" stroke-width="0.6"/><path d="M412.6 201.4L415.1 200.1L413.1 198.5L410.6 199.8Z" fill="#0c6e30" stroke="#0c6e30" stroke-width="0.6"/><path d="M410.6 199.8L413.1 198.5L411 196.9L408.5 198.2Z" fill="#0c6e30" stroke="#0c6e30" stroke-width="0.6"/><path d="M408.5 198.2L411 196.9L409 195.4L406.5 196.7Z" fill="#0c6e30" stroke="#0c6e30" stroke-width="0.6"/><path d="M406.5 196.7L409 195.4L406.9 193.8L404.4 195.1Z" fill="#0a6238" stroke="#0a6238" stroke-width="0.6"/><path d="M404.4 195.1L406.9 193.8L404.9 192.3L402.4 193.6Z" fill="#0a6238" stroke="#0a6238" stroke-width="0.6"/><path d="M402.4 193.6L404.9 192.3L402.9 190.8L400.4 192Z" fill="#0a6238" stroke="#0a6238" stroke-width="0.6"/><path d="M400.4 192L402.9 190.8L400.8 189.2L398.4 190.5Z" fill="#0a6238" stroke="#0a6238" stroke-width="0.6"/><path d="M398.4 190.5L400.8 189.2L398.8 187.7L396.4 189Z" fill="#0a6238" stroke="#0a6238" stroke-width="0.6"/><path d="M396.4 189L398.8 187.7L396.8 186.2L394.4 187.4Z" fill="#0a6238" stroke="#0a6238" stroke-width="0.6"/><path d="M394.4 187.4L396.8 186.2L394.8 184.7L392.4 185.9Z" fill="#0a6238" stroke="#0a6238" stroke-width="0.6"/><path d="M392.4 185.9L394.8 184.7L392.8 183.2L390.4 184.4Z" fill="#0a6238" stroke="#0a6238" stroke-width="0.6"/><path d="M390.4 184.4L392.8 183.2L390.9 181.7L388.4 182.9Z" fill="#0a6238" stroke="#0a6238" stroke-width="0.6"/><path d="M388.4 182.9L390.9 181.7L388.9 180.2L386.4 181.4Z" fill="#0a6238" stroke="#0a6238" stroke-width="0.6"/><path d="M386.4 181.4L388.9 180.2L386.9 178.7L384.5 179.9Z" fill="#0a6238" stroke="#0a6238" stroke-width="0.6"/><path d="M384.5 179.9L386.9 178.7L385 177.2L382.5 178.4Z" fill="#0a6238" stroke="#0a6238" stroke-width="0.6"/><path d="M382.5 178.4L385 177.2L383 175.7L380.6 176.9Z" fill="#0a6238" stroke="#0a6238" stroke-width="0.6"/><path d="M380.6 176.9L383 175.7L381.1 174.2L378.6 175.4Z" fill="#0a6238" stroke="#0a6238" stroke-width="0.6"/><path d="M378.6 175.4L381.1 174.2L379.1 172.8L376.7 174Z" fill="#0a6238" stroke="#0a6238" stroke-width="0.6"/><path d="M376.7 174L379.1 172.8L377.2 171.3L374.7 172.5Z" fill="#0a6238" stroke="#0a6238" stroke-width="0.6"/><path d="M374.7 172.5L377.2 171.3L375.3 169.8L372.8 171Z" fill="#0a6238" stroke="#0a6238" stroke-width="0.6"/><path d="M372.8 171L375.3 169.8L373.4 168.4L370.9 169.6Z" fill="#0a6238" stroke="#0a6238" stroke-width="0.6"/><path d="M370.9 169.6L373.4 168.4L371.5 166.9L369 168.1Z" fill="#0a6238" stroke="#0a6238" stroke-width="0.6"/><path d="M369 168.1L371.5 166.9L369.6 165.5L367.1 166.7Z" fill="#0a6238" stroke="#0a6238" stroke-width="0.6"/><path d="M367.1 166.7L369.6 165.5L367.7 164.1L365.2 165.2Z" fill="#0c6e30" stroke="#0c6e30" stroke-width="0.6"/><path d="M365.2 165.2L367.7 164.1L365.8 162.6L363.3 163.8Z" fill="#0c6e30" stroke="#0c6e30" stroke-width="0.6"/><path d="M363.3 163.8L365.8 162.6L363.9 161.2L361.4 162.4Z" fill="#0c6e30" stroke="#0c6e30" stroke-width="0.6"/><path d="M361.4 162.4L363.9 161.2L362 159.8L359.6 160.9Z" fill="#0c6e30" stroke="#0c6e30" stroke-width="0.6"/><path d="M359.6 160.9L362 159.8L360.1 158.4L357.7 159.5Z" fill="#0c6e30" stroke="#0c6e30" stroke-width="0.6"/><path d="M357.7 159.5L360.1 158.4L358.3 156.9L355.8 158.1Z" fill="#0d762c" stroke="#0d762c" stroke-width="0.6"/><path d="M355.8 158.1L358.3 156.9L356.4 155.5L354 156.7Z" fill="#0d762c" stroke="#0d762c" stroke-width="0.6"/><path d="M354 156.7L356.4 155.5L354.6 154.1L352.1 155.3Z" fill="#0d762c" stroke="#0d762c" stroke-width="0.6"/><path d="M352.1 155.3L354.6 154.1L352.7 152.7L350.3 153.9Z" fill="#0e7e28" stroke="#0e7e28" stroke-width="0.6"/><path d="M431.9 212.8L434.4 211.5L432.3 209.8L429.8 211.2Z" fill="#0e7e28" stroke="#0e7e28" stroke-width="0.6"/><path d="M429.8 211.2L432.3 209.8L430.1 208.2L427.7 209.6Z" fill="#0d762c" stroke="#0d762c" stroke-width="0.6"/><path d="M427.7 209.6L430.1 208.2L428 206.7L425.6 208Z" fill="#0d762c" stroke="#0d762c" stroke-width="0.6"/><path d="M425.6 208L428 206.7L425.9 205.1L423.4 206.4Z" fill="#0d762c" stroke="#0d762c" stroke-width="0.6"/><path d="M423.4 206.4L425.9 205.1L423.8 203.5L421.4 204.8Z" fill="#0d762c" stroke="#0d762c" stroke-width="0.6"/><path d="M421.4 204.8L423.8 203.5L421.7 201.9L419.3 203.2Z" fill="#0c6e30" stroke="#0c6e30" stroke-width="0.6"/><path d="M419.3 203.2L421.7 201.9L419.7 200.3L417.2 201.6Z" fill="#0c6e30" stroke="#0c6e30" stroke-width="0.6"/><path d="M417.2 201.6L419.7 200.3L417.6 198.8L415.1 200.1Z" fill="#0c6e30" stroke="#0c6e30" stroke-width="0.6"/><path d="M415.1 200.1L417.6 198.8L415.5 197.2L413.1 198.5Z" fill="#0c6e30" stroke="#0c6e30" stroke-width="0.6"/><path d="M413.1 198.5L415.5 197.2L413.5 195.7L411 196.9Z" fill="#0c6e30" stroke="#0c6e30" stroke-width="0.6"/><path d="M411 196.9L413.5 195.7L411.4 194.1L409 195.4Z" fill="#0a6238" stroke="#0a6238" stroke-width="0.6"/><path d="M409 195.4L411.4 194.1L409.4 192.6L406.9 193.8Z" fill="#0a6238" stroke="#0a6238" stroke-width="0.6"/><path d="M406.9 193.8L409.4 192.6L407.4 191L404.9 192.3Z" fill="#0a6238" stroke="#0a6238" stroke-width="0.6"/><path d="M404.9 192.3L407.4 191L405.3 189.5L402.9 190.8Z" fill="#0a6238" stroke="#0a6238" stroke-width="0.6"/><path d="M402.9 190.8L405.3 189.5L403.3 188L400.8 189.2Z" fill="#0a6238" stroke="#0a6238" stroke-width="0.6"/><path d="M400.8 189.2L403.3 188L401.3 186.4L398.8 187.7Z" fill="#0a6238" stroke="#0a6238" stroke-width="0.6"/><path d="M398.8 187.7L401.3 186.4L399.3 184.9L396.8 186.2Z" fill="#0a6238" stroke="#0a6238" stroke-width="0.6"/><path d="M396.8 186.2L399.3 184.9L397.3 183.4L394.8 184.7Z" fill="#0a6238" stroke="#0a6238" stroke-width="0.6"/><path d="M394.8 184.7L397.3 183.4L395.3 181.9L392.8 183.2Z" fill="#0a6238" stroke="#0a6238" stroke-width="0.6"/><path d="M392.8 183.2L395.3 181.9L393.3 180.4L390.9 181.7Z" fill="#0a6238" stroke="#0a6238" stroke-width="0.6"/><path d="M390.9 181.7L393.3 180.4L391.4 178.9L388.9 180.2Z" fill="#0a6238" stroke="#0a6238" stroke-width="0.6"/><path d="M388.9 180.2L391.4 178.9L389.4 177.4L386.9 178.7Z" fill="#0a6238" stroke="#0a6238" stroke-width="0.6"/><path d="M386.9 178.7L389.4 177.4L387.4 176L385 177.2Z" fill="#0a6238" stroke="#0a6238" stroke-width="0.6"/><path d="M385 177.2L387.4 176L385.5 174.5L383 175.7Z" fill="#0a6238" stroke="#0a6238" stroke-width="0.6"/><path d="M383 175.7L385.5 174.5L383.5 173L381.1 174.2Z" fill="#0a6238" stroke="#0a6238" stroke-width="0.6"/><path d="M381.1 174.2L383.5 173L381.6 171.6L379.1 172.8Z" fill="#0a6238" stroke="#0a6238" stroke-width="0.6"/><path d="M379.1 172.8L381.6 171.6L379.7 170.1L377.2 171.3Z" fill="#0a6238" stroke="#0a6238" stroke-width="0.6"/><path d="M377.2 171.3L379.7 170.1L377.7 168.6L375.3 169.8Z" fill="#0a6238" stroke="#0a6238" stroke-width="0.6"/><path d="M375.3 169.8L377.7 168.6L375.8 167.2L373.4 168.4Z" fill="#0a6238" stroke="#0a6238" stroke-width="0.6"/><path d="M373.4 168.4L375.8 167.2L373.9 165.7L371.5 166.9Z" fill="#0c6e30" stroke="#0c6e30" stroke-width="0.6"/><path d="M371.5 166.9L373.9 165.7L372 164.3L369.6 165.5Z" fill="#0c6e30" stroke="#0c6e30" stroke-width="0.6"/><path d="M369.6 165.5L372 164.3L370.1 162.9L367.7 164.1Z" fill="#0c6e30" stroke="#0c6e30" stroke-width="0.6"/><path d="M367.7 164.1L370.1 162.9L368.2 161.4L365.8 162.6Z" fill="#0c6e30" stroke="#0c6e30" stroke-width="0.6"/><path d="M365.8 162.6L368.2 161.4L366.3 160L363.9 161.2Z" fill="#0c6e30" stroke="#0c6e30" stroke-width="0.6"/><path d="M363.9 161.2L366.3 160L364.4 158.6L362 159.8Z" fill="#0d762c" stroke="#0d762c" stroke-width="0.6"/><path d="M362 159.8L364.4 158.6L362.6 157.2L360.1 158.4Z" fill="#0d762c" stroke="#0d762c" stroke-width="0.6"/><path d="M360.1 158.4L362.6 157.2L360.7 155.8L358.3 156.9Z" fill="#0d762c" stroke="#0d762c" stroke-width="0.6"/><path d="M358.3 156.9L360.7 155.8L358.9 154.4L356.4 155.5Z" fill="#0d762c" stroke="#0d762c" stroke-width="0.6"/><path d="M356.4 155.5L358.9 154.4L357 153L354.6 154.1Z" fill="#0e7e28" stroke="#0e7e28" stroke-width="0.6"/><path d="M354.6 154.1L357 153L355.2 151.6L352.7 152.7Z" fill="#0e7e28" stroke="#0e7e28" stroke-width="0.6"/><path d="M434.4 211.5L436.9 210.1L434.7 208.5L432.3 209.8Z" fill="#0d762c" stroke="#0d762c" stroke-width="0.6"/><path d="M432.3 209.8L434.7 208.5L432.6 206.9L430.1 208.2Z" fill="#0d762c" stroke="#0d762c" stroke-width="0.6"/><path d="M430.1 208.2L432.6 206.9L430.5 205.3L428 206.7Z" fill="#0d762c" stroke="#0d762c" stroke-width="0.6"/><path d="M428 206.7L430.5 205.3L428.4 203.8L425.9 205.1Z" fill="#0c6e30" stroke="#0c6e30" stroke-width="0.6"/><path d="M425.9 205.1L428.4 203.8L426.3 202.2L423.8 203.5Z" fill="#0c6e30" stroke="#0c6e30" stroke-width="0.6"/><path d="M423.8 203.5L426.3 202.2L424.2 200.6L421.7 201.9Z" fill="#0c6e30" stroke="#0c6e30" stroke-width="0.6"/><path d="M421.7 201.9L424.2 200.6L422.1 199L419.7 200.3Z" fill="#0c6e30" stroke="#0c6e30" stroke-width="0.6"/><path d="M419.7 200.3L422.1 199L420.1 197.5L417.6 198.8Z" fill="#0c6e30" stroke="#0c6e30" stroke-width="0.6"/><path d="M417.6 198.8L420.1 197.5L418 195.9L415.5 197.2Z" fill="#0a6238" stroke="#0a6238" stroke-width="0.6"/><path d="M415.5 197.2L418 195.9L415.9 194.4L413.5 195.7Z" fill="#0a6238" stroke="#0a6238" stroke-width="0.6"/><path d="M413.5 195.7L415.9 194.4L413.9 192.8L411.4 194.1Z" fill="#0a6238" stroke="#0a6238" stroke-width="0.6"/><path d="M411.4 194.1L413.9 192.8L411.8 191.3L409.4 192.6Z" fill="#0a6238" stroke="#0a6238" stroke-width="0.6"/><path d="M409.4 192.6L411.8 191.3L409.8 189.8L407.4 191Z" fill="#0a6238" stroke="#0a6238" stroke-width="0.6"/><path d="M407.4 191L409.8 189.8L407.8 188.2L405.3 189.5Z" fill="#0a6238" stroke="#0a6238" stroke-width="0.6"/><path d="M405.3 189.5L407.8 188.2L405.8 186.7L403.3 188Z" fill="#0a6238" stroke="#0a6238" stroke-width="0.6"/><path d="M403.3 188L405.8 186.7L403.8 185.2L401.3 186.4Z" fill="#0a6238" stroke="#0a6238" stroke-width="0.6"/><path d="M401.3 186.4L403.8 185.2L401.7 183.7L399.3 184.9Z" fill="#0a6238" stroke="#0a6238" stroke-width="0.6"/><path d="M399.3 184.9L401.7 183.7L399.8 182.2L397.3 183.4Z" fill="#0a6238" stroke="#0a6238" stroke-width="0.6"/><path d="M397.3 183.4L399.8 182.2L397.8 180.7L395.3 181.9Z" fill="#0a6238" stroke="#0a6238" stroke-width="0.6"/><path d="M395.3 181.9L397.8 180.7L395.8 179.2L393.3 180.4Z" fill="#0a6238" stroke="#0a6238" stroke-width="0.6"/><path d="M393.3 180.4L395.8 179.2L393.8 177.7L391.4 178.9Z" fill="#0a6238" stroke="#0a6238" stroke-width="0.6"/><path d="M391.4 178.9L393.8 177.7L391.8 176.2L389.4 177.4Z" fill="#0a6238" stroke="#0a6238" stroke-width="0.6"/><path d="M389.4 177.4L391.8 176.2L389.9 174.7L387.4 176Z" fill="#0a6238" stroke="#0a6238" stroke-width="0.6"/><path d="M387.4 176L389.9 174.7L387.9 173.3L385.5 174.5Z" fill="#0a6238" stroke="#0a6238" stroke-width="0.6"/><path d="M385.5 174.5L387.9 173.3L386 171.8L383.5 173Z" fill="#0a6238" stroke="#0a6238" stroke-width="0.6"/><path d="M383.5 173L386 171.8L384 170.3L381.6 171.6Z" fill="#0a6238" stroke="#0a6238" stroke-width="0.6"/><path d="M381.6 171.6L384 170.3L382.1 168.9L379.7 170.1Z" fill="#0a6238" stroke="#0a6238" stroke-width="0.6"/><path d="M379.7 170.1L382.1 168.9L380.2 167.4L377.7 168.6Z" fill="#0a6238" stroke="#0a6238" stroke-width="0.6"/><path d="M377.7 168.6L380.2 167.4L378.2 166L375.8 167.2Z" fill="#0c6e30" stroke="#0c6e30" stroke-width="0.6"/><path d="M375.8 167.2L378.2 166L376.3 164.6L373.9 165.7Z" fill="#0c6e30" stroke="#0c6e30" stroke-width="0.6"/><path d="M373.9 165.7L376.3 164.6L374.4 163.1L372 164.3Z" fill="#0c6e30" stroke="#0c6e30" stroke-width="0.6"/><path d="M372 164.3L374.4 163.1L372.5 161.7L370.1 162.9Z" fill="#0c6e30" stroke="#0c6e30" stroke-width="0.6"/><path d="M370.1 162.9L372.5 161.7L370.6 160.3L368.2 161.4Z" fill="#0c6e30" stroke="#0c6e30" stroke-width="0.6"/><path d="M368.2 161.4L370.6 160.3L368.8 158.8L366.3 160Z" fill="#0d762c" stroke="#0d762c" stroke-width="0.6"/><path d="M366.3 160L368.8 158.8L366.9 157.4L364.4 158.6Z" fill="#0d762c" stroke="#0d762c" stroke-width="0.6"/><path d="M364.4 158.6L366.9 157.4L365 156L362.6 157.2Z" fill="#0d762c" stroke="#0d762c" stroke-width="0.6"/><path d="M362.6 157.2L365 156L363.1 154.6L360.7 155.8Z" fill="#0d762c" stroke="#0d762c" stroke-width="0.6"/><path d="M360.7 155.8L363.1 154.6L361.3 153.2L358.9 154.4Z" fill="#0e7e28" stroke="#0e7e28" stroke-width="0.6"/><path d="M358.9 154.4L361.3 153.2L359.4 151.8L357 153Z" fill="#0e7e28" stroke="#0e7e28" stroke-width="0.6"/><path d="M357 153L359.4 151.8L357.6 150.4L355.2 151.6Z" fill="#0e7e28" stroke="#0e7e28" stroke-width="0.6"/><path d="M436.9 210.1L439.3 208.8L437.2 207.2L434.7 208.5Z" fill="#0d762c" stroke="#0d762c" stroke-width="0.6"/><path d="M434.7 208.5L437.2 207.2L435.1 205.6L432.6 206.9Z" fill="#0d762c" stroke="#0d762c" stroke-width="0.6"/><path d="M432.6 206.9L435.1 205.6L433 204L430.5 205.3Z" fill="#0c6e30" stroke="#0c6e30" stroke-width="0.6"/><path d="M430.5 205.3L433 204L430.9 202.4L428.4 203.8Z" fill="#0c6e30" stroke="#0c6e30" stroke-width="0.6"/><path d="M428.4 203.8L430.9 202.4L428.8 200.9L426.3 202.2Z" fill="#0c6e30" stroke="#0c6e30" stroke-width="0.6"/><path d="M426.3 202.2L428.8 200.9L426.7 199.3L424.2 200.6Z" fill="#0c6e30" stroke="#0c6e30" stroke-width="0.6"/><path d="M424.2 200.6L426.7 199.3L424.6 197.7L422.1 199Z" fill="#0a6238" stroke="#0a6238" stroke-width="0.6"/><path d="M422.1 199L424.6 197.7L422.5 196.2L420.1 197.5Z" fill="#0a6238" stroke="#0a6238" stroke-width="0.6"/><path d="M420.1 197.5L422.5 196.2L420.5 194.6L418 195.9Z" fill="#0a6238" stroke="#0a6238" stroke-width="0.6"/><path d="M418 195.9L420.5 194.6L418.4 193.1L415.9 194.4Z" fill="#0a6238" stroke="#0a6238" stroke-width="0.6"/><path d="M415.9 194.4L418.4 193.1L416.3 191.6L413.9 192.8Z" fill="#0a6238" stroke="#0a6238" stroke-width="0.6"/><path d="M413.9 192.8L416.3 191.6L414.3 190L411.8 191.3Z" fill="#0a6238" stroke="#0a6238" stroke-width="0.6"/><path d="M411.8 191.3L414.3 190L412.3 188.5L409.8 189.8Z" fill="#0a6238" stroke="#0a6238" stroke-width="0.6"/><path d="M409.8 189.8L412.3 188.5L410.2 187L407.8 188.2Z" fill="#0a6238" stroke="#0a6238" stroke-width="0.6"/><path d="M407.8 188.2L410.2 187L408.2 185.5L405.8 186.7Z" fill="#0a6238" stroke="#0a6238" stroke-width="0.6"/><path d="M405.8 186.7L408.2 185.5L406.2 184L403.8 185.2Z" fill="#0a6238" stroke="#0a6238" stroke-width="0.6"/><path d="M403.8 185.2L406.2 184L404.2 182.4L401.7 183.7Z" fill="#0a6238" stroke="#0a6238" stroke-width="0.6"/><path d="M401.7 183.7L404.2 182.4L402.2 180.9L399.8 182.2Z" fill="#0a6238" stroke="#0a6238" stroke-width="0.6"/><path d="M399.8 182.2L402.2 180.9L400.2 179.5L397.8 180.7Z" fill="#0a6238" stroke="#0a6238" stroke-width="0.6"/><path d="M397.8 180.7L400.2 179.5L398.2 178L395.8 179.2Z" fill="#0a6238" stroke="#0a6238" stroke-width="0.6"/><path d="M395.8 179.2L398.2 178L396.2 176.5L393.8 177.7Z" fill="#0a6238" stroke="#0a6238" stroke-width="0.6"/><path d="M393.8 177.7L396.2 176.5L394.3 175L391.8 176.2Z" fill="#0a6238" stroke="#0a6238" stroke-width="0.6"/><path d="M391.8 176.2L394.3 175L392.3 173.5L389.9 174.7Z" fill="#0a6238" stroke="#0a6238" stroke-width="0.6"/><path d="M389.9 174.7L392.3 173.5L390.4 172.1L387.9 173.3Z" fill="#0a6238" stroke="#0a6238" stroke-width="0.6"/><path d="M387.9 173.3L390.4 172.1L388.4 170.6L386 171.8Z" fill="#0a6238" stroke="#0a6238" stroke-width="0.6"/><path d="M386 171.8L388.4 170.6L386.5 169.1L384 170.3Z" fill="#0a6238" stroke="#0a6238" stroke-width="0.6"/><path d="M384 170.3L386.5 169.1L384.5 167.7L382.1 168.9Z" fill="#0a6238" stroke="#0a6238" stroke-width="0.6"/><path d="M382.1 168.9L384.5 167.7L382.6 166.3L380.2 167.4Z" fill="#0c6e30" stroke="#0c6e30" stroke-width="0.6"/><path d="M380.2 167.4L382.6 166.3L380.7 164.8L378.2 166Z" fill="#0c6e30" stroke="#0c6e30" stroke-width="0.6"/><path d="M378.2 166L380.7 164.8L378.8 163.4L376.3 164.6Z" fill="#0c6e30" stroke="#0c6e30" stroke-width="0.6"/><path d="M376.3 164.6L378.8 163.4L376.9 161.9L374.4 163.1Z" fill="#0c6e30" stroke="#0c6e30" stroke-width="0.6"/><path d="M374.4 163.1L376.9 161.9L375 160.5L372.5 161.7Z" fill="#0d762c" stroke="#0d762c" stroke-width="0.6"/><path d="M372.5 161.7L375 160.5L373.1 159.1L370.6 160.3Z" fill="#0d762c" stroke="#0d762c" stroke-width="0.6"/><path d="M370.6 160.3L373.1 159.1L371.2 157.7L368.8 158.8Z" fill="#0d762c" stroke="#0d762c" stroke-width="0.6"/><path d="M368.8 158.8L371.2 157.7L369.3 156.3L366.9 157.4Z" fill="#0d762c" stroke="#0d762c" stroke-width="0.6"/><path d="M366.9 157.4L369.3 156.3L367.4 154.9L365 156Z" fill="#0e7e28" stroke="#0e7e28" stroke-width="0.6"/><path d="M365 156L367.4 154.9L365.6 153.5L363.1 154.6Z" fill="#0e7e28" stroke="#0e7e28" stroke-width="0.6"/><path d="M363.1 154.6L365.6 153.5L363.7 152.1L361.3 153.2Z" fill="#0e7e28" stroke="#0e7e28" stroke-width="0.6"/><path d="M361.3 153.2L363.7 152.1L361.8 150.7L359.4 151.8Z" fill="#108626" stroke="#108626" stroke-width="0.6"/><path d="M359.4 151.8L361.8 150.7L360 149.3L357.6 150.4Z" fill="#108626" stroke="#108626" stroke-width="0.6"/><path d="M439.3 208.8L441.8 207.5L439.7 205.9L437.2 207.2Z" fill="#0c6e30" stroke="#0c6e30" stroke-width="0.6"/><path d="M437.2 207.2L439.7 205.9L437.5 204.3L435.1 205.6Z" fill="#0c6e30" stroke="#0c6e30" stroke-width="0.6"/><path d="M435.1 205.6L437.5 204.3L435.4 202.7L433 204Z" fill="#0c6e30" stroke="#0c6e30" stroke-width="0.6"/><path d="M433 204L435.4 202.7L433.3 201.1L430.9 202.4Z" fill="#0c6e30" stroke="#0c6e30" stroke-width="0.6"/><path d="M430.9 202.4L433.3 201.1L431.2 199.6L428.8 200.9Z" fill="#0c6e30" stroke="#0c6e30" stroke-width="0.6"/><path d="M428.8 200.9L431.2 199.6L429.1 198L426.7 199.3Z" fill="#0a6238" stroke="#0a6238" stroke-width="0.6"/><path d="M426.7 199.3L429.1 198L427 196.5L424.6 197.7Z" fill="#0a6238" stroke="#0a6238" stroke-width="0.6"/><path d="M424.6 197.7L427 196.5L425 194.9L422.5 196.2Z" fill="#0a6238" stroke="#0a6238" stroke-width="0.6"/><path d="M422.5 196.2L425 194.9L422.9 193.4L420.5 194.6Z" fill="#0a6238" stroke="#0a6238" stroke-width="0.6"/><path d="M420.5 194.6L422.9 193.4L420.8 191.8L418.4 193.1Z" fill="#0a6238" stroke="#0a6238" stroke-width="0.6"/><path d="M418.4 193.1L420.8 191.8L418.8 190.3L416.3 191.6Z" fill="#0a6238" stroke="#0a6238" stroke-width="0.6"/><path d="M416.3 191.6L418.8 190.3L416.7 188.8L414.3 190Z" fill="#0a6238" stroke="#0a6238" stroke-width="0.6"/><path d="M414.3 190L416.7 188.8L414.7 187.2L412.3 188.5Z" fill="#0a6238" stroke="#0a6238" stroke-width="0.6"/><path d="M412.3 188.5L414.7 187.2L412.7 185.7L410.2 187Z" fill="#0a6238" stroke="#0a6238" stroke-width="0.6"/><path d="M410.2 187L412.7 185.7L410.7 184.2L408.2 185.5Z" fill="#0a6238" stroke="#0a6238" stroke-width="0.6"/><path d="M408.2 185.5L410.7 184.2L408.6 182.7L406.2 184Z" fill="#0a6238" stroke="#0a6238" stroke-width="0.6"/><path d="M406.2 184L408.6 182.7L406.6 181.2L404.2 182.4Z" fill="#0a6238" stroke="#0a6238" stroke-width="0.6"/><path d="M404.2 182.4L406.6 181.2L404.6 179.7L402.2 180.9Z" fill="#0a6238" stroke="#0a6238" stroke-width="0.6"/><path d="M402.2 180.9L404.6 179.7L402.6 178.2L400.2 179.5Z" fill="#0a6238" stroke="#0a6238" stroke-width="0.6"/><path d="M400.2 179.5L402.6 178.2L400.7 176.7L398.2 178Z" fill="#0a6238" stroke="#0a6238" stroke-width="0.6"/><path d="M398.2 178L400.7 176.7L398.7 175.3L396.2 176.5Z" fill="#0a6238" stroke="#0a6238" stroke-width="0.6"/><path d="M396.2 176.5L398.7 175.3L396.7 173.8L394.3 175Z" fill="#0a6238" stroke="#0a6238" stroke-width="0.6"/><path d="M394.3 175L396.7 173.8L394.7 172.3L392.3 173.5Z" fill="#0a6238" stroke="#0a6238" stroke-width="0.6"/><path d="M392.3 173.5L394.7 172.3L392.8 170.9L390.4 172.1Z" fill="#0a6238" stroke="#0a6238" stroke-width="0.6"/><path d="M390.4 172.1L392.8 170.9L390.8 169.4L388.4 170.6Z" fill="#0a6238" stroke="#0a6238" stroke-width="0.6"/><path d="M388.4 170.6L390.8 169.4L388.9 167.9L386.5 169.1Z" fill="#0c6e30" stroke="#0c6e30" stroke-width="0.6"/><path d="M386.5 169.1L388.9 167.9L387 166.5L384.5 167.7Z" fill="#0c6e30" stroke="#0c6e30" stroke-width="0.6"/><path d="M384.5 167.7L387 166.5L385 165.1L382.6 166.3Z" fill="#0c6e30" stroke="#0c6e30" stroke-width="0.6"/><path d="M382.6 166.3L385 165.1L383.1 163.6L380.7 164.8Z" fill="#0c6e30" stroke="#0c6e30" stroke-width="0.6"/><path d="M380.7 164.8L383.1 163.6L381.2 162.2L378.8 163.4Z" fill="#0c6e30" stroke="#0c6e30" stroke-width="0.6"/><path d="M378.8 163.4L381.2 162.2L379.3 160.8L376.9 161.9Z" fill="#0d762c" stroke="#0d762c" stroke-width="0.6"/><path d="M376.9 161.9L379.3 160.8L377.4 159.3L375 160.5Z" fill="#0d762c" stroke="#0d762c" stroke-width="0.6"/><path d="M375 160.5L377.4 159.3L375.5 157.9L373.1 159.1Z" fill="#0d762c" stroke="#0d762c" stroke-width="0.6"/><path d="M373.1 159.1L375.5 157.9L373.6 156.5L371.2 157.7Z" fill="#0d762c" stroke="#0d762c" stroke-width="0.6"/><path d="M371.2 157.7L373.6 156.5L371.7 155.1L369.3 156.3Z" fill="#0e7e28" stroke="#0e7e28" stroke-width="0.6"/><path d="M369.3 156.3L371.7 155.1L369.8 153.7L367.4 154.9Z" fill="#0e7e28" stroke="#0e7e28" stroke-width="0.6"/><path d="M367.4 154.9L369.8 153.7L368 152.3L365.6 153.5Z" fill="#0e7e28" stroke="#0e7e28" stroke-width="0.6"/><path d="M365.6 153.5L368 152.3L366.1 150.9L363.7 152.1Z" fill="#108626" stroke="#108626" stroke-width="0.6"/><path d="M363.7 152.1L366.1 150.9L364.3 149.5L361.8 150.7Z" fill="#108626" stroke="#108626" stroke-width="0.6"/><path d="M361.8 150.7L364.3 149.5L362.4 148.2L360 149.3Z" fill="#119023" stroke="#119023" stroke-width="0.6"/><path d="M441.8 207.5L444.2 206.2L442.1 204.6L439.7 205.9Z" fill="#0c6e30" stroke="#0c6e30" stroke-width="0.6"/><path d="M439.7 205.9L442.1 204.6L440 203L437.5 204.3Z" fill="#0c6e30" stroke="#0c6e30" stroke-width="0.6"/><path d="M437.5 204.3L440 203L437.9 201.4L435.4 202.7Z" fill="#0c6e30" stroke="#0c6e30" stroke-width="0.6"/><path d="M435.4 202.7L437.9 201.4L435.8 199.9L433.3 201.1Z" fill="#0a6238" stroke="#0a6238" stroke-width="0.6"/><path d="M433.3 201.1L435.8 199.9L433.7 198.3L431.2 199.6Z" fill="#0a6238" stroke="#0a6238" stroke-width="0.6"/><path d="M431.2 199.6L433.7 198.3L431.6 196.7L429.1 198Z" fill="#0a6238" stroke="#0a6238" stroke-width="0.6"/><path d="M429.1 198L431.6 196.7L429.5 195.2L427 196.5Z" fill="#0a6238" stroke="#0a6238" stroke-width="0.6"/><path d="M427 196.5L429.5 195.2L427.4 193.6L425 194.9Z" fill="#0a6238" stroke="#0a6238" stroke-width="0.6"/><path d="M425 194.9L427.4 193.6L425.3 192.1L422.9 193.4Z" fill="#0a6238" stroke="#0a6238" stroke-width="0.6"/><path d="M422.9 193.4L425.3 192.1L423.3 190.6L420.8 191.8Z" fill="#0a6238" stroke="#0a6238" stroke-width="0.6"/><path d="M420.8 191.8L423.3 190.6L421.2 189L418.8 190.3Z" fill="#0a6238" stroke="#0a6238" stroke-width="0.6"/><path d="M418.8 190.3L421.2 189L419.2 187.5L416.7 188.8Z" fill="#0a6238" stroke="#0a6238" stroke-width="0.6"/><path d="M416.7 188.8L419.2 187.5L417.1 186L414.7 187.2Z" fill="#0a6238" stroke="#0a6238" stroke-width="0.6"/><path d="M414.7 187.2L417.1 186L415.1 184.5L412.7 185.7Z" fill="#0a6238" stroke="#0a6238" stroke-width="0.6"/><path d="M412.7 185.7L415.1 184.5L413.1 183L410.7 184.2Z" fill="#0a6238" stroke="#0a6238" stroke-width="0.6"/><path d="M410.7 184.2L413.1 183L411.1 181.5L408.6 182.7Z" fill="#0a6238" stroke="#0a6238" stroke-width="0.6"/><path d="M408.6 182.7L411.1 181.5L409.1 180L406.6 181.2Z" fill="#0a6238" stroke="#0a6238" stroke-width="0.6"/><path d="M406.6 181.2L409.1 180L407.1 178.5L404.6 179.7Z" fill="#0a6238" stroke="#0a6238" stroke-width="0.6"/><path d="M404.6 179.7L407.1 178.5L405.1 177L402.6 178.2Z" fill="#0a6238" stroke="#0a6238" stroke-width="0.6"/><path d="M402.6 178.2L405.1 177L403.1 175.5L400.7 176.7Z" fill="#0a6238" stroke="#0a6238" stroke-width="0.6"/><path d="M400.7 176.7L403.1 175.5L401.1 174L398.7 175.3Z" fill="#0a6238" stroke="#0a6238" stroke-width="0.6"/><path d="M398.7 175.3L401.1 174L399.1 172.6L396.7 173.8Z" fill="#0a6238" stroke="#0a6238" stroke-width="0.6"/><path d="M396.7 173.8L399.1 172.6L397.2 171.1L394.7 172.3Z" fill="#0a6238" stroke="#0a6238" stroke-width="0.6"/><path d="M394.7 172.3L397.2 171.1L395.2 169.7L392.8 170.9Z" fill="#0a6238" stroke="#0a6238" stroke-width="0.6"/><path d="M392.8 170.9L395.2 169.7L393.3 168.2L390.8 169.4Z" fill="#0c6e30" stroke="#0c6e30" stroke-width="0.6"/><path d="M390.8 169.4L393.3 168.2L391.3 166.8L388.9 167.9Z" fill="#0c6e30" stroke="#0c6e30" stroke-width="0.6"/><path d="M388.9 167.9L391.3 166.8L389.4 165.3L387 166.5Z" fill="#0c6e30" stroke="#0c6e30" stroke-width="0.6"/><path d="M387 166.5L389.4 165.3L387.4 163.9L385 165.1Z" fill="#0c6e30" stroke="#0c6e30" stroke-width="0.6"/><path d="M385 165.1L387.4 163.9L385.5 162.4L383.1 163.6Z" fill="#0c6e30" stroke="#0c6e30" stroke-width="0.6"/><path d="M383.1 163.6L385.5 162.4L383.6 161L381.2 162.2Z" fill="#0d762c" stroke="#0d762c" stroke-width="0.6"/><path d="M381.2 162.2L383.6 161L381.7 159.6L379.3 160.8Z" fill="#0d762c" stroke="#0d762c" stroke-width="0.6"/><path d="M379.3 160.8L381.7 159.6L379.8 158.2L377.4 159.3Z" fill="#0d762c" stroke="#0d762c" stroke-width="0.6"/><path d="M377.4 159.3L379.8 158.2L377.9 156.8L375.5 157.9Z" fill="#0e7e28" stroke="#0e7e28" stroke-width="0.6"/><path d="M375.5 157.9L377.9 156.8L376 155.4L373.6 156.5Z" fill="#0e7e28" stroke="#0e7e28" stroke-width="0.6"/><path d="M373.6 156.5L376 155.4L374.1 154L371.7 155.1Z" fill="#0e7e28" stroke="#0e7e28" stroke-width="0.6"/><path d="M371.7 155.1L374.1 154L372.2 152.6L369.8 153.7Z" fill="#108626" stroke="#108626" stroke-width="0.6"/><path d="M369.8 153.7L372.2 152.6L370.4 151.2L368 152.3Z" fill="#108626" stroke="#108626" stroke-width="0.6"/><path d="M368 152.3L370.4 151.2L368.5 149.8L366.1 150.9Z" fill="#108626" stroke="#108626" stroke-width="0.6"/><path d="M366.1 150.9L368.5 149.8L366.7 148.4L364.3 149.5Z" fill="#119023" stroke="#119023" stroke-width="0.6"/><path d="M364.3 149.5L366.7 148.4L364.8 147L362.4 148.2Z" fill="#119023" stroke="#119023" stroke-width="0.6"/><path d="M444.2 206.2L446.7 204.9L444.6 203.3L442.1 204.6Z" fill="#0c6e30" stroke="#0c6e30" stroke-width="0.6"/><path d="M442.1 204.6L444.6 203.3L442.4 201.7L440 203Z" fill="#0a6238" stroke="#0a6238" stroke-width="0.6"/><path d="M440 203L442.4 201.7L440.3 200.1L437.9 201.4Z" fill="#0a6238" stroke="#0a6238" stroke-width="0.6"/><path d="M437.9 201.4L440.3 200.1L438.2 198.6L435.8 199.9Z" fill="#0a6238" stroke="#0a6238" stroke-width="0.6"/><path d="M435.8 199.9L438.2 198.6L436.1 197L433.7 198.3Z" fill="#0a6238" stroke="#0a6238" stroke-width="0.6"/><path d="M433.7 198.3L436.1 197L434 195.4L431.6 196.7Z" fill="#0a6238" stroke="#0a6238" stroke-width="0.6"/><path d="M431.6 196.7L434 195.4L431.9 193.9L429.5 195.2Z" fill="#0a6238" stroke="#0a6238" stroke-width="0.6"/><path d="M429.5 195.2L431.9 193.9L429.9 192.4L427.4 193.6Z" fill="#0a6238" stroke="#0a6238" stroke-width="0.6"/><path d="M427.4 193.6L429.9 192.4L427.8 190.8L425.3 192.1Z" fill="#0a6238" stroke="#0a6238" stroke-width="0.6"/><path d="M425.3 192.1L427.8 190.8L425.7 189.3L423.3 190.6Z" fill="#0a6238" stroke="#0a6238" stroke-width="0.6"/><path d="M423.3 190.6L425.7 189.3L423.7 187.8L421.2 189Z" fill="#0a6238" stroke="#0a6238" stroke-width="0.6"/><path d="M421.2 189L423.7 187.8L421.6 186.3L419.2 187.5Z" fill="#0a6238" stroke="#0a6238" stroke-width="0.6"/><path d="M419.2 187.5L421.6 186.3L419.6 184.7L417.1 186Z" fill="#0a6238" stroke="#0a6238" stroke-width="0.6"/><path d="M417.1 186L419.6 184.7L417.5 183.2L415.1 184.5Z" fill="#0a6238" stroke="#0a6238" stroke-width="0.6"/><path d="M415.1 184.5L417.5 183.2L415.5 181.7L413.1 183Z" fill="#0a6238" stroke="#0a6238" stroke-width="0.6"/><path d="M413.1 183L415.5 181.7L413.5 180.2L411.1 181.5Z" fill="#0a6238" stroke="#0a6238" stroke-width="0.6"/><path d="M411.1 181.5L413.5 180.2L411.5 178.7L409.1 180Z" fill="#0a6238" stroke="#0a6238" stroke-width="0.6"/><path d="M409.1 180L411.5 178.7L409.5 177.3L407.1 178.5Z" fill="#0a6238" stroke="#0a6238" stroke-width="0.6"/><path d="M407.1 178.5L409.5 177.3L407.5 175.8L405.1 177Z" fill="#0a6238" stroke="#0a6238" stroke-width="0.6"/><path d="M405.1 177L407.5 175.8L405.5 174.3L403.1 175.5Z" fill="#0a6238" stroke="#0a6238" stroke-width="0.6"/><path d="M403.1 175.5L405.5 174.3L403.5 172.8L401.1 174Z" fill="#0a6238" stroke="#0a6238" stroke-width="0.6"/><path d="M401.1 174L403.5 172.8L401.5 171.4L399.1 172.6Z" fill="#0a6238" stroke="#0a6238" stroke-width="0.6"/><path d="M399.1 172.6L401.5 171.4L399.6 169.9L397.2 171.1Z" fill="#0a6238" stroke="#0a6238" stroke-width="0.6"/><path d="M397.2 171.1L399.6 169.9L397.6 168.5L395.2 169.7Z" fill="#0c6e30" stroke="#0c6e30" stroke-width="0.6"/><path d="M395.2 169.7L397.6 168.5L395.7 167L393.3 168.2Z" fill="#0c6e30" stroke="#0c6e30" stroke-width="0.6"/><path d="M393.3 168.2L395.7 167L393.7 165.6L391.3 166.8Z" fill="#0c6e30" stroke="#0c6e30" stroke-width="0.6"/><path d="M391.3 166.8L393.7 165.6L391.8 164.1L389.4 165.3Z" fill="#0c6e30" stroke="#0c6e30" stroke-width="0.6"/><path d="M389.4 165.3L391.8 164.1L389.9 162.7L387.4 163.9Z" fill="#0d762c" stroke="#0d762c" stroke-width="0.6"/><path d="M387.4 163.9L389.9 162.7L387.9 161.3L385.5 162.4Z" fill="#0d762c" stroke="#0d762c" stroke-width="0.6"/><path d="M385.5 162.4L387.9 161.3L386 159.8L383.6 161Z" fill="#0d762c" stroke="#0d762c" stroke-width="0.6"/><path d="M383.6 161L386 159.8L384.1 158.4L381.7 159.6Z" fill="#0d762c" stroke="#0d762c" stroke-width="0.6"/><path d="M381.7 159.6L384.1 158.4L382.2 157L379.8 158.2Z" fill="#0e7e28" stroke="#0e7e28" stroke-width="0.6"/><path d="M379.8 158.2L382.2 157L380.3 155.6L377.9 156.8Z" fill="#0e7e28" stroke="#0e7e28" stroke-width="0.6"/><path d="M377.9 156.8L380.3 155.6L378.4 154.2L376 155.4Z" fill="#0e7e28" stroke="#0e7e28" stroke-width="0.6"/><path d="M376 155.4L378.4 154.2L376.5 152.8L374.1 154Z" fill="#108626" stroke="#108626" stroke-width="0.6"/><path d="M374.1 154L376.5 152.8L374.6 151.4L372.2 152.6Z" fill="#108626" stroke="#108626" stroke-width="0.6"/><path d="M372.2 152.6L374.6 151.4L372.8 150L370.4 151.2Z" fill="#108626" stroke="#108626" stroke-width="0.6"/><path d="M370.4 151.2L372.8 150L370.9 148.6L368.5 149.8Z" fill="#119023" stroke="#119023" stroke-width="0.6"/><path d="M368.5 149.8L370.9 148.6L369.1 147.3L366.7 148.4Z" fill="#119023" stroke="#119023" stroke-width="0.6"/><path d="M366.7 148.4L369.1 147.3L367.2 145.9L364.8 147Z" fill="#139a21" stroke="#139a21" stroke-width="0.6"/><path d="M446.7 204.9L449.1 203.5L447 202L444.6 203.3Z" fill="#0a6238" stroke="#0a6238" stroke-width="0.6"/><path d="M444.6 203.3L447 202L444.9 200.4L442.4 201.7Z" fill="#0a6238" stroke="#0a6238" stroke-width="0.6"/><path d="M442.4 201.7L444.9 200.4L442.7 198.8L440.3 200.1Z" fill="#0a6238" stroke="#0a6238" stroke-width="0.6"/><path d="M440.3 200.1L442.7 198.8L440.6 197.3L438.2 198.6Z" fill="#0a6238" stroke="#0a6238" stroke-width="0.6"/><path d="M438.2 198.6L440.6 197.3L438.5 195.7L436.1 197Z" fill="#0a6238" stroke="#0a6238" stroke-width="0.6"/><path d="M436.1 197L438.5 195.7L436.4 194.2L434 195.4Z" fill="#0a6238" stroke="#0a6238" stroke-width="0.6"/><path d="M434 195.4L436.4 194.2L434.4 192.6L431.9 193.9Z" fill="#0a6238" stroke="#0a6238" stroke-width="0.6"/><path d="M431.9 193.9L434.4 192.6L432.3 191.1L429.9 192.4Z" fill="#0a6238" stroke="#0a6238" stroke-width="0.6"/><path d="M429.9 192.4L432.3 191.1L430.2 189.6L427.8 190.8Z" fill="#0a6238" stroke="#0a6238" stroke-width="0.6"/><path d="M427.8 190.8L430.2 189.6L428.1 188L425.7 189.3Z" fill="#0a6238" stroke="#0a6238" stroke-width="0.6"/><path d="M425.7 189.3L428.1 188L426.1 186.5L423.7 187.8Z" fill="#0a6238" stroke="#0a6238" stroke-width="0.6"/><path d="M423.7 187.8L426.1 186.5L424 185L421.6 186.3Z" fill="#0a6238" stroke="#0a6238" stroke-width="0.6"/><path d="M421.6 186.3L424 185L422 183.5L419.6 184.7Z" fill="#0a6238" stroke="#0a6238" stroke-width="0.6"/><path d="M419.6 184.7L422 183.5L420 182L417.5 183.2Z" fill="#0a6238" stroke="#0a6238" stroke-width="0.6"/><path d="M417.5 183.2L420 182L417.9 180.5L415.5 181.7Z" fill="#0a6238" stroke="#0a6238" stroke-width="0.6"/><path d="M415.5 181.7L417.9 180.5L415.9 179L413.5 180.2Z" fill="#0a6238" stroke="#0a6238" stroke-width="0.6"/><path d="M413.5 180.2L415.9 179L413.9 177.5L411.5 178.7Z" fill="#0a6238" stroke="#0a6238" stroke-width="0.6"/><path d="M411.5 178.7L413.9 177.5L411.9 176L409.5 177.3Z" fill="#0a6238" stroke="#0a6238" stroke-width="0.6"/><path d="M409.5 177.3L411.9 176L409.9 174.6L407.5 175.8Z" fill="#0a6238" stroke="#0a6238" stroke-width="0.6"/><path d="M407.5 175.8L409.9 174.6L407.9 173.1L405.5 174.3Z" fill="#0a6238" stroke="#0a6238" stroke-width="0.6"/><path d="M405.5 174.3L407.9 173.1L405.9 171.6L403.5 172.8Z" fill="#0a6238" stroke="#0a6238" stroke-width="0.6"/><path d="M403.5 172.8L405.9 171.6L404 170.2L401.5 171.4Z" fill="#0a6238" stroke="#0a6238" stroke-width="0.6"/><path d="M401.5 171.4L404 170.2L402 168.7L399.6 169.9Z" fill="#0c6e30" stroke="#0c6e30" stroke-width="0.6"/><path d="M399.6 169.9L402 168.7L400 167.3L397.6 168.5Z" fill="#0c6e30" stroke="#0c6e30" stroke-width="0.6"/><path d="M397.6 168.5L400 167.3L398.1 165.8L395.7 167Z" fill="#0c6e30" stroke="#0c6e30" stroke-width="0.6"/><path d="M395.7 167L398.1 165.8L396.1 164.4L393.7 165.6Z" fill="#0c6e30" stroke="#0c6e30" stroke-width="0.6"/><path d="M393.7 165.6L396.1 164.4L394.2 162.9L391.8 164.1Z" fill="#0d762c" stroke="#0d762c" stroke-width="0.6"/><path d="M391.8 164.1L394.2 162.9L392.3 161.5L389.9 162.7Z" fill="#0d762c" stroke="#0d762c" stroke-width="0.6"/><path d="M389.9 162.7L392.3 161.5L390.3 160.1L387.9 161.3Z" fill="#0d762c" stroke="#0d762c" stroke-width="0.6"/><path d="M387.9 161.3L390.3 160.1L388.4 158.7L386 159.8Z" fill="#0d762c" stroke="#0d762c" stroke-width="0.6"/><path d="M386 159.8L388.4 158.7L386.5 157.3L384.1 158.4Z" fill="#0e7e28" stroke="#0e7e28" stroke-width="0.6"/><path d="M384.1 158.4L386.5 157.3L384.6 155.9L382.2 157Z" fill="#0e7e28" stroke="#0e7e28" stroke-width="0.6"/><path d="M382.2 157L384.6 155.9L382.7 154.5L380.3 155.6Z" fill="#0e7e28" stroke="#0e7e28" stroke-width="0.6"/><path d="M380.3 155.6L382.7 154.5L380.8 153.1L378.4 154.2Z" fill="#108626" stroke="#108626" stroke-width="0.6"/><path d="M378.4 154.2L380.8 153.1L378.9 151.7L376.5 152.8Z" fill="#108626" stroke="#108626" stroke-width="0.6"/><path d="M376.5 152.8L378.9 151.7L377 150.3L374.6 151.4Z" fill="#119023" stroke="#119023" stroke-width="0.6"/><path d="M374.6 151.4L377 150.3L375.2 148.9L372.8 150Z" fill="#119023" stroke="#119023" stroke-width="0.6"/><path d="M372.8 150L375.2 148.9L373.3 147.5L370.9 148.6Z" fill="#119023" stroke="#119023" stroke-width="0.6"/><path d="M370.9 148.6L373.3 147.5L371.4 146.1L369.1 147.3Z" fill="#139a21" stroke="#139a21" stroke-width="0.6"/><path d="M369.1 147.3L371.4 146.1L369.6 144.8L367.2 145.9Z" fill="#139a21" stroke="#139a21" stroke-width="0.6"/><path d="M449.1 203.5L451.6 202.2L449.4 200.7L447 202Z" fill="#0a6238" stroke="#0a6238" stroke-width="0.6"/><path d="M447 202L449.4 200.7L447.3 199.1L444.9 200.4Z" fill="#0a6238" stroke="#0a6238" stroke-width="0.6"/><path d="M444.9 200.4L447.3 199.1L445.2 197.5L442.7 198.8Z" fill="#0a6238" stroke="#0a6238" stroke-width="0.6"/><path d="M442.7 198.8L445.2 197.5L443.1 196L440.6 197.3Z" fill="#0a6238" stroke="#0a6238" stroke-width="0.6"/><path d="M440.6 197.3L443.1 196L441 194.4L438.5 195.7Z" fill="#0a6238" stroke="#0a6238" stroke-width="0.6"/><path d="M438.5 195.7L441 194.4L438.9 192.9L436.4 194.2Z" fill="#0a6238" stroke="#0a6238" stroke-width="0.6"/><path d="M436.4 194.2L438.9 192.9L436.8 191.4L434.4 192.6Z" fill="#0a6238" stroke="#0a6238" stroke-width="0.6"/><path d="M434.4 192.6L436.8 191.4L434.7 189.8L432.3 191.1Z" fill="#0a5240" stroke="#0a5240" stroke-width="0.6"/><path d="M432.3 191.1L434.7 189.8L432.6 188.3L430.2 189.6Z" fill="#0a5240" stroke="#0a5240" stroke-width="0.6"/><path d="M430.2 189.6L432.6 188.3L430.6 186.8L428.1 188Z" fill="#0a5240" stroke="#0a5240" stroke-width="0.6"/><path d="M428.1 188L430.6 186.8L428.5 185.3L426.1 186.5Z" fill="#0a5240" stroke="#0a5240" stroke-width="0.6"/><path d="M426.1 186.5L428.5 185.3L426.5 183.8L424 185Z" fill="#0a6238" stroke="#0a6238" stroke-width="0.6"/><path d="M424 185L426.5 183.8L424.4 182.3L422 183.5Z" fill="#0a6238" stroke="#0a6238" stroke-width="0.6"/><path d="M422 183.5L424.4 182.3L422.4 180.8L420 182Z" fill="#0a6238" stroke="#0a6238" stroke-width="0.6"/><path d="M420 182L422.4 180.8L420.3 179.3L417.9 180.5Z" fill="#0a6238" stroke="#0a6238" stroke-width="0.6"/><path d="M417.9 180.5L420.3 179.3L418.3 177.8L415.9 179Z" fill="#0a6238" stroke="#0a6238" stroke-width="0.6"/><path d="M415.9 179L418.3 177.8L416.3 176.3L413.9 177.5Z" fill="#0a6238" stroke="#0a6238" stroke-width="0.6"/><path d="M413.9 177.5L416.3 176.3L414.3 174.8L411.9 176Z" fill="#0a6238" stroke="#0a6238" stroke-width="0.6"/><path d="M411.9 176L414.3 174.8L412.3 173.3L409.9 174.6Z" fill="#0a6238" stroke="#0a6238" stroke-width="0.6"/><path d="M409.9 174.6L412.3 173.3L410.3 171.9L407.9 173.1Z" fill="#0a6238" stroke="#0a6238" stroke-width="0.6"/><path d="M407.9 173.1L410.3 171.9L408.3 170.4L405.9 171.6Z" fill="#0c6e30" stroke="#0c6e30" stroke-width="0.6"/><path d="M405.9 171.6L408.3 170.4L406.4 169L404 170.2Z" fill="#0c6e30" stroke="#0c6e30" stroke-width="0.6"/><path d="M404 170.2L406.4 169L404.4 167.5L402 168.7Z" fill="#0c6e30" stroke="#0c6e30" stroke-width="0.6"/><path d="M402 168.7L404.4 167.5L402.4 166.1L400 167.3Z" fill="#0c6e30" stroke="#0c6e30" stroke-width="0.6"/><path d="M400 167.3L402.4 166.1L400.5 164.6L398.1 165.8Z" fill="#0c6e30" stroke="#0c6e30" stroke-width="0.6"/><path d="M398.1 165.8L400.5 164.6L398.5 163.2L396.1 164.4Z" fill="#0d762c" stroke="#0d762c" stroke-width="0.6"/><path d="M396.1 164.4L398.5 163.2L396.6 161.8L394.2 162.9Z" fill="#0d762c" stroke="#0d762c" stroke-width="0.6"/><path d="M394.2 162.9L396.6 161.8L394.7 160.3L392.3 161.5Z" fill="#0d762c" stroke="#0d762c" stroke-width="0.6"/><path d="M392.3 161.5L394.7 160.3L392.7 158.9L390.3 160.1Z" fill="#0e7e28" stroke="#0e7e28" stroke-width="0.6"/><path d="M390.3 160.1L392.7 158.9L390.8 157.5L388.4 158.7Z" fill="#0e7e28" stroke="#0e7e28" stroke-width="0.6"/><path d="M388.4 158.7L390.8 157.5L388.9 156.1L386.5 157.3Z" fill="#0e7e28" stroke="#0e7e28" stroke-width="0.6"/><path d="M386.5 157.3L388.9 156.1L387 154.7L384.6 155.9Z" fill="#108626" stroke="#108626" stroke-width="0.6"/><path d="M384.6 155.9L387 154.7L385.1 153.3L382.7 154.5Z" fill="#108626" stroke="#108626" stroke-width="0.6"/><path d="M382.7 154.5L385.1 153.3L383.2 151.9L380.8 153.1Z" fill="#108626" stroke="#108626" stroke-width="0.6"/><path d="M380.8 153.1L383.2 151.9L381.3 150.5L378.9 151.7Z" fill="#119023" stroke="#119023" stroke-width="0.6"/><path d="M378.9 151.7L381.3 150.5L379.4 149.1L377 150.3Z" fill="#119023" stroke="#119023" stroke-width="0.6"/><path d="M377 150.3L379.4 149.1L377.5 147.8L375.2 148.9Z" fill="#139a21" stroke="#139a21" stroke-width="0.6"/><path d="M375.2 148.9L377.5 147.8L375.7 146.4L373.3 147.5Z" fill="#139a21" stroke="#139a21" stroke-width="0.6"/><path d="M373.3 147.5L375.7 146.4L373.8 145L371.4 146.1Z" fill="#17a820" stroke="#17a820" stroke-width="0.6"/><path d="M371.4 146.1L373.8 145L372 143.6L369.6 144.8Z" fill="#17a820" stroke="#17a820" stroke-width="0.6"/><path d="M451.6 202.2L454 200.9L451.8 199.4L449.4 200.7Z" fill="#0a6238" stroke="#0a6238" stroke-width="0.6"/><path d="M449.4 200.7L451.8 199.4L449.7 197.8L447.3 199.1Z" fill="#0a6238" stroke="#0a6238" stroke-width="0.6"/><path d="M447.3 199.1L449.7 197.8L447.6 196.3L445.2 197.5Z" fill="#0a6238" stroke="#0a6238" stroke-width="0.6"/><path d="M445.2 197.5L447.6 196.3L445.5 194.7L443.1 196Z" fill="#0a6238" stroke="#0a6238" stroke-width="0.6"/><path d="M443.1 196L445.5 194.7L443.4 193.2L441 194.4Z" fill="#0a6238" stroke="#0a6238" stroke-width="0.6"/><path d="M441 194.4L443.4 193.2L441.3 191.6L438.9 192.9Z" fill="#0a5240" stroke="#0a5240" stroke-width="0.6"/><path d="M438.9 192.9L441.3 191.6L439.2 190.1L436.8 191.4Z" fill="#0a5240" stroke="#0a5240" stroke-width="0.6"/><path d="M436.8 191.4L439.2 190.1L437.1 188.6L434.7 189.8Z" fill="#0a5240" stroke="#0a5240" stroke-width="0.6"/><path d="M434.7 189.8L437.1 188.6L435 187L432.6 188.3Z" fill="#0a5240" stroke="#0a5240" stroke-width="0.6"/><path d="M432.6 188.3L435 187L433 185.5L430.6 186.8Z" fill="#0a5240" stroke="#0a5240" stroke-width="0.6"/><path d="M430.6 186.8L433 185.5L430.9 184L428.5 185.3Z" fill="#0a5240" stroke="#0a5240" stroke-width="0.6"/><path d="M428.5 185.3L430.9 184L428.9 182.5L426.5 183.8Z" fill="#0a6238" stroke="#0a6238" stroke-width="0.6"/><path d="M426.5 183.8L428.9 182.5L426.8 181L424.4 182.3Z" fill="#0a6238" stroke="#0a6238" stroke-width="0.6"/><path d="M424.4 182.3L426.8 181L424.8 179.5L422.4 180.8Z" fill="#0a6238" stroke="#0a6238" stroke-width="0.6"/><path d="M422.4 180.8L424.8 179.5L422.8 178L420.3 179.3Z" fill="#0a6238" stroke="#0a6238" stroke-width="0.6"/><path d="M420.3 179.3L422.8 178L420.7 176.6L418.3 177.8Z" fill="#0a6238" stroke="#0a6238" stroke-width="0.6"/><path d="M418.3 177.8L420.7 176.6L418.7 175.1L416.3 176.3Z" fill="#0a6238" stroke="#0a6238" stroke-width="0.6"/><path d="M416.3 176.3L418.7 175.1L416.7 173.6L414.3 174.8Z" fill="#0a6238" stroke="#0a6238" stroke-width="0.6"/><path d="M414.3 174.8L416.7 173.6L414.7 172.1L412.3 173.3Z" fill="#0a6238" stroke="#0a6238" stroke-width="0.6"/><path d="M412.3 173.3L414.7 172.1L412.7 170.7L410.3 171.9Z" fill="#0c6e30" stroke="#0c6e30" stroke-width="0.6"/><path d="M410.3 171.9L412.7 170.7L410.7 169.2L408.3 170.4Z" fill="#0c6e30" stroke="#0c6e30" stroke-width="0.6"/><path d="M408.3 170.4L410.7 169.2L408.8 167.8L406.4 169Z" fill="#0c6e30" stroke="#0c6e30" stroke-width="0.6"/><path d="M406.4 169L408.8 167.8L406.8 166.3L404.4 167.5Z" fill="#0c6e30" stroke="#0c6e30" stroke-width="0.6"/><path d="M404.4 167.5L406.8 166.3L404.8 164.9L402.4 166.1Z" fill="#0c6e30" stroke="#0c6e30" stroke-width="0.6"/><path d="M402.4 166.1L404.8 164.9L402.9 163.4L400.5 164.6Z" fill="#0d762c" stroke="#0d762c" stroke-width="0.6"/><path d="M400.5 164.6L402.9 163.4L400.9 162L398.5 163.2Z" fill="#0d762c" stroke="#0d762c" stroke-width="0.6"/><path d="M398.5 163.2L400.9 162L399 160.6L396.6 161.8Z" fill="#0d762c" stroke="#0d762c" stroke-width="0.6"/><path d="M396.6 161.8L399 160.6L397 159.2L394.7 160.3Z" fill="#0e7e28" stroke="#0e7e28" stroke-width="0.6"/><path d="M394.7 160.3L397 159.2L395.1 157.8L392.7 158.9Z" fill="#0e7e28" stroke="#0e7e28" stroke-width="0.6"/><path d="M392.7 158.9L395.1 157.8L393.2 156.3L390.8 157.5Z" fill="#0e7e28" stroke="#0e7e28" stroke-width="0.6"/><path d="M390.8 157.5L393.2 156.3L391.3 154.9L388.9 156.1Z" fill="#108626" stroke="#108626" stroke-width="0.6"/><path d="M388.9 156.1L391.3 154.9L389.4 153.5L387 154.7Z" fill="#108626" stroke="#108626" stroke-width="0.6"/><path d="M387 154.7L389.4 153.5L387.5 152.1L385.1 153.3Z" fill="#108626" stroke="#108626" stroke-width="0.6"/><path d="M385.1 153.3L387.5 152.1L385.6 150.8L383.2 151.9Z" fill="#119023" stroke="#119023" stroke-width="0.6"/><path d="M383.2 151.9L385.6 150.8L383.7 149.4L381.3 150.5Z" fill="#119023" stroke="#119023" stroke-width="0.6"/><path d="M381.3 150.5L383.7 149.4L381.8 148L379.4 149.1Z" fill="#139a21" stroke="#139a21" stroke-width="0.6"/><path d="M379.4 149.1L381.8 148L379.9 146.6L377.5 147.8Z" fill="#139a21" stroke="#139a21" stroke-width="0.6"/><path d="M377.5 147.8L379.9 146.6L378.1 145.2L375.7 146.4Z" fill="#17a820" stroke="#17a820" stroke-width="0.6"/><path d="M375.7 146.4L378.1 145.2L376.2 143.9L373.8 145Z" fill="#17a820" stroke="#17a820" stroke-width="0.6"/><path d="M373.8 145L376.2 143.9L374.3 142.5L372 143.6Z" fill="#1db820" stroke="#1db820" stroke-width="0.6"/><path d="M454 200.9L456.4 199.6L454.3 198.1L451.8 199.4Z" fill="#0a6238" stroke="#0a6238" stroke-width="0.6"/><path d="M451.8 199.4L454.3 198.1L452.1 196.5L449.7 197.8Z" fill="#0a6238" stroke="#0a6238" stroke-width="0.6"/><path d="M449.7 197.8L452.1 196.5L450 195L447.6 196.3Z" fill="#0a5240" stroke="#0a5240" stroke-width="0.6"/><path d="M447.6 196.3L450 195L447.9 193.4L445.5 194.7Z" fill="#0a5240" stroke="#0a5240" stroke-width="0.6"/><path d="M445.5 194.7L447.9 193.4L445.8 191.9L443.4 193.2Z" fill="#0a5240" stroke="#0a5240" stroke-width="0.6"/><path d="M443.4 193.2L445.8 191.9L443.7 190.4L441.3 191.6Z" fill="#0a5240" stroke="#0a5240" stroke-width="0.6"/><path d="M441.3 191.6L443.7 190.4L441.6 188.8L439.2 190.1Z" fill="#0a5240" stroke="#0a5240" stroke-width="0.6"/><path d="M439.2 190.1L441.6 188.8L439.5 187.3L437.1 188.6Z" fill="#0a5240" stroke="#0a5240" stroke-width="0.6"/><path d="M437.1 188.6L439.5 187.3L437.4 185.8L435 187Z" fill="#0a5240" stroke="#0a5240" stroke-width="0.6"/><path d="M435 187L437.4 185.8L435.4 184.3L433 185.5Z" fill="#0a5240" stroke="#0a5240" stroke-width="0.6"/><path d="M433 185.5L435.4 184.3L433.3 182.8L430.9 184Z" fill="#0a6238" stroke="#0a6238" stroke-width="0.6"/><path d="M430.9 184L433.3 182.8L431.3 181.3L428.9 182.5Z" fill="#0a6238" stroke="#0a6238" stroke-width="0.6"/><path d="M428.9 182.5L431.3 181.3L429.2 179.8L426.8 181Z" fill="#0a6238" stroke="#0a6238" stroke-width="0.6"/><path d="M426.8 181L429.2 179.8L427.2 178.3L424.8 179.5Z" fill="#0a6238" stroke="#0a6238" stroke-width="0.6"/><path d="M424.8 179.5L427.2 178.3L425.1 176.8L422.8 178Z" fill="#0a6238" stroke="#0a6238" stroke-width="0.6"/><path d="M422.8 178L425.1 176.8L423.1 175.3L420.7 176.6Z" fill="#0a6238" stroke="#0a6238" stroke-width="0.6"/><path d="M420.7 176.6L423.1 175.3L421.1 173.9L418.7 175.1Z" fill="#0a6238" stroke="#0a6238" stroke-width="0.6"/><path d="M418.7 175.1L421.1 173.9L419.1 172.4L416.7 173.6Z" fill="#0a6238" stroke="#0a6238" stroke-width="0.6"/><path d="M416.7 173.6L419.1 172.4L417.1 170.9L414.7 172.1Z" fill="#0c6e30" stroke="#0c6e30" stroke-width="0.6"/><path d="M414.7 172.1L417.1 170.9L415.1 169.5L412.7 170.7Z" fill="#0c6e30" stroke="#0c6e30" stroke-width="0.6"/><path d="M412.7 170.7L415.1 169.5L413.1 168L410.7 169.2Z" fill="#0c6e30" stroke="#0c6e30" stroke-width="0.6"/><path d="M410.7 169.2L413.1 168L411.1 166.6L408.8 167.8Z" fill="#0c6e30" stroke="#0c6e30" stroke-width="0.6"/><path d="M408.8 167.8L411.1 166.6L409.2 165.1L406.8 166.3Z" fill="#0d762c" stroke="#0d762c" stroke-width="0.6"/><path d="M406.8 166.3L409.2 165.1L407.2 163.7L404.8 164.9Z" fill="#0d762c" stroke="#0d762c" stroke-width="0.6"/><path d="M404.8 164.9L407.2 163.7L405.3 162.3L402.9 163.4Z" fill="#0d762c" stroke="#0d762c" stroke-width="0.6"/><path d="M402.9 163.4L405.3 162.3L403.3 160.8L400.9 162Z" fill="#0d762c" stroke="#0d762c" stroke-width="0.6"/><path d="M400.9 162L403.3 160.8L401.4 159.4L399 160.6Z" fill="#0e7e28" stroke="#0e7e28" stroke-width="0.6"/><path d="M399 160.6L401.4 159.4L399.4 158L397 159.2Z" fill="#0e7e28" stroke="#0e7e28" stroke-width="0.6"/><path d="M397 159.2L399.4 158L397.5 156.6L395.1 157.8Z" fill="#0e7e28" stroke="#0e7e28" stroke-width="0.6"/><path d="M395.1 157.8L397.5 156.6L395.6 155.2L393.2 156.3Z" fill="#108626" stroke="#108626" stroke-width="0.6"/><path d="M393.2 156.3L395.6 155.2L393.7 153.8L391.3 154.9Z" fill="#108626" stroke="#108626" stroke-width="0.6"/><path d="M391.3 154.9L393.7 153.8L391.7 152.4L389.4 153.5Z" fill="#119023" stroke="#119023" stroke-width="0.6"/><path d="M389.4 153.5L391.7 152.4L389.8 151L387.5 152.1Z" fill="#119023" stroke="#119023" stroke-width="0.6"/><path d="M387.5 152.1L389.8 151L387.9 149.6L385.6 150.8Z" fill="#119023" stroke="#119023" stroke-width="0.6"/><path d="M385.6 150.8L387.9 149.6L386.1 148.2L383.7 149.4Z" fill="#139a21" stroke="#139a21" stroke-width="0.6"/><path d="M383.7 149.4L386.1 148.2L384.2 146.9L381.8 148Z" fill="#139a21" stroke="#139a21" stroke-width="0.6"/><path d="M381.8 148L384.2 146.9L382.3 145.5L379.9 146.6Z" fill="#17a820" stroke="#17a820" stroke-width="0.6"/><path d="M379.9 146.6L382.3 145.5L380.4 144.1L378.1 145.2Z" fill="#17a820" stroke="#17a820" stroke-width="0.6"/><path d="M378.1 145.2L380.4 144.1L378.6 142.8L376.2 143.9Z" fill="#1db820" stroke="#1db820" stroke-width="0.6"/><path d="M376.2 143.9L378.6 142.8L376.7 141.4L374.3 142.5Z" fill="#1db820" stroke="#1db820" stroke-width="0.6"/><path d="M456.4 199.6L458.8 198.4L456.7 196.8L454.3 198.1Z" fill="#0a5240" stroke="#0a5240" stroke-width="0.6"/><path d="M454.3 198.1L456.7 196.8L454.5 195.2L452.1 196.5Z" fill="#0a5240" stroke="#0a5240" stroke-width="0.6"/><path d="M452.1 196.5L454.5 195.2L452.4 193.7L450 195Z" fill="#0a5240" stroke="#0a5240" stroke-width="0.6"/><path d="M450 195L452.4 193.7L450.3 192.2L447.9 193.4Z" fill="#0a5240" stroke="#0a5240" stroke-width="0.6"/><path d="M447.9 193.4L450.3 192.2L448.2 190.6L445.8 191.9Z" fill="#0a5240" stroke="#0a5240" stroke-width="0.6"/><path d="M445.8 191.9L448.2 190.6L446.1 189.1L443.7 190.4Z" fill="#0a5240" stroke="#0a5240" stroke-width="0.6"/><path d="M443.7 190.4L446.1 189.1L444 187.6L441.6 188.8Z" fill="#0a5240" stroke="#0a5240" stroke-width="0.6"/><path d="M441.6 188.8L444 187.6L441.9 186.1L439.5 187.3Z" fill="#0a5240" stroke="#0a5240" stroke-width="0.6"/><path d="M439.5 187.3L441.9 186.1L439.8 184.5L437.4 185.8Z" fill="#0a5240" stroke="#0a5240" stroke-width="0.6"/><path d="M437.4 185.8L439.8 184.5L437.8 183L435.4 184.3Z" fill="#0a6238" stroke="#0a6238" stroke-width="0.6"/><path d="M435.4 184.3L437.8 183L435.7 181.5L433.3 182.8Z" fill="#0a6238" stroke="#0a6238" stroke-width="0.6"/><path d="M433.3 182.8L435.7 181.5L433.7 180L431.3 181.3Z" fill="#0a6238" stroke="#0a6238" stroke-width="0.6"/><path d="M431.3 181.3L433.7 180L431.6 178.6L429.2 179.8Z" fill="#0a6238" stroke="#0a6238" stroke-width="0.6"/><path d="M429.2 179.8L431.6 178.6L429.6 177.1L427.2 178.3Z" fill="#0a6238" stroke="#0a6238" stroke-width="0.6"/><path d="M427.2 178.3L429.6 177.1L427.5 175.6L425.1 176.8Z" fill="#0a6238" stroke="#0a6238" stroke-width="0.6"/><path d="M425.1 176.8L427.5 175.6L425.5 174.1L423.1 175.3Z" fill="#0a6238" stroke="#0a6238" stroke-width="0.6"/><path d="M423.1 175.3L425.5 174.1L423.5 172.6L421.1 173.9Z" fill="#0a6238" stroke="#0a6238" stroke-width="0.6"/><path d="M421.1 173.9L423.5 172.6L421.5 171.2L419.1 172.4Z" fill="#0c6e30" stroke="#0c6e30" stroke-width="0.6"/><path d="M419.1 172.4L421.5 171.2L419.5 169.7L417.1 170.9Z" fill="#0c6e30" stroke="#0c6e30" stroke-width="0.6"/><path d="M417.1 170.9L419.5 169.7L417.5 168.3L415.1 169.5Z" fill="#0c6e30" stroke="#0c6e30" stroke-width="0.6"/><path d="M415.1 169.5L417.5 168.3L415.5 166.8L413.1 168Z" fill="#0c6e30" stroke="#0c6e30" stroke-width="0.6"/><path d="M413.1 168L415.5 166.8L413.5 165.4L411.1 166.6Z" fill="#0d762c" stroke="#0d762c" stroke-width="0.6"/><path d="M411.1 166.6L413.5 165.4L411.6 164L409.2 165.1Z" fill="#0d762c" stroke="#0d762c" stroke-width="0.6"/><path d="M409.2 165.1L411.6 164L409.6 162.5L407.2 163.7Z" fill="#0d762c" stroke="#0d762c" stroke-width="0.6"/><path d="M407.2 163.7L409.6 162.5L407.6 161.1L405.3 162.3Z" fill="#0e7e28" stroke="#0e7e28" stroke-width="0.6"/><path d="M405.3 162.3L407.6 161.1L405.7 159.7L403.3 160.8Z" fill="#0e7e28" stroke="#0e7e28" stroke-width="0.6"/><path d="M403.3 160.8L405.7 159.7L403.7 158.3L401.4 159.4Z" fill="#0e7e28" stroke="#0e7e28" stroke-width="0.6"/><path d="M401.4 159.4L403.7 158.3L401.8 156.8L399.4 158Z" fill="#108626" stroke="#108626" stroke-width="0.6"/><path d="M399.4 158L401.8 156.8L399.9 155.4L397.5 156.6Z" fill="#108626" stroke="#108626" stroke-width="0.6"/><path d="M397.5 156.6L399.9 155.4L397.9 154L395.6 155.2Z" fill="#108626" stroke="#108626" stroke-width="0.6"/><path d="M395.6 155.2L397.9 154L396 152.6L393.7 153.8Z" fill="#119023" stroke="#119023" stroke-width="0.6"/><path d="M393.7 153.8L396 152.6L394.1 151.2L391.7 152.4Z" fill="#119023" stroke="#119023" stroke-width="0.6"/><path d="M391.7 152.4L394.1 151.2L392.2 149.9L389.8 151Z" fill="#139a21" stroke="#139a21" stroke-width="0.6"/><path d="M389.8 151L392.2 149.9L390.3 148.5L387.9 149.6Z" fill="#139a21" stroke="#139a21" stroke-width="0.6"/><path d="M387.9 149.6L390.3 148.5L388.4 147.1L386.1 148.2Z" fill="#17a820" stroke="#17a820" stroke-width="0.6"/><path d="M386.1 148.2L388.4 147.1L386.5 145.7L384.2 146.9Z" fill="#17a820" stroke="#17a820" stroke-width="0.6"/><path d="M384.2 146.9L386.5 145.7L384.7 144.4L382.3 145.5Z" fill="#1db820" stroke="#1db820" stroke-width="0.6"/><path d="M382.3 145.5L384.7 144.4L382.8 143L380.4 144.1Z" fill="#1db820" stroke="#1db820" stroke-width="0.6"/><path d="M380.4 144.1L382.8 143L380.9 141.6L378.6 142.8Z" fill="#24c720" stroke="#24c720" stroke-width="0.6"/><path d="M378.6 142.8L380.9 141.6L379.1 140.3L376.7 141.4Z" fill="#24c720" stroke="#24c720" stroke-width="0.6"/><path d="M458.8 198.4L461.2 197.1L459.1 195.5L456.7 196.8Z" fill="#0a5240" stroke="#0a5240" stroke-width="0.6"/><path d="M456.7 196.8L459.1 195.5L456.9 194L454.5 195.2Z" fill="#0a5240" stroke="#0a5240" stroke-width="0.6"/><path d="M454.5 195.2L456.9 194L454.8 192.4L452.4 193.7Z" fill="#0a5240" stroke="#0a5240" stroke-width="0.6"/><path d="M452.4 193.7L454.8 192.4L452.7 190.9L450.3 192.2Z" fill="#0a5240" stroke="#0a5240" stroke-width="0.6"/><path d="M450.3 192.2L452.7 190.9L450.6 189.4L448.2 190.6Z" fill="#0a5240" stroke="#0a5240" stroke-width="0.6"/><path d="M448.2 190.6L450.6 189.4L448.5 187.8L446.1 189.1Z" fill="#0a5240" stroke="#0a5240" stroke-width="0.6"/><path d="M446.1 189.1L448.5 187.8L446.4 186.3L444 187.6Z" fill="#0a5240" stroke="#0a5240" stroke-width="0.6"/><path d="M444 187.6L446.4 186.3L444.3 184.8L441.9 186.1Z" fill="#0a5240" stroke="#0a5240" stroke-width="0.6"/><path d="M441.9 186.1L444.3 184.8L442.2 183.3L439.8 184.5Z" fill="#0a5240" stroke="#0a5240" stroke-width="0.6"/><path d="M439.8 184.5L442.2 183.3L440.2 181.8L437.8 183Z" fill="#0a6238" stroke="#0a6238" stroke-width="0.6"/><path d="M437.8 183L440.2 181.8L438.1 180.3L435.7 181.5Z" fill="#0a6238" stroke="#0a6238" stroke-width="0.6"/><path d="M435.7 181.5L438.1 180.3L436 178.8L433.7 180Z" fill="#0a6238" stroke="#0a6238" stroke-width="0.6"/><path d="M433.7 180L436 178.8L434 177.3L431.6 178.6Z" fill="#0a6238" stroke="#0a6238" stroke-width="0.6"/><path d="M431.6 178.6L434 177.3L432 175.8L429.6 177.1Z" fill="#0a6238" stroke="#0a6238" stroke-width="0.6"/><path d="M429.6 177.1L432 175.8L429.9 174.4L427.5 175.6Z" fill="#0a6238" stroke="#0a6238" stroke-width="0.6"/><path d="M427.5 175.6L429.9 174.4L427.9 172.9L425.5 174.1Z" fill="#0a6238" stroke="#0a6238" stroke-width="0.6"/><path d="M425.5 174.1L427.9 172.9L425.9 171.4L423.5 172.6Z" fill="#0c6e30" stroke="#0c6e30" stroke-width="0.6"/><path d="M423.5 172.6L425.9 171.4L423.9 170L421.5 171.2Z" fill="#0c6e30" stroke="#0c6e30" stroke-width="0.6"/><path d="M421.5 171.2L423.9 170L421.9 168.5L419.5 169.7Z" fill="#0c6e30" stroke="#0c6e30" stroke-width="0.6"/><path d="M419.5 169.7L421.9 168.5L419.9 167.1L417.5 168.3Z" fill="#0c6e30" stroke="#0c6e30" stroke-width="0.6"/><path d="M417.5 168.3L419.9 167.1L417.9 165.6L415.5 166.8Z" fill="#0d762c" stroke="#0d762c" stroke-width="0.6"/><path d="M415.5 166.8L417.9 165.6L415.9 164.2L413.5 165.4Z" fill="#0d762c" stroke="#0d762c" stroke-width="0.6"/><path d="M413.5 165.4L415.9 164.2L413.9 162.8L411.6 164Z" fill="#0d762c" stroke="#0d762c" stroke-width="0.6"/><path d="M411.6 164L413.9 162.8L412 161.3L409.6 162.5Z" fill="#0e7e28" stroke="#0e7e28" stroke-width="0.6"/><path d="M409.6 162.5L412 161.3L410 159.9L407.6 161.1Z" fill="#0e7e28" stroke="#0e7e28" stroke-width="0.6"/><path d="M407.6 161.1L410 159.9L408 158.5L405.7 159.7Z" fill="#0e7e28" stroke="#0e7e28" stroke-width="0.6"/><path d="M405.7 159.7L408 158.5L406.1 157.1L403.7 158.3Z" fill="#108626" stroke="#108626" stroke-width="0.6"/><path d="M403.7 158.3L406.1 157.1L404.2 155.7L401.8 156.8Z" fill="#108626" stroke="#108626" stroke-width="0.6"/><path d="M401.8 156.8L404.2 155.7L402.2 154.3L399.9 155.4Z" fill="#108626" stroke="#108626" stroke-width="0.6"/><path d="M399.9 155.4L402.2 154.3L400.3 152.9L397.9 154Z" fill="#119023" stroke="#119023" stroke-width="0.6"/><path d="M397.9 154L400.3 152.9L398.4 151.5L396 152.6Z" fill="#119023" stroke="#119023" stroke-width="0.6"/><path d="M396 152.6L398.4 151.5L396.5 150.1L394.1 151.2Z" fill="#139a21" stroke="#139a21" stroke-width="0.6"/><path d="M394.1 151.2L396.5 150.1L394.6 148.7L392.2 149.9Z" fill="#139a21" stroke="#139a21" stroke-width="0.6"/><path d="M392.2 149.9L394.6 148.7L392.7 147.3L390.3 148.5Z" fill="#17a820" stroke="#17a820" stroke-width="0.6"/><path d="M390.3 148.5L392.7 147.3L390.8 146L388.4 147.1Z" fill="#17a820" stroke="#17a820" stroke-width="0.6"/><path d="M388.4 147.1L390.8 146L388.9 144.6L386.5 145.7Z" fill="#1db820" stroke="#1db820" stroke-width="0.6"/><path d="M386.5 145.7L388.9 144.6L387 143.2L384.7 144.4Z" fill="#1db820" stroke="#1db820" stroke-width="0.6"/><path d="M384.7 144.4L387 143.2L385.1 141.9L382.8 143Z" fill="#24c720" stroke="#24c720" stroke-width="0.6"/><path d="M382.8 143L385.1 141.9L383.3 140.5L380.9 141.6Z" fill="#24c720" stroke="#24c720" stroke-width="0.6"/><path d="M380.9 141.6L383.3 140.5L381.4 139.2L379.1 140.3Z" fill="#2cd520" stroke="#2cd520" stroke-width="0.6"/><path d="M461.2 197.1L463.6 195.8L461.4 194.2L459.1 195.5Z" fill="#0a5240" stroke="#0a5240" stroke-width="0.6"/><path d="M459.1 195.5L461.4 194.2L459.3 192.7L456.9 194Z" fill="#0a5240" stroke="#0a5240" stroke-width="0.6"/><path d="M456.9 194L459.3 192.7L457.2 191.2L454.8 192.4Z" fill="#0a5240" stroke="#0a5240" stroke-width="0.6"/><path d="M454.8 192.4L457.2 191.2L455.1 189.6L452.7 190.9Z" fill="#0a5240" stroke="#0a5240" stroke-width="0.6"/><path d="M452.7 190.9L455.1 189.6L453 188.1L450.6 189.4Z" fill="#0a5240" stroke="#0a5240" stroke-width="0.6"/><path d="M450.6 189.4L453 188.1L450.9 186.6L448.5 187.8Z" fill="#0a5240" stroke="#0a5240" stroke-width="0.6"/><path d="M448.5 187.8L450.9 186.6L448.8 185.1L446.4 186.3Z" fill="#0a5240" stroke="#0a5240" stroke-width="0.6"/><path d="M446.4 186.3L448.8 185.1L446.7 183.6L444.3 184.8Z" fill="#0a5240" stroke="#0a5240" stroke-width="0.6"/><path d="M444.3 184.8L446.7 183.6L444.6 182.1L442.2 183.3Z" fill="#0a6238" stroke="#0a6238" stroke-width="0.6"/><path d="M442.2 183.3L444.6 182.1L442.5 180.6L440.2 181.8Z" fill="#0a6238" stroke="#0a6238" stroke-width="0.6"/><path d="M440.2 181.8L442.5 180.6L440.5 179.1L438.1 180.3Z" fill="#0a6238" stroke="#0a6238" stroke-width="0.6"/><path d="M438.1 180.3L440.5 179.1L438.4 177.6L436 178.8Z" fill="#0a6238" stroke="#0a6238" stroke-width="0.6"/><path d="M436 178.8L438.4 177.6L436.4 176.1L434 177.3Z" fill="#0a6238" stroke="#0a6238" stroke-width="0.6"/><path d="M434 177.3L436.4 176.1L434.3 174.6L432 175.8Z" fill="#0a6238" stroke="#0a6238" stroke-width="0.6"/><path d="M432 175.8L434.3 174.6L432.3 173.2L429.9 174.4Z" fill="#0c6e30" stroke="#0c6e30" stroke-width="0.6"/><path d="M429.9 174.4L432.3 173.2L430.3 171.7L427.9 172.9Z" fill="#0c6e30" stroke="#0c6e30" stroke-width="0.6"/><path d="M427.9 172.9L430.3 171.7L428.2 170.2L425.9 171.4Z" fill="#0c6e30" stroke="#0c6e30" stroke-width="0.6"/><path d="M425.9 171.4L428.2 170.2L426.2 168.8L423.9 170Z" fill="#0c6e30" stroke="#0c6e30" stroke-width="0.6"/><path d="M423.9 170L426.2 168.8L424.2 167.3L421.9 168.5Z" fill="#0c6e30" stroke="#0c6e30" stroke-width="0.6"/><path d="M421.9 168.5L424.2 167.3L422.2 165.9L419.9 167.1Z" fill="#0d762c" stroke="#0d762c" stroke-width="0.6"/><path d="M419.9 167.1L422.2 165.9L420.2 164.5L417.9 165.6Z" fill="#0d762c" stroke="#0d762c" stroke-width="0.6"/><path d="M417.9 165.6L420.2 164.5L418.3 163L415.9 164.2Z" fill="#0d762c" stroke="#0d762c" stroke-width="0.6"/><path d="M415.9 164.2L418.3 163L416.3 161.6L413.9 162.8Z" fill="#0e7e28" stroke="#0e7e28" stroke-width="0.6"/><path d="M413.9 162.8L416.3 161.6L414.3 160.2L412 161.3Z" fill="#0e7e28" stroke="#0e7e28" stroke-width="0.6"/><path d="M412 161.3L414.3 160.2L412.4 158.8L410 159.9Z" fill="#0e7e28" stroke="#0e7e28" stroke-width="0.6"/><path d="M410 159.9L412.4 158.8L410.4 157.3L408 158.5Z" fill="#108626" stroke="#108626" stroke-width="0.6"/><path d="M408 158.5L410.4 157.3L408.5 155.9L406.1 157.1Z" fill="#108626" stroke="#108626" stroke-width="0.6"/><path d="M406.1 157.1L408.5 155.9L406.5 154.5L404.2 155.7Z" fill="#119023" stroke="#119023" stroke-width="0.6"/><path d="M404.2 155.7L406.5 154.5L404.6 153.1L402.2 154.3Z" fill="#119023" stroke="#119023" stroke-width="0.6"/><path d="M402.2 154.3L404.6 153.1L402.7 151.7L400.3 152.9Z" fill="#139a21" stroke="#139a21" stroke-width="0.6"/><path d="M400.3 152.9L402.7 151.7L400.7 150.3L398.4 151.5Z" fill="#139a21" stroke="#139a21" stroke-width="0.6"/><path d="M398.4 151.5L400.7 150.3L398.8 149L396.5 150.1Z" fill="#139a21" stroke="#139a21" stroke-width="0.6"/><path d="M396.5 150.1L398.8 149L396.9 147.6L394.6 148.7Z" fill="#17a820" stroke="#17a820" stroke-width="0.6"/><path d="M394.6 148.7L396.9 147.6L395 146.2L392.7 147.3Z" fill="#17a820" stroke="#17a820" stroke-width="0.6"/><path d="M392.7 147.3L395 146.2L393.1 144.8L390.8 146Z" fill="#1db820" stroke="#1db820" stroke-width="0.6"/><path d="M390.8 146L393.1 144.8L391.2 143.5L388.9 144.6Z" fill="#24c720" stroke="#24c720" stroke-width="0.6"/><path d="M388.9 144.6L391.2 143.5L389.4 142.1L387 143.2Z" fill="#24c720" stroke="#24c720" stroke-width="0.6"/><path d="M387 143.2L389.4 142.1L387.5 140.8L385.1 141.9Z" fill="#2cd520" stroke="#2cd520" stroke-width="0.6"/><path d="M385.1 141.9L387.5 140.8L385.6 139.4L383.3 140.5Z" fill="#2cd520" stroke="#2cd520" stroke-width="0.6"/><path d="M383.3 140.5L385.6 139.4L383.8 138.1L381.4 139.2Z" fill="#43df1b" stroke="#43df1b" stroke-width="0.6"/><path d="M463.6 195.8L466 194.5L463.8 193L461.4 194.2Z" fill="#0a5240" stroke="#0a5240" stroke-width="0.6"/><path d="M461.4 194.2L463.8 193L461.7 191.4L459.3 192.7Z" fill="#0a5240" stroke="#0a5240" stroke-width="0.6"/><path d="M459.3 192.7L461.7 191.4L459.6 189.9L457.2 191.2Z" fill="#0a5240" stroke="#0a5240" stroke-width="0.6"/><path d="M457.2 191.2L459.6 189.9L457.4 188.4L455.1 189.6Z" fill="#0a5240" stroke="#0a5240" stroke-width="0.6"/><path d="M455.1 189.6L457.4 188.4L455.3 186.8L453 188.1Z" fill="#0a5240" stroke="#0a5240" stroke-width="0.6"/><path d="M453 188.1L455.3 186.8L453.2 185.3L450.9 186.6Z" fill="#0a5240" stroke="#0a5240" stroke-width="0.6"/><path d="M450.9 186.6L453.2 185.3L451.1 183.8L448.8 185.1Z" fill="#0a5240" stroke="#0a5240" stroke-width="0.6"/><path d="M448.8 185.1L451.1 183.8L449.1 182.3L446.7 183.6Z" fill="#0a6238" stroke="#0a6238" stroke-width="0.6"/><path d="M446.7 183.6L449.1 182.3L447 180.8L444.6 182.1Z" fill="#0a6238" stroke="#0a6238" stroke-width="0.6"/><path d="M444.6 182.1L447 180.8L444.9 179.3L442.5 180.6Z" fill="#0a6238" stroke="#0a6238" stroke-width="0.6"/><path d="M442.5 180.6L444.9 179.3L442.8 177.8L440.5 179.1Z" fill="#0a6238" stroke="#0a6238" stroke-width="0.6"/><path d="M440.5 179.1L442.8 177.8L440.8 176.4L438.4 177.6Z" fill="#0a6238" stroke="#0a6238" stroke-width="0.6"/><path d="M438.4 177.6L440.8 176.4L438.7 174.9L436.4 176.1Z" fill="#0a6238" stroke="#0a6238" stroke-width="0.6"/><path d="M436.4 176.1L438.7 174.9L436.7 173.4L434.3 174.6Z" fill="#0c6e30" stroke="#0c6e30" stroke-width="0.6"/><path d="M434.3 174.6L436.7 173.4L434.7 172L432.3 173.2Z" fill="#0c6e30" stroke="#0c6e30" stroke-width="0.6"/><path d="M432.3 173.2L434.7 172L432.6 170.5L430.3 171.7Z" fill="#0c6e30" stroke="#0c6e30" stroke-width="0.6"/><path d="M430.3 171.7L432.6 170.5L430.6 169L428.2 170.2Z" fill="#0c6e30" stroke="#0c6e30" stroke-width="0.6"/><path d="M428.2 170.2L430.6 169L428.6 167.6L426.2 168.8Z" fill="#0d762c" stroke="#0d762c" stroke-width="0.6"/><path d="M426.2 168.8L428.6 167.6L426.6 166.1L424.2 167.3Z" fill="#0d762c" stroke="#0d762c" stroke-width="0.6"/><path d="M424.2 167.3L426.6 166.1L424.6 164.7L422.2 165.9Z" fill="#0d762c" stroke="#0d762c" stroke-width="0.6"/><path d="M422.2 165.9L424.6 164.7L422.6 163.3L420.2 164.5Z" fill="#0d762c" stroke="#0d762c" stroke-width="0.6"/><path d="M420.2 164.5L422.6 163.3L420.6 161.8L418.3 163Z" fill="#0e7e28" stroke="#0e7e28" stroke-width="0.6"/><path d="M418.3 163L420.6 161.8L418.6 160.4L416.3 161.6Z" fill="#0e7e28" stroke="#0e7e28" stroke-width="0.6"/><path d="M416.3 161.6L418.6 160.4L416.7 159L414.3 160.2Z" fill="#108626" stroke="#108626" stroke-width="0.6"/><path d="M414.3 160.2L416.7 159L414.7 157.6L412.4 158.8Z" fill="#108626" stroke="#108626" stroke-width="0.6"/><path d="M412.4 158.8L414.7 157.6L412.8 156.2L410.4 157.3Z" fill="#108626" stroke="#108626" stroke-width="0.6"/><path d="M410.4 157.3L412.8 156.2L410.8 154.8L408.5 155.9Z" fill="#119023" stroke="#119023" stroke-width="0.6"/><path d="M408.5 155.9L410.8 154.8L408.9 153.4L406.5 154.5Z" fill="#119023" stroke="#119023" stroke-width="0.6"/><path d="M406.5 154.5L408.9 153.4L406.9 152L404.6 153.1Z" fill="#139a21" stroke="#139a21" stroke-width="0.6"/><path d="M404.6 153.1L406.9 152L405 150.6L402.7 151.7Z" fill="#139a21" stroke="#139a21" stroke-width="0.6"/><path d="M402.7 151.7L405 150.6L403.1 149.2L400.7 150.3Z" fill="#17a820" stroke="#17a820" stroke-width="0.6"/><path d="M400.7 150.3L403.1 149.2L401.2 147.8L398.8 149Z" fill="#17a820" stroke="#17a820" stroke-width="0.6"/><path d="M398.8 149L401.2 147.8L399.3 146.5L396.9 147.6Z" fill="#1db820" stroke="#1db820" stroke-width="0.6"/><path d="M396.9 147.6L399.3 146.5L397.4 145.1L395 146.2Z" fill="#1db820" stroke="#1db820" stroke-width="0.6"/><path d="M395 146.2L397.4 145.1L395.5 143.7L393.1 144.8Z" fill="#24c720" stroke="#24c720" stroke-width="0.6"/><path d="M393.1 144.8L395.5 143.7L393.6 142.4L391.2 143.5Z" fill="#24c720" stroke="#24c720" stroke-width="0.6"/><path d="M391.2 143.5L393.6 142.4L391.7 141L389.4 142.1Z" fill="#2cd520" stroke="#2cd520" stroke-width="0.6"/><path d="M389.4 142.1L391.7 141L389.8 139.7L387.5 140.8Z" fill="#2cd520" stroke="#2cd520" stroke-width="0.6"/><path d="M387.5 140.8L389.8 139.7L388 138.3L385.6 139.4Z" fill="#43df1b" stroke="#43df1b" stroke-width="0.6"/><path d="M385.6 139.4L388 138.3L386.1 137L383.8 138.1Z" fill="#68e610" stroke="#68e610" stroke-width="0.6"/><path d="M466 194.5L468.3 193.2L466.2 191.7L463.8 193Z" fill="#0a5240" stroke="#0a5240" stroke-width="0.6"/><path d="M463.8 193L466.2 191.7L464.1 190.2L461.7 191.4Z" fill="#0a5240" stroke="#0a5240" stroke-width="0.6"/><path d="M461.7 191.4L464.1 190.2L461.9 188.6L459.6 189.9Z" fill="#0a5240" stroke="#0a5240" stroke-width="0.6"/><path d="M459.6 189.9L461.9 188.6L459.8 187.1L457.4 188.4Z" fill="#0a5240" stroke="#0a5240" stroke-width="0.6"/><path d="M457.4 188.4L459.8 187.1L457.7 185.6L455.3 186.8Z" fill="#0a5240" stroke="#0a5240" stroke-width="0.6"/><path d="M455.3 186.8L457.7 185.6L455.6 184.1L453.2 185.3Z" fill="#0a5240" stroke="#0a5240" stroke-width="0.6"/><path d="M453.2 185.3L455.6 184.1L453.5 182.6L451.1 183.8Z" fill="#0a6238" stroke="#0a6238" stroke-width="0.6"/><path d="M451.1 183.8L453.5 182.6L451.4 181.1L449.1 182.3Z" fill="#0a6238" stroke="#0a6238" stroke-width="0.6"/><path d="M449.1 182.3L451.4 181.1L449.3 179.6L447 180.8Z" fill="#0a6238" stroke="#0a6238" stroke-width="0.6"/><path d="M447 180.8L449.3 179.6L447.3 178.1L444.9 179.3Z" fill="#0a6238" stroke="#0a6238" stroke-width="0.6"/><path d="M444.9 179.3L447.3 178.1L445.2 176.6L442.8 177.8Z" fill="#0a6238" stroke="#0a6238" stroke-width="0.6"/><path d="M442.8 177.8L445.2 176.6L443.1 175.1L440.8 176.4Z" fill="#0a6238" stroke="#0a6238" stroke-width="0.6"/><path d="M440.8 176.4L443.1 175.1L441.1 173.7L438.7 174.9Z" fill="#0c6e30" stroke="#0c6e30" stroke-width="0.6"/><path d="M438.7 174.9L441.1 173.7L439.1 172.2L436.7 173.4Z" fill="#0c6e30" stroke="#0c6e30" stroke-width="0.6"/><path d="M436.7 173.4L439.1 172.2L437 170.7L434.7 172Z" fill="#0c6e30" stroke="#0c6e30" stroke-width="0.6"/><path d="M434.7 172L437 170.7L435 169.3L432.6 170.5Z" fill="#0c6e30" stroke="#0c6e30" stroke-width="0.6"/><path d="M432.6 170.5L435 169.3L433 167.8L430.6 169Z" fill="#0d762c" stroke="#0d762c" stroke-width="0.6"/><path d="M430.6 169L433 167.8L431 166.4L428.6 167.6Z" fill="#0d762c" stroke="#0d762c" stroke-width="0.6"/><path d="M428.6 167.6L431 166.4L429 165L426.6 166.1Z" fill="#0d762c" stroke="#0d762c" stroke-width="0.6"/><path d="M426.6 166.1L429 165L427 163.5L424.6 164.7Z" fill="#0e7e28" stroke="#0e7e28" stroke-width="0.6"/><path d="M424.6 164.7L427 163.5L425 162.1L422.6 163.3Z" fill="#0e7e28" stroke="#0e7e28" stroke-width="0.6"/><path d="M422.6 163.3L425 162.1L423 160.7L420.6 161.8Z" fill="#0e7e28" stroke="#0e7e28" stroke-width="0.6"/><path d="M420.6 161.8L423 160.7L421 159.2L418.6 160.4Z" fill="#108626" stroke="#108626" stroke-width="0.6"/><path d="M418.6 160.4L421 159.2L419 157.8L416.7 159Z" fill="#108626" stroke="#108626" stroke-width="0.6"/><path d="M416.7 159L419 157.8L417.1 156.4L414.7 157.6Z" fill="#108626" stroke="#108626" stroke-width="0.6"/><path d="M414.7 157.6L417.1 156.4L415.1 155L412.8 156.2Z" fill="#119023" stroke="#119023" stroke-width="0.6"/><path d="M412.8 156.2L415.1 155L413.2 153.6L410.8 154.8Z" fill="#119023" stroke="#119023" stroke-width="0.6"/><path d="M410.8 154.8L413.2 153.6L411.2 152.2L408.9 153.4Z" fill="#139a21" stroke="#139a21" stroke-width="0.6"/><path d="M408.9 153.4L411.2 152.2L409.3 150.8L406.9 152Z" fill="#139a21" stroke="#139a21" stroke-width="0.6"/><path d="M406.9 152L409.3 150.8L407.3 149.5L405 150.6Z" fill="#17a820" stroke="#17a820" stroke-width="0.6"/><path d="M405 150.6L407.3 149.5L405.4 148.1L403.1 149.2Z" fill="#17a820" stroke="#17a820" stroke-width="0.6"/><path d="M403.1 149.2L405.4 148.1L403.5 146.7L401.2 147.8Z" fill="#1db820" stroke="#1db820" stroke-width="0.6"/><path d="M401.2 147.8L403.5 146.7L401.6 145.3L399.3 146.5Z" fill="#1db820" stroke="#1db820" stroke-width="0.6"/><path d="M399.3 146.5L401.6 145.3L399.7 144L397.4 145.1Z" fill="#24c720" stroke="#24c720" stroke-width="0.6"/><path d="M397.4 145.1L399.7 144L397.8 142.6L395.5 143.7Z" fill="#24c720" stroke="#24c720" stroke-width="0.6"/><path d="M395.5 143.7L397.8 142.6L395.9 141.2L393.6 142.4Z" fill="#2cd520" stroke="#2cd520" stroke-width="0.6"/><path d="M393.6 142.4L395.9 141.2L394 139.9L391.7 141Z" fill="#43df1b" stroke="#43df1b" stroke-width="0.6"/><path d="M391.7 141L394 139.9L392.2 138.5L389.8 139.7Z" fill="#43df1b" stroke="#43df1b" stroke-width="0.6"/><path d="M389.8 139.7L392.2 138.5L390.3 137.2L388 138.3Z" fill="#68e610" stroke="#68e610" stroke-width="0.6"/><path d="M388 138.3L390.3 137.2L388.4 135.9L386.1 137Z" fill="#8ded05" stroke="#8ded05" stroke-width="0.6"/><path d="M468.3 193.2L470.7 192L468.6 190.4L466.2 191.7Z" fill="#0a5240" stroke="#0a5240" stroke-width="0.6"/><path d="M466.2 191.7L468.6 190.4L466.4 188.9L464.1 190.2Z" fill="#0a5240" stroke="#0a5240" stroke-width="0.6"/><path d="M464.1 190.2L466.4 188.9L464.3 187.4L461.9 188.6Z" fill="#0a5240" stroke="#0a5240" stroke-width="0.6"/><path d="M461.9 188.6L464.3 187.4L462.2 185.9L459.8 187.1Z" fill="#0a5240" stroke="#0a5240" stroke-width="0.6"/><path d="M459.8 187.1L462.2 185.9L460.1 184.4L457.7 185.6Z" fill="#0a5240" stroke="#0a5240" stroke-width="0.6"/><path d="M457.7 185.6L460.1 184.4L458 182.8L455.6 184.1Z" fill="#0a6238" stroke="#0a6238" stroke-width="0.6"/><path d="M455.6 184.1L458 182.8L455.9 181.3L453.5 182.6Z" fill="#0a6238" stroke="#0a6238" stroke-width="0.6"/><path d="M453.5 182.6L455.9 181.3L453.8 179.9L451.4 181.1Z" fill="#0a6238" stroke="#0a6238" stroke-width="0.6"/><path d="M451.4 181.1L453.8 179.9L451.7 178.4L449.3 179.6Z" fill="#0a6238" stroke="#0a6238" stroke-width="0.6"/><path d="M449.3 179.6L451.7 178.4L449.6 176.9L447.3 178.1Z" fill="#0a6238" stroke="#0a6238" stroke-width="0.6"/><path d="M447.3 178.1L449.6 176.9L447.6 175.4L445.2 176.6Z" fill="#0a6238" stroke="#0a6238" stroke-width="0.6"/><path d="M445.2 176.6L447.6 175.4L445.5 173.9L443.1 175.1Z" fill="#0c6e30" stroke="#0c6e30" stroke-width="0.6"/><path d="M443.1 175.1L445.5 173.9L443.4 172.5L441.1 173.7Z" fill="#0c6e30" stroke="#0c6e30" stroke-width="0.6"/><path d="M441.1 173.7L443.4 172.5L441.4 171L439.1 172.2Z" fill="#0c6e30" stroke="#0c6e30" stroke-width="0.6"/><path d="M439.1 172.2L441.4 171L439.4 169.5L437 170.7Z" fill="#0c6e30" stroke="#0c6e30" stroke-width="0.6"/><path d="M437 170.7L439.4 169.5L437.3 168.1L435 169.3Z" fill="#0d762c" stroke="#0d762c" stroke-width="0.6"/><path d="M435 169.3L437.3 168.1L435.3 166.6L433 167.8Z" fill="#0d762c" stroke="#0d762c" stroke-width="0.6"/><path d="M433 167.8L435.3 166.6L433.3 165.2L431 166.4Z" fill="#0d762c" stroke="#0d762c" stroke-width="0.6"/><path d="M431 166.4L433.3 165.2L431.3 163.8L429 165Z" fill="#0e7e28" stroke="#0e7e28" stroke-width="0.6"/><path d="M429 165L431.3 163.8L429.3 162.3L427 163.5Z" fill="#0e7e28" stroke="#0e7e28" stroke-width="0.6"/><path d="M427 163.5L429.3 162.3L427.3 160.9L425 162.1Z" fill="#0e7e28" stroke="#0e7e28" stroke-width="0.6"/><path d="M425 162.1L427.3 160.9L425.3 159.5L423 160.7Z" fill="#108626" stroke="#108626" stroke-width="0.6"/><path d="M423 160.7L425.3 159.5L423.3 158.1L421 159.2Z" fill="#108626" stroke="#108626" stroke-width="0.6"/><path d="M421 159.2L423.3 158.1L421.4 156.7L419 157.8Z" fill="#119023" stroke="#119023" stroke-width="0.6"/><path d="M419 157.8L421.4 156.7L419.4 155.3L417.1 156.4Z" fill="#119023" stroke="#119023" stroke-width="0.6"/><path d="M417.1 156.4L419.4 155.3L417.4 153.9L415.1 155Z" fill="#119023" stroke="#119023" stroke-width="0.6"/><path d="M415.1 155L417.4 153.9L415.5 152.5L413.2 153.6Z" fill="#139a21" stroke="#139a21" stroke-width="0.6"/><path d="M413.2 153.6L415.5 152.5L413.6 151.1L411.2 152.2Z" fill="#139a21" stroke="#139a21" stroke-width="0.6"/><path d="M411.2 152.2L413.6 151.1L411.6 149.7L409.3 150.8Z" fill="#17a820" stroke="#17a820" stroke-width="0.6"/><path d="M409.3 150.8L411.6 149.7L409.7 148.3L407.3 149.5Z" fill="#17a820" stroke="#17a820" stroke-width="0.6"/><path d="M407.3 149.5L409.7 148.3L407.8 146.9L405.4 148.1Z" fill="#1db820" stroke="#1db820" stroke-width="0.6"/><path d="M405.4 148.1L407.8 146.9L405.8 145.6L403.5 146.7Z" fill="#24c720" stroke="#24c720" stroke-width="0.6"/><path d="M403.5 146.7L405.8 145.6L403.9 144.2L401.6 145.3Z" fill="#24c720" stroke="#24c720" stroke-width="0.6"/><path d="M401.6 145.3L403.9 144.2L402 142.8L399.7 144Z" fill="#2cd520" stroke="#2cd520" stroke-width="0.6"/><path d="M399.7 144L402 142.8L400.1 141.5L397.8 142.6Z" fill="#2cd520" stroke="#2cd520" stroke-width="0.6"/><path d="M397.8 142.6L400.1 141.5L398.2 140.1L395.9 141.2Z" fill="#43df1b" stroke="#43df1b" stroke-width="0.6"/><path d="M395.9 141.2L398.2 140.1L396.4 138.8L394 139.9Z" fill="#68e610" stroke="#68e610" stroke-width="0.6"/><path d="M394 139.9L396.4 138.8L394.5 137.4L392.2 138.5Z" fill="#68e610" stroke="#68e610" stroke-width="0.6"/><path d="M392.2 138.5L394.5 137.4L392.6 136.1L390.3 137.2Z" fill="#8ded05" stroke="#8ded05" stroke-width="0.6"/><path d="M390.3 137.2L392.6 136.1L390.7 134.8L388.4 135.9Z" fill="#adf000" stroke="#adf000" stroke-width="0.6"/><path d="M470.7 192L473.1 190.7L470.9 189.2L468.6 190.4Z" fill="#0a5240" stroke="#0a5240" stroke-width="0.6"/><path d="M468.6 190.4L470.9 189.2L468.8 187.6L466.4 188.9Z" fill="#0a5240" stroke="#0a5240" stroke-width="0.6"/><path d="M466.4 188.9L468.8 187.6L466.7 186.1L464.3 187.4Z" fill="#0a5240" stroke="#0a5240" stroke-width="0.6"/><path d="M464.3 187.4L466.7 186.1L464.5 184.6L462.2 185.9Z" fill="#0a5240" stroke="#0a5240" stroke-width="0.6"/><path d="M462.2 185.9L464.5 184.6L462.4 183.1L460.1 184.4Z" fill="#0a6238" stroke="#0a6238" stroke-width="0.6"/><path d="M460.1 184.4L462.4 183.1L460.3 181.6L458 182.8Z" fill="#0a6238" stroke="#0a6238" stroke-width="0.6"/><path d="M458 182.8L460.3 181.6L458.2 180.1L455.9 181.3Z" fill="#0a6238" stroke="#0a6238" stroke-width="0.6"/><path d="M455.9 181.3L458.2 180.1L456.1 178.6L453.8 179.9Z" fill="#0a6238" stroke="#0a6238" stroke-width="0.6"/><path d="M453.8 179.9L456.1 178.6L454 177.1L451.7 178.4Z" fill="#0a6238" stroke="#0a6238" stroke-width="0.6"/><path d="M451.7 178.4L454 177.1L452 175.7L449.6 176.9Z" fill="#0a6238" stroke="#0a6238" stroke-width="0.6"/><path d="M449.6 176.9L452 175.7L449.9 174.2L447.6 175.4Z" fill="#0c6e30" stroke="#0c6e30" stroke-width="0.6"/><path d="M447.6 175.4L449.9 174.2L447.8 172.7L445.5 173.9Z" fill="#0c6e30" stroke="#0c6e30" stroke-width="0.6"/><path d="M445.5 173.9L447.8 172.7L445.8 171.3L443.4 172.5Z" fill="#0c6e30" stroke="#0c6e30" stroke-width="0.6"/><path d="M443.4 172.5L445.8 171.3L443.8 169.8L441.4 171Z" fill="#0c6e30" stroke="#0c6e30" stroke-width="0.6"/><path d="M441.4 171L443.8 169.8L441.7 168.3L439.4 169.5Z" fill="#0d762c" stroke="#0d762c" stroke-width="0.6"/><path d="M439.4 169.5L441.7 168.3L439.7 166.9L437.3 168.1Z" fill="#0d762c" stroke="#0d762c" stroke-width="0.6"/><path d="M437.3 168.1L439.7 166.9L437.7 165.5L435.3 166.6Z" fill="#0d762c" stroke="#0d762c" stroke-width="0.6"/><path d="M435.3 166.6L437.7 165.5L435.6 164L433.3 165.2Z" fill="#0e7e28" stroke="#0e7e28" stroke-width="0.6"/><path d="M433.3 165.2L435.6 164L433.6 162.6L431.3 163.8Z" fill="#0e7e28" stroke="#0e7e28" stroke-width="0.6"/><path d="M431.3 163.8L433.6 162.6L431.6 161.2L429.3 162.3Z" fill="#0e7e28" stroke="#0e7e28" stroke-width="0.6"/><path d="M429.3 162.3L431.6 161.2L429.6 159.7L427.3 160.9Z" fill="#108626" stroke="#108626" stroke-width="0.6"/><path d="M427.3 160.9L429.6 159.7L427.7 158.3L425.3 159.5Z" fill="#108626" stroke="#108626" stroke-width="0.6"/><path d="M425.3 159.5L427.7 158.3L425.7 156.9L423.3 158.1Z" fill="#119023" stroke="#119023" stroke-width="0.6"/><path d="M423.3 158.1L425.7 156.9L423.7 155.5L421.4 156.7Z" fill="#119023" stroke="#119023" stroke-width="0.6"/><path d="M421.4 156.7L423.7 155.5L421.7 154.1L419.4 155.3Z" fill="#139a21" stroke="#139a21" stroke-width="0.6"/><path d="M419.4 155.3L421.7 154.1L419.8 152.7L417.4 153.9Z" fill="#139a21" stroke="#139a21" stroke-width="0.6"/><path d="M417.4 153.9L419.8 152.7L417.8 151.3L415.5 152.5Z" fill="#17a820" stroke="#17a820" stroke-width="0.6"/><path d="M415.5 152.5L417.8 151.3L415.9 149.9L413.6 151.1Z" fill="#17a820" stroke="#17a820" stroke-width="0.6"/><path d="M413.6 151.1L415.9 149.9L413.9 148.6L411.6 149.7Z" fill="#1db820" stroke="#1db820" stroke-width="0.6"/><path d="M411.6 149.7L413.9 148.6L412 147.2L409.7 148.3Z" fill="#1db820" stroke="#1db820" stroke-width="0.6"/><path d="M409.7 148.3L412 147.2L410.1 145.8L407.8 146.9Z" fill="#24c720" stroke="#24c720" stroke-width="0.6"/><path d="M407.8 146.9L410.1 145.8L408.2 144.4L405.8 145.6Z" fill="#24c720" stroke="#24c720" stroke-width="0.6"/><path d="M405.8 145.6L408.2 144.4L406.3 143.1L403.9 144.2Z" fill="#2cd520" stroke="#2cd520" stroke-width="0.6"/><path d="M403.9 144.2L406.3 143.1L404.4 141.7L402 142.8Z" fill="#43df1b" stroke="#43df1b" stroke-width="0.6"/><path d="M402 142.8L404.4 141.7L402.5 140.4L400.1 141.5Z" fill="#43df1b" stroke="#43df1b" stroke-width="0.6"/><path d="M400.1 141.5L402.5 140.4L400.6 139L398.2 140.1Z" fill="#68e610" stroke="#68e610" stroke-width="0.6"/><path d="M398.2 140.1L400.6 139L398.7 137.7L396.4 138.8Z" fill="#68e610" stroke="#68e610" stroke-width="0.6"/><path d="M396.4 138.8L398.7 137.7L396.8 136.3L394.5 137.4Z" fill="#8ded05" stroke="#8ded05" stroke-width="0.6"/><path d="M394.5 137.4L396.8 136.3L394.9 135L392.6 136.1Z" fill="#adf000" stroke="#adf000" stroke-width="0.6"/><path d="M392.6 136.1L394.9 135L393.1 133.7L390.7 134.8Z" fill="#c8f000" stroke="#c8f000" stroke-width="0.6"/><path d="M473.1 190.7L475.4 189.4L473.3 187.9L470.9 189.2Z" fill="#0a5240" stroke="#0a5240" stroke-width="0.6"/><path d="M470.9 189.2L473.3 187.9L471.1 186.4L468.8 187.6Z" fill="#0a5240" stroke="#0a5240" stroke-width="0.6"/><path d="M468.8 187.6L471.1 186.4L469 184.9L466.7 186.1Z" fill="#0a5240" stroke="#0a5240" stroke-width="0.6"/><path d="M466.7 186.1L469 184.9L466.9 183.4L464.5 184.6Z" fill="#0a5240" stroke="#0a5240" stroke-width="0.6"/><path d="M464.5 184.6L466.9 183.4L464.8 181.9L462.4 183.1Z" fill="#0a6238" stroke="#0a6238" stroke-width="0.6"/><path d="M462.4 183.1L464.8 181.9L462.7 180.4L460.3 181.6Z" fill="#0a6238" stroke="#0a6238" stroke-width="0.6"/><path d="M460.3 181.6L462.7 180.4L460.6 178.9L458.2 180.1Z" fill="#0a6238" stroke="#0a6238" stroke-width="0.6"/><path d="M458.2 180.1L460.6 178.9L458.5 177.4L456.1 178.6Z" fill="#0a6238" stroke="#0a6238" stroke-width="0.6"/><path d="M456.1 178.6L458.5 177.4L456.4 175.9L454 177.1Z" fill="#0a6238" stroke="#0a6238" stroke-width="0.6"/><path d="M454 177.1L456.4 175.9L454.3 174.4L452 175.7Z" fill="#0c6e30" stroke="#0c6e30" stroke-width="0.6"/><path d="M452 175.7L454.3 174.4L452.2 173L449.9 174.2Z" fill="#0c6e30" stroke="#0c6e30" stroke-width="0.6"/><path d="M449.9 174.2L452.2 173L450.2 171.5L447.8 172.7Z" fill="#0c6e30" stroke="#0c6e30" stroke-width="0.6"/><path d="M447.8 172.7L450.2 171.5L448.1 170.1L445.8 171.3Z" fill="#0d762c" stroke="#0d762c" stroke-width="0.6"/><path d="M445.8 171.3L448.1 170.1L446.1 168.6L443.8 169.8Z" fill="#0d762c" stroke="#0d762c" stroke-width="0.6"/><path d="M443.8 169.8L446.1 168.6L444.1 167.2L441.7 168.3Z" fill="#0d762c" stroke="#0d762c" stroke-width="0.6"/><path d="M441.7 168.3L444.1 167.2L442 165.7L439.7 166.9Z" fill="#0d762c" stroke="#0d762c" stroke-width="0.6"/><path d="M439.7 166.9L442 165.7L440 164.3L437.7 165.5Z" fill="#0e7e28" stroke="#0e7e28" stroke-width="0.6"/><path d="M437.7 165.5L440 164.3L438 162.8L435.6 164Z" fill="#0e7e28" stroke="#0e7e28" stroke-width="0.6"/><path d="M435.6 164L438 162.8L436 161.4L433.6 162.6Z" fill="#108626" stroke="#108626" stroke-width="0.6"/><path d="M433.6 162.6L436 161.4L434 160L431.6 161.2Z" fill="#108626" stroke="#108626" stroke-width="0.6"/><path d="M431.6 161.2L434 160L432 158.6L429.6 159.7Z" fill="#108626" stroke="#108626" stroke-width="0.6"/><path d="M429.6 159.7L432 158.6L430 157.2L427.7 158.3Z" fill="#119023" stroke="#119023" stroke-width="0.6"/><path d="M427.7 158.3L430 157.2L428 155.8L425.7 156.9Z" fill="#119023" stroke="#119023" stroke-width="0.6"/><path d="M425.7 156.9L428 155.8L426 154.4L423.7 155.5Z" fill="#139a21" stroke="#139a21" stroke-width="0.6"/><path d="M423.7 155.5L426 154.4L424.1 153L421.7 154.1Z" fill="#139a21" stroke="#139a21" stroke-width="0.6"/><path d="M421.7 154.1L424.1 153L422.1 151.6L419.8 152.7Z" fill="#17a820" stroke="#17a820" stroke-width="0.6"/><path d="M419.8 152.7L422.1 151.6L420.2 150.2L417.8 151.3Z" fill="#17a820" stroke="#17a820" stroke-width="0.6"/><path d="M417.8 151.3L420.2 150.2L418.2 148.8L415.9 149.9Z" fill="#1db820" stroke="#1db820" stroke-width="0.6"/><path d="M415.9 149.9L418.2 148.8L416.3 147.4L413.9 148.6Z" fill="#1db820" stroke="#1db820" stroke-width="0.6"/><path d="M413.9 148.6L416.3 147.4L414.3 146L412 147.2Z" fill="#24c720" stroke="#24c720" stroke-width="0.6"/><path d="M412 147.2L414.3 146L412.4 144.7L410.1 145.8Z" fill="#2cd520" stroke="#2cd520" stroke-width="0.6"/><path d="M410.1 145.8L412.4 144.7L410.5 143.3L408.2 144.4Z" fill="#2cd520" stroke="#2cd520" stroke-width="0.6"/><path d="M408.2 144.4L410.5 143.3L408.6 142L406.3 143.1Z" fill="#43df1b" stroke="#43df1b" stroke-width="0.6"/><path d="M406.3 143.1L408.6 142L406.7 140.6L404.4 141.7Z" fill="#43df1b" stroke="#43df1b" stroke-width="0.6"/><path d="M404.4 141.7L406.7 140.6L404.8 139.3L402.5 140.4Z" fill="#68e610" stroke="#68e610" stroke-width="0.6"/><path d="M402.5 140.4L404.8 139.3L402.9 137.9L400.6 139Z" fill="#8ded05" stroke="#8ded05" stroke-width="0.6"/><path d="M400.6 139L402.9 137.9L401 136.6L398.7 137.7Z" fill="#8ded05" stroke="#8ded05" stroke-width="0.6"/><path d="M398.7 137.7L401 136.6L399.1 135.2L396.8 136.3Z" fill="#adf000" stroke="#adf000" stroke-width="0.6"/><path d="M396.8 136.3L399.1 135.2L397.2 133.9L394.9 135Z" fill="#c8f000" stroke="#c8f000" stroke-width="0.6"/><path d="M394.9 135L397.2 133.9L395.4 132.6L393.1 133.7Z" fill="#e3f000" stroke="#e3f000" stroke-width="0.6"/><path d="M475.4 189.4L477.8 188.2L475.6 186.7L473.3 187.9Z" fill="#0a5240" stroke="#0a5240" stroke-width="0.6"/><path d="M473.3 187.9L475.6 186.7L473.5 185.1L471.1 186.4Z" fill="#0a5240" stroke="#0a5240" stroke-width="0.6"/><path d="M471.1 186.4L473.5 185.1L471.3 183.6L469 184.9Z" fill="#0a5240" stroke="#0a5240" stroke-width="0.6"/><path d="M469 184.9L471.3 183.6L469.2 182.1L466.9 183.4Z" fill="#0a6238" stroke="#0a6238" stroke-width="0.6"/><path d="M466.9 183.4L469.2 182.1L467.1 180.6L464.8 181.9Z" fill="#0a6238" stroke="#0a6238" stroke-width="0.6"/><path d="M464.8 181.9L467.1 180.6L465 179.1L462.7 180.4Z" fill="#0a6238" stroke="#0a6238" stroke-width="0.6"/><path d="M462.7 180.4L465 179.1L462.9 177.7L460.6 178.9Z" fill="#0a6238" stroke="#0a6238" stroke-width="0.6"/><path d="M460.6 178.9L462.9 177.7L460.8 176.2L458.5 177.4Z" fill="#0a6238" stroke="#0a6238" stroke-width="0.6"/><path d="M458.5 177.4L460.8 176.2L458.7 174.7L456.4 175.9Z" fill="#0c6e30" stroke="#0c6e30" stroke-width="0.6"/><path d="M456.4 175.9L458.7 174.7L456.7 173.2L454.3 174.4Z" fill="#0c6e30" stroke="#0c6e30" stroke-width="0.6"/><path d="M454.3 174.4L456.7 173.2L454.6 171.8L452.2 173Z" fill="#0c6e30" stroke="#0c6e30" stroke-width="0.6"/><path d="M452.2 173L454.6 171.8L452.5 170.3L450.2 171.5Z" fill="#0d762c" stroke="#0d762c" stroke-width="0.6"/><path d="M450.2 171.5L452.5 170.3L450.5 168.9L448.1 170.1Z" fill="#0d762c" stroke="#0d762c" stroke-width="0.6"/><path d="M448.1 170.1L450.5 168.9L448.4 167.4L446.1 168.6Z" fill="#0d762c" stroke="#0d762c" stroke-width="0.6"/><path d="M446.1 168.6L448.4 167.4L446.4 166L444.1 167.2Z" fill="#0e7e28" stroke="#0e7e28" stroke-width="0.6"/><path d="M444.1 167.2L446.4 166L444.3 164.5L442 165.7Z" fill="#0e7e28" stroke="#0e7e28" stroke-width="0.6"/><path d="M442 165.7L444.3 164.5L442.3 163.1L440 164.3Z" fill="#0e7e28" stroke="#0e7e28" stroke-width="0.6"/><path d="M440 164.3L442.3 163.1L440.3 161.7L438 162.8Z" fill="#108626" stroke="#108626" stroke-width="0.6"/><path d="M438 162.8L440.3 161.7L438.3 160.2L436 161.4Z" fill="#108626" stroke="#108626" stroke-width="0.6"/><path d="M436 161.4L438.3 160.2L436.3 158.8L434 160Z" fill="#119023" stroke="#119023" stroke-width="0.6"/><path d="M434 160L436.3 158.8L434.3 157.4L432 158.6Z" fill="#119023" stroke="#119023" stroke-width="0.6"/><path d="M432 158.6L434.3 157.4L432.3 156L430 157.2Z" fill="#119023" stroke="#119023" stroke-width="0.6"/><path d="M430 157.2L432.3 156L430.3 154.6L428 155.8Z" fill="#139a21" stroke="#139a21" stroke-width="0.6"/><path d="M428 155.8L430.3 154.6L428.4 153.2L426 154.4Z" fill="#139a21" stroke="#139a21" stroke-width="0.6"/><path d="M426 154.4L428.4 153.2L426.4 151.8L424.1 153Z" fill="#17a820" stroke="#17a820" stroke-width="0.6"/><path d="M424.1 153L426.4 151.8L424.4 150.4L422.1 151.6Z" fill="#17a820" stroke="#17a820" stroke-width="0.6"/><path d="M422.1 151.6L424.4 150.4L422.5 149L420.2 150.2Z" fill="#1db820" stroke="#1db820" stroke-width="0.6"/><path d="M420.2 150.2L422.5 149L420.5 147.7L418.2 148.8Z" fill="#24c720" stroke="#24c720" stroke-width="0.6"/><path d="M418.2 148.8L420.5 147.7L418.6 146.3L416.3 147.4Z" fill="#24c720" stroke="#24c720" stroke-width="0.6"/><path d="M416.3 147.4L418.6 146.3L416.6 144.9L414.3 146Z" fill="#2cd520" stroke="#2cd520" stroke-width="0.6"/><path d="M414.3 146L416.6 144.9L414.7 143.6L412.4 144.7Z" fill="#2cd520" stroke="#2cd520" stroke-width="0.6"/><path d="M412.4 144.7L414.7 143.6L412.8 142.2L410.5 143.3Z" fill="#43df1b" stroke="#43df1b" stroke-width="0.6"/><path d="M410.5 143.3L412.8 142.2L410.9 140.8L408.6 142Z" fill="#68e610" stroke="#68e610" stroke-width="0.6"/><path d="M408.6 142L410.9 140.8L409 139.5L406.7 140.6Z" fill="#68e610" stroke="#68e610" stroke-width="0.6"/><path d="M406.7 140.6L409 139.5L407.1 138.2L404.8 139.3Z" fill="#8ded05" stroke="#8ded05" stroke-width="0.6"/><path d="M404.8 139.3L407.1 138.2L405.2 136.8L402.9 137.9Z" fill="#adf000" stroke="#adf000" stroke-width="0.6"/><path d="M402.9 137.9L405.2 136.8L403.3 135.5L401 136.6Z" fill="#adf000" stroke="#adf000" stroke-width="0.6"/><path d="M401 136.6L403.3 135.5L401.4 134.1L399.1 135.2Z" fill="#c8f000" stroke="#c8f000" stroke-width="0.6"/><path d="M399.1 135.2L401.4 134.1L399.5 132.8L397.2 133.9Z" fill="#e3f000" stroke="#e3f000" stroke-width="0.6"/><path d="M397.2 133.9L399.5 132.8L397.7 131.5L395.4 132.6Z" fill="#f2e400" stroke="#f2e400" stroke-width="0.6"/><path d="M477.8 188.2L480.1 186.9L477.9 185.4L475.6 186.7Z" fill="#0a5240" stroke="#0a5240" stroke-width="0.6"/><path d="M475.6 186.7L477.9 185.4L475.8 183.9L473.5 185.1Z" fill="#0a5240" stroke="#0a5240" stroke-width="0.6"/><path d="M473.5 185.1L475.8 183.9L473.7 182.4L471.3 183.6Z" fill="#0a6238" stroke="#0a6238" stroke-width="0.6"/><path d="M471.3 183.6L473.7 182.4L471.6 180.9L469.2 182.1Z" fill="#0a6238" stroke="#0a6238" stroke-width="0.6"/><path d="M469.2 182.1L471.6 180.9L469.4 179.4L467.1 180.6Z" fill="#0a6238" stroke="#0a6238" stroke-width="0.6"/><path d="M467.1 180.6L469.4 179.4L467.3 177.9L465 179.1Z" fill="#0a6238" stroke="#0a6238" stroke-width="0.6"/><path d="M465 179.1L467.3 177.9L465.2 176.4L462.9 177.7Z" fill="#0a6238" stroke="#0a6238" stroke-width="0.6"/><path d="M462.9 177.7L465.2 176.4L463.1 175L460.8 176.2Z" fill="#0c6e30" stroke="#0c6e30" stroke-width="0.6"/><path d="M460.8 176.2L463.1 175L461.1 173.5L458.7 174.7Z" fill="#0c6e30" stroke="#0c6e30" stroke-width="0.6"/><path d="M458.7 174.7L461.1 173.5L459 172L456.7 173.2Z" fill="#0c6e30" stroke="#0c6e30" stroke-width="0.6"/><path d="M456.7 173.2L459 172L456.9 170.6L454.6 171.8Z" fill="#0d762c" stroke="#0d762c" stroke-width="0.6"/><path d="M454.6 171.8L456.9 170.6L454.8 169.1L452.5 170.3Z" fill="#0d762c" stroke="#0d762c" stroke-width="0.6"/><path d="M452.5 170.3L454.8 169.1L452.8 167.7L450.5 168.9Z" fill="#0d762c" stroke="#0d762c" stroke-width="0.6"/><path d="M450.5 168.9L452.8 167.7L450.7 166.2L448.4 167.4Z" fill="#0e7e28" stroke="#0e7e28" stroke-width="0.6"/><path d="M448.4 167.4L450.7 166.2L448.7 164.8L446.4 166Z" fill="#0e7e28" stroke="#0e7e28" stroke-width="0.6"/><path d="M446.4 166L448.7 164.8L446.7 163.3L444.3 164.5Z" fill="#0e7e28" stroke="#0e7e28" stroke-width="0.6"/><path d="M444.3 164.5L446.7 163.3L444.6 161.9L442.3 163.1Z" fill="#108626" stroke="#108626" stroke-width="0.6"/><path d="M442.3 163.1L444.6 161.9L442.6 160.5L440.3 161.7Z" fill="#108626" stroke="#108626" stroke-width="0.6"/><path d="M440.3 161.7L442.6 160.5L440.6 159.1L438.3 160.2Z" fill="#119023" stroke="#119023" stroke-width="0.6"/><path d="M438.3 160.2L440.6 159.1L438.6 157.7L436.3 158.8Z" fill="#119023" stroke="#119023" stroke-width="0.6"/><path d="M436.3 158.8L438.6 157.7L436.6 156.3L434.3 157.4Z" fill="#139a21" stroke="#139a21" stroke-width="0.6"/><path d="M434.3 157.4L436.6 156.3L434.6 154.8L432.3 156Z" fill="#139a21" stroke="#139a21" stroke-width="0.6"/><path d="M432.3 156L434.6 154.8L432.6 153.5L430.3 154.6Z" fill="#17a820" stroke="#17a820" stroke-width="0.6"/><path d="M430.3 154.6L432.6 153.5L430.7 152.1L428.4 153.2Z" fill="#17a820" stroke="#17a820" stroke-width="0.6"/><path d="M428.4 153.2L430.7 152.1L428.7 150.7L426.4 151.8Z" fill="#1db820" stroke="#1db820" stroke-width="0.6"/><path d="M426.4 151.8L428.7 150.7L426.7 149.3L424.4 150.4Z" fill="#1db820" stroke="#1db820" stroke-width="0.6"/><path d="M424.4 150.4L426.7 149.3L424.8 147.9L422.5 149Z" fill="#24c720" stroke="#24c720" stroke-width="0.6"/><path d="M422.5 149L424.8 147.9L422.8 146.5L420.5 147.7Z" fill="#24c720" stroke="#24c720" stroke-width="0.6"/><path d="M420.5 147.7L422.8 146.5L420.9 145.2L418.6 146.3Z" fill="#2cd520" stroke="#2cd520" stroke-width="0.6"/><path d="M418.6 146.3L420.9 145.2L419 143.8L416.6 144.9Z" fill="#43df1b" stroke="#43df1b" stroke-width="0.6"/><path d="M416.6 144.9L419 143.8L417 142.4L414.7 143.6Z" fill="#43df1b" stroke="#43df1b" stroke-width="0.6"/><path d="M414.7 143.6L417 142.4L415.1 141.1L412.8 142.2Z" fill="#68e610" stroke="#68e610" stroke-width="0.6"/><path d="M412.8 142.2L415.1 141.1L413.2 139.7L410.9 140.8Z" fill="#68e610" stroke="#68e610" stroke-width="0.6"/><path d="M410.9 140.8L413.2 139.7L411.3 138.4L409 139.5Z" fill="#8ded05" stroke="#8ded05" stroke-width="0.6"/><path d="M409 139.5L411.3 138.4L409.4 137L407.1 138.2Z" fill="#adf000" stroke="#adf000" stroke-width="0.6"/><path d="M407.1 138.2L409.4 137L407.5 135.7L405.2 136.8Z" fill="#c8f000" stroke="#c8f000" stroke-width="0.6"/><path d="M405.2 136.8L407.5 135.7L405.6 134.4L403.3 135.5Z" fill="#c8f000" stroke="#c8f000" stroke-width="0.6"/><path d="M403.3 135.5L405.6 134.4L403.7 133.1L401.4 134.1Z" fill="#e3f000" stroke="#e3f000" stroke-width="0.6"/><path d="M401.4 134.1L403.7 133.1L401.8 131.7L399.5 132.8Z" fill="#f2e400" stroke="#f2e400" stroke-width="0.6"/><path d="M399.5 132.8L401.8 131.7L400 130.4L397.7 131.5Z" fill="#f6cc00" stroke="#f6cc00" stroke-width="0.6"/><path d="M480.1 186.9L482.4 185.7L480.3 184.2L477.9 185.4Z" fill="#0a5240" stroke="#0a5240" stroke-width="0.6"/><path d="M477.9 185.4L480.3 184.2L478.1 182.7L475.8 183.9Z" fill="#0a6238" stroke="#0a6238" stroke-width="0.6"/><path d="M475.8 183.9L478.1 182.7L476 181.2L473.7 182.4Z" fill="#0a6238" stroke="#0a6238" stroke-width="0.6"/><path d="M473.7 182.4L476 181.2L473.9 179.7L471.6 180.9Z" fill="#0a6238" stroke="#0a6238" stroke-width="0.6"/><path d="M471.6 180.9L473.9 179.7L471.8 178.2L469.4 179.4Z" fill="#0a6238" stroke="#0a6238" stroke-width="0.6"/><path d="M469.4 179.4L471.8 178.2L469.7 176.7L467.3 177.9Z" fill="#0c6e30" stroke="#0c6e30" stroke-width="0.6"/><path d="M467.3 177.9L469.7 176.7L467.6 175.2L465.2 176.4Z" fill="#0c6e30" stroke="#0c6e30" stroke-width="0.6"/><path d="M465.2 176.4L467.6 175.2L465.5 173.7L463.1 175Z" fill="#0c6e30" stroke="#0c6e30" stroke-width="0.6"/><path d="M463.1 175L465.5 173.7L463.4 172.3L461.1 173.5Z" fill="#0c6e30" stroke="#0c6e30" stroke-width="0.6"/><path d="M461.1 173.5L463.4 172.3L461.3 170.8L459 172Z" fill="#0d762c" stroke="#0d762c" stroke-width="0.6"/><path d="M459 172L461.3 170.8L459.2 169.4L456.9 170.6Z" fill="#0d762c" stroke="#0d762c" stroke-width="0.6"/><path d="M456.9 170.6L459.2 169.4L457.2 167.9L454.8 169.1Z" fill="#0d762c" stroke="#0d762c" stroke-width="0.6"/><path d="M454.8 169.1L457.2 167.9L455.1 166.5L452.8 167.7Z" fill="#0e7e28" stroke="#0e7e28" stroke-width="0.6"/><path d="M452.8 167.7L455.1 166.5L453.1 165L450.7 166.2Z" fill="#0e7e28" stroke="#0e7e28" stroke-width="0.6"/><path d="M450.7 166.2L453.1 165L451 163.6L448.7 164.8Z" fill="#0e7e28" stroke="#0e7e28" stroke-width="0.6"/><path d="M448.7 164.8L451 163.6L449 162.2L446.7 163.3Z" fill="#108626" stroke="#108626" stroke-width="0.6"/><path d="M446.7 163.3L449 162.2L447 160.7L444.6 161.9Z" fill="#108626" stroke="#108626" stroke-width="0.6"/><path d="M444.6 161.9L447 160.7L444.9 159.3L442.6 160.5Z" fill="#119023" stroke="#119023" stroke-width="0.6"/><path d="M442.6 160.5L444.9 159.3L442.9 157.9L440.6 159.1Z" fill="#119023" stroke="#119023" stroke-width="0.6"/><path d="M440.6 159.1L442.9 157.9L440.9 156.5L438.6 157.7Z" fill="#139a21" stroke="#139a21" stroke-width="0.6"/><path d="M438.6 157.7L440.9 156.5L438.9 155.1L436.6 156.3Z" fill="#139a21" stroke="#139a21" stroke-width="0.6"/><path d="M436.6 156.3L438.9 155.1L436.9 153.7L434.6 154.8Z" fill="#17a820" stroke="#17a820" stroke-width="0.6"/><path d="M434.6 154.8L436.9 153.7L434.9 152.3L432.6 153.5Z" fill="#17a820" stroke="#17a820" stroke-width="0.6"/><path d="M432.6 153.5L434.9 152.3L433 150.9L430.7 152.1Z" fill="#1db820" stroke="#1db820" stroke-width="0.6"/><path d="M430.7 152.1L433 150.9L431 149.5L428.7 150.7Z" fill="#1db820" stroke="#1db820" stroke-width="0.6"/><path d="M428.7 150.7L431 149.5L429 148.1L426.7 149.3Z" fill="#24c720" stroke="#24c720" stroke-width="0.6"/><path d="M426.7 149.3L429 148.1L427.1 146.8L424.8 147.9Z" fill="#2cd520" stroke="#2cd520" stroke-width="0.6"/><path d="M424.8 147.9L427.1 146.8L425.1 145.4L422.8 146.5Z" fill="#2cd520" stroke="#2cd520" stroke-width="0.6"/><path d="M422.8 146.5L425.1 145.4L423.2 144L420.9 145.2Z" fill="#43df1b" stroke="#43df1b" stroke-width="0.6"/><path d="M420.9 145.2L423.2 144L421.3 142.7L419 143.8Z" fill="#43df1b" stroke="#43df1b" stroke-width="0.6"/><path d="M419 143.8L421.3 142.7L419.3 141.3L417 142.4Z" fill="#68e610" stroke="#68e610" stroke-width="0.6"/><path d="M417 142.4L419.3 141.3L417.4 140L415.1 141.1Z" fill="#8ded05" stroke="#8ded05" stroke-width="0.6"/><path d="M415.1 141.1L417.4 140L415.5 138.6L413.2 139.7Z" fill="#8ded05" stroke="#8ded05" stroke-width="0.6"/><path d="M413.2 139.7L415.5 138.6L413.6 137.3L411.3 138.4Z" fill="#adf000" stroke="#adf000" stroke-width="0.6"/><path d="M411.3 138.4L413.6 137.3L411.7 135.9L409.4 137Z" fill="#c8f000" stroke="#c8f000" stroke-width="0.6"/><path d="M409.4 137L411.7 135.9L409.8 134.6L407.5 135.7Z" fill="#e3f000" stroke="#e3f000" stroke-width="0.6"/><path d="M407.5 135.7L409.8 134.6L407.9 133.3L405.6 134.4Z" fill="#e3f000" stroke="#e3f000" stroke-width="0.6"/><path d="M405.6 134.4L407.9 133.3L406 132L403.7 133.1Z" fill="#f2e400" stroke="#f2e400" stroke-width="0.6"/><path d="M403.7 133.1L406 132L404.1 130.6L401.8 131.7Z" fill="#f6cc00" stroke="#f6cc00" stroke-width="0.6"/><path d="M401.8 131.7L404.1 130.6L402.3 129.3L400 130.4Z" fill="#f9b400" stroke="#f9b400" stroke-width="0.6"/><path d="M482.4 185.7L484.7 184.4L482.6 182.9L480.3 184.2Z" fill="#0a6238" stroke="#0a6238" stroke-width="0.6"/><path d="M480.3 184.2L482.6 182.9L480.5 181.4L478.1 182.7Z" fill="#0a6238" stroke="#0a6238" stroke-width="0.6"/><path d="M478.1 182.7L480.5 181.4L478.3 179.9L476 181.2Z" fill="#0a6238" stroke="#0a6238" stroke-width="0.6"/><path d="M476 181.2L478.3 179.9L476.2 178.4L473.9 179.7Z" fill="#0a6238" stroke="#0a6238" stroke-width="0.6"/><path d="M473.9 179.7L476.2 178.4L474.1 177L471.8 178.2Z" fill="#0c6e30" stroke="#0c6e30" stroke-width="0.6"/><path d="M471.8 178.2L474.1 177L472 175.5L469.7 176.7Z" fill="#0c6e30" stroke="#0c6e30" stroke-width="0.6"/><path d="M469.7 176.7L472 175.5L469.9 174L467.6 175.2Z" fill="#0c6e30" stroke="#0c6e30" stroke-width="0.6"/><path d="M467.6 175.2L469.9 174L467.8 172.5L465.5 173.7Z" fill="#0c6e30" stroke="#0c6e30" stroke-width="0.6"/><path d="M465.5 173.7L467.8 172.5L465.7 171.1L463.4 172.3Z" fill="#0d762c" stroke="#0d762c" stroke-width="0.6"/><path d="M463.4 172.3L465.7 171.1L463.6 169.6L461.3 170.8Z" fill="#0d762c" stroke="#0d762c" stroke-width="0.6"/><path d="M461.3 170.8L463.6 169.6L461.5 168.2L459.2 169.4Z" fill="#0d762c" stroke="#0d762c" stroke-width="0.6"/><path d="M459.2 169.4L461.5 168.2L459.5 166.7L457.2 167.9Z" fill="#0e7e28" stroke="#0e7e28" stroke-width="0.6"/><path d="M457.2 167.9L459.5 166.7L457.4 165.3L455.1 166.5Z" fill="#0e7e28" stroke="#0e7e28" stroke-width="0.6"/><path d="M455.1 166.5L457.4 165.3L455.4 163.8L453.1 165Z" fill="#108626" stroke="#108626" stroke-width="0.6"/><path d="M453.1 165L455.4 163.8L453.3 162.4L451 163.6Z" fill="#108626" stroke="#108626" stroke-width="0.6"/><path d="M451 163.6L453.3 162.4L451.3 161L449 162.2Z" fill="#108626" stroke="#108626" stroke-width="0.6"/><path d="M449 162.2L451.3 161L449.3 159.6L447 160.7Z" fill="#119023" stroke="#119023" stroke-width="0.6"/><path d="M447 160.7L449.3 159.6L447.2 158.2L444.9 159.3Z" fill="#119023" stroke="#119023" stroke-width="0.6"/><path d="M444.9 159.3L447.2 158.2L445.2 156.7L442.9 157.9Z" fill="#139a21" stroke="#139a21" stroke-width="0.6"/><path d="M442.9 157.9L445.2 156.7L443.2 155.3L440.9 156.5Z" fill="#139a21" stroke="#139a21" stroke-width="0.6"/><path d="M440.9 156.5L443.2 155.3L441.2 153.9L438.9 155.1Z" fill="#17a820" stroke="#17a820" stroke-width="0.6"/><path d="M438.9 155.1L441.2 153.9L439.2 152.5L436.9 153.7Z" fill="#17a820" stroke="#17a820" stroke-width="0.6"/><path d="M436.9 153.7L439.2 152.5L437.2 151.2L434.9 152.3Z" fill="#1db820" stroke="#1db820" stroke-width="0.6"/><path d="M434.9 152.3L437.2 151.2L435.3 149.8L433 150.9Z" fill="#24c720" stroke="#24c720" stroke-width="0.6"/><path d="M433 150.9L435.3 149.8L433.3 148.4L431 149.5Z" fill="#24c720" stroke="#24c720" stroke-width="0.6"/><path d="M431 149.5L433.3 148.4L431.3 147L429 148.1Z" fill="#2cd520" stroke="#2cd520" stroke-width="0.6"/><path d="M429 148.1L431.3 147L429.4 145.6L427.1 146.8Z" fill="#2cd520" stroke="#2cd520" stroke-width="0.6"/><path d="M427.1 146.8L429.4 145.6L427.4 144.3L425.1 145.4Z" fill="#43df1b" stroke="#43df1b" stroke-width="0.6"/><path d="M425.1 145.4L427.4 144.3L425.5 142.9L423.2 144Z" fill="#68e610" stroke="#68e610" stroke-width="0.6"/><path d="M423.2 144L425.5 142.9L423.5 141.6L421.3 142.7Z" fill="#68e610" stroke="#68e610" stroke-width="0.6"/><path d="M421.3 142.7L423.5 141.6L421.6 140.2L419.3 141.3Z" fill="#8ded05" stroke="#8ded05" stroke-width="0.6"/><path d="M419.3 141.3L421.6 140.2L419.7 138.9L417.4 140Z" fill="#adf000" stroke="#adf000" stroke-width="0.6"/><path d="M417.4 140L419.7 138.9L417.8 137.5L415.5 138.6Z" fill="#adf000" stroke="#adf000" stroke-width="0.6"/><path d="M415.5 138.6L417.8 137.5L415.9 136.2L413.6 137.3Z" fill="#c8f000" stroke="#c8f000" stroke-width="0.6"/><path d="M413.6 137.3L415.9 136.2L414 134.8L411.7 135.9Z" fill="#e3f000" stroke="#e3f000" stroke-width="0.6"/><path d="M411.7 135.9L414 134.8L412.1 133.5L409.8 134.6Z" fill="#f2e400" stroke="#f2e400" stroke-width="0.6"/><path d="M409.8 134.6L412.1 133.5L410.2 132.2L407.9 133.3Z" fill="#f2e400" stroke="#f2e400" stroke-width="0.6"/><path d="M407.9 133.3L410.2 132.2L408.3 130.9L406 132Z" fill="#f6cc00" stroke="#f6cc00" stroke-width="0.6"/><path d="M406 132L408.3 130.9L406.4 129.6L404.1 130.6Z" fill="#f9b400" stroke="#f9b400" stroke-width="0.6"/><path d="M404.1 130.6L406.4 129.6L404.5 128.3L402.3 129.3Z" fill="#fd9c00" stroke="#fd9c00" stroke-width="0.6"/><path d="M484.7 184.4L487.1 183.2L484.9 181.7L482.6 182.9Z" fill="#0a6238" stroke="#0a6238" stroke-width="0.6"/><path d="M482.6 182.9L484.9 181.7L482.8 180.2L480.5 181.4Z" fill="#0a6238" stroke="#0a6238" stroke-width="0.6"/><path d="M480.5 181.4L482.8 180.2L480.6 178.7L478.3 179.9Z" fill="#0a6238" stroke="#0a6238" stroke-width="0.6"/><path d="M478.3 179.9L480.6 178.7L478.5 177.2L476.2 178.4Z" fill="#0c6e30" stroke="#0c6e30" stroke-width="0.6"/><path d="M476.2 178.4L478.5 177.2L476.4 175.7L474.1 177Z" fill="#0c6e30" stroke="#0c6e30" stroke-width="0.6"/><path d="M474.1 177L476.4 175.7L474.3 174.3L472 175.5Z" fill="#0c6e30" stroke="#0c6e30" stroke-width="0.6"/><path d="M472 175.5L474.3 174.3L472.2 172.8L469.9 174Z" fill="#0c6e30" stroke="#0c6e30" stroke-width="0.6"/><path d="M469.9 174L472.2 172.8L470.1 171.3L467.8 172.5Z" fill="#0d762c" stroke="#0d762c" stroke-width="0.6"/><path d="M467.8 172.5L470.1 171.3L468 169.9L465.7 171.1Z" fill="#0d762c" stroke="#0d762c" stroke-width="0.6"/><path d="M465.7 171.1L468 169.9L465.9 168.4L463.6 169.6Z" fill="#0d762c" stroke="#0d762c" stroke-width="0.6"/><path d="M463.6 169.6L465.9 168.4L463.8 167L461.5 168.2Z" fill="#0e7e28" stroke="#0e7e28" stroke-width="0.6"/><path d="M461.5 168.2L463.8 167L461.8 165.5L459.5 166.7Z" fill="#0e7e28" stroke="#0e7e28" stroke-width="0.6"/><path d="M459.5 166.7L461.8 165.5L459.7 164.1L457.4 165.3Z" fill="#108626" stroke="#108626" stroke-width="0.6"/><path d="M457.4 165.3L459.7 164.1L457.7 162.7L455.4 163.8Z" fill="#108626" stroke="#108626" stroke-width="0.6"/><path d="M455.4 163.8L457.7 162.7L455.6 161.2L453.3 162.4Z" fill="#119023" stroke="#119023" stroke-width="0.6"/><path d="M453.3 162.4L455.6 161.2L453.6 159.8L451.3 161Z" fill="#119023" stroke="#119023" stroke-width="0.6"/><path d="M451.3 161L453.6 159.8L451.6 158.4L449.3 159.6Z" fill="#119023" stroke="#119023" stroke-width="0.6"/><path d="M449.3 159.6L451.6 158.4L449.5 157L447.2 158.2Z" fill="#139a21" stroke="#139a21" stroke-width="0.6"/><path d="M447.2 158.2L449.5 157L447.5 155.6L445.2 156.7Z" fill="#139a21" stroke="#139a21" stroke-width="0.6"/><path d="M445.2 156.7L447.5 155.6L445.5 154.2L443.2 155.3Z" fill="#17a820" stroke="#17a820" stroke-width="0.6"/><path d="M443.2 155.3L445.5 154.2L443.5 152.8L441.2 153.9Z" fill="#1db820" stroke="#1db820" stroke-width="0.6"/><path d="M441.2 153.9L443.5 152.8L441.5 151.4L439.2 152.5Z" fill="#1db820" stroke="#1db820" stroke-width="0.6"/><path d="M439.2 152.5L441.5 151.4L439.5 150L437.2 151.2Z" fill="#24c720" stroke="#24c720" stroke-width="0.6"/><path d="M437.2 151.2L439.5 150L437.6 148.6L435.3 149.8Z" fill="#24c720" stroke="#24c720" stroke-width="0.6"/><path d="M435.3 149.8L437.6 148.6L435.6 147.3L433.3 148.4Z" fill="#2cd520" stroke="#2cd520" stroke-width="0.6"/><path d="M433.3 148.4L435.6 147.3L433.6 145.9L431.3 147Z" fill="#43df1b" stroke="#43df1b" stroke-width="0.6"/><path d="M431.3 147L433.6 145.9L431.7 144.5L429.4 145.6Z" fill="#43df1b" stroke="#43df1b" stroke-width="0.6"/><path d="M429.4 145.6L431.7 144.5L429.7 143.2L427.4 144.3Z" fill="#68e610" stroke="#68e610" stroke-width="0.6"/><path d="M427.4 144.3L429.7 143.2L427.8 141.8L425.5 142.9Z" fill="#68e610" stroke="#68e610" stroke-width="0.6"/><path d="M425.5 142.9L427.8 141.8L425.8 140.4L423.5 141.6Z" fill="#8ded05" stroke="#8ded05" stroke-width="0.6"/><path d="M423.5 141.6L425.8 140.4L423.9 139.1L421.6 140.2Z" fill="#adf000" stroke="#adf000" stroke-width="0.6"/><path d="M421.6 140.2L423.9 139.1L422 137.8L419.7 138.9Z" fill="#c8f000" stroke="#c8f000" stroke-width="0.6"/><path d="M419.7 138.9L422 137.8L420.1 136.4L417.8 137.5Z" fill="#c8f000" stroke="#c8f000" stroke-width="0.6"/><path d="M417.8 137.5L420.1 136.4L418.1 135.1L415.9 136.2Z" fill="#e3f000" stroke="#e3f000" stroke-width="0.6"/><path d="M415.9 136.2L418.1 135.1L416.2 133.8L414 134.8Z" fill="#f2e400" stroke="#f2e400" stroke-width="0.6"/><path d="M414 134.8L416.2 133.8L414.3 132.4L412.1 133.5Z" fill="#f6cc00" stroke="#f6cc00" stroke-width="0.6"/><path d="M412.1 133.5L414.3 132.4L412.4 131.1L410.2 132.2Z" fill="#f6cc00" stroke="#f6cc00" stroke-width="0.6"/><path d="M410.2 132.2L412.4 131.1L410.6 129.8L408.3 130.9Z" fill="#f9b400" stroke="#f9b400" stroke-width="0.6"/><path d="M408.3 130.9L410.6 129.8L408.7 128.5L406.4 129.6Z" fill="#fd9c00" stroke="#fd9c00" stroke-width="0.6"/><path d="M406.4 129.6L408.7 128.5L406.8 127.2L404.5 128.3Z" fill="#ff8300" stroke="#ff8300" stroke-width="0.6"/><path d="M487.1 183.2L489.4 181.9L487.2 180.4L484.9 181.7Z" fill="#0a6238" stroke="#0a6238" stroke-width="0.6"/><path d="M484.9 181.7L487.2 180.4L485.1 179L482.8 180.2Z" fill="#0a6238" stroke="#0a6238" stroke-width="0.6"/><path d="M482.8 180.2L485.1 179L482.9 177.5L480.6 178.7Z" fill="#0c6e30" stroke="#0c6e30" stroke-width="0.6"/><path d="M480.6 178.7L482.9 177.5L480.8 176L478.5 177.2Z" fill="#0c6e30" stroke="#0c6e30" stroke-width="0.6"/><path d="M478.5 177.2L480.8 176L478.7 174.5L476.4 175.7Z" fill="#0c6e30" stroke="#0c6e30" stroke-width="0.6"/><path d="M476.4 175.7L478.7 174.5L476.6 173L474.3 174.3Z" fill="#0d762c" stroke="#0d762c" stroke-width="0.6"/><path d="M474.3 174.3L476.6 173L474.5 171.6L472.2 172.8Z" fill="#0d762c" stroke="#0d762c" stroke-width="0.6"/><path d="M472.2 172.8L474.5 171.6L472.4 170.1L470.1 171.3Z" fill="#0d762c" stroke="#0d762c" stroke-width="0.6"/><path d="M470.1 171.3L472.4 170.1L470.3 168.7L468 169.9Z" fill="#0e7e28" stroke="#0e7e28" stroke-width="0.6"/><path d="M468 169.9L470.3 168.7L468.2 167.2L465.9 168.4Z" fill="#0e7e28" stroke="#0e7e28" stroke-width="0.6"/><path d="M465.9 168.4L468.2 167.2L466.1 165.8L463.8 167Z" fill="#0e7e28" stroke="#0e7e28" stroke-width="0.6"/><path d="M463.8 167L466.1 165.8L464.1 164.3L461.8 165.5Z" fill="#108626" stroke="#108626" stroke-width="0.6"/><path d="M461.8 165.5L464.1 164.3L462 162.9L459.7 164.1Z" fill="#108626" stroke="#108626" stroke-width="0.6"/><path d="M459.7 164.1L462 162.9L460 161.5L457.7 162.7Z" fill="#119023" stroke="#119023" stroke-width="0.6"/><path d="M457.7 162.7L460 161.5L457.9 160.1L455.6 161.2Z" fill="#119023" stroke="#119023" stroke-width="0.6"/><path d="M455.6 161.2L457.9 160.1L455.9 158.7L453.6 159.8Z" fill="#139a21" stroke="#139a21" stroke-width="0.6"/><path d="M453.6 159.8L455.9 158.7L453.9 157.2L451.6 158.4Z" fill="#139a21" stroke="#139a21" stroke-width="0.6"/><path d="M451.6 158.4L453.9 157.2L451.8 155.8L449.5 157Z" fill="#17a820" stroke="#17a820" stroke-width="0.6"/><path d="M449.5 157L451.8 155.8L449.8 154.4L447.5 155.6Z" fill="#17a820" stroke="#17a820" stroke-width="0.6"/><path d="M447.5 155.6L449.8 154.4L447.8 153L445.5 154.2Z" fill="#1db820" stroke="#1db820" stroke-width="0.6"/><path d="M445.5 154.2L447.8 153L445.8 151.6L443.5 152.8Z" fill="#1db820" stroke="#1db820" stroke-width="0.6"/><path d="M443.5 152.8L445.8 151.6L443.8 150.3L441.5 151.4Z" fill="#24c720" stroke="#24c720" stroke-width="0.6"/><path d="M441.5 151.4L443.8 150.3L441.8 148.9L439.5 150Z" fill="#24c720" stroke="#24c720" stroke-width="0.6"/><path d="M439.5 150L441.8 148.9L439.8 147.5L437.6 148.6Z" fill="#2cd520" stroke="#2cd520" stroke-width="0.6"/><path d="M437.6 148.6L439.8 147.5L437.9 146.1L435.6 147.3Z" fill="#43df1b" stroke="#43df1b" stroke-width="0.6"/><path d="M435.6 147.3L437.9 146.1L435.9 144.8L433.6 145.9Z" fill="#43df1b" stroke="#43df1b" stroke-width="0.6"/><path d="M433.6 145.9L435.9 144.8L433.9 143.4L431.7 144.5Z" fill="#68e610" stroke="#68e610" stroke-width="0.6"/><path d="M431.7 144.5L433.9 143.4L432 142L429.7 143.2Z" fill="#8ded05" stroke="#8ded05" stroke-width="0.6"/><path d="M429.7 143.2L432 142L430 140.7L427.8 141.8Z" fill="#8ded05" stroke="#8ded05" stroke-width="0.6"/><path d="M427.8 141.8L430 140.7L428.1 139.3L425.8 140.4Z" fill="#adf000" stroke="#adf000" stroke-width="0.6"/><path d="M425.8 140.4L428.1 139.3L426.2 138L423.9 139.1Z" fill="#c8f000" stroke="#c8f000" stroke-width="0.6"/><path d="M423.9 139.1L426.2 138L424.3 136.7L422 137.8Z" fill="#e3f000" stroke="#e3f000" stroke-width="0.6"/><path d="M422 137.8L424.3 136.7L422.3 135.3L420.1 136.4Z" fill="#e3f000" stroke="#e3f000" stroke-width="0.6"/><path d="M420.1 136.4L422.3 135.3L420.4 134L418.1 135.1Z" fill="#f2e400" stroke="#f2e400" stroke-width="0.6"/><path d="M418.1 135.1L420.4 134L418.5 132.7L416.2 133.8Z" fill="#f6cc00" stroke="#f6cc00" stroke-width="0.6"/><path d="M416.2 133.8L418.5 132.7L416.6 131.3L414.3 132.4Z" fill="#f9b400" stroke="#f9b400" stroke-width="0.6"/><path d="M414.3 132.4L416.6 131.3L414.7 130L412.4 131.1Z" fill="#fd9c00" stroke="#fd9c00" stroke-width="0.6"/><path d="M412.4 131.1L414.7 130L412.8 128.7L410.6 129.8Z" fill="#fd9c00" stroke="#fd9c00" stroke-width="0.6"/><path d="M410.6 129.8L412.8 128.7L411 127.4L408.7 128.5Z" fill="#ff8300" stroke="#ff8300" stroke-width="0.6"/><path d="M408.7 128.5L411 127.4L409.1 126.1L406.8 127.2Z" fill="#ff6900" stroke="#ff6900" stroke-width="0.6"/><path d="M489.4 181.9L491.7 180.7L489.5 179.2L487.2 180.4Z" fill="#0a6238" stroke="#0a6238" stroke-width="0.6"/><path d="M487.2 180.4L489.5 179.2L487.4 177.7L485.1 179Z" fill="#0c6e30" stroke="#0c6e30" stroke-width="0.6"/><path d="M485.1 179L487.4 177.7L485.2 176.2L482.9 177.5Z" fill="#0c6e30" stroke="#0c6e30" stroke-width="0.6"/><path d="M482.9 177.5L485.2 176.2L483.1 174.8L480.8 176Z" fill="#0c6e30" stroke="#0c6e30" stroke-width="0.6"/><path d="M480.8 176L483.1 174.8L481 173.3L478.7 174.5Z" fill="#0d762c" stroke="#0d762c" stroke-width="0.6"/><path d="M478.7 174.5L481 173.3L478.9 171.8L476.6 173Z" fill="#0d762c" stroke="#0d762c" stroke-width="0.6"/><path d="M476.6 173L478.9 171.8L476.8 170.4L474.5 171.6Z" fill="#0d762c" stroke="#0d762c" stroke-width="0.6"/><path d="M474.5 171.6L476.8 170.4L474.7 168.9L472.4 170.1Z" fill="#0e7e28" stroke="#0e7e28" stroke-width="0.6"/><path d="M472.4 170.1L474.7 168.9L472.6 167.5L470.3 168.7Z" fill="#0e7e28" stroke="#0e7e28" stroke-width="0.6"/><path d="M470.3 168.7L472.6 167.5L470.5 166L468.2 167.2Z" fill="#0e7e28" stroke="#0e7e28" stroke-width="0.6"/><path d="M468.2 167.2L470.5 166L468.4 164.6L466.1 165.8Z" fill="#108626" stroke="#108626" stroke-width="0.6"/><path d="M466.1 165.8L468.4 164.6L466.4 163.2L464.1 164.3Z" fill="#108626" stroke="#108626" stroke-width="0.6"/><path d="M464.1 164.3L466.4 163.2L464.3 161.7L462 162.9Z" fill="#119023" stroke="#119023" stroke-width="0.6"/><path d="M462 162.9L464.3 161.7L462.3 160.3L460 161.5Z" fill="#119023" stroke="#119023" stroke-width="0.6"/><path d="M460 161.5L462.3 160.3L460.2 158.9L457.9 160.1Z" fill="#139a21" stroke="#139a21" stroke-width="0.6"/><path d="M457.9 160.1L460.2 158.9L458.2 157.5L455.9 158.7Z" fill="#139a21" stroke="#139a21" stroke-width="0.6"/><path d="M455.9 158.7L458.2 157.5L456.1 156.1L453.9 157.2Z" fill="#17a820" stroke="#17a820" stroke-width="0.6"/><path d="M453.9 157.2L456.1 156.1L454.1 154.7L451.8 155.8Z" fill="#17a820" stroke="#17a820" stroke-width="0.6"/><path d="M451.8 155.8L454.1 154.7L452.1 153.3L449.8 154.4Z" fill="#1db820" stroke="#1db820" stroke-width="0.6"/><path d="M449.8 154.4L452.1 153.3L450.1 151.9L447.8 153Z" fill="#1db820" stroke="#1db820" stroke-width="0.6"/><path d="M447.8 153L450.1 151.9L448.1 150.5L445.8 151.6Z" fill="#24c720" stroke="#24c720" stroke-width="0.6"/><path d="M445.8 151.6L448.1 150.5L446.1 149.1L443.8 150.3Z" fill="#2cd520" stroke="#2cd520" stroke-width="0.6"/><path d="M443.8 150.3L446.1 149.1L444.1 147.7L441.8 148.9Z" fill="#2cd520" stroke="#2cd520" stroke-width="0.6"/><path d="M441.8 148.9L444.1 147.7L442.1 146.4L439.8 147.5Z" fill="#43df1b" stroke="#43df1b" stroke-width="0.6"/><path d="M439.8 147.5L442.1 146.4L440.2 145L437.9 146.1Z" fill="#68e610" stroke="#68e610" stroke-width="0.6"/><path d="M437.9 146.1L440.2 145L438.2 143.6L435.9 144.8Z" fill="#68e610" stroke="#68e610" stroke-width="0.6"/><path d="M435.9 144.8L438.2 143.6L436.2 142.3L433.9 143.4Z" fill="#8ded05" stroke="#8ded05" stroke-width="0.6"/><path d="M433.9 143.4L436.2 142.3L434.3 140.9L432 142Z" fill="#adf000" stroke="#adf000" stroke-width="0.6"/><path d="M432 142L434.3 140.9L432.3 139.6L430 140.7Z" fill="#adf000" stroke="#adf000" stroke-width="0.6"/><path d="M430 140.7L432.3 139.6L430.4 138.2L428.1 139.3Z" fill="#c8f000" stroke="#c8f000" stroke-width="0.6"/><path d="M428.1 139.3L430.4 138.2L428.4 136.9L426.2 138Z" fill="#e3f000" stroke="#e3f000" stroke-width="0.6"/><path d="M426.2 138L428.4 136.9L426.5 135.6L424.3 136.7Z" fill="#f2e400" stroke="#f2e400" stroke-width="0.6"/><path d="M424.3 136.7L426.5 135.6L424.6 134.2L422.3 135.3Z" fill="#f2e400" stroke="#f2e400" stroke-width="0.6"/><path d="M422.3 135.3L424.6 134.2L422.7 132.9L420.4 134Z" fill="#f6cc00" stroke="#f6cc00" stroke-width="0.6"/><path d="M420.4 134L422.7 132.9L420.8 131.6L418.5 132.7Z" fill="#f9b400" stroke="#f9b400" stroke-width="0.6"/><path d="M418.5 132.7L420.8 131.6L418.9 130.3L416.6 131.3Z" fill="#fd9c00" stroke="#fd9c00" stroke-width="0.6"/><path d="M416.6 131.3L418.9 130.3L417 128.9L414.7 130Z" fill="#ff8300" stroke="#ff8300" stroke-width="0.6"/><path d="M414.7 130L417 128.9L415.1 127.6L412.8 128.7Z" fill="#ff6900" stroke="#ff6900" stroke-width="0.6"/><path d="M412.8 128.7L415.1 127.6L413.2 126.3L411 127.4Z" fill="#ff6900" stroke="#ff6900" stroke-width="0.6"/><path d="M411 127.4L413.2 126.3L411.3 125L409.1 126.1Z" fill="#ff4f00" stroke="#ff4f00" stroke-width="0.6"/><path d="M491.7 180.7L494 179.5L491.8 178L489.5 179.2Z" fill="#0c6e30" stroke="#0c6e30" stroke-width="0.6"/><path d="M489.5 179.2L491.8 178L489.7 176.5L487.4 177.7Z" fill="#0c6e30" stroke="#0c6e30" stroke-width="0.6"/><path d="M487.4 177.7L489.7 176.5L487.5 175L485.2 176.2Z" fill="#0c6e30" stroke="#0c6e30" stroke-width="0.6"/><path d="M485.2 176.2L487.5 175L485.4 173.6L483.1 174.8Z" fill="#0d762c" stroke="#0d762c" stroke-width="0.6"/><path d="M483.1 174.8L485.4 173.6L483.3 172.1L481 173.3Z" fill="#0d762c" stroke="#0d762c" stroke-width="0.6"/><path d="M481 173.3L483.3 172.1L481.2 170.6L478.9 171.8Z" fill="#0d762c" stroke="#0d762c" stroke-width="0.6"/><path d="M478.9 171.8L481.2 170.6L479.1 169.2L476.8 170.4Z" fill="#0e7e28" stroke="#0e7e28" stroke-width="0.6"/><path d="M476.8 170.4L479.1 169.2L477 167.7L474.7 168.9Z" fill="#0e7e28" stroke="#0e7e28" stroke-width="0.6"/><path d="M474.7 168.9L477 167.7L474.9 166.3L472.6 167.5Z" fill="#108626" stroke="#108626" stroke-width="0.6"/><path d="M472.6 167.5L474.9 166.3L472.8 164.9L470.5 166Z" fill="#108626" stroke="#108626" stroke-width="0.6"/><path d="M470.5 166L472.8 164.9L470.7 163.4L468.4 164.6Z" fill="#108626" stroke="#108626" stroke-width="0.6"/><path d="M468.4 164.6L470.7 163.4L468.6 162L466.4 163.2Z" fill="#119023" stroke="#119023" stroke-width="0.6"/><path d="M466.4 163.2L468.6 162L466.6 160.6L464.3 161.7Z" fill="#119023" stroke="#119023" stroke-width="0.6"/><path d="M464.3 161.7L466.6 160.6L464.5 159.2L462.3 160.3Z" fill="#139a21" stroke="#139a21" stroke-width="0.6"/><path d="M462.3 160.3L464.5 159.2L462.5 157.7L460.2 158.9Z" fill="#139a21" stroke="#139a21" stroke-width="0.6"/><path d="M460.2 158.9L462.5 157.7L460.5 156.3L458.2 157.5Z" fill="#17a820" stroke="#17a820" stroke-width="0.6"/><path d="M458.2 157.5L460.5 156.3L458.4 154.9L456.1 156.1Z" fill="#17a820" stroke="#17a820" stroke-width="0.6"/><path d="M456.1 156.1L458.4 154.9L456.4 153.5L454.1 154.7Z" fill="#1db820" stroke="#1db820" stroke-width="0.6"/><path d="M454.1 154.7L456.4 153.5L454.4 152.1L452.1 153.3Z" fill="#24c720" stroke="#24c720" stroke-width="0.6"/><path d="M452.1 153.3L454.4 152.1L452.4 150.7L450.1 151.9Z" fill="#24c720" stroke="#24c720" stroke-width="0.6"/><path d="M450.1 151.9L452.4 150.7L450.4 149.4L448.1 150.5Z" fill="#2cd520" stroke="#2cd520" stroke-width="0.6"/><path d="M448.1 150.5L450.4 149.4L448.4 148L446.1 149.1Z" fill="#2cd520" stroke="#2cd520" stroke-width="0.6"/><path d="M446.1 149.1L448.4 148L446.4 146.6L444.1 147.7Z" fill="#43df1b" stroke="#43df1b" stroke-width="0.6"/><path d="M444.1 147.7L446.4 146.6L444.4 145.2L442.1 146.4Z" fill="#68e610" stroke="#68e610" stroke-width="0.6"/><path d="M442.1 146.4L444.4 145.2L442.4 143.9L440.2 145Z" fill="#68e610" stroke="#68e610" stroke-width="0.6"/><path d="M440.2 145L442.4 143.9L440.5 142.5L438.2 143.6Z" fill="#8ded05" stroke="#8ded05" stroke-width="0.6"/><path d="M438.2 143.6L440.5 142.5L438.5 141.2L436.2 142.3Z" fill="#adf000" stroke="#adf000" stroke-width="0.6"/><path d="M436.2 142.3L438.5 141.2L436.5 139.8L434.3 140.9Z" fill="#c8f000" stroke="#c8f000" stroke-width="0.6"/><path d="M434.3 140.9L436.5 139.8L434.6 138.5L432.3 139.6Z" fill="#c8f000" stroke="#c8f000" stroke-width="0.6"/><path d="M432.3 139.6L434.6 138.5L432.6 137.1L430.4 138.2Z" fill="#e3f000" stroke="#e3f000" stroke-width="0.6"/><path d="M430.4 138.2L432.6 137.1L430.7 135.8L428.4 136.9Z" fill="#f2e400" stroke="#f2e400" stroke-width="0.6"/><path d="M428.4 136.9L430.7 135.8L428.8 134.5L426.5 135.6Z" fill="#f6cc00" stroke="#f6cc00" stroke-width="0.6"/><path d="M426.5 135.6L428.8 134.5L426.9 133.1L424.6 134.2Z" fill="#f6cc00" stroke="#f6cc00" stroke-width="0.6"/><path d="M424.6 134.2L426.9 133.1L424.9 131.8L422.7 132.9Z" fill="#f9b400" stroke="#f9b400" stroke-width="0.6"/><path d="M422.7 132.9L424.9 131.8L423 130.5L420.8 131.6Z" fill="#fd9c00" stroke="#fd9c00" stroke-width="0.6"/><path d="M420.8 131.6L423 130.5L421.1 129.2L418.9 130.3Z" fill="#ff8300" stroke="#ff8300" stroke-width="0.6"/><path d="M418.9 130.3L421.1 129.2L419.2 127.9L417 128.9Z" fill="#ff6900" stroke="#ff6900" stroke-width="0.6"/><path d="M417 128.9L419.2 127.9L417.4 126.6L415.1 127.6Z" fill="#ff4f00" stroke="#ff4f00" stroke-width="0.6"/><path d="M415.1 127.6L417.4 126.6L415.5 125.3L413.2 126.3Z" fill="#ff3400" stroke="#ff3400" stroke-width="0.6"/><path d="M413.2 126.3L415.5 125.3L413.6 124L411.3 125Z" fill="#ff1a00" stroke="#ff1a00" stroke-width="0.6"/><path d="M494 179.5L496.2 178.2L494.1 176.8L491.8 178Z" fill="#0c6e30" stroke="#0c6e30" stroke-width="0.6"/><path d="M491.8 178L494.1 176.8L491.9 175.3L489.7 176.5Z" fill="#0c6e30" stroke="#0c6e30" stroke-width="0.6"/><path d="M489.7 176.5L491.9 175.3L489.8 173.8L487.5 175Z" fill="#0d762c" stroke="#0d762c" stroke-width="0.6"/><path d="M487.5 175L489.8 173.8L487.7 172.4L485.4 173.6Z" fill="#0d762c" stroke="#0d762c" stroke-width="0.6"/><path d="M485.4 173.6L487.7 172.4L485.6 170.9L483.3 172.1Z" fill="#0d762c" stroke="#0d762c" stroke-width="0.6"/><path d="M483.3 172.1L485.6 170.9L483.4 169.4L481.2 170.6Z" fill="#0e7e28" stroke="#0e7e28" stroke-width="0.6"/><path d="M481.2 170.6L483.4 169.4L481.3 168L479.1 169.2Z" fill="#0e7e28" stroke="#0e7e28" stroke-width="0.6"/><path d="M479.1 169.2L481.3 168L479.2 166.5L477 167.7Z" fill="#108626" stroke="#108626" stroke-width="0.6"/><path d="M477 167.7L479.2 166.5L477.2 165.1L474.9 166.3Z" fill="#108626" stroke="#108626" stroke-width="0.6"/><path d="M474.9 166.3L477.2 165.1L475.1 163.7L472.8 164.9Z" fill="#119023" stroke="#119023" stroke-width="0.6"/><path d="M472.8 164.9L475.1 163.7L473 162.2L470.7 163.4Z" fill="#119023" stroke="#119023" stroke-width="0.6"/><path d="M470.7 163.4L473 162.2L470.9 160.8L468.6 162Z" fill="#119023" stroke="#119023" stroke-width="0.6"/><path d="M468.6 162L470.9 160.8L468.9 159.4L466.6 160.6Z" fill="#139a21" stroke="#139a21" stroke-width="0.6"/><path d="M466.6 160.6L468.9 159.4L466.8 158L464.5 159.2Z" fill="#17a820" stroke="#17a820" stroke-width="0.6"/><path d="M464.5 159.2L466.8 158L464.8 156.6L462.5 157.7Z" fill="#17a820" stroke="#17a820" stroke-width="0.6"/><path d="M462.5 157.7L464.8 156.6L462.7 155.2L460.5 156.3Z" fill="#1db820" stroke="#1db820" stroke-width="0.6"/><path d="M460.5 156.3L462.7 155.2L460.7 153.8L458.4 154.9Z" fill="#1db820" stroke="#1db820" stroke-width="0.6"/><path d="M458.4 154.9L460.7 153.8L458.7 152.4L456.4 153.5Z" fill="#24c720" stroke="#24c720" stroke-width="0.6"/><path d="M456.4 153.5L458.7 152.4L456.6 151L454.4 152.1Z" fill="#24c720" stroke="#24c720" stroke-width="0.6"/><path d="M454.4 152.1L456.6 151L454.6 149.6L452.4 150.7Z" fill="#2cd520" stroke="#2cd520" stroke-width="0.6"/><path d="M452.4 150.7L454.6 149.6L452.6 148.2L450.4 149.4Z" fill="#43df1b" stroke="#43df1b" stroke-width="0.6"/><path d="M450.4 149.4L452.6 148.2L450.6 146.9L448.4 148Z" fill="#43df1b" stroke="#43df1b" stroke-width="0.6"/><path d="M448.4 148L450.6 146.9L448.6 145.5L446.4 146.6Z" fill="#68e610" stroke="#68e610" stroke-width="0.6"/><path d="M446.4 146.6L448.6 145.5L446.7 144.1L444.4 145.2Z" fill="#8ded05" stroke="#8ded05" stroke-width="0.6"/><path d="M444.4 145.2L446.7 144.1L444.7 142.8L442.4 143.9Z" fill="#8ded05" stroke="#8ded05" stroke-width="0.6"/><path d="M442.4 143.9L444.7 142.8L442.7 141.4L440.5 142.5Z" fill="#adf000" stroke="#adf000" stroke-width="0.6"/><path d="M440.5 142.5L442.7 141.4L440.8 140.1L438.5 141.2Z" fill="#c8f000" stroke="#c8f000" stroke-width="0.6"/><path d="M438.5 141.2L440.8 140.1L438.8 138.7L436.5 139.8Z" fill="#e3f000" stroke="#e3f000" stroke-width="0.6"/><path d="M436.5 139.8L438.8 138.7L436.8 137.4L434.6 138.5Z" fill="#e3f000" stroke="#e3f000" stroke-width="0.6"/><path d="M434.6 138.5L436.8 137.4L434.9 136L432.6 137.1Z" fill="#f2e400" stroke="#f2e400" stroke-width="0.6"/><path d="M432.6 137.1L434.9 136L433 134.7L430.7 135.8Z" fill="#f6cc00" stroke="#f6cc00" stroke-width="0.6"/><path d="M430.7 135.8L433 134.7L431 133.4L428.8 134.5Z" fill="#f9b400" stroke="#f9b400" stroke-width="0.6"/><path d="M428.8 134.5L431 133.4L429.1 132L426.9 133.1Z" fill="#fd9c00" stroke="#fd9c00" stroke-width="0.6"/><path d="M426.9 133.1L429.1 132L427.2 130.7L424.9 131.8Z" fill="#fd9c00" stroke="#fd9c00" stroke-width="0.6"/><path d="M424.9 131.8L427.2 130.7L425.3 129.4L423 130.5Z" fill="#ff8300" stroke="#ff8300" stroke-width="0.6"/><path d="M423 130.5L425.3 129.4L423.4 128.1L421.1 129.2Z" fill="#ff6900" stroke="#ff6900" stroke-width="0.6"/><path d="M421.1 129.2L423.4 128.1L421.5 126.8L419.2 127.9Z" fill="#ff4f00" stroke="#ff4f00" stroke-width="0.6"/><path d="M419.2 127.9L421.5 126.8L419.6 125.5L417.4 126.6Z" fill="#ff3400" stroke="#ff3400" stroke-width="0.6"/><path d="M417.4 126.6L419.6 125.5L417.7 124.2L415.5 125.3Z" fill="#ff1a00" stroke="#ff1a00" stroke-width="0.6"/><path d="M415.5 125.3L417.7 124.2L415.8 122.9L413.6 124Z" fill="#ff0000" stroke="#ff0000" stroke-width="0.6"/><path d="M496.2 178.2L498.5 177L496.4 175.5L494.1 176.8Z" fill="#0c6e30" stroke="#0c6e30" stroke-width="0.6"/><path d="M494.1 176.8L496.4 175.5L494.2 174.1L491.9 175.3Z" fill="#0d762c" stroke="#0d762c" stroke-width="0.6"/><path d="M491.9 175.3L494.2 174.1L492.1 172.6L489.8 173.8Z" fill="#0d762c" stroke="#0d762c" stroke-width="0.6"/><path d="M489.8 173.8L492.1 172.6L490 171.1L487.7 172.4Z" fill="#0d762c" stroke="#0d762c" stroke-width="0.6"/><path d="M487.7 172.4L490 171.1L487.8 169.7L485.6 170.9Z" fill="#0e7e28" stroke="#0e7e28" stroke-width="0.6"/><path d="M485.6 170.9L487.8 169.7L485.7 168.2L483.4 169.4Z" fill="#0e7e28" stroke="#0e7e28" stroke-width="0.6"/><path d="M483.4 169.4L485.7 168.2L483.6 166.8L481.3 168Z" fill="#108626" stroke="#108626" stroke-width="0.6"/><path d="M481.3 168L483.6 166.8L481.5 165.4L479.2 166.5Z" fill="#108626" stroke="#108626" stroke-width="0.6"/><path d="M479.2 166.5L481.5 165.4L479.4 163.9L477.2 165.1Z" fill="#119023" stroke="#119023" stroke-width="0.6"/><path d="M477.2 165.1L479.4 163.9L477.3 162.5L475.1 163.7Z" fill="#119023" stroke="#119023" stroke-width="0.6"/><path d="M475.1 163.7L477.3 162.5L475.3 161.1L473 162.2Z" fill="#139a21" stroke="#139a21" stroke-width="0.6"/><path d="M473 162.2L475.3 161.1L473.2 159.6L470.9 160.8Z" fill="#139a21" stroke="#139a21" stroke-width="0.6"/><path d="M470.9 160.8L473.2 159.6L471.1 158.2L468.9 159.4Z" fill="#17a820" stroke="#17a820" stroke-width="0.6"/><path d="M468.9 159.4L471.1 158.2L469.1 156.8L466.8 158Z" fill="#17a820" stroke="#17a820" stroke-width="0.6"/><path d="M466.8 158L469.1 156.8L467 155.4L464.8 156.6Z" fill="#1db820" stroke="#1db820" stroke-width="0.6"/><path d="M464.8 156.6L467 155.4L465 154L462.7 155.2Z" fill="#1db820" stroke="#1db820" stroke-width="0.6"/><path d="M462.7 155.2L465 154L463 152.6L460.7 153.8Z" fill="#24c720" stroke="#24c720" stroke-width="0.6"/><path d="M460.7 153.8L463 152.6L460.9 151.2L458.7 152.4Z" fill="#2cd520" stroke="#2cd520" stroke-width="0.6"/><path d="M458.7 152.4L460.9 151.2L458.9 149.8L456.6 151Z" fill="#2cd520" stroke="#2cd520" stroke-width="0.6"/><path d="M456.6 151L458.9 149.8L456.9 148.5L454.6 149.6Z" fill="#43df1b" stroke="#43df1b" stroke-width="0.6"/><path d="M454.6 149.6L456.9 148.5L454.9 147.1L452.6 148.2Z" fill="#68e610" stroke="#68e610" stroke-width="0.6"/><path d="M452.6 148.2L454.9 147.1L452.9 145.7L450.6 146.9Z" fill="#68e610" stroke="#68e610" stroke-width="0.6"/><path d="M450.6 146.9L452.9 145.7L450.9 144.4L448.6 145.5Z" fill="#8ded05" stroke="#8ded05" stroke-width="0.6"/><path d="M448.6 145.5L450.9 144.4L448.9 143L446.7 144.1Z" fill="#adf000" stroke="#adf000" stroke-width="0.6"/><path d="M446.7 144.1L448.9 143L446.9 141.6L444.7 142.8Z" fill="#adf000" stroke="#adf000" stroke-width="0.6"/><path d="M444.7 142.8L446.9 141.6L445 140.3L442.7 141.4Z" fill="#c8f000" stroke="#c8f000" stroke-width="0.6"/><path d="M442.7 141.4L445 140.3L443 138.9L440.8 140.1Z" fill="#e3f000" stroke="#e3f000" stroke-width="0.6"/><path d="M440.8 140.1L443 138.9L441.1 137.6L438.8 138.7Z" fill="#f2e400" stroke="#f2e400" stroke-width="0.6"/><path d="M438.8 138.7L441.1 137.6L439.1 136.3L436.8 137.4Z" fill="#f2e400" stroke="#f2e400" stroke-width="0.6"/><path d="M436.8 137.4L439.1 136.3L437.2 134.9L434.9 136Z" fill="#f6cc00" stroke="#f6cc00" stroke-width="0.6"/><path d="M434.9 136L437.2 134.9L435.2 133.6L433 134.7Z" fill="#f9b400" stroke="#f9b400" stroke-width="0.6"/><path d="M433 134.7L435.2 133.6L433.3 132.3L431 133.4Z" fill="#fd9c00" stroke="#fd9c00" stroke-width="0.6"/><path d="M431 133.4L433.3 132.3L431.4 131L429.1 132Z" fill="#ff8300" stroke="#ff8300" stroke-width="0.6"/><path d="M429.1 132L431.4 131L429.5 129.6L427.2 130.7Z" fill="#ff6900" stroke="#ff6900" stroke-width="0.6"/><path d="M427.2 130.7L429.5 129.6L427.5 128.3L425.3 129.4Z" fill="#ff4f00" stroke="#ff4f00" stroke-width="0.6"/><path d="M425.3 129.4L427.5 128.3L425.6 127L423.4 128.1Z" fill="#ff4f00" stroke="#ff4f00" stroke-width="0.6"/><path d="M423.4 128.1L425.6 127L423.7 125.7L421.5 126.8Z" fill="#ff3400" stroke="#ff3400" stroke-width="0.6"/><path d="M421.5 126.8L423.7 125.7L421.8 124.4L419.6 125.5Z" fill="#ff1a00" stroke="#ff1a00" stroke-width="0.6"/><path d="M419.6 125.5L421.8 124.4L420 123.1L417.7 124.2Z" fill="#ff0000" stroke="#ff0000" stroke-width="0.6"/><path d="M417.7 124.2L420 123.1L418.1 121.8L415.8 122.9Z" fill="#ed0000" stroke="#ed0000" stroke-width="0.6"/><path d="M498.5 177L500.8 175.8L498.6 174.3L496.4 175.5Z" fill="#0d762c" stroke="#0d762c" stroke-width="0.6"/><path d="M496.4 175.5L498.6 174.3L496.5 172.9L494.2 174.1Z" fill="#0d762c" stroke="#0d762c" stroke-width="0.6"/><path d="M494.2 174.1L496.5 172.9L494.4 171.4L492.1 172.6Z" fill="#0e7e28" stroke="#0e7e28" stroke-width="0.6"/><path d="M492.1 172.6L494.4 171.4L492.2 169.9L490 171.1Z" fill="#0e7e28" stroke="#0e7e28" stroke-width="0.6"/><path d="M490 171.1L492.2 169.9L490.1 168.5L487.8 169.7Z" fill="#0e7e28" stroke="#0e7e28" stroke-width="0.6"/><path d="M487.8 169.7L490.1 168.5L488 167L485.7 168.2Z" fill="#108626" stroke="#108626" stroke-width="0.6"/><path d="M485.7 168.2L488 167L485.9 165.6L483.6 166.8Z" fill="#108626" stroke="#108626" stroke-width="0.6"/><path d="M483.6 166.8L485.9 165.6L483.8 164.2L481.5 165.4Z" fill="#119023" stroke="#119023" stroke-width="0.6"/><path d="M481.5 165.4L483.8 164.2L481.7 162.7L479.4 163.9Z" fill="#119023" stroke="#119023" stroke-width="0.6"/><path d="M479.4 163.9L481.7 162.7L479.6 161.3L477.3 162.5Z" fill="#139a21" stroke="#139a21" stroke-width="0.6"/><path d="M477.3 162.5L479.6 161.3L477.5 159.9L475.3 161.1Z" fill="#139a21" stroke="#139a21" stroke-width="0.6"/><path d="M475.3 161.1L477.5 159.9L475.5 158.5L473.2 159.6Z" fill="#17a820" stroke="#17a820" stroke-width="0.6"/><path d="M473.2 159.6L475.5 158.5L473.4 157.1L471.1 158.2Z" fill="#17a820" stroke="#17a820" stroke-width="0.6"/><path d="M471.1 158.2L473.4 157.1L471.3 155.7L469.1 156.8Z" fill="#1db820" stroke="#1db820" stroke-width="0.6"/><path d="M469.1 156.8L471.3 155.7L469.3 154.3L467 155.4Z" fill="#24c720" stroke="#24c720" stroke-width="0.6"/><path d="M467 155.4L469.3 154.3L467.2 152.9L465 154Z" fill="#24c720" stroke="#24c720" stroke-width="0.6"/><path d="M465 154L467.2 152.9L465.2 151.5L463 152.6Z" fill="#2cd520" stroke="#2cd520" stroke-width="0.6"/><path d="M463 152.6L465.2 151.5L463.2 150.1L460.9 151.2Z" fill="#2cd520" stroke="#2cd520" stroke-width="0.6"/><path d="M460.9 151.2L463.2 150.1L461.2 148.7L458.9 149.8Z" fill="#43df1b" stroke="#43df1b" stroke-width="0.6"/><path d="M458.9 149.8L461.2 148.7L459.2 147.3L456.9 148.5Z" fill="#68e610" stroke="#68e610" stroke-width="0.6"/><path d="M456.9 148.5L459.2 147.3L457.1 146L454.9 147.1Z" fill="#68e610" stroke="#68e610" stroke-width="0.6"/><path d="M454.9 147.1L457.1 146L455.1 144.6L452.9 145.7Z" fill="#8ded05" stroke="#8ded05" stroke-width="0.6"/><path d="M452.9 145.7L455.1 144.6L453.2 143.2L450.9 144.4Z" fill="#adf000" stroke="#adf000" stroke-width="0.6"/><path d="M450.9 144.4L453.2 143.2L451.2 141.9L448.9 143Z" fill="#c8f000" stroke="#c8f000" stroke-width="0.6"/><path d="M448.9 143L451.2 141.9L449.2 140.5L446.9 141.6Z" fill="#c8f000" stroke="#c8f000" stroke-width="0.6"/><path d="M446.9 141.6L449.2 140.5L447.2 139.2L445 140.3Z" fill="#e3f000" stroke="#e3f000" stroke-width="0.6"/><path d="M445 140.3L447.2 139.2L445.3 137.8L443 138.9Z" fill="#f2e400" stroke="#f2e400" stroke-width="0.6"/><path d="M443 138.9L445.3 137.8L443.3 136.5L441.1 137.6Z" fill="#f6cc00" stroke="#f6cc00" stroke-width="0.6"/><path d="M441.1 137.6L443.3 136.5L441.3 135.2L439.1 136.3Z" fill="#f6cc00" stroke="#f6cc00" stroke-width="0.6"/><path d="M439.1 136.3L441.3 135.2L439.4 133.8L437.2 134.9Z" fill="#f9b400" stroke="#f9b400" stroke-width="0.6"/><path d="M437.2 134.9L439.4 133.8L437.5 132.5L435.2 133.6Z" fill="#fd9c00" stroke="#fd9c00" stroke-width="0.6"/><path d="M435.2 133.6L437.5 132.5L435.5 131.2L433.3 132.3Z" fill="#ff8300" stroke="#ff8300" stroke-width="0.6"/><path d="M433.3 132.3L435.5 131.2L433.6 129.9L431.4 131Z" fill="#ff6900" stroke="#ff6900" stroke-width="0.6"/><path d="M431.4 131L433.6 129.9L431.7 128.6L429.5 129.6Z" fill="#ff4f00" stroke="#ff4f00" stroke-width="0.6"/><path d="M429.5 129.6L431.7 128.6L429.8 127.3L427.5 128.3Z" fill="#ff3400" stroke="#ff3400" stroke-width="0.6"/><path d="M427.5 128.3L429.8 127.3L427.9 126L425.6 127Z" fill="#ff1a00" stroke="#ff1a00" stroke-width="0.6"/><path d="M425.6 127L427.9 126L426 124.7L423.7 125.7Z" fill="#ff0000" stroke="#ff0000" stroke-width="0.6"/><path d="M423.7 125.7L426 124.7L424.1 123.4L421.8 124.4Z" fill="#ed0000" stroke="#ed0000" stroke-width="0.6"/><path d="M421.8 124.4L424.1 123.4L422.2 122.1L420 123.1Z" fill="#da0000" stroke="#da0000" stroke-width="0.6"/><path d="M420 123.1L422.2 122.1L420.3 120.8L418.1 121.8Z" fill="#c80000" stroke="#c80000" stroke-width="0.6"/><path d="M500.8 175.8L503.1 174.6L500.9 173.1L498.6 174.3Z" fill="#0d762c" stroke="#0d762c" stroke-width="0.6"/><path d="M498.6 174.3L500.9 173.1L498.8 171.7L496.5 172.9Z" fill="#0e7e28" stroke="#0e7e28" stroke-width="0.6"/><path d="M496.5 172.9L498.8 171.7L496.6 170.2L494.4 171.4Z" fill="#0e7e28" stroke="#0e7e28" stroke-width="0.6"/><path d="M494.4 171.4L496.6 170.2L494.5 168.7L492.2 169.9Z" fill="#0e7e28" stroke="#0e7e28" stroke-width="0.6"/><path d="M492.2 169.9L494.5 168.7L492.4 167.3L490.1 168.5Z" fill="#108626" stroke="#108626" stroke-width="0.6"/><path d="M490.1 168.5L492.4 167.3L490.2 165.9L488 167Z" fill="#108626" stroke="#108626" stroke-width="0.6"/><path d="M488 167L490.2 165.9L488.1 164.4L485.9 165.6Z" fill="#119023" stroke="#119023" stroke-width="0.6"/><path d="M485.9 165.6L488.1 164.4L486 163L483.8 164.2Z" fill="#119023" stroke="#119023" stroke-width="0.6"/><path d="M483.8 164.2L486 163L483.9 161.6L481.7 162.7Z" fill="#139a21" stroke="#139a21" stroke-width="0.6"/><path d="M481.7 162.7L483.9 161.6L481.9 160.1L479.6 161.3Z" fill="#139a21" stroke="#139a21" stroke-width="0.6"/><path d="M479.6 161.3L481.9 160.1L479.8 158.7L477.5 159.9Z" fill="#17a820" stroke="#17a820" stroke-width="0.6"/><path d="M477.5 159.9L479.8 158.7L477.7 157.3L475.5 158.5Z" fill="#17a820" stroke="#17a820" stroke-width="0.6"/><path d="M475.5 158.5L477.7 157.3L475.6 155.9L473.4 157.1Z" fill="#1db820" stroke="#1db820" stroke-width="0.6"/><path d="M473.4 157.1L475.6 155.9L473.6 154.5L471.3 155.7Z" fill="#24c720" stroke="#24c720" stroke-width="0.6"/><path d="M471.3 155.7L473.6 154.5L471.5 153.1L469.3 154.3Z" fill="#24c720" stroke="#24c720" stroke-width="0.6"/><path d="M469.3 154.3L471.5 153.1L469.5 151.7L467.2 152.9Z" fill="#2cd520" stroke="#2cd520" stroke-width="0.6"/><path d="M467.2 152.9L469.5 151.7L467.5 150.3L465.2 151.5Z" fill="#43df1b" stroke="#43df1b" stroke-width="0.6"/><path d="M465.2 151.5L467.5 150.3L465.4 149L463.2 150.1Z" fill="#43df1b" stroke="#43df1b" stroke-width="0.6"/><path d="M463.2 150.1L465.4 149L463.4 147.6L461.2 148.7Z" fill="#68e610" stroke="#68e610" stroke-width="0.6"/><path d="M461.2 148.7L463.4 147.6L461.4 146.2L459.2 147.3Z" fill="#8ded05" stroke="#8ded05" stroke-width="0.6"/><path d="M459.2 147.3L461.4 146.2L459.4 144.8L457.1 146Z" fill="#8ded05" stroke="#8ded05" stroke-width="0.6"/><path d="M457.1 146L459.4 144.8L457.4 143.5L455.1 144.6Z" fill="#adf000" stroke="#adf000" stroke-width="0.6"/><path d="M455.1 144.6L457.4 143.5L455.4 142.1L453.2 143.2Z" fill="#c8f000" stroke="#c8f000" stroke-width="0.6"/><path d="M453.2 143.2L455.4 142.1L453.4 140.8L451.2 141.9Z" fill="#e3f000" stroke="#e3f000" stroke-width="0.6"/><path d="M451.2 141.9L453.4 140.8L451.4 139.4L449.2 140.5Z" fill="#e3f000" stroke="#e3f000" stroke-width="0.6"/><path d="M449.2 140.5L451.4 139.4L449.5 138.1L447.2 139.2Z" fill="#f2e400" stroke="#f2e400" stroke-width="0.6"/><path d="M447.2 139.2L449.5 138.1L447.5 136.7L445.3 137.8Z" fill="#f6cc00" stroke="#f6cc00" stroke-width="0.6"/><path d="M445.3 137.8L447.5 136.7L445.5 135.4L443.3 136.5Z" fill="#f9b400" stroke="#f9b400" stroke-width="0.6"/><path d="M443.3 136.5L445.5 135.4L443.6 134.1L441.3 135.2Z" fill="#fd9c00" stroke="#fd9c00" stroke-width="0.6"/><path d="M441.3 135.2L443.6 134.1L441.6 132.7L439.4 133.8Z" fill="#fd9c00" stroke="#fd9c00" stroke-width="0.6"/><path d="M439.4 133.8L441.6 132.7L439.7 131.4L437.5 132.5Z" fill="#ff8300" stroke="#ff8300" stroke-width="0.6"/><path d="M437.5 132.5L439.7 131.4L437.8 130.1L435.5 131.2Z" fill="#ff6900" stroke="#ff6900" stroke-width="0.6"/><path d="M435.5 131.2L437.8 130.1L435.8 128.8L433.6 129.9Z" fill="#ff4f00" stroke="#ff4f00" stroke-width="0.6"/><path d="M433.6 129.9L435.8 128.8L433.9 127.5L431.7 128.6Z" fill="#ff3400" stroke="#ff3400" stroke-width="0.6"/><path d="M431.7 128.6L433.9 127.5L432 126.2L429.8 127.3Z" fill="#ff1a00" stroke="#ff1a00" stroke-width="0.6"/><path d="M429.8 127.3L432 126.2L430.1 124.9L427.9 126Z" fill="#ff0000" stroke="#ff0000" stroke-width="0.6"/><path d="M427.9 126L430.1 124.9L428.2 123.6L426 124.7Z" fill="#ed0000" stroke="#ed0000" stroke-width="0.6"/><path d="M426 124.7L428.2 123.6L426.3 122.3L424.1 123.4Z" fill="#da0000" stroke="#da0000" stroke-width="0.6"/><path d="M424.1 123.4L426.3 122.3L424.4 121L422.2 122.1Z" fill="#c80000" stroke="#c80000" stroke-width="0.6"/><path d="M422.2 122.1L424.4 121L422.6 119.7L420.3 120.8Z" fill="#b60000" stroke="#b60000" stroke-width="0.6"/><path d="M503.1 174.6L505.3 173.4L503.2 171.9L500.9 173.1Z" fill="#0e7e28" stroke="#0e7e28" stroke-width="0.6"/><path d="M500.9 173.1L503.2 171.9L501 170.5L498.8 171.7Z" fill="#0e7e28" stroke="#0e7e28" stroke-width="0.6"/><path d="M498.8 171.7L501 170.5L498.9 169L496.6 170.2Z" fill="#108626" stroke="#108626" stroke-width="0.6"/><path d="M496.6 170.2L498.9 169L496.7 167.6L494.5 168.7Z" fill="#108626" stroke="#108626" stroke-width="0.6"/><path d="M494.5 168.7L496.7 167.6L494.6 166.1L492.4 167.3Z" fill="#108626" stroke="#108626" stroke-width="0.6"/><path d="M492.4 167.3L494.6 166.1L492.5 164.7L490.2 165.9Z" fill="#119023" stroke="#119023" stroke-width="0.6"/><path d="M490.2 165.9L492.5 164.7L490.4 163.2L488.1 164.4Z" fill="#119023" stroke="#119023" stroke-width="0.6"/><path d="M488.1 164.4L490.4 163.2L488.3 161.8L486 163Z" fill="#139a21" stroke="#139a21" stroke-width="0.6"/><path d="M486 163L488.3 161.8L486.2 160.4L483.9 161.6Z" fill="#17a820" stroke="#17a820" stroke-width="0.6"/><path d="M483.9 161.6L486.2 160.4L484.1 159L481.9 160.1Z" fill="#17a820" stroke="#17a820" stroke-width="0.6"/><path d="M481.9 160.1L484.1 159L482 157.6L479.8 158.7Z" fill="#1db820" stroke="#1db820" stroke-width="0.6"/><path d="M479.8 158.7L482 157.6L480 156.2L477.7 157.3Z" fill="#1db820" stroke="#1db820" stroke-width="0.6"/><path d="M477.7 157.3L480 156.2L477.9 154.8L475.6 155.9Z" fill="#24c720" stroke="#24c720" stroke-width="0.6"/><path d="M475.6 155.9L477.9 154.8L475.8 153.4L473.6 154.5Z" fill="#24c720" stroke="#24c720" stroke-width="0.6"/><path d="M473.6 154.5L475.8 153.4L473.8 152L471.5 153.1Z" fill="#2cd520" stroke="#2cd520" stroke-width="0.6"/><path d="M471.5 153.1L473.8 152L471.7 150.6L469.5 151.7Z" fill="#43df1b" stroke="#43df1b" stroke-width="0.6"/><path d="M469.5 151.7L471.7 150.6L469.7 149.2L467.5 150.3Z" fill="#43df1b" stroke="#43df1b" stroke-width="0.6"/><path d="M467.5 150.3L469.7 149.2L467.7 147.8L465.4 149Z" fill="#68e610" stroke="#68e610" stroke-width="0.6"/><path d="M465.4 149L467.7 147.8L465.7 146.4L463.4 147.6Z" fill="#8ded05" stroke="#8ded05" stroke-width="0.6"/><path d="M463.4 147.6L465.7 146.4L463.6 145.1L461.4 146.2Z" fill="#adf000" stroke="#adf000" stroke-width="0.6"/><path d="M461.4 146.2L463.6 145.1L461.6 143.7L459.4 144.8Z" fill="#adf000" stroke="#adf000" stroke-width="0.6"/><path d="M459.4 144.8L461.6 143.7L459.6 142.4L457.4 143.5Z" fill="#c8f000" stroke="#c8f000" stroke-width="0.6"/><path d="M457.4 143.5L459.6 142.4L457.6 141L455.4 142.1Z" fill="#e3f000" stroke="#e3f000" stroke-width="0.6"/><path d="M455.4 142.1L457.6 141L455.7 139.7L453.4 140.8Z" fill="#f2e400" stroke="#f2e400" stroke-width="0.6"/><path d="M453.4 140.8L455.7 139.7L453.7 138.3L451.4 139.4Z" fill="#f2e400" stroke="#f2e400" stroke-width="0.6"/><path d="M451.4 139.4L453.7 138.3L451.7 137L449.5 138.1Z" fill="#f6cc00" stroke="#f6cc00" stroke-width="0.6"/><path d="M449.5 138.1L451.7 137L449.7 135.6L447.5 136.7Z" fill="#f9b400" stroke="#f9b400" stroke-width="0.6"/><path d="M447.5 136.7L449.7 135.6L447.8 134.3L445.5 135.4Z" fill="#fd9c00" stroke="#fd9c00" stroke-width="0.6"/><path d="M445.5 135.4L447.8 134.3L445.8 133L443.6 134.1Z" fill="#ff8300" stroke="#ff8300" stroke-width="0.6"/><path d="M443.6 134.1L445.8 133L443.9 131.7L441.6 132.7Z" fill="#ff6900" stroke="#ff6900" stroke-width="0.6"/><path d="M441.6 132.7L443.9 131.7L441.9 130.3L439.7 131.4Z" fill="#ff4f00" stroke="#ff4f00" stroke-width="0.6"/><path d="M439.7 131.4L441.9 130.3L440 129L437.8 130.1Z" fill="#ff4f00" stroke="#ff4f00" stroke-width="0.6"/><path d="M437.8 130.1L440 129L438.1 127.7L435.8 128.8Z" fill="#ff3400" stroke="#ff3400" stroke-width="0.6"/><path d="M435.8 128.8L438.1 127.7L436.2 126.4L433.9 127.5Z" fill="#ff1a00" stroke="#ff1a00" stroke-width="0.6"/><path d="M433.9 127.5L436.2 126.4L434.2 125.1L432 126.2Z" fill="#ff0000" stroke="#ff0000" stroke-width="0.6"/><path d="M432 126.2L434.2 125.1L432.3 123.8L430.1 124.9Z" fill="#ed0000" stroke="#ed0000" stroke-width="0.6"/><path d="M430.1 124.9L432.3 123.8L430.4 122.5L428.2 123.6Z" fill="#da0000" stroke="#da0000" stroke-width="0.6"/><path d="M428.2 123.6L430.4 122.5L428.5 121.2L426.3 122.3Z" fill="#c80000" stroke="#c80000" stroke-width="0.6"/><path d="M426.3 122.3L428.5 121.2L426.7 120L424.4 121Z" fill="#b60000" stroke="#b60000" stroke-width="0.6"/><path d="M424.4 121L426.7 120L424.8 118.7L422.6 119.7Z" fill="#a30000" stroke="#a30000" stroke-width="0.6"/></g>
<path d="M330.5 163.2L326.2 50.8M330.5 163.2h2M329.9 147.9h2M329.3 132.3h2M328.7 116.5h2M328.1 100.4h2M327.5 84.1h2M326.9 67.6h2M326.2 50.8h2" fill="none" stroke="#666" stroke-width="0.9"/>
<path d="M330.5 163.2L409.2 225L505.3 173.4" fill="none" stroke="#222" stroke-width="0.6"/>
<g stroke="#000" stroke-width="0.6" stroke-linejoin="round"><path d="M424.6 33.1L429.5 26.4L425.4 20.4L420.5 27.2Z" fill="#b80000"/><path d="M419.7 39.5L424.6 33.1L420.5 27.2L415.6 33.8Z" fill="#e40200"/><path d="M428.7 38.9L433.7 32.4L429.5 26.4L424.6 33.1Z" fill="#da0000"/><path d="M414.7 45.7L419.7 39.5L415.6 33.8L410.6 40.2Z" fill="#ff1300"/><path d="M423.8 45.1L428.7 38.9L424.6 33.1L419.7 39.5Z" fill="#f90d00"/><path d="M409.8 51.7L414.7 45.7L410.6 40.2L405.7 46.3Z" fill="#ff5e00"/><path d="M432.9 44.6L437.8 38.2L433.7 32.4L428.7 38.9Z" fill="#f20900"/><path d="M418.9 51.2L423.8 45.1L419.7 39.5L414.7 45.7Z" fill="#ff4900"/><path d="M404.8 57.6L409.8 51.7L405.7 46.3L400.7 52.3Z" fill="#ffac00"/><path d="M428 50.7L432.9 44.6L428.7 38.9L423.8 45.1Z" fill="#ff3600"/><path d="M413.9 57.1L418.9 51.2L414.7 45.7L409.8 51.7Z" fill="#ff9800"/><path d="M437.1 50.2L442 44L437.8 38.2L432.9 44.6Z" fill="#ff2400"/><path d="M399.8 63.1L404.8 57.6L400.7 52.3L395.7 58Z" fill="#f9df00"/><path d="M423 56.6L428 50.7L423.8 45.1L418.9 51.2Z" fill="#ff8400"/><path d="M408.9 62.7L413.9 57.1L409.8 51.7L404.8 57.6Z" fill="#fbd500"/><path d="M432.1 56.2L437.1 50.2L432.9 44.6L428 50.7Z" fill="#ff7000"/><path d="M394.8 68.5L399.8 63.1L395.7 58L390.7 63.6Z" fill="#d7f000"/><path d="M418 62.3L423 56.6L418.9 51.2L413.9 57.1Z" fill="#fecc00"/><path d="M441.3 55.7L446.2 49.6L442 44L437.1 50.2Z" fill="#ff5c00"/><path d="M403.9 68.2L408.9 62.7L404.8 57.6L399.8 63.1Z" fill="#e6f000"/><path d="M427.2 61.9L432.1 56.2L428 50.7L423 56.6Z" fill="#ffbd00"/><path d="M389.8 73.7L394.8 68.5L390.7 63.6L385.7 68.9Z" fill="#94ef00"/><path d="M413 67.8L418 62.3L413.9 57.1L408.9 62.7Z" fill="#f4ef00"/><path d="M436.3 61.5L441.3 55.7L437.1 50.2L432.1 56.2Z" fill="#ffaa00"/><path d="M398.9 73.4L403.9 68.2L399.8 63.1L394.8 68.5Z" fill="#adf000"/><path d="M422.2 67.5L427.2 61.9L423 56.6L418 62.3Z" fill="#f7e700"/><path d="M445.5 61.1L450.4 55.2L446.2 49.6L441.3 55.7Z" fill="#ff9700"/><path d="M408 73.1L413 67.8L408.9 62.7L403.9 68.2Z" fill="#bcf000"/><path d="M431.4 67.1L436.3 61.5L432.1 56.2L427.2 61.9Z" fill="#f9de00"/><path d="M384.7 78.7L389.8 73.7L385.7 68.9L380.6 74Z" fill="#45e706"/><path d="M417.2 72.9L422.2 67.5L418 62.3L413 67.8Z" fill="#caf000"/><path d="M440.5 66.8L445.5 61.1L441.3 55.7L436.3 61.5Z" fill="#fbd500"/><path d="M393.8 78.5L398.9 73.4L394.8 68.5L389.8 73.7Z" fill="#51ec00"/><path d="M426.4 72.6L431.4 67.1L427.2 61.9L422.2 67.5Z" fill="#d9f000"/><path d="M403 78.2L408 73.1L403.9 68.2L398.9 73.4Z" fill="#68ed00"/><path d="M449.7 66.5L454.7 60.7L450.4 55.2L445.5 61.1Z" fill="#fecc00"/><path d="M379.6 83.5L384.7 78.7L380.6 74L375.6 78.9Z" fill="#1fd618"/><path d="M435.6 72.3L440.5 66.8L436.3 61.5L431.4 67.1Z" fill="#e7f000"/><path d="M412.2 78L417.2 72.9L413 67.8L408 73.1Z" fill="#80ee00"/><path d="M388.8 83.3L393.8 78.5L389.8 73.7L384.7 78.7Z" fill="#26db15"/><path d="M444.8 72L449.7 66.5L445.5 61.1L440.5 66.8Z" fill="#f4f000"/><path d="M421.4 77.8L426.4 72.6L422.2 67.5L417.2 72.9Z" fill="#97ef00"/><path d="M398 83.1L403 78.2L398.9 73.4L393.8 78.5Z" fill="#31df0f"/><path d="M374.5 88L379.6 83.5L375.6 78.9L370.5 83.6Z" fill="#19c71a"/><path d="M454 71.7L459 66.1L454.7 60.7L449.7 66.5Z" fill="#f6e700"/><path d="M430.6 77.6L435.6 72.3L431.4 67.1L426.4 72.6Z" fill="#aef000"/><path d="M407.2 83L412.2 78L408 73.1L403 78.2Z" fill="#3ce40a"/><path d="M383.7 87.9L388.8 83.3L384.7 78.7L379.6 83.5Z" fill="#1bcb1a"/><path d="M439.8 77.3L444.8 72L440.5 66.8L435.6 72.3Z" fill="#bcf000"/><path d="M416.4 82.8L421.4 77.8L417.2 72.9L412.2 78Z" fill="#47e805"/><path d="M392.9 87.8L398 83.1L393.8 78.5L388.8 83.3Z" fill="#1ccf19"/><path d="M449 77.1L454 71.7L449.7 66.5L444.8 72Z" fill="#c9f000"/><path d="M425.6 82.6L430.6 77.6L426.4 72.6L421.4 77.8Z" fill="#53ec00"/><path d="M369.4 92.4L374.5 88L370.5 83.6L365.4 88.1Z" fill="#14ba1c"/><path d="M402.1 87.7L407.2 83L403 78.2L398 83.1Z" fill="#1ed319"/><path d="M458.3 76.9L463.2 71.4L459 66.1L454 71.7Z" fill="#d7f000"/><path d="M434.8 82.5L439.8 77.3L435.6 72.3L430.6 77.6Z" fill="#69ed00"/><path d="M378.6 92.3L383.7 87.9L379.6 83.5L374.5 88Z" fill="#15be1c"/><path d="M411.3 87.6L416.4 82.8L412.2 78L407.2 83Z" fill="#20d718"/><path d="M444.1 82.3L449 77.1L444.8 72L439.8 77.3Z" fill="#7eee00"/><path d="M387.8 92.3L392.9 87.8L388.8 83.3L383.7 87.9Z" fill="#16c11b"/><path d="M420.6 87.5L425.6 82.6L421.4 77.8L416.4 82.8Z" fill="#27db14"/><path d="M453.3 82.1L458.3 76.9L454 71.7L449 77.1Z" fill="#94ef00"/><path d="M364.2 96.5L369.4 92.4L365.4 88.1L360.2 92.4Z" fill="#12ae1e"/><path d="M397 92.2L402.1 87.7L398 83.1L392.9 87.8Z" fill="#18c51b"/><path d="M429.8 87.4L434.8 82.5L430.6 77.6L425.6 82.6Z" fill="#31df0f"/><path d="M373.5 96.5L378.6 92.3L374.5 88L369.4 92.4Z" fill="#12b11e"/><path d="M406.3 92.2L411.3 87.6L407.2 83L402.1 87.7Z" fill="#19c81a"/><path d="M462.6 81.9L467.6 76.6L463.2 71.4L458.3 76.9Z" fill="#a9f000"/><path d="M439.1 87.3L444.1 82.3L439.8 77.3L434.8 82.5Z" fill="#3be30a"/><path d="M382.7 96.6L387.8 92.3L383.7 87.9L378.6 92.3Z" fill="#13b41d"/><path d="M415.5 92.1L420.6 87.5L416.4 82.8L411.3 87.6Z" fill="#1bcc1a"/><path d="M448.4 87.1L453.3 82.1L449 77.1L444.1 82.3Z" fill="#45e705"/><path d="M391.9 96.6L397 92.2L392.9 87.8L387.8 92.3Z" fill="#13b81d"/><path d="M424.8 92.1L429.8 87.4L425.6 82.6L420.6 87.5Z" fill="#1ccf19"/><path d="M359 100.5L364.2 96.5L360.2 92.4L355 96.5Z" fill="#10a320"/><path d="M457.7 87L462.6 81.9L458.3 76.9L453.3 82.1Z" fill="#4fec00"/><path d="M401.2 96.6L406.3 92.2L402.1 87.7L397 92.2Z" fill="#14bb1c"/><path d="M434.1 92L439.1 87.3L434.8 82.5L429.8 87.4Z" fill="#1ed319"/><path d="M368.3 100.6L373.5 96.5L369.4 92.4L364.2 96.5Z" fill="#11a61f"/><path d="M467 86.9L471.9 81.8L467.6 76.6L462.6 81.9Z" fill="#62ed00"/><path d="M410.5 96.6L415.5 92.1L411.3 87.6L406.3 92.2Z" fill="#15be1c"/><path d="M377.5 100.6L382.7 96.6L378.6 92.3L373.5 96.5Z" fill="#11a91f"/><path d="M443.4 92L448.4 87.1L444.1 82.3L439.1 87.3Z" fill="#1fd618"/><path d="M419.7 96.6L424.8 92.1L420.6 87.5L415.5 92.1Z" fill="#16c11b"/><path d="M386.8 100.7L391.9 96.6L387.8 92.3L382.7 96.6Z" fill="#12ac1e"/><path d="M452.7 91.9L457.7 87L453.3 82.1L448.4 87.1Z" fill="#25da16"/><path d="M353.8 104.2L359 100.5L355 96.5L349.8 100.4Z" fill="#0f9a22"/><path d="M429 96.6L434.1 92L429.8 87.4L424.8 92.1Z" fill="#18c41b"/><path d="M396.1 100.8L401.2 96.6L397 92.2L391.9 96.6Z" fill="#12af1e"/><path d="M462 91.9L467 86.9L462.6 81.9L457.7 87Z" fill="#2ede11"/><path d="M363.1 104.3L368.3 100.6L364.2 96.5L359 100.5Z" fill="#0f9c21"/><path d="M438.4 96.6L443.4 92L439.1 87.3L434.1 92Z" fill="#19c81a"/><path d="M405.4 100.8L410.5 96.6L406.3 92.2L401.2 96.6Z" fill="#13b21d"/><path d="M471.3 91.8L476.3 86.8L471.9 81.8L467 86.9Z" fill="#37e20c"/><path d="M372.4 104.5L377.5 100.6L373.5 96.5L368.3 100.6Z" fill="#109f20"/><path d="M447.7 96.6L452.7 91.9L448.4 87.1L443.4 92Z" fill="#1acb1a"/><path d="M414.7 100.9L419.7 96.6L415.5 92.1L410.5 96.6Z" fill="#13b41d"/><path d="M381.6 104.6L386.8 100.7L382.7 96.6L377.5 100.6Z" fill="#10a120"/><path d="M424 101L429 96.6L424.8 92.1L419.7 96.6Z" fill="#13b71d"/><path d="M457 96.6L462 91.9L457.7 87L452.7 91.9Z" fill="#1cce19"/><path d="M348.6 107.8L353.8 104.2L349.8 100.4L344.6 104.1Z" fill="#0e9225"/><path d="M390.9 104.7L396.1 100.8L391.9 96.6L386.8 100.7Z" fill="#11a41f"/><path d="M357.9 107.9L363.1 104.3L359 100.5L353.8 104.2Z" fill="#0e9424"/><path d="M433.3 101L438.4 96.6L434.1 92L429 96.6Z" fill="#14ba1c"/><path d="M466.4 96.6L471.3 91.8L467 86.9L462 91.9Z" fill="#1dd119"/><path d="M400.3 104.9L405.4 100.8L401.2 96.6L396.1 100.8Z" fill="#11a61f"/><path d="M367.1 108.1L372.4 104.5L368.3 100.6L363.1 104.3Z" fill="#0e9623"/><path d="M442.7 101.1L447.7 96.6L443.4 92L438.4 96.6Z" fill="#14bd1c"/><path d="M475.7 96.6L480.7 91.8L476.3 86.8L471.3 91.8Z" fill="#1fd518"/><path d="M409.6 105L414.7 100.9L410.5 96.6L405.4 100.8Z" fill="#11a91f"/><path d="M376.5 108.3L381.6 104.6L377.5 100.6L372.4 104.5Z" fill="#0f9923"/><path d="M452 101.1L457 96.6L452.7 91.9L447.7 96.6Z" fill="#16c01b"/><path d="M418.9 105.1L424 101L419.7 96.6L414.7 100.9Z" fill="#12ac1e"/><path d="M385.8 108.5L390.9 104.7L386.8 100.7L381.6 104.6Z" fill="#0f9b22"/><path d="M343.3 111.1L348.6 107.8L344.6 104.1L339.3 107.6Z" fill="#0c8c27"/><path d="M461.4 101.2L466.4 96.6L462 91.9L457 96.6Z" fill="#17c31b"/><path d="M428.3 105.2L433.3 101L429 96.6L424 101Z" fill="#12ae1e"/><path d="M352.6 111.3L357.9 107.9L353.8 104.2L348.6 107.8Z" fill="#0d8e27"/><path d="M395.1 108.7L400.3 104.9L396.1 100.8L390.9 104.7Z" fill="#0f9d21"/><path d="M470.8 101.3L475.7 96.6L471.3 91.8L466.4 96.6Z" fill="#18c61b"/><path d="M437.6 105.4L442.7 101.1L438.4 96.6L433.3 101Z" fill="#12b11e"/><path d="M361.9 111.6L367.1 108.1L363.1 104.3L357.9 107.9Z" fill="#0d8f26"/><path d="M404.5 108.9L409.6 105L405.4 100.8L400.3 104.9Z" fill="#109f20"/><path d="M480.2 101.3L485.1 96.6L480.7 91.8L475.7 96.6Z" fill="#19c91a"/><path d="M447 105.5L452 101.1L447.7 96.6L442.7 101.1Z" fill="#13b31d"/><path d="M371.2 111.8L376.5 108.3L372.4 104.5L367.1 108.1Z" fill="#0d9125"/><path d="M413.8 109L418.9 105.1L414.7 100.9L409.6 105Z" fill="#10a120"/><path d="M456.4 105.6L461.4 101.2L457 96.6L452 101.1Z" fill="#13b61d"/><path d="M380.6 112.1L385.8 108.5L381.6 104.6L376.5 108.3Z" fill="#0e9325"/><path d="M423.2 109.2L428.3 105.2L424 101L418.9 105.1Z" fill="#10a320"/><path d="M338 114.2L343.3 111.1L339.3 107.6L334 110.8Z" fill="#0b7e2d"/><path d="M465.8 105.7L470.8 101.3L466.4 96.6L461.4 101.2Z" fill="#13b81d"/><path d="M389.9 112.3L395.1 108.7L390.9 104.7L385.8 108.5Z" fill="#0e9524"/><path d="M432.6 109.4L437.6 105.4L433.3 101L428.3 105.2Z" fill="#11a61f"/><path d="M347.3 114.5L352.6 111.3L348.6 107.8L343.3 111.1Z" fill="#0c832b"/><path d="M475.2 105.9L480.2 101.3L475.7 96.6L470.8 101.3Z" fill="#14bb1c"/><path d="M399.3 112.5L404.5 108.9L400.3 104.9L395.1 108.7Z" fill="#0e9723"/><path d="M442 109.6L447 105.5L442.7 101.1L437.6 105.4Z" fill="#11a81f"/><path d="M356.6 114.8L361.9 111.6L357.9 107.9L352.6 111.3Z" fill="#0c8929"/><path d="M484.6 106L489.6 101.4L485.1 96.6L480.2 101.3Z" fill="#15be1c"/><path d="M408.7 112.8L413.8 109L409.6 105L404.5 108.9Z" fill="#0f9823"/><path d="M366 115.1L371.2 111.8L367.1 108.1L361.9 111.6Z" fill="#0c8b28"/><path d="M451.4 109.8L456.4 105.6L452 101.1L447 105.5Z" fill="#11aa1f"/><path d="M418.1 113L423.2 109.2L418.9 105.1L413.8 109Z" fill="#0f9a22"/><path d="M375.4 115.4L380.6 112.1L376.5 108.3L371.2 111.8Z" fill="#0c8d27"/><path d="M460.8 110L465.8 105.7L461.4 101.2L456.4 105.6Z" fill="#12ac1e"/><path d="M332.6 117.1L338 114.2L334 110.8L328.6 113.9Z" fill="#0a7034"/><path d="M427.5 113.3L432.6 109.4L428.3 105.2L423.2 109.2Z" fill="#0f9c21"/><path d="M384.7 115.7L389.9 112.3L385.8 108.5L380.6 112.1Z" fill="#0d8e26"/><path d="M470.2 110.2L475.2 105.9L470.8 101.3L465.8 105.7Z" fill="#12af1e"/><path d="M341.9 117.5L347.3 114.5L343.3 111.1L338 114.2Z" fill="#0b7432"/><path d="M436.9 113.5L442 109.6L437.6 105.4L432.6 109.4Z" fill="#109e21"/><path d="M394.1 116L399.3 112.5L395.1 108.7L389.9 112.3Z" fill="#0d9026"/><path d="M479.7 110.3L484.6 106L480.2 101.3L475.2 105.9Z" fill="#12b11e"/><path d="M351.3 117.8L356.6 114.8L352.6 111.3L347.3 114.5Z" fill="#0b7830"/><path d="M446.3 113.8L451.4 109.8L447 105.5L442 109.6Z" fill="#10a020"/><path d="M403.5 116.3L408.7 112.8L404.5 108.9L399.3 112.5Z" fill="#0d9125"/><path d="M489.1 110.5L494.1 106.1L489.6 101.4L484.6 106Z" fill="#13b31d"/><path d="M360.7 118.2L366 115.1L361.9 111.6L356.6 114.8Z" fill="#0b7d2e"/><path d="M455.8 114L460.8 110L456.4 105.6L451.4 109.8Z" fill="#10a220"/><path d="M412.9 116.6L418.1 113L413.8 109L408.7 112.8Z" fill="#0e9325"/><path d="M370.1 118.5L375.4 115.4L371.2 111.8L366 115.1Z" fill="#0b812c"/><path d="M422.4 116.9L427.5 113.3L423.2 109.2L418.1 113Z" fill="#0e9424"/><path d="M465.2 114.2L470.2 110.2L465.8 105.7L460.8 110Z" fill="#11a41f"/><path d="M379.5 118.9L384.7 115.7L380.6 112.1L375.4 115.4Z" fill="#0c852a"/><path d="M431.8 117.2L436.9 113.5L432.6 109.4L427.5 113.3Z" fill="#0e9624"/><path d="M474.7 114.5L479.7 110.3L475.2 105.9L470.2 110.2Z" fill="#11a51f"/><path d="M388.9 119.3L394.1 116L389.9 112.3L384.7 115.7Z" fill="#0c8a28"/><path d="M336.6 120.2L341.9 117.5L338 114.2L332.6 117.1Z" fill="#0a6a36"/><path d="M441.3 117.5L446.3 113.8L442 109.6L436.9 113.5Z" fill="#0e9723"/><path d="M484.2 114.7L489.1 110.5L484.6 106L479.7 110.3Z" fill="#11a71f"/><path d="M346 120.6L351.3 117.8L347.3 114.5L341.9 117.5Z" fill="#0a6c35"/><path d="M398.3 119.6L403.5 116.3L399.3 112.5L394.1 116Z" fill="#0c8b28"/><path d="M450.7 117.8L455.8 114L451.4 109.8L446.3 113.8Z" fill="#0f9923"/><path d="M493.6 115L498.6 110.7L494.1 106.1L489.1 110.5Z" fill="#11a91f"/><path d="M355.4 121.1L360.7 118.2L356.6 114.8L351.3 117.8Z" fill="#0a7034"/><path d="M407.8 120L412.9 116.6L408.7 112.8L403.5 116.3Z" fill="#0c8c27"/><path d="M460.2 118.1L465.2 114.2L460.8 110L455.8 114Z" fill="#0f9a22"/><path d="M364.8 121.5L370.1 118.5L366 115.1L360.7 118.2Z" fill="#0b7332"/><path d="M417.2 120.4L422.4 116.9L418.1 113L412.9 116.6Z" fill="#0d8d27"/><path d="M469.7 118.4L474.7 114.5L470.2 110.2L465.2 114.2Z" fill="#0f9c22"/><path d="M374.2 121.9L379.5 118.9L375.4 115.4L370.1 118.5Z" fill="#0b7631"/><path d="M426.7 120.7L431.8 117.2L427.5 113.3L422.4 116.9Z" fill="#0d8f26"/><path d="M479.2 118.7L484.2 114.7L479.7 110.3L474.7 114.5Z" fill="#0f9d21"/><path d="M383.7 122.3L388.9 119.3L384.7 115.7L379.5 118.9Z" fill="#0b792f"/><path d="M436.2 121.1L441.3 117.5L436.9 113.5L431.8 117.2Z" fill="#0d9026"/><path d="M393.1 122.7L398.3 119.6L394.1 116L388.9 119.3Z" fill="#0b7c2e"/><path d="M488.7 119L493.6 115L489.1 110.5L484.2 114.7Z" fill="#109f20"/><path d="M445.7 121.4L450.7 117.8L446.3 113.8L441.3 117.5Z" fill="#0d9125"/><path d="M340.6 123.2L346 120.6L341.9 117.5L336.6 120.2Z" fill="#0a6837"/><path d="M402.6 123.2L407.8 120L403.5 116.3L398.3 119.6Z" fill="#0b802d"/><path d="M498.2 119.3L503.1 115.2L498.6 110.7L493.6 115Z" fill="#10a020"/><path d="M455.1 121.8L460.2 118.1L455.8 114L450.7 117.8Z" fill="#0d9225"/><path d="M350 123.7L355.4 121.1L351.3 117.8L346 120.6Z" fill="#0a6937"/><path d="M412.1 123.6L417.2 120.4L412.9 116.6L407.8 120Z" fill="#0c832b"/><path d="M359.5 124.2L364.8 121.5L360.7 118.2L355.4 121.1Z" fill="#0a6a36"/><path d="M464.7 122.2L469.7 118.4L465.2 114.2L460.2 118.1Z" fill="#0e9325"/><path d="M421.6 124L426.7 120.7L422.4 116.9L417.2 120.4Z" fill="#0c862a"/><path d="M368.9 124.7L374.2 121.9L370.1 118.5L364.8 121.5Z" fill="#0a6b35"/><path d="M474.2 122.5L479.2 118.7L474.7 114.5L469.7 118.4Z" fill="#0e9524"/><path d="M431.1 124.4L436.2 121.1L431.8 117.2L426.7 120.7Z" fill="#0c8928"/><path d="M378.4 125.2L383.7 122.3L379.5 118.9L374.2 121.9Z" fill="#0a6d35"/><path d="M483.7 122.9L488.7 119L484.2 114.7L479.2 118.7Z" fill="#0e9624"/><path d="M440.6 124.8L445.7 121.4L441.3 117.5L436.2 121.1Z" fill="#0c8b28"/><path d="M387.9 125.6L393.1 122.7L388.9 119.3L383.7 122.3Z" fill="#0a6f34"/><path d="M493.2 123.3L498.2 119.3L493.6 115L488.7 119Z" fill="#0e9723"/><path d="M450.1 125.3L455.1 121.8L450.7 117.8L445.7 121.4Z" fill="#0c8c27"/><path d="M397.4 126.1L402.6 123.2L398.3 119.6L393.1 122.7Z" fill="#0a7133"/><path d="M502.8 123.6L507.7 119.6L503.1 115.2L498.2 119.3Z" fill="#0f9823"/><path d="M344.6 126.2L350 123.7L346 120.6L340.6 123.2Z" fill="#0a6737"/><path d="M459.6 125.7L464.7 122.2L460.2 118.1L455.1 121.8Z" fill="#0c8c27"/><path d="M406.9 126.6L412.1 123.6L407.8 120L402.6 123.2Z" fill="#0b7432"/><path d="M354.1 126.7L359.5 124.2L355.4 121.1L350 123.7Z" fill="#0a6837"/><path d="M469.2 126.1L474.2 122.5L469.7 118.4L464.7 122.2Z" fill="#0d8d27"/><path d="M416.4 127.1L421.6 124L417.2 120.4L412.1 123.6Z" fill="#0b7631"/><path d="M363.6 127.2L368.9 124.7L364.8 121.5L359.5 124.2Z" fill="#0a6837"/><path d="M425.9 127.6L431.1 124.4L426.7 120.7L421.6 124Z" fill="#0b7830"/><path d="M478.7 126.5L483.7 122.9L479.2 118.7L474.2 122.5Z" fill="#0d8e26"/><path d="M373.1 127.8L378.4 125.2L374.2 121.9L368.9 124.7Z" fill="#0a6837"/><path d="M435.4 128L440.6 124.8L436.2 121.1L431.1 124.4Z" fill="#0b7a2f"/><path d="M488.3 127L493.2 123.3L488.7 119L483.7 122.9Z" fill="#0d8f26"/><path d="M382.6 128.3L387.9 125.6L383.7 122.3L378.4 125.2Z" fill="#0a6937"/><path d="M445 128.5L450.1 125.3L445.7 121.4L440.6 124.8Z" fill="#0b7c2e"/><path d="M497.8 127.4L502.8 123.6L498.2 119.3L493.2 123.3Z" fill="#0d9026"/><path d="M392.1 128.9L397.4 126.1L393.1 122.7L387.9 125.6Z" fill="#0a6936"/><path d="M454.5 129L459.6 125.7L455.1 121.8L450.1 125.3Z" fill="#0b7e2d"/><path d="M401.6 129.4L406.9 126.6L402.6 123.2L397.4 126.1Z" fill="#0a6a36"/><path d="M464.1 129.5L469.2 126.1L464.7 122.2L459.6 125.7Z" fill="#0b802c"/><path d="M411.2 129.9L416.4 127.1L412.1 123.6L406.9 126.6Z" fill="#0a6a36"/><path d="M348.7 129L354.1 126.7L350 123.7L344.6 126.2Z" fill="#0a6837"/><path d="M473.7 130L478.7 126.5L474.2 122.5L469.2 126.1Z" fill="#0c822b"/><path d="M420.7 130.5L425.9 127.6L421.6 124L416.4 127.1Z" fill="#0a6b36"/><path d="M358.2 129.6L363.6 127.2L359.5 124.2L354.1 126.7Z" fill="#0a6837"/><path d="M483.3 130.5L488.3 127L483.7 122.9L478.7 126.5Z" fill="#0c852a"/><path d="M430.3 131L435.4 128L431.1 124.4L425.9 127.6Z" fill="#0a6c35"/><path d="M367.7 130.2L373.1 127.8L368.9 124.7L363.6 127.2Z" fill="#0a6737"/><path d="M492.9 130.9L497.8 127.4L493.2 123.3L488.3 127Z" fill="#0c8729"/><path d="M439.9 131.6L445 128.5L440.6 124.8L435.4 128Z" fill="#0a6d35"/><path d="M377.3 130.8L382.6 128.3L378.4 125.2L373.1 127.8Z" fill="#0a6737"/><path d="M386.8 131.4L392.1 128.9L387.9 125.6L382.6 128.3Z" fill="#0a6737"/><path d="M449.4 132.1L454.5 129L450.1 125.3L445 128.5Z" fill="#0a6e34"/><path d="M396.4 132L401.6 129.4L397.4 126.1L392.1 128.9Z" fill="#0a6738"/><path d="M459 132.7L464.1 129.5L459.6 125.7L454.5 129Z" fill="#0a6f34"/><path d="M405.9 132.6L411.2 129.9L406.9 126.6L401.6 129.4Z" fill="#0a6738"/><path d="M468.6 133.2L473.7 130L469.2 126.1L464.1 129.5Z" fill="#0a7033"/><path d="M415.5 133.2L420.7 130.5L416.4 127.1L411.2 129.9Z" fill="#0a6738"/><path d="M478.2 133.7L483.3 130.5L478.7 126.5L473.7 130Z" fill="#0a7133"/><path d="M352.7 131.7L358.2 129.6L354.1 126.7L348.7 129Z" fill="#0a6937"/><path d="M425.1 133.8L430.3 131L425.9 127.6L420.7 130.5Z" fill="#0a6738"/><path d="M487.9 134.3L492.9 130.9L488.3 127L483.3 130.5Z" fill="#0a7233"/><path d="M362.3 132.4L367.7 130.2L363.6 127.2L358.2 129.6Z" fill="#0a6837"/><path d="M434.7 134.4L439.9 131.6L435.4 128L430.3 131Z" fill="#0a6738"/><path d="M371.9 133.1L377.3 130.8L373.1 127.8L367.7 130.2Z" fill="#0a6837"/><path d="M444.3 135L449.4 132.1L445 128.5L439.9 131.6Z" fill="#0a6738"/><path d="M381.5 133.7L386.8 131.4L382.6 128.3L377.3 130.8Z" fill="#0a6738"/><path d="M453.9 135.6L459 132.7L454.5 129L449.4 132.1Z" fill="#0a6738"/><path d="M391.1 134.4L396.4 132L392.1 128.9L386.8 131.4Z" fill="#0a6738"/><path d="M463.6 136.2L468.6 133.2L464.1 129.5L459 132.7Z" fill="#0a6738"/><path d="M400.7 135L405.9 132.6L401.6 129.4L396.4 132Z" fill="#0a6638"/><path d="M473.2 136.8L478.2 133.7L473.7 130L468.6 133.2Z" fill="#0a6738"/><path d="M410.3 135.7L415.5 133.2L411.2 129.9L405.9 132.6Z" fill="#0a6638"/><path d="M482.9 137.4L487.9 134.3L483.3 130.5L478.2 133.7Z" fill="#0a6738"/><path d="M419.9 136.4L425.1 133.8L420.7 130.5L415.5 133.2Z" fill="#0a6539"/><path d="M429.5 137L434.7 134.4L430.3 131L425.1 133.8Z" fill="#0a6539"/><path d="M356.9 134.4L362.3 132.4L358.2 129.6L352.7 131.7Z" fill="#0a6b35"/><path d="M439.2 137.7L444.3 135L439.9 131.6L434.7 134.4Z" fill="#0a6439"/><path d="M366.5 135.1L371.9 133.1L367.7 130.2L362.3 132.4Z" fill="#0a6a36"/><path d="M448.8 138.4L453.9 135.6L449.4 132.1L444.3 135Z" fill="#0a6439"/><path d="M376.1 135.8L381.5 133.7L377.3 130.8L371.9 133.1Z" fill="#0a6937"/><path d="M385.7 136.6L391.1 134.4L386.8 131.4L381.5 133.7Z" fill="#0a6837"/><path d="M458.5 139L463.6 136.2L459 132.7L453.9 135.6Z" fill="#0a633a"/><path d="M395.4 137.3L400.7 135L396.4 132L391.1 134.4Z" fill="#0a6738"/><path d="M468.1 139.7L473.2 136.8L468.6 133.2L463.6 136.2Z" fill="#0a633a"/><path d="M405 138L410.3 135.7L405.9 132.6L400.7 135Z" fill="#0a6638"/><path d="M477.8 140.3L482.9 137.4L478.2 133.7L473.2 136.8Z" fill="#0a633a"/><path d="M414.6 138.7L419.9 136.4L415.5 133.2L410.3 135.7Z" fill="#0a6539"/><path d="M424.3 139.4L429.5 137L425.1 133.8L419.9 136.4Z" fill="#0a6439"/><path d="M434 140.2L439.2 137.7L434.7 134.4L429.5 137Z" fill="#0a633a"/><path d="M361 136.9L366.5 135.1L362.3 132.4L356.9 134.4Z" fill="#0b7332"/><path d="M443.7 140.9L448.8 138.4L444.3 135L439.2 137.7Z" fill="#0a633a"/><path d="M370.7 137.7L376.1 135.8L371.9 133.1L366.5 135.1Z" fill="#0a6f34"/><path d="M453.3 141.6L458.5 139L453.9 135.6L448.8 138.4Z" fill="#0a623b"/><path d="M380.3 138.5L385.7 136.6L381.5 133.7L376.1 135.8Z" fill="#0a6c35"/><path d="M463 142.3L468.1 139.7L463.6 136.2L458.5 139Z" fill="#0a613b"/><path d="M390 139.3L395.4 137.3L391.1 134.4L385.7 136.6Z" fill="#0a6936"/><path d="M472.7 143.1L477.8 140.3L473.2 136.8L468.1 139.7Z" fill="#0a603c"/><path d="M399.7 140.1L405 138L400.7 135L395.4 137.3Z" fill="#0a6837"/><path d="M409.4 140.8L414.6 138.7L410.3 135.7L405 138Z" fill="#0a6738"/><path d="M419.1 141.6L424.3 139.4L419.9 136.4L414.6 138.7Z" fill="#0a6539"/><path d="M428.8 142.4L434 140.2L429.5 137L424.3 139.4Z" fill="#0a6439"/><path d="M438.5 143.2L443.7 140.9L439.2 137.7L434 140.2Z" fill="#0a633a"/><path d="M448.2 144L453.3 141.6L448.8 138.4L443.7 140.9Z" fill="#0a623b"/><path d="M365.2 139.4L370.7 137.7L366.5 135.1L361 136.9Z" fill="#0b7d2e"/><path d="M457.9 144.8L463 142.3L458.5 139L453.3 141.6Z" fill="#0a603b"/><path d="M374.9 140.2L380.3 138.5L376.1 135.8L370.7 137.7Z" fill="#0b7830"/><path d="M467.6 145.6L472.7 143.1L468.1 139.7L463 142.3Z" fill="#0a5f3c"/><path d="M384.6 141.1L390 139.3L385.7 136.6L380.3 138.5Z" fill="#0b7332"/><path d="M394.3 141.9L399.7 140.1L395.4 137.3L390 139.3Z" fill="#0a6f34"/><path d="M404 142.8L409.4 140.8L405 138L399.7 140.1Z" fill="#0a6a36"/><path d="M413.8 143.6L419.1 141.6L414.6 138.7L409.4 140.8Z" fill="#0a6837"/><path d="M423.5 144.5L428.8 142.4L424.3 139.4L419.1 141.6Z" fill="#0a6738"/><path d="M433.2 145.3L438.5 143.2L434 140.2L428.8 142.4Z" fill="#0a6539"/><path d="M443 146.1L448.2 144L443.7 140.9L438.5 143.2Z" fill="#0a633a"/><path d="M452.7 147L457.9 144.8L453.3 141.6L448.2 144Z" fill="#0a613b"/><path d="M462.5 147.8L467.6 145.6L463 142.3L457.9 144.8Z" fill="#0a603c"/><path d="M369.4 141.7L374.9 140.2L370.7 137.7L365.2 139.4Z" fill="#0c8929"/><path d="M379.2 142.6L384.6 141.1L380.3 138.5L374.9 140.2Z" fill="#0c832b"/><path d="M388.9 143.6L394.3 141.9L390 139.3L384.6 141.1Z" fill="#0b7d2e"/><path d="M398.7 144.5L404 142.8L399.7 140.1L394.3 141.9Z" fill="#0b7730"/><path d="M408.4 145.4L413.8 143.6L409.4 140.8L404 142.8Z" fill="#0a7233"/><path d="M418.2 146.3L423.5 144.5L419.1 141.6L413.8 143.6Z" fill="#0a6c35"/><path d="M428 147.2L433.2 145.3L428.8 142.4L423.5 144.5Z" fill="#0a6937"/><path d="M437.8 148.1L443 146.1L438.5 143.2L433.2 145.3Z" fill="#0a6638"/><path d="M447.6 149L452.7 147L448.2 144L443 146.1Z" fill="#0a6439"/><path d="M457.4 149.9L462.5 147.8L457.9 144.8L452.7 147Z" fill="#0a623a"/><path d="M373.7 144L379.2 142.6L374.9 140.2L369.4 141.7Z" fill="#0d8e27"/><path d="M383.5 145L388.9 143.6L384.6 141.1L379.2 142.6Z" fill="#0c8c27"/><path d="M393.3 145.9L398.7 144.5L394.3 141.9L388.9 143.6Z" fill="#0c8928"/><path d="M403.1 146.9L408.4 145.4L404 142.8L398.7 144.5Z" fill="#0c822b"/><path d="M412.9 147.9L418.2 146.3L413.8 143.6L408.4 145.4Z" fill="#0b7c2e"/><path d="M422.7 148.8L428 147.2L423.5 144.5L418.2 146.3Z" fill="#0b7531"/><path d="M432.5 149.8L437.8 148.1L433.2 145.3L428 147.2Z" fill="#0a6e34"/><path d="M442.3 150.8L447.6 149L443 146.1L437.8 148.1Z" fill="#0a6937"/><path d="M452.2 151.7L457.4 149.9L452.7 147L447.6 149Z" fill="#0a6638"/><path d="M378 146.2L383.5 145L379.2 142.6L373.7 144Z" fill="#0d9225"/><path d="M387.8 147.2L393.3 145.9L388.9 143.6L383.5 145Z" fill="#0d9026"/><path d="M397.6 148.2L403.1 146.9L398.7 144.5L393.3 145.9Z" fill="#0d8e27"/><path d="M407.5 149.2L412.9 147.9L408.4 145.4L403.1 146.9Z" fill="#0c8c27"/><path d="M417.3 150.3L422.7 148.8L418.2 146.3L412.9 147.9Z" fill="#0c8829"/><path d="M427.2 151.3L432.5 149.8L428 147.2L422.7 148.8Z" fill="#0b802c"/><path d="M437.1 152.3L442.3 150.8L437.8 148.1L432.5 149.8Z" fill="#0b7830"/><path d="M446.9 153.4L452.2 151.7L447.6 149L442.3 150.8Z" fill="#0a7033"/><path d="M382.3 148.2L387.8 147.2L383.5 145L378 146.2Z" fill="#0e9723"/><path d="M392.2 149.3L397.6 148.2L393.3 145.9L387.8 147.2Z" fill="#0e9524"/><path d="M402.1 150.4L407.5 149.2L403.1 146.9L397.6 148.2Z" fill="#0e9225"/><path d="M412 151.5L417.3 150.3L412.9 147.9L407.5 149.2Z" fill="#0d9026"/><path d="M421.8 152.6L427.2 151.3L422.7 148.8L417.3 150.3Z" fill="#0d8d27"/><path d="M431.8 153.7L437.1 152.3L432.5 149.8L427.2 151.3Z" fill="#0c8b28"/><path d="M441.7 154.8L446.9 153.4L442.3 150.8L437.1 152.3Z" fill="#0c842a"/><path d="M386.7 150.2L392.2 149.3L387.8 147.2L382.3 148.2Z" fill="#109d21"/><path d="M396.6 151.3L402.1 150.4L397.6 148.2L392.2 149.3Z" fill="#0f9a22"/><path d="M406.5 152.5L412 151.5L407.5 149.2L402.1 150.4Z" fill="#0e9823"/><path d="M416.5 153.6L421.8 152.6L417.3 150.3L412 151.5Z" fill="#0e9524"/><path d="M426.4 154.8L431.8 153.7L427.2 151.3L421.8 152.6Z" fill="#0d9225"/><path d="M436.4 155.9L441.7 154.8L437.1 152.3L431.8 153.7Z" fill="#0d8f26"/><path d="M391.1 152L396.6 151.3L392.2 149.3L386.7 150.2Z" fill="#11a41f"/><path d="M401 153.2L406.5 152.5L402.1 150.4L396.6 151.3Z" fill="#10a120"/><path d="M411 154.4L416.5 153.6L412 151.5L406.5 152.5Z" fill="#109e21"/><path d="M421 155.7L426.4 154.8L421.8 152.6L416.5 153.6Z" fill="#0f9a22"/><path d="M431 156.9L436.4 155.9L431.8 153.7L426.4 154.8Z" fill="#0e9723"/><path d="M395.5 153.8L401 153.2L396.6 151.3L391.1 152Z" fill="#12ac1e"/><path d="M405.5 155L411 154.4L406.5 152.5L401 153.2Z" fill="#11a81f"/><path d="M415.6 156.3L421 155.7L416.5 153.6L411 154.4Z" fill="#11a41f"/><path d="M425.6 157.6L431 156.9L426.4 154.8L421 155.7Z" fill="#10a120"/><path d="M400 155.4L405.5 155L401 153.2L395.5 153.8Z" fill="#13b41d"/><path d="M410.1 156.7L415.6 156.3L411 154.4L405.5 155Z" fill="#12b01e"/><path d="M420.2 158.1L425.6 157.6L421 155.7L415.6 156.3Z" fill="#12ac1e"/><path d="M404.5 156.9L410.1 156.7L405.5 155L400 155.4Z" fill="#14bd1c"/><path d="M414.7 158.3L420.2 158.1L415.6 156.3L410.1 156.7Z" fill="#14b91c"/><path d="M409.1 158.4L414.7 158.3L410.1 156.7L404.5 156.9Z" fill="#18c61b"/></g>
<text transform="translate(33.0 54.0) rotate(-30.0)" font-family="Liberation Sans, Arial, sans-serif" font-size="5.8" fill="#ff2030" text-anchor="middle" dy="0.35em" font-weight="bold">100</text>
<text transform="translate(35.2 68.3) rotate(-30.0)" font-family="Liberation Sans, Arial, sans-serif" font-size="5.8" fill="#ff2030" text-anchor="middle" dy="0.35em" font-weight="bold">80</text>
<text transform="translate(36.0 82.5) rotate(-30.0)" font-family="Liberation Sans, Arial, sans-serif" font-size="5.8" fill="#ff2030" text-anchor="middle" dy="0.35em" font-weight="bold">60</text>
<text transform="translate(36.9 96.9) rotate(-30.0)" font-family="Liberation Sans, Arial, sans-serif" font-size="5.8" fill="#ff2030" text-anchor="middle" dy="0.35em" font-weight="bold">40</text>
<text transform="translate(37.5 110.8) rotate(-30.0)" font-family="Liberation Sans, Arial, sans-serif" font-size="5.8" fill="#ff2030" text-anchor="middle" dy="0.35em" font-weight="bold">20</text>
<text transform="translate(39.7 123.9) rotate(-30.0)" font-family="Liberation Sans, Arial, sans-serif" font-size="5.8" fill="#ff2030" text-anchor="middle" dy="0.35em" font-weight="bold">0</text>
<text transform="translate(37.5 138.4) rotate(-30.0)" font-family="Liberation Sans, Arial, sans-serif" font-size="5.8" fill="#ff2030" text-anchor="middle" dy="0.35em" font-weight="bold">-20</text>
<text transform="translate(37.9 151.7) rotate(-30.0)" font-family="Liberation Sans, Arial, sans-serif" font-size="5.8" fill="#ff2030" text-anchor="middle" dy="0.35em" font-weight="bold">-40</text>
<text transform="translate(40.6 164.9) rotate(37.0)" font-family="Liberation Sans, Arial, sans-serif" font-size="5.8" fill="#3030ff" text-anchor="middle" dy="0.35em" font-weight="bold">12</text>
<text transform="translate(52.6 174.8) rotate(37.0)" font-family="Liberation Sans, Arial, sans-serif" font-size="5.8" fill="#3030ff" text-anchor="middle" dy="0.35em" font-weight="bold">10</text>
<text transform="translate(65.0 184.5) rotate(37.0)" font-family="Liberation Sans, Arial, sans-serif" font-size="5.8" fill="#3030ff" text-anchor="middle" dy="0.35em" font-weight="bold">8</text>
<text transform="translate(78.0 194.4) rotate(37.0)" font-family="Liberation Sans, Arial, sans-serif" font-size="5.8" fill="#3030ff" text-anchor="middle" dy="0.35em" font-weight="bold">6</text>
<text transform="translate(92.0 204.6) rotate(37.0)" font-family="Liberation Sans, Arial, sans-serif" font-size="5.8" fill="#3030ff" text-anchor="middle" dy="0.35em" font-weight="bold">4</text>
<text transform="translate(105.7 215.2) rotate(37.0)" font-family="Liberation Sans, Arial, sans-serif" font-size="5.8" fill="#3030ff" text-anchor="middle" dy="0.35em" font-weight="bold">2</text>
<text transform="translate(119.5 226.0) rotate(37.0)" font-family="Liberation Sans, Arial, sans-serif" font-size="5.8" fill="#3030ff" text-anchor="middle" dy="0.35em" font-weight="bold">0</text>
<text transform="translate(133.2 226.8) rotate(-27.0)" font-family="Liberation Sans, Arial, sans-serif" font-size="5.8" fill="#3030ff" text-anchor="middle" dy="0.35em" font-weight="bold">0</text>
<text transform="translate(148.5 219.0) rotate(-27.0)" font-family="Liberation Sans, Arial, sans-serif" font-size="5.8" fill="#3030ff" text-anchor="middle" dy="0.35em" font-weight="bold">5</text>
<text transform="translate(162.7 211.3) rotate(-27.0)" font-family="Liberation Sans, Arial, sans-serif" font-size="5.8" fill="#3030ff" text-anchor="middle" dy="0.35em" font-weight="bold">10</text>
<text transform="translate(175.8 203.6) rotate(-27.0)" font-family="Liberation Sans, Arial, sans-serif" font-size="5.8" fill="#3030ff" text-anchor="middle" dy="0.35em" font-weight="bold">15</text>
<text transform="translate(190.0 196.0) rotate(-27.0)" font-family="Liberation Sans, Arial, sans-serif" font-size="5.8" fill="#3030ff" text-anchor="middle" dy="0.35em" font-weight="bold">20</text>
<text transform="translate(205.3 189.5) rotate(-27.0)" font-family="Liberation Sans, Arial, sans-serif" font-size="5.8" fill="#3030ff" text-anchor="middle" dy="0.35em" font-weight="bold">25</text>
<text transform="translate(218.4 181.8) rotate(-27.0)" font-family="Liberation Sans, Arial, sans-serif" font-size="5.8" fill="#3030ff" text-anchor="middle" dy="0.35em" font-weight="bold">30</text>
<text transform="translate(231.5 175.3) rotate(-27.0)" font-family="Liberation Sans, Arial, sans-serif" font-size="5.8" fill="#3030ff" text-anchor="middle" dy="0.35em" font-weight="bold">35</text>
<text transform="translate(20.4 117.6) rotate(90.0)" font-family="Liberation Sans, Arial, sans-serif" font-size="8.6" fill="#2030ff" text-anchor="middle" dy="0.35em" font-weight="bold">R (%)</text>
<text transform="translate(64.2 201.0) rotate(37.0)" font-family="Liberation Sans, Arial, sans-serif" font-size="7.5" fill="#ff2020" text-anchor="middle" dy="0.35em" font-weight="bold">pH</text>
<text transform="translate(191.0 210.8) rotate(-26.6)" font-family="Liberation Sans, Arial, sans-serif" font-size="7.4" fill="#ff2020" text-anchor="middle" dy="0.35em" font-weight="bold">Pb(II) concentration (mg/L)</text>
<text transform="translate(315.7 56.0) rotate(-30.0)" font-family="Liberation Sans, Arial, sans-serif" font-size="5.8" fill="#ff2030" text-anchor="middle" dy="0.35em" font-weight="bold">140</text>
<text transform="translate(317.1 72.3) rotate(-30.0)" font-family="Liberation Sans, Arial, sans-serif" font-size="5.8" fill="#ff2030" text-anchor="middle" dy="0.35em" font-weight="bold">120</text>
<text transform="translate(318.0 88.9) rotate(-30.0)" font-family="Liberation Sans, Arial, sans-serif" font-size="5.8" fill="#ff2030" text-anchor="middle" dy="0.35em" font-weight="bold">100</text>
<text transform="translate(320.4 104.7) rotate(-30.0)" font-family="Liberation Sans, Arial, sans-serif" font-size="5.8" fill="#ff2030" text-anchor="middle" dy="0.35em" font-weight="bold">80</text>
<text transform="translate(321.0 120.9) rotate(-30.0)" font-family="Liberation Sans, Arial, sans-serif" font-size="5.8" fill="#ff2030" text-anchor="middle" dy="0.35em" font-weight="bold">60</text>
<text transform="translate(322.0 136.2) rotate(-30.0)" font-family="Liberation Sans, Arial, sans-serif" font-size="5.8" fill="#ff2030" text-anchor="middle" dy="0.35em" font-weight="bold">40</text>
<text transform="translate(323.0 151.2) rotate(-30.0)" font-family="Liberation Sans, Arial, sans-serif" font-size="5.8" fill="#ff2030" text-anchor="middle" dy="0.35em" font-weight="bold">20</text>
<text transform="translate(323.1 167.0) rotate(37.0)" font-family="Liberation Sans, Arial, sans-serif" font-size="5.8" fill="#3030ff" text-anchor="middle" dy="0.35em" font-weight="bold">20</text>
<text transform="translate(330.7 172.5) rotate(37.0)" font-family="Liberation Sans, Arial, sans-serif" font-size="5.8" fill="#3030ff" text-anchor="middle" dy="0.35em" font-weight="bold">18</text>
<text transform="translate(338.4 178.0) rotate(37.0)" font-family="Liberation Sans, Arial, sans-serif" font-size="5.8" fill="#3030ff" text-anchor="middle" dy="0.35em" font-weight="bold">16</text>
<text transform="translate(346.2 184.3) rotate(37.0)" font-family="Liberation Sans, Arial, sans-serif" font-size="5.8" fill="#3030ff" text-anchor="middle" dy="0.35em" font-weight="bold">14</text>
<text transform="translate(354.3 190.0) rotate(37.0)" font-family="Liberation Sans, Arial, sans-serif" font-size="5.8" fill="#3030ff" text-anchor="middle" dy="0.35em" font-weight="bold">12</text>
<text transform="translate(361.5 196.0) rotate(37.0)" font-family="Liberation Sans, Arial, sans-serif" font-size="5.8" fill="#3030ff" text-anchor="middle" dy="0.35em" font-weight="bold">10</text>
<text transform="translate(370.4 202.0) rotate(37.0)" font-family="Liberation Sans, Arial, sans-serif" font-size="5.8" fill="#3030ff" text-anchor="middle" dy="0.35em" font-weight="bold">8</text>
<text transform="translate(378.7 208.3) rotate(37.0)" font-family="Liberation Sans, Arial, sans-serif" font-size="5.8" fill="#3030ff" text-anchor="middle" dy="0.35em" font-weight="bold">6</text>
<text transform="translate(387.0 214.4) rotate(37.0)" font-family="Liberation Sans, Arial, sans-serif" font-size="5.8" fill="#3030ff" text-anchor="middle" dy="0.35em" font-weight="bold">4</text>
<text transform="translate(395.0 221.0) rotate(37.0)" font-family="Liberation Sans, Arial, sans-serif" font-size="5.8" fill="#3030ff" text-anchor="middle" dy="0.35em" font-weight="bold">2</text>
<text transform="translate(403.7 228.0) rotate(37.0)" font-family="Liberation Sans, Arial, sans-serif" font-size="5.8" fill="#3030ff" text-anchor="middle" dy="0.35em" font-weight="bold">0</text>
<text transform="translate(414.4 229.4) rotate(-27.0)" font-family="Liberation Sans, Arial, sans-serif" font-size="5.8" fill="#3030ff" text-anchor="middle" dy="0.35em" font-weight="bold">0</text>
<text transform="translate(429.6 222.2) rotate(-27.0)" font-family="Liberation Sans, Arial, sans-serif" font-size="5.8" fill="#3030ff" text-anchor="middle" dy="0.35em" font-weight="bold">5</text>
<text transform="translate(442.7 213.5) rotate(-27.0)" font-family="Liberation Sans, Arial, sans-serif" font-size="5.8" fill="#3030ff" text-anchor="middle" dy="0.35em" font-weight="bold">10</text>
<text transform="translate(456.9 206.3) rotate(-27.0)" font-family="Liberation Sans, Arial, sans-serif" font-size="5.8" fill="#3030ff" text-anchor="middle" dy="0.35em" font-weight="bold">15</text>
<text transform="translate(471.1 199.3) rotate(-27.0)" font-family="Liberation Sans, Arial, sans-serif" font-size="5.8" fill="#3030ff" text-anchor="middle" dy="0.35em" font-weight="bold">20</text>
<text transform="translate(485.3 191.6) rotate(-27.0)" font-family="Liberation Sans, Arial, sans-serif" font-size="5.8" fill="#3030ff" text-anchor="middle" dy="0.35em" font-weight="bold">25</text>
<text transform="translate(497.3 185.1) rotate(-27.0)" font-family="Liberation Sans, Arial, sans-serif" font-size="5.8" fill="#3030ff" text-anchor="middle" dy="0.35em" font-weight="bold">30</text>
<text transform="translate(511.5 177.5) rotate(-27.0)" font-family="Liberation Sans, Arial, sans-serif" font-size="5.8" fill="#3030ff" text-anchor="middle" dy="0.35em" font-weight="bold">35</text>
<text transform="translate(303.6 119.3) rotate(90.0)" font-family="Liberation Sans, Arial, sans-serif" font-size="8.6" fill="#2030ff" text-anchor="middle" dy="0.35em" font-weight="bold">R (%)</text>
<text transform="translate(347.2 203.2) rotate(37.8)" font-family="Liberation Sans, Arial, sans-serif" font-size="7.4" fill="#ff2020" text-anchor="middle" dy="0.35em" font-weight="bold">Adsorbent dose (g)</text>
<text transform="translate(471.6 212.9) rotate(-26.9)" font-family="Liberation Sans, Arial, sans-serif" font-size="7.4" fill="#ff2020" text-anchor="middle" dy="0.35em" font-weight="bold">Pb(II) concentration (mg/L)</text>
<rect x="232.0" y="59.1" width="11.8" height="6.6" fill="#800000" stroke="#555" stroke-width="0.5"/>
<text x="246.5" y="65.1" font-size="7.6" fill="#505050" font-family="Liberation Sans, Arial, sans-serif">&gt; 80</text>
<rect x="232.0" y="68.0" width="11.8" height="6.6" fill="#b00000" stroke="#555" stroke-width="0.5"/>
<text x="246.5" y="74.0" font-size="7.6" fill="#505050" font-family="Liberation Sans, Arial, sans-serif">&lt; 80</text>
<rect x="232.0" y="76.9" width="11.8" height="6.6" fill="#ff0000" stroke="#555" stroke-width="0.5"/>
<text x="246.5" y="82.9" font-size="7.6" fill="#505050" font-family="Liberation Sans, Arial, sans-serif">&lt; 60</text>
<rect x="232.0" y="85.8" width="11.8" height="6.6" fill="#ffcc00" stroke="#555" stroke-width="0.5"/>
<text x="246.5" y="91.8" font-size="7.6" fill="#505050" font-family="Liberation Sans, Arial, sans-serif">&lt; 40</text>
<rect x="232.0" y="94.7" width="11.8" height="6.6" fill="#80ff00" stroke="#555" stroke-width="0.5"/>
<text x="246.5" y="100.7" font-size="7.6" fill="#505050" font-family="Liberation Sans, Arial, sans-serif">&lt; 20</text>
<rect x="232.0" y="103.6" width="11.8" height="6.6" fill="#00c000" stroke="#555" stroke-width="0.5"/>
<text x="246.5" y="109.6" font-size="7.6" fill="#505050" font-family="Liberation Sans, Arial, sans-serif">&lt; 0</text>
<rect x="232.0" y="112.5" width="11.8" height="6.6" fill="#006040" stroke="#555" stroke-width="0.5"/>
<text x="246.5" y="118.5" font-size="7.6" fill="#505050" font-family="Liberation Sans, Arial, sans-serif">&lt; -20</text>
<rect x="512.7" y="61.2" width="11.9" height="6.9" fill="#800000" stroke="#555" stroke-width="0.5"/>
<text x="527.4" y="67.5" font-size="7.6" fill="#505050" font-family="Liberation Sans, Arial, sans-serif">&gt; 120</text>
<rect x="512.7" y="70.7" width="11.9" height="6.9" fill="#ff8000" stroke="#555" stroke-width="0.5"/>
<text x="527.4" y="77.0" font-size="7.6" fill="#505050" font-family="Liberation Sans, Arial, sans-serif">&lt; 104</text>
<rect x="512.7" y="80.1" width="11.9" height="6.9" fill="#00ff00" stroke="#555" stroke-width="0.5"/>
<text x="527.4" y="86.4" font-size="7.6" fill="#505050" font-family="Liberation Sans, Arial, sans-serif">&lt; 84</text>
<rect x="512.7" y="89.5" width="11.9" height="6.9" fill="#006040" stroke="#555" stroke-width="0.5"/>
<text x="527.4" y="95.9" font-size="7.6" fill="#505050" font-family="Liberation Sans, Arial, sans-serif">&lt; 64</text>
<g stroke="#333" stroke-width="0.5" stroke-linejoin="round"><path d="M415.00 350.00L415.00 281.00A69 69 0 0 1 419.33 281.14Z" fill="#0a7a14"/><path d="M415.00 350.00L419.33 281.14A69 69 0 0 1 453.68 292.86Z" fill="#000000"/><path d="M415.00 350.00L453.68 292.86A69 69 0 0 1 463.02 300.45Z" fill="#c8c000"/><path d="M415.00 350.00L463.02 300.45A69 69 0 0 1 469.22 307.33Z" fill="#ff99cc"/><path d="M415.00 350.00L469.22 307.33A69 69 0 0 1 480.40 327.99Z" fill="#993300"/><path d="M415.00 350.00L480.40 327.99A69 69 0 0 1 478.33 377.40Z" fill="#ffff00"/><path d="M415.00 350.00L478.33 377.40A69 69 0 0 1 471.59 389.48Z" fill="#33ffff"/><path d="M415.00 350.00L471.59 389.48A69 69 0 0 1 466.20 396.26Z" fill="#00ff00"/><path d="M415.00 350.00L466.20 396.26A69 69 0 0 1 418.37 418.92Z" fill="#0000ff"/><path d="M415.00 350.00L418.37 418.92A69 69 0 0 1 347.48 335.77Z" fill="#ff00ff"/><path d="M415.00 350.00L347.48 335.77A69 69 0 0 1 415.00 281.00Z" fill="#ff0000"/></g>
<g font-family="Liberation Sans, Arial, sans-serif" font-weight="bold" font-size="8" text-anchor="middle"><text x="417.0" y="270.8" fill="#118811">1%</text><text x="441.4" y="275.8" fill="#111111">8%</text><text x="466.6" y="289.3" fill="#c8c000">2%</text><text x="475.2" y="297.2" fill="#ff99cc">2%</text><text x="486.8" y="313.6" fill="#a04a1a">6%</text><text x="497.8" y="357.0" fill="#ffe000">12%</text><text x="487.5" y="394.3" fill="#33ddff">3%</text><text x="480.1" y="404.9" fill="#22dd22">2%</text><text x="450.3" y="430.2" fill="#1a2acc">12%</text><text x="351.6" y="408.4" fill="#ff00ff">30%</text><text x="362.2" y="289.0" fill="#ee1111">21%</text></g>
<g font-family="Liberation Sans, Arial, sans-serif" font-weight="bold" font-size="7.4" fill="#111"><rect x="179.5" y="285.5" width="162.5" height="122" fill="none" stroke="#e6e6e6" stroke-width="0.8"/><rect x="183" y="288.4" width="15" height="7.8" fill="#ff0000" stroke="#666" stroke-width="0.4"/><text x="200" y="295.0">Adsorbent dose</text><rect x="183" y="299.0" width="15" height="7.8" fill="#ff00ff" stroke="#666" stroke-width="0.4"/><text x="200" y="305.6">Pb (II) concentration</text><rect x="183" y="309.6" width="15" height="7.8" fill="#0000ff" stroke="#666" stroke-width="0.4"/><text x="200" y="316.2">pH</text><rect x="183" y="320.3" width="15" height="7.8" fill="#00ff00" stroke="#666" stroke-width="0.4"/><text x="200" y="326.9">Temperature</text><rect x="183" y="330.9" width="15" height="7.8" fill="#33ffff" stroke="#666" stroke-width="0.4"/><text x="200" y="337.5">Sonication time</text><rect x="183" y="341.5" width="15" height="7.8" fill="#ffff00" stroke="#666" stroke-width="0.4"/><text x="200" y="348.1">Adsorbent dose/Pb (II) concentration</text><rect x="183" y="352.1" width="15" height="7.8" fill="#993300" stroke="#666" stroke-width="0.4"/><text x="200" y="358.7">Pb (II) concentration/pH</text><rect x="183" y="362.7" width="15" height="7.8" fill="#ff99cc" stroke="#666" stroke-width="0.4"/><text x="200" y="369.3">Pb (II) concentration/Temperature</text><rect x="183" y="373.4" width="15" height="7.8" fill="#c8c000" stroke="#666" stroke-width="0.4"/><text x="200" y="380.0">Pb (II) concentration/Sonication time</text><rect x="183" y="384.7" width="15" height="7.8" fill="#000000" stroke="#666" stroke-width="0.4"/><text x="200" y="391.3">pH<tspan font-size="5.5" dy="-3">2</tspan></text><rect x="183" y="396.7" width="15" height="7.8" fill="#0a7a14" stroke="#666" stroke-width="0.4"/><text x="200" y="403.3">Residual</text></g>
<g font-family="Liberation Serif, Times New Roman, serif" font-weight="bold" font-size="20" fill="#000"><text x="4.8" y="19.4">A)</text><text transform="translate(249.6 18.6) scale(0.9 1)" font-size="18.5">B)</text><text x="88.4" y="290.5" font-size="18.5">C)</text></g>
</svg></body></html>
